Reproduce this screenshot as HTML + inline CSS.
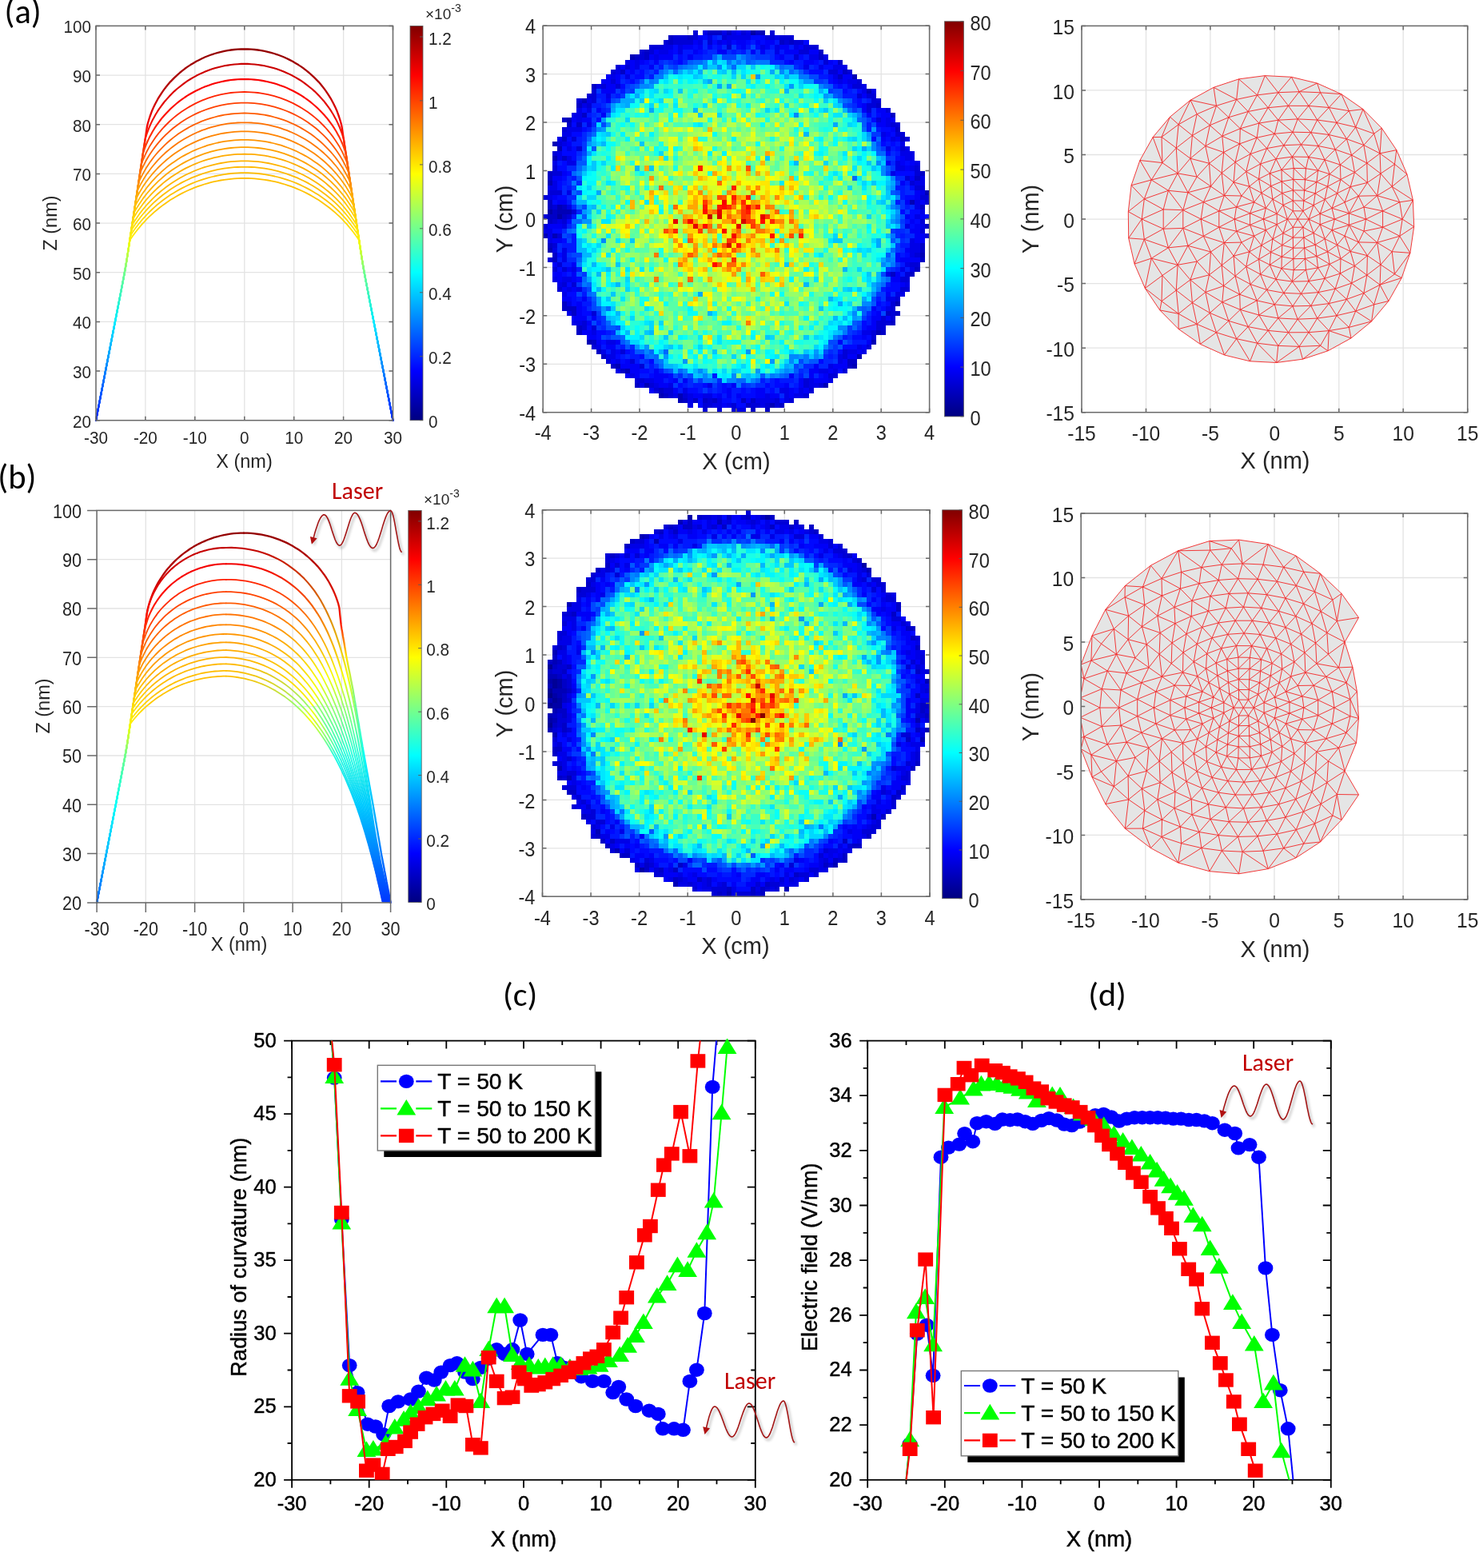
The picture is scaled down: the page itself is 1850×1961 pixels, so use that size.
<!DOCTYPE html>
<html><head><meta charset="utf-8"><title>Figure</title>
<style>html,body{margin:0;padding:0;background:#fff;}svg{display:block;}</style></head>
<body><svg width="1850" height="1961" viewBox="0 0 1850 1961">
<defs><linearGradient id="ga0L" gradientUnits="userSpaceOnUse" x1="0" y1="525.7" x2="0" y2="61.4"><stop offset="0.0000" stop-color="#0026ff"/><stop offset="0.1328" stop-color="#0081ff"/><stop offset="0.2656" stop-color="#00ecff"/><stop offset="0.3984" stop-color="#71ff8e"/><stop offset="0.4714" stop-color="#e5ff1a"/><stop offset="0.7928" stop-color="#f70000"/><stop offset="0.8964" stop-color="#b40000"/><stop offset="1.0000" stop-color="#930000"/></linearGradient><linearGradient id="ga1L" gradientUnits="userSpaceOnUse" x1="0" y1="525.7" x2="0" y2="79.9"><stop offset="0.0000" stop-color="#0026ff"/><stop offset="0.1383" stop-color="#0081ff"/><stop offset="0.2766" stop-color="#00ecff"/><stop offset="0.4149" stop-color="#71ff8e"/><stop offset="0.4910" stop-color="#e5ff1a"/><stop offset="0.7890" stop-color="#ff1e00"/><stop offset="0.8945" stop-color="#e20000"/><stop offset="1.0000" stop-color="#c80000"/></linearGradient><linearGradient id="ga2L" gradientUnits="userSpaceOnUse" x1="0" y1="525.7" x2="0" y2="99"><stop offset="0.0000" stop-color="#0026ff"/><stop offset="0.1445" stop-color="#0081ff"/><stop offset="0.2890" stop-color="#00ecff"/><stop offset="0.4335" stop-color="#71ff8e"/><stop offset="0.5130" stop-color="#e5ff1a"/><stop offset="0.7847" stop-color="#ff4400"/><stop offset="0.8923" stop-color="#ff0f00"/><stop offset="1.0000" stop-color="#fa0000"/></linearGradient><linearGradient id="ga3L" gradientUnits="userSpaceOnUse" x1="0" y1="525.7" x2="0" y2="115"><stop offset="0.0000" stop-color="#0026ff"/><stop offset="0.1502" stop-color="#0081ff"/><stop offset="0.3003" stop-color="#00ecff"/><stop offset="0.4505" stop-color="#71ff8e"/><stop offset="0.5330" stop-color="#e5ff1a"/><stop offset="0.7807" stop-color="#ff6300"/><stop offset="0.8904" stop-color="#ff3200"/><stop offset="1.0000" stop-color="#ff2200"/></linearGradient><linearGradient id="ga4L" gradientUnits="userSpaceOnUse" x1="0" y1="525.7" x2="0" y2="128.6"><stop offset="0.0000" stop-color="#0026ff"/><stop offset="0.1553" stop-color="#0081ff"/><stop offset="0.3106" stop-color="#00ecff"/><stop offset="0.4658" stop-color="#71ff8e"/><stop offset="0.5512" stop-color="#e5ff1a"/><stop offset="0.7771" stop-color="#ff7b00"/><stop offset="0.8886" stop-color="#ff4d00"/><stop offset="1.0000" stop-color="#ff4000"/></linearGradient><linearGradient id="ga5L" gradientUnits="userSpaceOnUse" x1="0" y1="525.7" x2="0" y2="141.5"><stop offset="0.0000" stop-color="#0026ff"/><stop offset="0.1605" stop-color="#0081ff"/><stop offset="0.3210" stop-color="#00ecff"/><stop offset="0.4815" stop-color="#71ff8e"/><stop offset="0.5698" stop-color="#e5ff1a"/><stop offset="0.7735" stop-color="#ff9100"/><stop offset="0.8867" stop-color="#ff6500"/><stop offset="1.0000" stop-color="#ff5b00"/></linearGradient><linearGradient id="ga6L" gradientUnits="userSpaceOnUse" x1="0" y1="525.7" x2="0" y2="153.3"><stop offset="0.0000" stop-color="#0026ff"/><stop offset="0.1656" stop-color="#0081ff"/><stop offset="0.3311" stop-color="#00ecff"/><stop offset="0.4967" stop-color="#71ff8e"/><stop offset="0.5877" stop-color="#e5ff1a"/><stop offset="0.7700" stop-color="#ffa300"/><stop offset="0.8850" stop-color="#ff7900"/><stop offset="1.0000" stop-color="#ff7000"/></linearGradient><linearGradient id="ga7L" gradientUnits="userSpaceOnUse" x1="0" y1="525.7" x2="0" y2="164.4"><stop offset="0.0000" stop-color="#0026ff"/><stop offset="0.1706" stop-color="#0081ff"/><stop offset="0.3413" stop-color="#00ecff"/><stop offset="0.5119" stop-color="#71ff8e"/><stop offset="0.6058" stop-color="#e5ff1a"/><stop offset="0.7664" stop-color="#ffb400"/><stop offset="0.8832" stop-color="#ff8b00"/><stop offset="1.0000" stop-color="#ff8300"/></linearGradient><linearGradient id="ga8L" gradientUnits="userSpaceOnUse" x1="0" y1="525.7" x2="0" y2="174.8"><stop offset="0.0000" stop-color="#0026ff"/><stop offset="0.1757" stop-color="#0081ff"/><stop offset="0.3515" stop-color="#00ecff"/><stop offset="0.5272" stop-color="#71ff8e"/><stop offset="0.6239" stop-color="#e5ff1a"/><stop offset="0.7629" stop-color="#ffc200"/><stop offset="0.8814" stop-color="#ff9a00"/><stop offset="1.0000" stop-color="#ff9300"/></linearGradient><linearGradient id="ga9L" gradientUnits="userSpaceOnUse" x1="0" y1="525.7" x2="0" y2="184.1"><stop offset="0.0000" stop-color="#0026ff"/><stop offset="0.1805" stop-color="#0081ff"/><stop offset="0.3610" stop-color="#00ecff"/><stop offset="0.5415" stop-color="#71ff8e"/><stop offset="0.6408" stop-color="#e5ff1a"/><stop offset="0.7595" stop-color="#ffce00"/><stop offset="0.8798" stop-color="#ffa600"/><stop offset="1.0000" stop-color="#ff9f00"/></linearGradient><linearGradient id="ga10L" gradientUnits="userSpaceOnUse" x1="0" y1="525.7" x2="0" y2="192.7"><stop offset="0.0000" stop-color="#0026ff"/><stop offset="0.1852" stop-color="#0081ff"/><stop offset="0.3704" stop-color="#00ecff"/><stop offset="0.5556" stop-color="#71ff8e"/><stop offset="0.6574" stop-color="#e5ff1a"/><stop offset="0.7563" stop-color="#ffd800"/><stop offset="0.8781" stop-color="#ffb000"/><stop offset="1.0000" stop-color="#ffaa00"/></linearGradient><linearGradient id="ga11L" gradientUnits="userSpaceOnUse" x1="0" y1="525.7" x2="0" y2="201.4"><stop offset="0.0000" stop-color="#0026ff"/><stop offset="0.1901" stop-color="#0081ff"/><stop offset="0.3802" stop-color="#00ecff"/><stop offset="0.5703" stop-color="#71ff8e"/><stop offset="0.6749" stop-color="#e5ff1a"/><stop offset="0.7528" stop-color="#ffe100"/><stop offset="0.8764" stop-color="#ffb900"/><stop offset="1.0000" stop-color="#ffb200"/></linearGradient><linearGradient id="ga12L" gradientUnits="userSpaceOnUse" x1="0" y1="525.7" x2="0" y2="208.8"><stop offset="0.0000" stop-color="#0026ff"/><stop offset="0.1946" stop-color="#0081ff"/><stop offset="0.3891" stop-color="#00ecff"/><stop offset="0.5837" stop-color="#71ff8e"/><stop offset="0.6907" stop-color="#e5ff1a"/><stop offset="0.7497" stop-color="#ffe700"/><stop offset="0.8749" stop-color="#ffbf00"/><stop offset="1.0000" stop-color="#ffb800"/></linearGradient><linearGradient id="ga13L" gradientUnits="userSpaceOnUse" x1="0" y1="525.7" x2="0" y2="216.2"><stop offset="0.0000" stop-color="#0026ff"/><stop offset="0.1992" stop-color="#0081ff"/><stop offset="0.3984" stop-color="#00ecff"/><stop offset="0.5976" stop-color="#71ff8e"/><stop offset="0.7072" stop-color="#e5ff1a"/><stop offset="0.7465" stop-color="#ffed00"/><stop offset="0.8732" stop-color="#ffc400"/><stop offset="1.0000" stop-color="#ffbc00"/></linearGradient><linearGradient id="ga14L" gradientUnits="userSpaceOnUse" x1="0" y1="525.7" x2="0" y2="222.9"><stop offset="0.0000" stop-color="#0026ff"/><stop offset="0.2037" stop-color="#0081ff"/><stop offset="0.4073" stop-color="#00ecff"/><stop offset="0.6110" stop-color="#71ff8e"/><stop offset="0.7230" stop-color="#e5ff1a"/><stop offset="0.7434" stop-color="#fff000"/><stop offset="0.8717" stop-color="#ffc600"/><stop offset="1.0000" stop-color="#ffbe00"/></linearGradient><linearGradient id="cbA" x1="0" y1="1" x2="0" y2="0"><stop offset="0%" stop-color="#000080"/><stop offset="12.5%" stop-color="#0000ff"/><stop offset="25%" stop-color="#0080ff"/><stop offset="37.5%" stop-color="#00ffff"/><stop offset="50%" stop-color="#80ff80"/><stop offset="62.5%" stop-color="#ffff00"/><stop offset="75%" stop-color="#ff8000"/><stop offset="87.5%" stop-color="#ff0000"/><stop offset="100%" stop-color="#800000"/></linearGradient><linearGradient id="gb0L" gradientUnits="userSpaceOnUse" x1="0" y1="1128.9" x2="0" y2="666.6"><stop offset="0.0000" stop-color="#0068ff"/><stop offset="0.1326" stop-color="#00bbff"/><stop offset="0.2653" stop-color="#06fff9"/><stop offset="0.3979" stop-color="#71ff8e"/><stop offset="0.4708" stop-color="#e5ff1a"/><stop offset="0.7918" stop-color="#f70000"/><stop offset="0.8959" stop-color="#b40000"/><stop offset="1.0000" stop-color="#930000"/></linearGradient><linearGradient id="gb0R" gradientUnits="userSpaceOnUse" x1="0" y1="1128.9" x2="0" y2="666.6"><stop offset="0.0000" stop-color="#0036ff"/><stop offset="0.1326" stop-color="#0078ff"/><stop offset="0.2653" stop-color="#00bbff"/><stop offset="0.3979" stop-color="#00fdff"/><stop offset="0.5305" stop-color="#61ff9e"/><stop offset="0.6631" stop-color="#ffe700"/><stop offset="0.7560" stop-color="#ff1900"/><stop offset="1.0000" stop-color="#930000"/></linearGradient><linearGradient id="gb1L" gradientUnits="userSpaceOnUse" x1="0" y1="1128.9" x2="0" y2="685"><stop offset="0.0000" stop-color="#0068ff"/><stop offset="0.1381" stop-color="#00bbff"/><stop offset="0.2762" stop-color="#06fff9"/><stop offset="0.4144" stop-color="#71ff8e"/><stop offset="0.4903" stop-color="#e5ff1a"/><stop offset="0.7917" stop-color="#ff1a00"/><stop offset="0.8958" stop-color="#de0000"/><stop offset="1.0000" stop-color="#c30000"/></linearGradient><linearGradient id="gb1R" gradientUnits="userSpaceOnUse" x1="0" y1="1128.9" x2="0" y2="685"><stop offset="0.0000" stop-color="#0036ff"/><stop offset="0.1381" stop-color="#0081ff"/><stop offset="0.2762" stop-color="#00cbff"/><stop offset="0.4144" stop-color="#1fffe0"/><stop offset="0.5525" stop-color="#93ff6c"/><stop offset="0.6354" stop-color="#f6ff09"/><stop offset="1.0000" stop-color="#c30000"/></linearGradient><linearGradient id="gb2L" gradientUnits="userSpaceOnUse" x1="0" y1="1128.9" x2="0" y2="705.2"><stop offset="0.0000" stop-color="#0068ff"/><stop offset="0.1447" stop-color="#00bbff"/><stop offset="0.2894" stop-color="#06fff9"/><stop offset="0.4342" stop-color="#71ff8e"/><stop offset="0.5137" stop-color="#e5ff1a"/><stop offset="0.7915" stop-color="#ff3f00"/><stop offset="0.8958" stop-color="#ff0900"/><stop offset="1.0000" stop-color="#f30000"/></linearGradient><linearGradient id="gb2R" gradientUnits="userSpaceOnUse" x1="0" y1="1128.9" x2="0" y2="705.2"><stop offset="0.0000" stop-color="#0036ff"/><stop offset="0.1447" stop-color="#0081ff"/><stop offset="0.2894" stop-color="#00cbff"/><stop offset="0.4342" stop-color="#1fffe0"/><stop offset="0.5789" stop-color="#93ff6c"/><stop offset="0.6657" stop-color="#f6ff09"/><stop offset="1.0000" stop-color="#f30000"/></linearGradient><linearGradient id="gb3L" gradientUnits="userSpaceOnUse" x1="0" y1="1128.9" x2="0" y2="724.9"><stop offset="0.0000" stop-color="#0068ff"/><stop offset="0.1517" stop-color="#00bbff"/><stop offset="0.3035" stop-color="#06fff9"/><stop offset="0.4552" stop-color="#71ff8e"/><stop offset="0.5387" stop-color="#e5ff1a"/><stop offset="0.7914" stop-color="#ff6100"/><stop offset="0.8957" stop-color="#ff2f00"/><stop offset="1.0000" stop-color="#ff1f00"/></linearGradient><linearGradient id="gb3R" gradientUnits="userSpaceOnUse" x1="0" y1="1128.9" x2="0" y2="724.9"><stop offset="0.0000" stop-color="#0036ff"/><stop offset="0.1517" stop-color="#0081ff"/><stop offset="0.3035" stop-color="#00cbff"/><stop offset="0.4552" stop-color="#1fffe0"/><stop offset="0.6070" stop-color="#93ff6c"/><stop offset="0.6980" stop-color="#f6ff09"/><stop offset="1.0000" stop-color="#ff1f00"/></linearGradient><linearGradient id="gb4L" gradientUnits="userSpaceOnUse" x1="0" y1="1128.9" x2="0" y2="740.2"><stop offset="0.0000" stop-color="#0068ff"/><stop offset="0.1577" stop-color="#00bbff"/><stop offset="0.3155" stop-color="#06fff9"/><stop offset="0.4732" stop-color="#71ff8e"/><stop offset="0.5599" stop-color="#e5ff1a"/><stop offset="0.7913" stop-color="#ff7900"/><stop offset="0.8956" stop-color="#ff4b00"/><stop offset="1.0000" stop-color="#ff3e00"/></linearGradient><linearGradient id="gb4R" gradientUnits="userSpaceOnUse" x1="0" y1="1128.9" x2="0" y2="740.2"><stop offset="0.0000" stop-color="#0036ff"/><stop offset="0.1577" stop-color="#0081ff"/><stop offset="0.3155" stop-color="#00cbff"/><stop offset="0.4732" stop-color="#1fffe0"/><stop offset="0.6309" stop-color="#93ff6c"/><stop offset="0.7256" stop-color="#f6ff09"/><stop offset="1.0000" stop-color="#ff3e00"/></linearGradient><linearGradient id="gb5L" gradientUnits="userSpaceOnUse" x1="0" y1="1128.9" x2="0" y2="754.3"><stop offset="0.0000" stop-color="#0068ff"/><stop offset="0.1637" stop-color="#00bbff"/><stop offset="0.3273" stop-color="#06fff9"/><stop offset="0.4910" stop-color="#71ff8e"/><stop offset="0.5810" stop-color="#e5ff1a"/><stop offset="0.7911" stop-color="#ff8f00"/><stop offset="0.8956" stop-color="#ff6300"/><stop offset="1.0000" stop-color="#ff5800"/></linearGradient><linearGradient id="gb5R" gradientUnits="userSpaceOnUse" x1="0" y1="1128.9" x2="0" y2="754.3"><stop offset="0.0000" stop-color="#0036ff"/><stop offset="0.1637" stop-color="#0081ff"/><stop offset="0.3273" stop-color="#00cbff"/><stop offset="0.4910" stop-color="#1fffe0"/><stop offset="0.6547" stop-color="#93ff6c"/><stop offset="0.7529" stop-color="#f6ff09"/><stop offset="1.0000" stop-color="#ff5800"/></linearGradient><linearGradient id="gb6L" gradientUnits="userSpaceOnUse" x1="0" y1="1128.9" x2="0" y2="768.4"><stop offset="0.0000" stop-color="#0068ff"/><stop offset="0.1701" stop-color="#00bbff"/><stop offset="0.3401" stop-color="#06fff9"/><stop offset="0.5102" stop-color="#71ff8e"/><stop offset="0.6037" stop-color="#e5ff1a"/><stop offset="0.7910" stop-color="#ffa300"/><stop offset="0.8955" stop-color="#ff7900"/><stop offset="1.0000" stop-color="#ff7000"/></linearGradient><linearGradient id="gb6R" gradientUnits="userSpaceOnUse" x1="0" y1="1128.9" x2="0" y2="768.4"><stop offset="0.0000" stop-color="#0036ff"/><stop offset="0.1701" stop-color="#0081ff"/><stop offset="0.3401" stop-color="#00cbff"/><stop offset="0.5102" stop-color="#1fffe0"/><stop offset="0.6803" stop-color="#93ff6c"/><stop offset="0.7823" stop-color="#f6ff09"/><stop offset="1.0000" stop-color="#ff7000"/></linearGradient><linearGradient id="gb7L" gradientUnits="userSpaceOnUse" x1="0" y1="1128.9" x2="0" y2="781.3"><stop offset="0.0000" stop-color="#0068ff"/><stop offset="0.1764" stop-color="#00bbff"/><stop offset="0.3527" stop-color="#06fff9"/><stop offset="0.5291" stop-color="#71ff8e"/><stop offset="0.6261" stop-color="#e5ff1a"/><stop offset="0.7909" stop-color="#ffb400"/><stop offset="0.8954" stop-color="#ff8c00"/><stop offset="1.0000" stop-color="#ff8400"/></linearGradient><linearGradient id="gb7R" gradientUnits="userSpaceOnUse" x1="0" y1="1128.9" x2="0" y2="781.3"><stop offset="0.0000" stop-color="#0036ff"/><stop offset="0.1764" stop-color="#0081ff"/><stop offset="0.3527" stop-color="#00cbff"/><stop offset="0.5291" stop-color="#1fffe0"/><stop offset="0.7055" stop-color="#93ff6c"/><stop offset="0.7956" stop-color="#f6ff09"/><stop offset="1.0000" stop-color="#ff8400"/></linearGradient><linearGradient id="gb8L" gradientUnits="userSpaceOnUse" x1="0" y1="1128.9" x2="0" y2="792.9"><stop offset="0.0000" stop-color="#0068ff"/><stop offset="0.1825" stop-color="#00bbff"/><stop offset="0.3650" stop-color="#06fff9"/><stop offset="0.5474" stop-color="#71ff8e"/><stop offset="0.6478" stop-color="#e5ff1a"/><stop offset="0.7907" stop-color="#ffc300"/><stop offset="0.8954" stop-color="#ff9b00"/><stop offset="1.0000" stop-color="#ff9400"/></linearGradient><linearGradient id="gb8R" gradientUnits="userSpaceOnUse" x1="0" y1="1128.9" x2="0" y2="792.9"><stop offset="0.0000" stop-color="#0036ff"/><stop offset="0.1825" stop-color="#0081ff"/><stop offset="0.3650" stop-color="#00cbff"/><stop offset="0.5474" stop-color="#1fffe0"/><stop offset="0.7299" stop-color="#93ff6c"/><stop offset="0.7974" stop-color="#f6ff09"/><stop offset="1.0000" stop-color="#ff9400"/></linearGradient><linearGradient id="gb9L" gradientUnits="userSpaceOnUse" x1="0" y1="1128.9" x2="0" y2="803.3"><stop offset="0.0000" stop-color="#0068ff"/><stop offset="0.1883" stop-color="#00bbff"/><stop offset="0.3766" stop-color="#06fff9"/><stop offset="0.5650" stop-color="#71ff8e"/><stop offset="0.6685" stop-color="#e5ff1a"/><stop offset="0.7906" stop-color="#ffcf00"/><stop offset="0.8953" stop-color="#ffa700"/><stop offset="1.0000" stop-color="#ffa000"/></linearGradient><linearGradient id="gb9R" gradientUnits="userSpaceOnUse" x1="0" y1="1128.9" x2="0" y2="803.3"><stop offset="0.0000" stop-color="#0036ff"/><stop offset="0.1883" stop-color="#0081ff"/><stop offset="0.3766" stop-color="#00cbff"/><stop offset="0.5650" stop-color="#1fffe0"/><stop offset="0.7533" stop-color="#93ff6c"/><stop offset="0.7992" stop-color="#f6ff09"/><stop offset="1.0000" stop-color="#ffa000"/></linearGradient><linearGradient id="gb10L" gradientUnits="userSpaceOnUse" x1="0" y1="1128.9" x2="0" y2="813.1"><stop offset="0.0000" stop-color="#0068ff"/><stop offset="0.1942" stop-color="#00bbff"/><stop offset="0.3883" stop-color="#06fff9"/><stop offset="0.5825" stop-color="#71ff8e"/><stop offset="0.6893" stop-color="#e5ff1a"/><stop offset="0.7905" stop-color="#ffd900"/><stop offset="0.8953" stop-color="#ffb100"/><stop offset="1.0000" stop-color="#ffab00"/></linearGradient><linearGradient id="gb10R" gradientUnits="userSpaceOnUse" x1="0" y1="1128.9" x2="0" y2="813.1"><stop offset="0.0000" stop-color="#0036ff"/><stop offset="0.1942" stop-color="#0081ff"/><stop offset="0.3883" stop-color="#00cbff"/><stop offset="0.5825" stop-color="#1fffe0"/><stop offset="0.7767" stop-color="#93ff6c"/><stop offset="0.8009" stop-color="#f6ff09"/><stop offset="1.0000" stop-color="#ffab00"/></linearGradient><linearGradient id="gb11L" gradientUnits="userSpaceOnUse" x1="0" y1="1128.9" x2="0" y2="822"><stop offset="0.0000" stop-color="#0068ff"/><stop offset="0.1998" stop-color="#00bbff"/><stop offset="0.3996" stop-color="#06fff9"/><stop offset="0.5994" stop-color="#71ff8e"/><stop offset="0.7093" stop-color="#e5ff1a"/><stop offset="0.7904" stop-color="#ffe100"/><stop offset="0.8952" stop-color="#ffb900"/><stop offset="1.0000" stop-color="#ffb200"/></linearGradient><linearGradient id="gb11R" gradientUnits="userSpaceOnUse" x1="0" y1="1128.9" x2="0" y2="822"><stop offset="0.0000" stop-color="#0036ff"/><stop offset="0.1998" stop-color="#0081ff"/><stop offset="0.3996" stop-color="#00cbff"/><stop offset="0.5994" stop-color="#1fffe0"/><stop offset="0.7992" stop-color="#93ff6c"/><stop offset="0.8026" stop-color="#f6ff09"/><stop offset="1.0000" stop-color="#ffb200"/></linearGradient><linearGradient id="gb12L" gradientUnits="userSpaceOnUse" x1="0" y1="1128.9" x2="0" y2="830.3"><stop offset="0.0000" stop-color="#0068ff"/><stop offset="0.2053" stop-color="#00bbff"/><stop offset="0.4107" stop-color="#06fff9"/><stop offset="0.6160" stop-color="#71ff8e"/><stop offset="0.7290" stop-color="#e5ff1a"/><stop offset="0.7903" stop-color="#ffe800"/><stop offset="0.8951" stop-color="#ffbf00"/><stop offset="1.0000" stop-color="#ffb800"/></linearGradient><linearGradient id="gb12R" gradientUnits="userSpaceOnUse" x1="0" y1="1128.9" x2="0" y2="830.3"><stop offset="0.0000" stop-color="#0036ff"/><stop offset="0.2053" stop-color="#0081ff"/><stop offset="0.4107" stop-color="#00cbff"/><stop offset="0.6160" stop-color="#1fffe0"/><stop offset="0.8043" stop-color="#f6ff09"/><stop offset="0.8214" stop-color="#93ff6c"/><stop offset="1.0000" stop-color="#ffb800"/></linearGradient><linearGradient id="gb13L" gradientUnits="userSpaceOnUse" x1="0" y1="1128.9" x2="0" y2="838.9"><stop offset="0.0000" stop-color="#0068ff"/><stop offset="0.2114" stop-color="#00bbff"/><stop offset="0.4228" stop-color="#06fff9"/><stop offset="0.6342" stop-color="#71ff8e"/><stop offset="0.7505" stop-color="#e5ff1a"/><stop offset="0.7901" stop-color="#ffed00"/><stop offset="0.8951" stop-color="#ffc400"/><stop offset="1.0000" stop-color="#ffbc00"/></linearGradient><linearGradient id="gb13R" gradientUnits="userSpaceOnUse" x1="0" y1="1128.9" x2="0" y2="838.9"><stop offset="0.0000" stop-color="#0036ff"/><stop offset="0.2114" stop-color="#0081ff"/><stop offset="0.4228" stop-color="#00cbff"/><stop offset="0.6342" stop-color="#1fffe0"/><stop offset="0.8061" stop-color="#f6ff09"/><stop offset="0.8457" stop-color="#93ff6c"/><stop offset="1.0000" stop-color="#ffbc00"/></linearGradient><linearGradient id="gb14L" gradientUnits="userSpaceOnUse" x1="0" y1="1128.9" x2="0" y2="845.6"><stop offset="0.0000" stop-color="#0068ff"/><stop offset="0.2165" stop-color="#00bbff"/><stop offset="0.4329" stop-color="#06fff9"/><stop offset="0.6494" stop-color="#71ff8e"/><stop offset="0.7684" stop-color="#e5ff1a"/><stop offset="0.7900" stop-color="#fff000"/><stop offset="0.8950" stop-color="#ffc600"/><stop offset="1.0000" stop-color="#ffbe00"/></linearGradient><linearGradient id="gb14R" gradientUnits="userSpaceOnUse" x1="0" y1="1128.9" x2="0" y2="845.6"><stop offset="0.0000" stop-color="#0036ff"/><stop offset="0.2165" stop-color="#0081ff"/><stop offset="0.4329" stop-color="#00cbff"/><stop offset="0.6494" stop-color="#1fffe0"/><stop offset="0.8077" stop-color="#f6ff09"/><stop offset="0.8658" stop-color="#93ff6c"/><stop offset="1.0000" stop-color="#ffbe00"/></linearGradient><linearGradient id="cbB" x1="0" y1="1" x2="0" y2="0"><stop offset="0%" stop-color="#000080"/><stop offset="12.5%" stop-color="#0000ff"/><stop offset="25%" stop-color="#0080ff"/><stop offset="37.5%" stop-color="#00ffff"/><stop offset="50%" stop-color="#80ff80"/><stop offset="62.5%" stop-color="#ffff00"/><stop offset="75%" stop-color="#ff8000"/><stop offset="87.5%" stop-color="#ff0000"/><stop offset="100%" stop-color="#800000"/></linearGradient><linearGradient id="cbHA" x1="0" y1="1" x2="0" y2="0"><stop offset="0%" stop-color="#000080"/><stop offset="12.5%" stop-color="#0000ff"/><stop offset="25%" stop-color="#0080ff"/><stop offset="37.5%" stop-color="#00ffff"/><stop offset="50%" stop-color="#80ff80"/><stop offset="62.5%" stop-color="#ffff00"/><stop offset="75%" stop-color="#ff8000"/><stop offset="87.5%" stop-color="#ff0000"/><stop offset="100%" stop-color="#800000"/></linearGradient><linearGradient id="cbHB" x1="0" y1="1" x2="0" y2="0"><stop offset="0%" stop-color="#000080"/><stop offset="12.5%" stop-color="#0000ff"/><stop offset="25%" stop-color="#0080ff"/><stop offset="37.5%" stop-color="#00ffff"/><stop offset="50%" stop-color="#80ff80"/><stop offset="62.5%" stop-color="#ffff00"/><stop offset="75%" stop-color="#ff8000"/><stop offset="87.5%" stop-color="#ff0000"/><stop offset="100%" stop-color="#800000"/></linearGradient><clipPath id="clipMA"><rect x="1353" y="32.4" width="482.7" height="483.3"/></clipPath><clipPath id="clipMB"><rect x="1352.2" y="642" width="483.5" height="482.9"/></clipPath><filter id="blur2" x="-10%" y="-10%" width="120%" height="120%"><feGaussianBlur stdDeviation="1.5"/></filter><clipPath id="clipC"><rect x="365.1" y="1301.6" width="579.7" height="549.2"/></clipPath><clipPath id="clipCm"><rect x="353.1" y="1289.6" width="603.7" height="561.2"/></clipPath><clipPath id="clipD"><rect x="1085.2" y="1301.6" width="579.6" height="549.2"/></clipPath><clipPath id="clipDm"><rect x="1085.2" y="1289.6" width="579.6" height="561.2"/></clipPath></defs>
<rect width="100%" height="100%" fill="#fff"/>
<text x="28.6" y="29" font-size="42.5" text-anchor="middle" fill="#000" font-family="Carlito, 'Liberation Sans', sans-serif">(a)</text>
<text x="21.4" y="611" font-size="42.5" text-anchor="middle" fill="#000" font-family="Carlito, 'Liberation Sans', sans-serif">(b)</text>
<path d="M120 32.4V525.7M181.9 32.4V525.7M243.8 32.4V525.7M305.8 32.4V525.7M367.7 32.4V525.7M429.6 32.4V525.7M491.5 32.4V525.7M120 525.7H491.5M120 464H491.5M120 402.4H491.5M120 340.7H491.5M120 279.1H491.5M120 217.4H491.5M120 155.7H491.5M120 94.1H491.5M120 32.4H491.5" stroke="#e3e3e3" stroke-width="1.3" fill="none"/>
<path d="M120,525.7 126.5,492.2 133,458.8 139.5,425.3 146,391.8 152.5,358.4 158.6,324.9 163.7,291.4 168.8,258 173.9,224.5 179,191 184.1,157.6 185.1,153.5 186.3,149.5 187.6,145.5 189,141.6 190.5,137.7 192.2,133.9 194,130.2 196,126.5 198,122.8 200.2,119.3 202.5,115.8 204.9,112.4 207.5,109 210.1,105.8 212.8,102.6 215.7,99.6 218.7,96.6 221.7,93.8 224.9,91 228.1,88.4 231.4,85.8 234.8,83.4 238.3,81.1 241.9,78.9 245.5,76.8 249.2,74.9 253,73 256.8,71.3 260.7,69.8 264.6,68.3 268.6,67 272.6,65.8 276.7,64.8 280.8,63.9 284.9,63.1 289,62.5 293.2,62 297.4,61.7 301.6,61.5 305.8,61.4 309.9,61.5 314.1,61.7 318.3,62 322.5,62.5 326.6,63.1 330.7,63.9 334.8,64.8 338.9,65.8 342.9,67 346.9,68.3 350.8,69.8 354.7,71.3 358.5,73 362.3,74.9 366,76.8 369.6,78.9 373.2,81.1 376.7,83.4 380.1,85.8 383.4,88.4 386.6,91 389.8,93.8 392.8,96.6 395.8,99.6 398.7,102.6 401.4,105.8 404,109 406.6,112.4 409,115.8 411.3,119.3 413.5,122.8 415.5,126.5 417.5,130.2 419.3,133.9 421,137.7 422.5,141.6 423.9,145.5 425.2,149.5 426.4,153.5 427.4,157.6 432.5,191 437.6,224.5 442.7,258 447.8,291.4 452.9,324.9 459,358.4 465.5,391.8 472,425.3 478.5,458.8 485,492.2 491.5,525.7" fill="none" stroke="url(#ga0L)" stroke-width="2.3" stroke-linejoin="round" stroke-linecap="round"/>
<path d="M120,525.7 126.2,493.7 132.4,461.7 138.6,429.8 144.9,397.8 151.1,365.8 157.3,333.8 162.1,301.9 167,269.9 171.9,237.9 176.7,205.9 181.6,174 182.8,170 184.1,166 185.6,162.1 187.1,158.2 188.8,154.4 190.6,150.6 192.6,146.9 194.6,143.3 196.8,139.7 199.1,136.2 201.5,132.8 204,129.5 206.6,126.2 209.4,123.1 212.2,120 215.1,117 218.1,114.1 221.3,111.3 224.5,108.7 227.8,106.1 231.1,103.6 234.6,101.2 238.1,99 241.7,96.9 245.4,94.8 249.1,92.9 252.9,91.2 256.7,89.5 260.6,88 264.6,86.6 268.6,85.3 272.6,84.2 276.7,83.2 280.8,82.3 284.9,81.6 289,81 293.2,80.5 297.4,80.2 301.6,79.9 305.8,79.9 309.9,79.9 314.1,80.2 318.3,80.5 322.5,81 326.6,81.6 330.7,82.3 334.8,83.2 338.9,84.2 342.9,85.3 346.9,86.6 350.9,88 354.8,89.5 358.6,91.2 362.4,92.9 366.1,94.8 369.8,96.9 373.4,99 376.9,101.2 380.4,103.6 383.7,106.1 387,108.7 390.2,111.3 393.4,114.1 396.4,117 399.3,120 402.1,123.1 404.9,126.2 407.5,129.5 410,132.8 412.4,136.2 414.7,139.7 416.9,143.3 418.9,146.9 420.9,150.6 422.7,154.4 424.4,158.2 425.9,162.1 427.4,166 428.7,170 429.9,174 434.8,205.9 439.6,237.9 444.5,269.9 449.4,301.9 454.2,333.8 460.4,365.8 466.6,397.8 472.9,429.8 479.1,461.7 485.3,493.7 491.5,525.7" fill="none" stroke="url(#ga1L)" stroke-width="2.1" stroke-linejoin="round" stroke-linecap="round"/>
<path d="M120,525.7 125.9,495.3 131.8,464.8 137.7,434.4 143.7,403.9 149.6,373.5 155.5,343.1 160.5,312.6 165.1,282.2 169.8,251.8 174.4,221.3 179,190.9 180.4,186.9 181.9,183 183.5,179.2 185.2,175.4 187,171.6 189,167.9 191,164.3 193.2,160.7 195.5,157.2 197.9,153.8 200.4,150.5 203,147.2 205.8,144 208.6,141 211.5,138 214.5,135 217.6,132.2 220.8,129.5 224,126.9 227.4,124.4 230.8,122 234.3,119.7 237.9,117.5 241.5,115.5 245.2,113.5 249,111.7 252.8,109.9 256.7,108.3 260.6,106.9 264.5,105.5 268.5,104.3 272.6,103.2 276.7,102.2 280.8,101.4 284.9,100.6 289,100 293.2,99.6 297.4,99.3 301.6,99.1 305.8,99 309.9,99.1 314.1,99.3 318.3,99.6 322.5,100 326.6,100.6 330.7,101.4 334.8,102.2 338.9,103.2 343,104.3 347,105.5 350.9,106.9 354.8,108.3 358.7,109.9 362.5,111.7 366.3,113.5 370,115.5 373.6,117.5 377.2,119.7 380.7,122 384.1,124.4 387.5,126.9 390.7,129.5 393.9,132.2 397,135 400,138 402.9,141 405.7,144 408.5,147.2 411.1,150.5 413.6,153.8 416,157.2 418.3,160.7 420.5,164.3 422.5,167.9 424.5,171.6 426.3,175.4 428,179.2 429.6,183 431.1,186.9 432.5,190.9 437.1,221.3 441.7,251.8 446.4,282.2 451,312.6 456,343.1 461.9,373.5 467.8,403.9 473.8,434.4 479.7,464.8 485.6,495.3 491.5,525.7" fill="none" stroke="url(#ga2L)" stroke-width="2.1" stroke-linejoin="round" stroke-linecap="round"/>
<path d="M120,525.7 125.7,496.6 131.3,467.4 137,438.3 142.7,409.1 148.3,380 154,350.8 159.1,321.7 163.6,292.5 168,263.4 172.4,234.2 176.9,205.1 178.4,201.2 180,197.3 181.7,193.5 183.5,189.8 185.5,186.1 187.5,182.4 189.7,178.9 192,175.4 194.4,171.9 196.9,168.6 199.5,165.3 202.2,162.1 205,159 207.9,156 210.9,153 213.9,150.2 217.1,147.4 220.3,144.8 223.6,142.2 227,139.8 230.5,137.4 234,135.2 237.6,133.1 241.3,131.1 245,129.1 248.8,127.4 252.7,125.7 256.6,124.1 260.5,122.7 264.5,121.4 268.5,120.2 272.5,119.1 276.6,118.1 280.7,117.3 284.9,116.6 289,116 293.2,115.6 297.4,115.3 301.6,115.1 305.8,115 309.9,115.1 314.1,115.3 318.3,115.6 322.5,116 326.6,116.6 330.8,117.3 334.9,118.1 339,119.1 343,120.2 347,121.4 351,122.7 354.9,124.1 358.8,125.7 362.7,127.4 366.5,129.1 370.2,131.1 373.9,133.1 377.5,135.2 381,137.4 384.5,139.8 387.9,142.2 391.2,144.8 394.4,147.4 397.6,150.2 400.6,153 403.6,156 406.5,159 409.3,162.1 412,165.3 414.6,168.6 417.1,171.9 419.5,175.4 421.8,178.9 424,182.4 426,186.1 428,189.8 429.8,193.5 431.5,197.3 433.1,201.2 434.6,205.1 439.1,234.2 443.5,263.4 447.9,292.5 452.4,321.7 457.5,350.8 463.2,380 468.8,409.1 474.5,438.3 480.2,467.4 485.8,496.6 491.5,525.7" fill="none" stroke="url(#ga3L)" stroke-width="1.8" stroke-linejoin="round" stroke-linecap="round"/>
<path d="M120,525.7 125.5,497.6 130.9,469.6 136.4,441.5 141.8,413.5 147.3,385.4 152.7,357.4 157.9,329.3 162.2,301.3 166.5,273.2 170.8,245.1 175,217.1 176.6,213.2 178.4,209.4 180.2,205.7 182.1,202 184.2,198.3 186.3,194.7 188.6,191.2 191,187.8 193.5,184.4 196,181.1 198.7,177.9 201.5,174.7 204.3,171.7 207.3,168.7 210.3,165.8 213.4,163 216.6,160.3 219.9,157.7 223.3,155.2 226.7,152.8 230.2,150.5 233.8,148.3 237.4,146.2 241.1,144.3 244.9,142.4 248.7,140.6 252.6,139 256.5,137.5 260.4,136.1 264.4,134.8 268.4,133.6 272.5,132.6 276.6,131.6 280.7,130.8 284.8,130.2 289,129.6 293.2,129.2 297.4,128.8 301.6,128.7 305.8,128.6 309.9,128.7 314.1,128.8 318.3,129.2 322.5,129.6 326.7,130.2 330.8,130.8 334.9,131.6 339,132.6 343.1,133.6 347.1,134.8 351.1,136.1 355,137.5 358.9,139 362.8,140.6 366.6,142.4 370.4,144.3 374.1,146.2 377.7,148.3 381.3,150.5 384.8,152.8 388.2,155.2 391.6,157.7 394.9,160.3 398.1,163 401.2,165.8 404.2,168.7 407.2,171.7 410,174.7 412.8,177.9 415.5,181.1 418,184.4 420.5,187.8 422.9,191.2 425.2,194.7 427.3,198.3 429.4,202 431.3,205.7 433.1,209.4 434.9,213.2 436.5,217.1 440.7,245.1 445,273.2 449.3,301.3 453.6,329.3 458.8,357.4 464.2,385.4 469.7,413.5 475.1,441.5 480.6,469.6 486,497.6 491.5,525.7" fill="none" stroke="url(#ga4L)" stroke-width="1.8" stroke-linejoin="round" stroke-linecap="round"/>
<path d="M120,525.7 125.2,498.7 130.5,471.7 135.7,444.7 141,417.6 146.2,390.6 151.5,363.6 156.7,336.6 161,309.6 165.1,282.6 169.2,255.6 173.3,228.6 175,224.7 176.8,221 178.8,217.2 180.8,213.6 182.9,210 185.2,206.5 187.5,203 190,199.6 192.5,196.3 195.2,193 197.9,189.9 200.8,186.8 203.7,183.8 206.7,180.8 209.8,178 213,175.3 216.2,172.6 219.5,170.1 222.9,167.6 226.4,165.3 230,163 233.6,160.9 237.2,158.8 240.9,156.9 244.7,155 248.6,153.3 252.4,151.7 256.4,150.2 260.3,148.9 264.3,147.6 268.4,146.5 272.4,145.4 276.5,144.5 280.7,143.7 284.8,143.1 289,142.5 293.2,142.1 297.4,141.8 301.5,141.6 305.8,141.5 310,141.6 314.1,141.8 318.3,142.1 322.5,142.5 326.7,143.1 330.8,143.7 335,144.5 339.1,145.4 343.1,146.5 347.2,147.6 351.2,148.9 355.1,150.2 359.1,151.7 362.9,153.3 366.8,155 370.6,156.9 374.3,158.8 377.9,160.9 381.5,163 385.1,165.3 388.6,167.6 392,170.1 395.3,172.6 398.5,175.3 401.7,178 404.8,180.8 407.8,183.8 410.7,186.8 413.6,189.9 416.3,193 419,196.3 421.5,199.6 424,203 426.3,206.5 428.6,210 430.7,213.6 432.7,217.2 434.7,221 436.5,224.7 438.2,228.6 442.3,255.6 446.4,282.6 450.5,309.6 454.8,336.6 460,363.6 465.3,390.6 470.5,417.6 475.8,444.7 481,471.7 486.3,498.7 491.5,525.7" fill="none" stroke="url(#ga5L)" stroke-width="1.8" stroke-linejoin="round" stroke-linecap="round"/>
<path d="M120,525.7 125.1,499.6 130.1,473.6 135.2,447.5 140.3,421.4 145.3,395.4 150.4,369.3 155.5,343.2 159.8,317.1 163.8,291.1 167.7,265 171.7,238.9 173.5,235.1 175.4,231.4 177.5,227.7 179.6,224.1 181.8,220.6 184.1,217.1 186.6,213.7 189.1,210.3 191.7,207 194.4,203.8 197.2,200.7 200.1,197.7 203.1,194.7 206.1,191.8 209.3,189 212.5,186.4 215.8,183.8 219.2,181.2 222.6,178.8 226.1,176.5 229.7,174.3 233.3,172.2 237,170.2 240.8,168.3 244.6,166.5 248.4,164.8 252.3,163.2 256.3,161.8 260.2,160.4 264.3,159.2 268.3,158.1 272.4,157.1 276.5,156.2 280.6,155.4 284.8,154.7 289,154.2 293.1,153.8 297.3,153.5 301.5,153.3 305.8,153.3 310,153.3 314.2,153.5 318.4,153.8 322.5,154.2 326.7,154.7 330.9,155.4 335,156.2 339.1,157.1 343.2,158.1 347.2,159.2 351.3,160.4 355.2,161.8 359.2,163.2 363.1,164.8 366.9,166.5 370.7,168.3 374.5,170.2 378.2,172.2 381.8,174.3 385.4,176.5 388.9,178.8 392.3,181.2 395.7,183.8 399,186.4 402.2,189 405.4,191.8 408.4,194.7 411.4,197.7 414.3,200.7 417.1,203.8 419.8,207 422.4,210.3 424.9,213.7 427.4,217.1 429.7,220.6 431.9,224.1 434,227.7 436.1,231.4 438,235.1 439.8,238.9 443.8,265 447.7,291.1 451.7,317.1 456,343.2 461.1,369.3 466.2,395.4 471.2,421.4 476.3,447.5 481.4,473.6 486.4,499.6 491.5,525.7" fill="none" stroke="url(#ga6L)" stroke-width="1.8" stroke-linejoin="round" stroke-linecap="round"/>
<path d="M120,525.7 124.9,500.5 129.8,475.3 134.7,450.2 139.6,425 144.5,399.8 149.4,374.6 154.3,349.5 158.7,324.3 162.5,299.1 166.4,273.9 170.2,248.8 172.1,245 174.1,241.3 176.2,237.7 178.4,234.1 180.7,230.6 183.1,227.2 185.6,223.8 188.2,220.5 190.9,217.2 193.7,214.1 196.5,211 199.5,208 202.5,205.1 205.6,202.3 208.8,199.5 212.1,196.9 215.4,194.3 218.8,191.8 222.3,189.5 225.8,187.2 229.4,185 233.1,182.9 236.8,181 240.6,179.1 244.4,177.4 248.3,175.7 252.2,174.2 256.1,172.7 260.1,171.4 264.2,170.2 268.2,169.1 272.3,168.1 276.5,167.2 280.6,166.5 284.8,165.8 288.9,165.3 293.1,164.9 297.3,164.6 301.5,164.4 305.8,164.4 310,164.4 314.2,164.6 318.4,164.9 322.6,165.3 326.7,165.8 330.9,166.5 335,167.2 339.2,168.1 343.3,169.1 347.3,170.2 351.4,171.4 355.4,172.7 359.3,174.2 363.2,175.7 367.1,177.4 370.9,179.1 374.7,181 378.4,182.9 382.1,185 385.7,187.2 389.2,189.5 392.7,191.8 396.1,194.3 399.4,196.9 402.7,199.5 405.9,202.3 409,205.1 412,208 415,211 417.8,214.1 420.6,217.2 423.3,220.5 425.9,223.8 428.4,227.2 430.8,230.6 433.1,234.1 435.3,237.7 437.4,241.3 439.4,245 441.3,248.8 445.1,273.9 449,299.1 452.8,324.3 457.2,349.5 462.1,374.6 467,399.8 471.9,425 476.8,450.2 481.7,475.3 486.6,500.5 491.5,525.7" fill="none" stroke="url(#ga7L)" stroke-width="1.8" stroke-linejoin="round" stroke-linecap="round"/>
<path d="M120,525.7 124.7,501.4 129.5,477 134.2,452.7 138.9,428.4 143.6,404 148.4,379.7 153.1,355.4 157.7,331 161.4,306.7 165.1,282.4 168.8,258 170.8,254.3 172.9,250.7 175.1,247.1 177.3,243.6 179.7,240.1 182.2,236.7 184.7,233.3 187.4,230.1 190.1,226.9 193,223.8 195.9,220.7 198.9,217.8 202,214.9 205.1,212.1 208.3,209.4 211.6,206.8 215,204.3 218.5,201.9 222,199.5 225.5,197.3 229.2,195.1 232.9,193.1 236.6,191.2 240.4,189.3 244.2,187.6 248.1,186 252.1,184.5 256,183.1 260,181.7 264.1,180.6 268.2,179.5 272.3,178.5 276.4,177.7 280.6,176.9 284.7,176.3 288.9,175.8 293.1,175.4 297.3,175.1 301.5,174.9 305.8,174.8 310,174.9 314.2,175.1 318.4,175.4 322.6,175.8 326.8,176.3 330.9,176.9 335.1,177.7 339.2,178.5 343.3,179.5 347.4,180.6 351.5,181.7 355.5,183.1 359.4,184.5 363.4,186 367.3,187.6 371.1,189.3 374.9,191.2 378.6,193.1 382.3,195.1 386,197.3 389.5,199.5 393,201.9 396.5,204.3 399.9,206.8 403.2,209.4 406.4,212.1 409.5,214.9 412.6,217.8 415.6,220.7 418.5,223.8 421.4,226.9 424.1,230.1 426.8,233.3 429.3,236.7 431.8,240.1 434.2,243.6 436.4,247.1 438.6,250.7 440.7,254.3 442.7,258 446.4,282.4 450.1,306.7 453.8,331 458.4,355.4 463.1,379.7 467.9,404 472.6,428.4 477.3,452.7 482,477 486.8,501.4 491.5,525.7" fill="none" stroke="url(#ga8L)" stroke-width="1.8" stroke-linejoin="round" stroke-linecap="round"/>
<path d="M120,525.7 124.6,502.1 129.2,478.5 133.8,454.9 138.3,431.3 142.9,407.8 147.5,384.2 152.1,360.6 156.7,337 160.4,313.4 164,289.8 167.6,266.2 169.6,262.6 171.8,258.9 174,255.4 176.4,251.9 178.8,248.4 181.3,245.1 184,241.8 186.7,238.6 189.5,235.4 192.3,232.3 195.3,229.3 198.3,226.4 201.5,223.6 204.7,220.8 207.9,218.1 211.3,215.6 214.7,213.1 218.1,210.7 221.7,208.4 225.3,206.2 228.9,204.1 232.6,202.1 236.4,200.2 240.2,198.4 244.1,196.7 248,195.1 251.9,193.6 255.9,192.2 260,190.9 264,189.7 268.1,188.7 272.2,187.7 276.4,186.9 280.5,186.1 284.7,185.5 288.9,185 293.1,184.6 297.3,184.3 301.5,184.1 305.8,184.1 310,184.1 314.2,184.3 318.4,184.6 322.6,185 326.8,185.5 331,186.1 335.1,186.9 339.3,187.7 343.4,188.7 347.5,189.7 351.5,190.9 355.6,192.2 359.6,193.6 363.5,195.1 367.4,196.7 371.3,198.4 375.1,200.2 378.9,202.1 382.6,204.1 386.2,206.2 389.8,208.4 393.4,210.7 396.8,213.1 400.2,215.6 403.6,218.1 406.8,220.8 410,223.6 413.2,226.4 416.2,229.3 419.2,232.3 422,235.4 424.8,238.6 427.5,241.8 430.2,245.1 432.7,248.4 435.1,251.9 437.5,255.4 439.7,258.9 441.9,262.6 443.9,266.2 447.5,289.8 451.1,313.4 454.8,337 459.4,360.6 464,384.2 468.6,407.8 473.2,431.3 477.7,454.9 482.3,478.5 486.9,502.1 491.5,525.7" fill="none" stroke="url(#ga9L)" stroke-width="1.8" stroke-linejoin="round" stroke-linecap="round"/>
<path d="M120,525.7 124.4,502.8 128.9,479.9 133.3,457 137.8,434.1 142.2,411.2 146.7,388.3 151.1,365.4 155.6,342.6 159.4,319.7 162.9,296.8 166.4,273.9 168.5,270.2 170.7,266.6 173,263.1 175.5,259.7 178,256.3 180.5,252.9 183.2,249.7 186,246.5 188.8,243.3 191.7,240.3 194.8,237.3 197.8,234.5 201,231.7 204.2,228.9 207.5,226.3 210.9,223.8 214.3,221.3 217.8,218.9 221.4,216.7 225,214.5 228.7,212.4 232.4,210.4 236.2,208.6 240.1,206.8 243.9,205.1 247.9,203.5 251.8,202 255.8,200.7 259.9,199.4 263.9,198.3 268,197.2 272.2,196.3 276.3,195.4 280.5,194.7 284.7,194.1 288.9,193.6 293.1,193.2 297.3,192.9 301.5,192.8 305.8,192.7 310,192.8 314.2,192.9 318.4,193.2 322.6,193.6 326.8,194.1 331,194.7 335.2,195.4 339.3,196.3 343.5,197.2 347.6,198.3 351.6,199.4 355.7,200.7 359.7,202 363.6,203.5 367.6,205.1 371.4,206.8 375.3,208.6 379.1,210.4 382.8,212.4 386.5,214.5 390.1,216.7 393.7,218.9 397.2,221.3 400.6,223.8 404,226.3 407.3,228.9 410.5,231.7 413.7,234.5 416.7,237.3 419.8,240.3 422.7,243.3 425.5,246.5 428.3,249.7 431,252.9 433.5,256.3 436,259.7 438.5,263.1 440.8,266.6 443,270.2 445.1,273.9 448.6,296.8 452.1,319.7 455.9,342.6 460.4,365.4 464.8,388.3 469.3,411.2 473.7,434.1 478.2,457 482.6,479.9 487.1,502.8 491.5,525.7" fill="none" stroke="url(#ga10L)" stroke-width="1.8" stroke-linejoin="round" stroke-linecap="round"/>
<path d="M120,525.7 124.3,503.5 128.6,481.3 132.9,459.1 137.3,436.9 141.6,414.7 145.9,392.5 150.2,370.3 154.5,348.1 158.5,325.9 161.8,303.7 165.2,281.5 167.4,277.9 169.7,274.4 172.1,270.9 174.5,267.4 177.1,264.1 179.7,260.8 182.5,257.5 185.3,254.4 188.2,251.3 191.1,248.3 194.2,245.4 197.3,242.5 200.5,239.7 203.8,237.1 207.1,234.5 210.5,232 214,229.5 217.5,227.2 221.1,225 224.8,222.8 228.5,220.8 232.2,218.8 236,217 239.9,215.2 243.8,213.5 247.7,212 251.7,210.5 255.7,209.2 259.8,208 263.9,206.8 268,205.8 272.1,204.9 276.3,204 280.4,203.3 284.6,202.7 288.8,202.2 293.1,201.8 297.3,201.6 301.5,201.4 305.8,201.4 310,201.4 314.2,201.6 318.4,201.8 322.7,202.2 326.9,202.7 331.1,203.3 335.2,204 339.4,204.9 343.5,205.8 347.6,206.8 351.7,208 355.8,209.2 359.8,210.5 363.8,212 367.7,213.5 371.6,215.2 375.5,217 379.3,218.8 383,220.8 386.7,222.8 390.4,225 394,227.2 397.5,229.5 401,232 404.4,234.5 407.7,237.1 411,239.7 414.2,242.5 417.3,245.4 420.4,248.3 423.3,251.3 426.2,254.4 429,257.5 431.8,260.8 434.4,264.1 437,267.4 439.4,270.9 441.8,274.4 444.1,277.9 446.3,281.5 449.7,303.7 453,325.9 457,348.1 461.3,370.3 465.6,392.5 469.9,414.7 474.2,436.9 478.6,459.1 482.9,481.3 487.2,503.5 491.5,525.7" fill="none" stroke="url(#ga11L)" stroke-width="1.8" stroke-linejoin="round" stroke-linecap="round"/>
<path d="M120,525.7 124.2,504.1 128.4,482.5 132.6,460.9 136.8,439.3 141,417.7 145.2,396.1 149.4,374.5 153.6,352.9 157.6,331.3 160.9,309.7 164.2,288.1 166.5,284.5 168.8,281 171.2,277.5 173.8,274.1 176.4,270.8 179.1,267.5 181.8,264.3 184.7,261.2 187.6,258.1 190.6,255.1 193.7,252.2 196.9,249.4 200.1,246.7 203.4,244 206.8,241.5 210.2,239 213.7,236.6 217.3,234.3 220.9,232.1 224.6,229.9 228.3,227.9 232.1,226 235.9,224.2 239.7,222.4 243.7,220.8 247.6,219.3 251.6,217.8 255.6,216.5 259.7,215.3 263.8,214.1 267.9,213.1 272,212.2 276.2,211.4 280.4,210.7 284.6,210.1 288.8,209.6 293,209.2 297.3,209 301.5,208.8 305.8,208.8 310,208.8 314.2,209 318.5,209.2 322.7,209.6 326.9,210.1 331.1,210.7 335.3,211.4 339.5,212.2 343.6,213.1 347.7,214.1 351.8,215.3 355.9,216.5 359.9,217.8 363.9,219.3 367.8,220.8 371.8,222.4 375.6,224.2 379.4,226 383.2,227.9 386.9,229.9 390.6,232.1 394.2,234.3 397.8,236.6 401.3,239 404.7,241.5 408.1,244 411.4,246.7 414.6,249.4 417.8,252.2 420.9,255.1 423.9,258.1 426.8,261.2 429.7,264.3 432.4,267.5 435.1,270.8 437.7,274.1 440.3,277.5 442.7,281 445,284.5 447.3,288.1 450.6,309.7 453.9,331.3 457.9,352.9 462.1,374.5 466.3,396.1 470.5,417.7 474.7,439.3 478.9,460.9 483.1,482.5 487.3,504.1 491.5,525.7" fill="none" stroke="url(#ga12L)" stroke-width="1.8" stroke-linejoin="round" stroke-linecap="round"/>
<path d="M120,525.7 124.1,504.7 128.2,483.7 132.2,462.7 136.3,441.7 140.4,420.7 144.5,399.7 148.6,378.7 152.7,357.6 156.7,336.6 160,315.6 163.2,294.6 165.5,291.1 167.9,287.6 170.4,284.1 173,280.8 175.6,277.5 178.4,274.2 181.2,271.1 184.1,268 187.1,264.9 190.1,262 193.2,259.1 196.4,256.3 199.7,253.6 203,251 206.4,248.5 209.9,246 213.4,243.6 217,241.4 220.6,239.2 224.3,237.1 228.1,235.1 231.9,233.2 235.7,231.4 239.6,229.6 243.5,228 247.5,226.5 251.5,225.1 255.5,223.8 259.6,222.6 263.7,221.5 267.8,220.5 272,219.6 276.2,218.8 280.3,218.1 284.6,217.5 288.8,217 293,216.6 297.3,216.4 301.5,216.2 305.8,216.2 310,216.2 314.2,216.4 318.5,216.6 322.7,217 326.9,217.5 331.2,218.1 335.3,218.8 339.5,219.6 343.7,220.5 347.8,221.5 351.9,222.6 356,223.8 360,225.1 364,226.5 368,228 371.9,229.6 375.8,231.4 379.6,233.2 383.4,235.1 387.2,237.1 390.9,239.2 394.5,241.4 398.1,243.6 401.6,246 405.1,248.5 408.5,251 411.8,253.6 415.1,256.3 418.3,259.1 421.4,262 424.4,264.9 427.4,268 430.3,271.1 433.1,274.2 435.9,277.5 438.5,280.8 441.1,284.1 443.6,287.6 446,291.1 448.3,294.6 451.5,315.6 454.8,336.6 458.8,357.6 462.9,378.7 467,399.7 471.1,420.7 475.2,441.7 479.3,462.7 483.3,483.7 487.4,504.7 491.5,525.7" fill="none" stroke="url(#ga13L)" stroke-width="1.8" stroke-linejoin="round" stroke-linecap="round"/>
<path d="M120,525.7 124,505.2 128,484.8 131.9,464.3 135.9,443.9 139.9,423.4 143.9,402.9 147.8,382.5 151.8,362 155.8,341.6 159.2,321.1 162.3,300.6 164.7,297.1 167.1,293.6 169.6,290.2 172.3,286.9 175,283.6 177.7,280.4 180.6,277.3 183.5,274.2 186.5,271.2 189.6,268.3 192.8,265.4 196,262.7 199.3,260 202.7,257.4 206.1,254.9 209.6,252.4 213.1,250.1 216.7,247.9 220.4,245.7 224.1,243.6 227.9,241.6 231.7,239.8 235.5,238 239.4,236.3 243.4,234.7 247.4,233.2 251.4,231.8 255.4,230.5 259.5,229.3 263.6,228.2 267.8,227.2 271.9,226.3 276.1,225.5 280.3,224.8 284.5,224.3 288.8,223.8 293,223.4 297.2,223.1 301.5,223 305.8,222.9 310,223 314.3,223.1 318.5,223.4 322.7,223.8 327,224.3 331.2,224.8 335.4,225.5 339.6,226.3 343.7,227.2 347.9,228.2 352,229.3 356.1,230.5 360.1,231.8 364.1,233.2 368.1,234.7 372.1,236.3 376,238 379.8,239.8 383.6,241.6 387.4,243.6 391.1,245.7 394.8,247.9 398.4,250.1 401.9,252.4 405.4,254.9 408.8,257.4 412.2,260 415.5,262.7 418.7,265.4 421.9,268.3 425,271.2 428,274.2 430.9,277.3 433.8,280.4 436.5,283.6 439.2,286.9 441.9,290.2 444.4,293.6 446.8,297.1 449.2,300.6 452.3,321.1 455.7,341.6 459.7,362 463.7,382.5 467.6,402.9 471.6,423.4 475.6,443.9 479.6,464.3 483.5,484.8 487.5,505.2 491.5,525.7" fill="none" stroke="url(#ga14L)" stroke-width="1.8" stroke-linejoin="round" stroke-linecap="round"/>
<rect x="120" y="32.4" width="371.5" height="493.3" fill="none" stroke="#6a6a6a" stroke-width="1.5"/>
<path d="M120 525.7v-5M120 32.4v5M181.9 525.7v-5M181.9 32.4v5M243.8 525.7v-5M243.8 32.4v5M305.8 525.7v-5M305.8 32.4v5M367.7 525.7v-5M367.7 32.4v5M429.6 525.7v-5M429.6 32.4v5M491.5 525.7v-5M491.5 32.4v5M120 525.7h5M491.5 525.7h-5M120 464h5M491.5 464h-5M120 402.4h5M491.5 402.4h-5M120 340.7h5M491.5 340.7h-5M120 279.1h5M491.5 279.1h-5M120 217.4h5M491.5 217.4h-5M120 155.7h5M491.5 155.7h-5M120 94.1h5M491.5 94.1h-5M120 32.4h5M491.5 32.4h-5" stroke="#6a6a6a" stroke-width="1.5" fill="none"/>
<text x="0" y="0" font-size="22.3" text-anchor="middle" fill="#262626" font-family="'Liberation Sans', Arial, sans-serif" transform="translate(120 554.7) scale(0.93 1)">-30</text>
<text x="0" y="0" font-size="22.3" text-anchor="middle" fill="#262626" font-family="'Liberation Sans', Arial, sans-serif" transform="translate(181.9 554.7) scale(0.93 1)">-20</text>
<text x="0" y="0" font-size="22.3" text-anchor="middle" fill="#262626" font-family="'Liberation Sans', Arial, sans-serif" transform="translate(243.8 554.7) scale(0.93 1)">-10</text>
<text x="0" y="0" font-size="22.3" text-anchor="middle" fill="#262626" font-family="'Liberation Sans', Arial, sans-serif" transform="translate(305.8 554.7) scale(0.93 1)">0</text>
<text x="0" y="0" font-size="22.3" text-anchor="middle" fill="#262626" font-family="'Liberation Sans', Arial, sans-serif" transform="translate(367.7 554.7) scale(0.93 1)">10</text>
<text x="0" y="0" font-size="22.3" text-anchor="middle" fill="#262626" font-family="'Liberation Sans', Arial, sans-serif" transform="translate(429.6 554.7) scale(0.93 1)">20</text>
<text x="0" y="0" font-size="22.3" text-anchor="middle" fill="#262626" font-family="'Liberation Sans', Arial, sans-serif" transform="translate(491.5 554.7) scale(0.93 1)">30</text>
<text x="0" y="0" font-size="22.3" text-anchor="end" fill="#262626" font-family="'Liberation Sans', Arial, sans-serif" transform="translate(114 534.6) scale(0.93 1)">20</text>
<text x="0" y="0" font-size="22.3" text-anchor="end" fill="#262626" font-family="'Liberation Sans', Arial, sans-serif" transform="translate(114 472.9) scale(0.93 1)">30</text>
<text x="0" y="0" font-size="22.3" text-anchor="end" fill="#262626" font-family="'Liberation Sans', Arial, sans-serif" transform="translate(114 411.3) scale(0.93 1)">40</text>
<text x="0" y="0" font-size="22.3" text-anchor="end" fill="#262626" font-family="'Liberation Sans', Arial, sans-serif" transform="translate(114 349.6) scale(0.93 1)">50</text>
<text x="0" y="0" font-size="22.3" text-anchor="end" fill="#262626" font-family="'Liberation Sans', Arial, sans-serif" transform="translate(114 288) scale(0.93 1)">60</text>
<text x="0" y="0" font-size="22.3" text-anchor="end" fill="#262626" font-family="'Liberation Sans', Arial, sans-serif" transform="translate(114 226.3) scale(0.93 1)">70</text>
<text x="0" y="0" font-size="22.3" text-anchor="end" fill="#262626" font-family="'Liberation Sans', Arial, sans-serif" transform="translate(114 164.6) scale(0.93 1)">80</text>
<text x="0" y="0" font-size="22.3" text-anchor="end" fill="#262626" font-family="'Liberation Sans', Arial, sans-serif" transform="translate(114 103) scale(0.93 1)">90</text>
<text x="0" y="0" font-size="22.3" text-anchor="end" fill="#262626" font-family="'Liberation Sans', Arial, sans-serif" transform="translate(114 41.3) scale(0.93 1)">100</text>
<text x="305.5" y="585" font-size="23.5" text-anchor="middle" fill="#262626" font-family="'Liberation Sans', Arial, sans-serif">X (nm)</text>
<text x="71" y="279" font-size="23.5" text-anchor="middle" fill="#262626" font-family="'Liberation Sans', Arial, sans-serif" transform="rotate(-90 71 279)">Z (nm)</text>
<rect x="513" y="32.4" width="16" height="493.3" fill="url(#cbA)" stroke="#5a5a5a" stroke-width="0.8"/>
<path d="M529 525.7h-4M529 445.7h-4M529 365.8h-4M529 285.8h-4M529 205.9h-4M529 125.9h-4M529 46h-4" stroke="#5a5a5a" stroke-width="1" fill="none"/>
<text x="0" y="0" font-size="22.3" text-anchor="start" fill="#262626" font-family="'Liberation Sans', Arial, sans-serif" transform="translate(536 535.3) scale(0.93 1)">0</text>
<text x="0" y="0" font-size="22.3" text-anchor="start" fill="#262626" font-family="'Liberation Sans', Arial, sans-serif" transform="translate(536 455.3) scale(0.93 1)">0.2</text>
<text x="0" y="0" font-size="22.3" text-anchor="start" fill="#262626" font-family="'Liberation Sans', Arial, sans-serif" transform="translate(536 375.4) scale(0.93 1)">0.4</text>
<text x="0" y="0" font-size="22.3" text-anchor="start" fill="#262626" font-family="'Liberation Sans', Arial, sans-serif" transform="translate(536 295.4) scale(0.93 1)">0.6</text>
<text x="0" y="0" font-size="22.3" text-anchor="start" fill="#262626" font-family="'Liberation Sans', Arial, sans-serif" transform="translate(536 215.5) scale(0.93 1)">0.8</text>
<text x="0" y="0" font-size="22.3" text-anchor="start" fill="#262626" font-family="'Liberation Sans', Arial, sans-serif" transform="translate(536 135.5) scale(0.93 1)">1</text>
<text x="0" y="0" font-size="22.3" text-anchor="start" fill="#262626" font-family="'Liberation Sans', Arial, sans-serif" transform="translate(536 55.6) scale(0.93 1)">1.2</text>
<text x="532" y="24" font-size="19" text-anchor="start" fill="#262626" font-family="'Liberation Sans', Arial, sans-serif">&#215;10<tspan font-size="14" dy="-9">-3</tspan></text>
<path d="M121.1 638.4V1128.9M182.3 638.4V1128.9M243.6 638.4V1128.9M304.9 638.4V1128.9M366.1 638.4V1128.9M427.4 638.4V1128.9M488.6 638.4V1128.9M121.1 1128.9H488.6M121.1 1067.6H488.6M121.1 1006.3H488.6M121.1 945H488.6M121.1 883.7H488.6M121.1 822.3H488.6M121.1 761H488.6M121.1 699.7H488.6M121.1 638.4H488.6" stroke="#e3e3e3" stroke-width="1.3" fill="none"/>
<path d="M121.1,1128.9 127.5,1095.6 134,1062.3 140.4,1029.1 146.8,995.8 153.3,962.5 159.3,929.2 164.3,896 169.4,862.7 174.4,829.4 179.5,796.1 184.5,762.9 185.5,758.8 186.6,754.8 187.9,750.8 189.3,746.9 190.8,743 192.4,739.2 194.2,735.5 196.1,731.8 198.1,728.1 200.3,724.6 202.6,721.1 204.9,717.7 207.4,714.3 210,711.1 212.8,707.9 215.6,704.9 218.5,701.9 221.5,699 224.6,696.3 227.8,693.6 231.1,691.1 234.5,688.7 238,686.3 241.5,684.1 245.1,682.1 248.8,680.1 252.5,678.3 256.3,676.6 260.1,675 264,673.6 268,672.2 272,671.1 276,670 280.1,669.1 284.2,668.4 288.3,667.7 292.4,667.2 296.5,666.9 300.7,666.7 304.9,666.6" fill="none" stroke="url(#gb0L)" stroke-width="2.3" stroke-linejoin="round" stroke-linecap="round"/>
<path d="M304.9,666.6 309.4,666.7 313.9,666.9 318.4,667.4 322.9,668 327.4,668.7 331.8,669.6 336.2,670.7 340.6,671.9 344.9,673.3 349.2,674.9 353.4,676.6 357.5,678.4 361.6,680.4 365.5,682.6 369.4,684.9 373.3,687.3 377,689.9 380.6,692.6 384.1,695.5 387.5,698.5 390.8,701.6 394,704.8 397.1,708.1 400,711.5 402.8,715.1 405.5,718.7 408.1,722.5 410.5,726.3 412.7,730.2 414.8,734.2 416.8,738.3 418.6,742.4 420.3,746.6 421.8,750.9 423.2,755.2 424.3,759.6 424.8,764 425.2,768.5 425.7,773 426.2,777.5 426.7,782 427.4,786.5 428.2,790.9 428.9,795.4 429.7,799.8 430.5,804.3 431.2,808.7 432,813.2 432.7,817.7 433.4,822.1 434.3,826.5 435.2,831 436.1,835.4 437,839.8 437.9,844.3 438.7,848.7 439.6,853.1 440.5,857.6 441.4,862 442.1,866.4 442.9,870.9 443.6,875.4 444.4,879.8 445.1,884.3 445.9,888.7 446.6,893.2 447.3,897.6 448.1,902.1 448.9,906.5 449.6,911 450.4,915.4 451.1,919.9 451.9,924.4 452.7,928.8 453.4,933.3 454.2,937.7 455,942.2 455.8,946.6 456.6,951.1 457.4,955.5 458.2,959.9 459,964.4 459.8,968.8 460.6,973.3 461.4,977.7 462.2,982.2 463,986.6 463.8,991.1 464.6,995.5 465.4,1000 466.2,1004.4 467,1008.9 467.7,1013.3 468.5,1017.8 469.3,1022.2 470,1026.7 470.8,1031.1 471.5,1035.6 472.3,1040 473,1044.5 473.8,1048.9 474.6,1053.4 475.3,1057.8 476.1,1062.3 476.8,1066.8 477.6,1071.2 478.5,1075.6 479.3,1080.1 480.2,1084.5 481,1089 481.9,1093.4 482.7,1097.8 483.5,1102.3 484.4,1106.7 485.2,1111.1 486.1,1115.6 486.9,1120 487.8,1124.5 488.6,1128.9" fill="none" stroke="url(#gb0R)" stroke-width="2.3" stroke-linejoin="round" stroke-linecap="round"/>
<path d="M121.1,1128.9 127.3,1097 133.5,1065 139.6,1033.1 145.8,1001.1 152,969.2 158.1,937.2 162.9,905.3 167.8,873.3 172.6,841.4 177.5,809.4 182.3,777.5 182.7,773.7 183.2,770 183.9,766.3 184.7,762.7 185.6,759 186.7,755.4 187.9,751.9 189.2,748.4 190.7,744.9 192.2,741.5 194,738.2 195.8,734.9 197.7,731.7 199.8,728.6 202,725.5 204.3,722.6 206.7,719.7 209.2,716.9 211.8,714.2 214.5,711.6 217.4,709.1 220.2,706.8 223.2,704.5 226.3,702.3 229.4,700.3 232.7,698.4 235.9,696.6 239.3,694.9 242.7,693.3 246.2,691.9 249.7,690.6 253.3,689.4 256.9,688.4 260.5,687.5 264.2,686.7 267.9,686.1 271.6,685.6 275.3,685.3 279.1,685.1 282.8,685" fill="none" stroke="url(#gb1L)" stroke-width="2.1" stroke-linejoin="round" stroke-linecap="round"/>
<path d="M282.8,685 289.5,684.9 296.3,685.2 303,685.8 309.7,686.7 316.3,688 322.9,689.6 329.4,691.5 335.7,693.8 342,696.5 348.1,699.4 354,702.7 359.7,706.3 365.2,710.3 370.6,714.5 375.6,718.9 380.5,723.6 385.1,728.6 389.4,733.8 393.5,739.2 397.3,744.8 400.9,750.5 404.2,756.4 407.3,762.4 410.2,768.5 413,774.6 415.6,780.8 418,787.1 420.3,793.5 422.4,799.8 424.5,806.3 426.4,812.7 428.3,819.2 430,825.6 431.8,832.1 433.4,838.7 435,845.2 436.5,851.7 438,858.3 439.5,864.8 440.9,871.4 442.2,878 443.5,884.6 444.8,891.2 446,897.8 447.2,904.4 448.4,911 449.5,917.6 450.6,924.2 451.7,930.9 452.8,937.5 453.8,944.1 454.9,950.8 455.9,957.4 457,964 458,970.7 459,977.3 460.1,983.9 461.1,990.5 462.2,997.2 463.2,1003.8 464.3,1010.4 465.3,1017 466.3,1023.7 467.3,1030.3 468.4,1036.9 469.5,1043.5 470.7,1050.1 471.9,1056.7 473.1,1063.3 474.4,1069.8 475.7,1076.4 477.1,1083 478.6,1089.5 480.1,1096 481.6,1102.5 483.2,1109 484.9,1115.5 486.7,1122 488.5,1128.4" fill="none" stroke="url(#gb1R)" stroke-width="2.1" stroke-linejoin="round" stroke-linecap="round"/>
<path d="M121.1,1128.9 127,1098.4 132.9,1067.9 138.8,1037.4 144.7,1007 150.6,976.5 156.5,946 161.4,915.5 166,885 170.6,854.5 175.2,824 179.9,793.6 180.5,789.9 181.3,786.3 182.1,782.7 183.2,779.2 184.3,775.6 185.5,772.2 186.9,768.7 188.4,765.4 190.1,762.1 191.8,758.8 193.6,755.6 195.6,752.5 197.7,749.4 199.9,746.4 202.1,743.5 204.5,740.7 207,738 209.6,735.3 212.3,732.8 215,730.3 217.9,728 220.8,725.7 223.8,723.6 226.9,721.5 230,719.6 233.2,717.8 236.5,716.1 239.8,714.5 243.2,713.1 246.7,711.7 250.1,710.5 253.7,709.4 257.2,708.4 260.8,707.6 264.4,706.9 268.1,706.3 271.7,705.8 275.4,705.5 279.1,705.3 282.8,705.2" fill="none" stroke="url(#gb2L)" stroke-width="2.1" stroke-linejoin="round" stroke-linecap="round"/>
<path d="M282.8,705.2 289.3,705.2 295.8,705.5 302.2,706.1 308.6,707 315,708.2 321.3,709.7 327.6,711.6 333.7,713.8 339.7,716.3 345.5,719.1 351.3,722.2 356.8,725.6 362.2,729.3 367.3,733.3 372.3,737.5 377,741.9 381.5,746.6 385.7,751.5 389.8,756.6 393.5,761.9 397.1,767.3 400.5,772.8 403.6,778.4 406.6,784.2 409.4,790 412,795.9 414.5,801.8 416.9,807.8 419.1,813.8 421.2,819.9 423.3,826 425.2,832.2 427.1,838.3 428.9,844.5 430.7,850.7 432.4,856.9 434,863.2 435.6,869.4 437.1,875.6 438.6,881.9 440.1,888.2 441.5,894.5 442.8,900.8 444.1,907.1 445.4,913.4 446.7,919.7 447.9,926 449.1,932.4 450.3,938.7 451.4,945 452.5,951.4 453.7,957.7 454.8,964.1 455.9,970.4 457,976.8 458.1,983.1 459.2,989.5 460.3,995.9 461.4,1002.2 462.4,1008.6 463.5,1014.9 464.5,1021.3 465.6,1027.6 466.6,1034 467.7,1040.3 468.9,1046.6 470,1053 471.2,1059.3 472.5,1065.6 473.7,1071.9 475,1078.3 476.4,1084.6 477.8,1090.8 479.2,1097.1 480.7,1103.4 482.2,1109.6 483.8,1115.9 485.5,1122.1 487.2,1128.3" fill="none" stroke="url(#gb2R)" stroke-width="2.1" stroke-linejoin="round" stroke-linecap="round"/>
<path d="M121.1,1128.9 126.7,1099.8 132.3,1070.8 138,1041.7 143.6,1012.6 149.2,983.6 154.8,954.5 159.9,925.4 164.3,896.3 168.7,867.3 173.1,838.2 177.5,809.1 178.4,805.6 179.3,802.1 180.4,798.6 181.7,795.2 183,791.8 184.4,788.4 186,785.1 187.6,781.9 189.4,778.7 191.3,775.6 193.3,772.5 195.4,769.6 197.5,766.6 199.8,763.8 202.2,761 204.7,758.4 207.2,755.8 209.9,753.3 212.6,750.8 215.4,748.5 218.3,746.3 221.2,744.2 224.2,742.1 227.3,740.2 230.5,738.4 233.7,736.7 237,735.1 240.3,733.6 243.7,732.2 247.1,730.9 250.5,729.8 254,728.8 257.6,727.8 261.1,727.1 264.7,726.4 268.3,725.8 271.9,725.4 275.5,725.1 279.2,724.9 282.8,724.9" fill="none" stroke="url(#gb3L)" stroke-width="1.8" stroke-linejoin="round" stroke-linecap="round"/>
<path d="M282.8,724.9 289,724.9 295.2,725.2 301.4,725.8 307.6,726.6 313.7,727.8 319.8,729.3 325.8,731.1 331.7,733.2 337.5,735.5 343.1,738.2 348.6,741.1 354,744.3 359.2,747.8 364.2,751.5 369,755.5 373.6,759.7 378,764.1 382.2,768.7 386.2,773.5 389.9,778.4 393.5,783.5 396.8,788.7 400,794 403,799.4 405.9,804.9 408.6,810.4 411.1,816.1 413.6,821.7 415.9,827.4 418.1,833.2 420.2,839 422.3,844.8 424.3,850.6 426.2,856.5 428,862.4 429.8,868.3 431.6,874.2 433.2,880.2 434.9,886.1 436.4,892.1 438,898.1 439.5,904.1 440.9,910.1 442.3,916.1 443.7,922.1 445,928.2 446.3,934.2 447.6,940.2 448.9,946.3 450.1,952.4 451.3,958.4 452.5,964.5 453.7,970.6 454.8,976.7 456,982.7 457.1,988.8 458.3,994.9 459.4,1001 460.6,1007.1 461.6,1013.2 462.7,1019.3 463.8,1025.4 464.9,1031.4 466,1037.5 467.1,1043.6 468.2,1049.7 469.4,1055.8 470.6,1061.9 471.8,1067.9 473,1074 474.3,1080.1 475.6,1086.1 477,1092.2 478.4,1098.2 479.8,1104.2 481.3,1110.2 482.8,1116.2 484.4,1122.2 486,1128.2" fill="none" stroke="url(#gb3R)" stroke-width="1.8" stroke-linejoin="round" stroke-linecap="round"/>
<path d="M121.1,1128.9 126.5,1100.9 131.9,1073 137.3,1045 142.7,1017.1 148.1,989.1 153.5,961.1 158.7,933.2 162.9,905.2 167.2,877.2 171.4,849.3 175.7,821.3 176.7,817.9 177.8,814.4 179.1,811.1 180.5,807.7 181.9,804.4 183.5,801.2 185.2,798 187,794.9 188.9,791.8 190.9,788.8 192.9,785.8 195.1,782.9 197.4,780.1 199.7,777.4 202.2,774.8 204.7,772.2 207.3,769.7 210,767.3 212.8,765 215.6,762.8 218.5,760.6 221.5,758.6 224.6,756.6 227.7,754.8 230.8,753.1 234,751.4 237.3,749.9 240.6,748.5 244,747.2 247.4,746 250.8,744.9 254.3,743.9 257.8,743 261.3,742.3 264.9,741.6 268.4,741.1 272,740.7 275.6,740.4 279.2,740.2 282.8,740.2" fill="none" stroke="url(#gb4L)" stroke-width="1.8" stroke-linejoin="round" stroke-linecap="round"/>
<path d="M282.8,740.2 288.8,740.2 294.8,740.6 300.8,741.1 306.8,742 312.8,743.2 318.6,744.6 324.4,746.3 330.1,748.3 335.7,750.6 341.2,753.1 346.6,755.9 351.8,759 356.8,762.3 361.7,765.8 366.4,769.6 371,773.5 375.3,777.7 379.4,782.1 383.4,786.6 387.1,791.3 390.6,796.2 394,801.1 397.2,806.2 400.2,811.3 403.1,816.5 405.9,821.8 408.5,827.2 411,832.6 413.4,838 415.7,843.5 417.9,849.1 420,854.7 422,860.3 424,865.9 426,871.5 427.8,877.2 429.6,882.9 431.4,888.6 433.1,894.3 434.7,900 436.3,905.8 437.9,911.6 439.4,917.3 440.9,923.1 442.3,928.9 443.7,934.7 445.1,940.6 446.4,946.4 447.8,952.2 449,958.1 450.3,963.9 451.6,969.8 452.8,975.7 454,981.5 455.2,987.4 456.4,993.3 457.6,999.1 458.8,1005 459.9,1010.9 461,1016.8 462.1,1022.7 463.2,1028.6 464.3,1034.4 465.4,1040.3 466.6,1046.2 467.7,1052.1 468.9,1058 470.1,1063.9 471.3,1069.7 472.5,1075.6 473.8,1081.5 475,1087.3 476.4,1093.2 477.7,1099 479.1,1104.9 480.5,1110.7 482,1116.5 483.5,1122.3 485,1128.1" fill="none" stroke="url(#gb4R)" stroke-width="1.8" stroke-linejoin="round" stroke-linecap="round"/>
<path d="M121.1,1128.9 126.3,1102 131.5,1075 136.7,1048.1 141.9,1021.1 147.1,994.2 152.4,967.2 157.6,940.3 161.7,913.4 165.8,886.4 169.9,859.5 174,832.5 175.2,829.2 176.5,825.8 177.9,822.5 179.4,819.3 181,816.1 182.7,812.9 184.5,809.8 186.4,806.8 188.4,803.8 190.4,800.9 192.6,798.1 194.9,795.3 197.2,792.6 199.6,790 202.1,787.4 204.7,784.9 207.4,782.5 210.1,780.2 212.9,778 215.8,775.9 218.7,773.8 221.7,771.9 224.8,770 227.9,768.3 231.1,766.6 234.3,765 237.6,763.6 240.9,762.2 244.2,761 247.6,759.8 251,758.8 254.5,757.8 258,757 261.5,756.3 265,755.7 268.5,755.2 272.1,754.8 275.7,754.5 279.2,754.3 282.8,754.3" fill="none" stroke="url(#gb5L)" stroke-width="1.8" stroke-linejoin="round" stroke-linecap="round"/>
<path d="M282.8,754.3 288.6,754.4 294.5,754.7 300.3,755.3 306.1,756.2 311.8,757.3 317.5,758.7 323.2,760.3 328.7,762.2 334.1,764.4 339.5,766.8 344.7,769.5 349.8,772.4 354.7,775.6 359.5,778.9 364.1,782.5 368.5,786.3 372.8,790.3 376.9,794.4 380.8,798.8 384.5,803.2 388,807.8 391.4,812.5 394.6,817.4 397.7,822.3 400.6,827.2 403.4,832.3 406,837.4 408.6,842.6 411.1,847.8 413.4,853.1 415.7,858.4 417.9,863.7 420,869.1 422.1,874.5 424,879.9 426,885.4 427.9,890.8 429.7,896.3 431.4,901.8 433.2,907.4 434.8,912.9 436.5,918.5 438,924 439.6,929.6 441.1,935.2 442.5,940.8 444,946.4 445.4,952.1 446.7,957.7 448.1,963.3 449.4,969 450.7,974.7 452,980.3 453.2,986 454.5,991.7 455.7,997.3 456.9,1003 458.1,1008.7 459.3,1014.4 460.4,1020.1 461.5,1025.8 462.7,1031.5 463.8,1037.2 464.9,1042.9 466.1,1048.6 467.2,1054.3 468.4,1060 469.6,1065.7 470.8,1071.4 472,1077.1 473.3,1082.8 474.5,1088.4 475.8,1094.1 477.1,1099.8 478.4,1105.5 479.8,1111.1 481.2,1116.8 482.7,1122.4 484.1,1128" fill="none" stroke="url(#gb5R)" stroke-width="1.8" stroke-linejoin="round" stroke-linecap="round"/>
<path d="M121.1,1128.9 126.1,1103 131.1,1077.1 136.1,1051.1 141.2,1025.2 146.2,999.3 151.2,973.4 156.2,947.4 160.5,921.5 164.4,895.6 168.3,869.7 172.3,843.7 173.6,840.4 175.1,837.2 176.6,834 178.2,830.8 180,827.7 181.8,824.7 183.7,821.7 185.7,818.8 187.8,815.9 190,813.1 192.2,810.3 194.6,807.7 197,805.1 199.5,802.5 202.1,800.1 204.7,797.7 207.4,795.4 210.2,793.2 213,791.1 215.9,789 218.9,787.1 221.9,785.2 225,783.4 228.1,781.7 231.3,780.1 234.5,778.6 237.8,777.2 241.1,776 244.4,774.8 247.8,773.7 251.2,772.7 254.7,771.8 258.1,771 261.6,770.3 265.1,769.7 268.6,769.2 272.2,768.9 275.7,768.6 279.2,768.4 282.8,768.4" fill="none" stroke="url(#gb6L)" stroke-width="1.8" stroke-linejoin="round" stroke-linecap="round"/>
<path d="M282.8,768.4 288.5,768.5 294.1,768.9 299.7,769.5 305.4,770.3 310.9,771.4 316.4,772.7 321.9,774.3 327.3,776.1 332.5,778.2 337.7,780.5 342.8,783.1 347.7,785.9 352.6,788.8 357.2,792.1 361.7,795.5 366.1,799.1 370.3,802.8 374.3,806.8 378.2,810.9 381.9,815.1 385.4,819.5 388.8,824 392,828.5 395.1,833.2 398,838 400.9,842.8 403.6,847.6 406.2,852.6 408.7,857.6 411.2,862.6 413.5,867.7 415.8,872.8 417.9,877.9 420.1,883.1 422.1,888.3 424.1,893.5 426.1,898.8 428,904.1 429.8,909.4 431.6,914.7 433.3,920 435,925.3 436.7,930.7 438.3,936.1 439.8,941.5 441.3,946.9 442.8,952.3 444.3,957.7 445.7,963.2 447.1,968.6 448.5,974.1 449.8,979.5 451.2,985 452.5,990.5 453.7,995.9 455,1001.4 456.3,1006.9 457.5,1012.4 458.6,1017.9 459.8,1023.4 461,1028.9 462.1,1034.4 463.3,1039.9 464.5,1045.5 465.6,1051 466.8,1056.5 468,1062 469.1,1067.5 470.3,1073 471.5,1078.5 472.7,1084 474,1089.6 475.2,1095.1 476.5,1100.6 477.8,1106 479.1,1111.5 480.5,1117 481.8,1122.5 483.2,1127.9" fill="none" stroke="url(#gb6R)" stroke-width="1.8" stroke-linejoin="round" stroke-linecap="round"/>
<path d="M121.1,1128.9 125.9,1103.9 130.8,1078.9 135.6,1053.9 140.4,1028.9 145.3,1003.9 150.1,978.9 154.9,953.9 159.3,928.9 163.1,903.9 166.9,879 170.7,854 172.2,850.8 173.8,847.6 175.5,844.5 177.2,841.4 179.1,838.4 181,835.4 183,832.5 185.1,829.7 187.3,826.9 189.5,824.2 191.9,821.6 194.3,819 196.8,816.5 199.3,814 201.9,811.7 204.6,809.4 207.4,807.2 210.2,805 213.1,803 216,801 219,799.1 222.1,797.4 225.1,795.6 228.3,794 231.5,792.5 234.7,791.1 238,789.7 241.3,788.5 244.6,787.4 248,786.3 251.4,785.3 254.8,784.5 258.3,783.7 261.7,783.1 265.2,782.5 268.7,782.1 272.2,781.7 275.7,781.5 279.3,781.3 282.8,781.3" fill="none" stroke="url(#gb7L)" stroke-width="1.8" stroke-linejoin="round" stroke-linecap="round"/>
<path d="M282.8,781.3 288.3,781.4 293.8,781.8 299.2,782.4 304.7,783.2 310.1,784.3 315.4,785.6 320.7,787.1 325.9,788.9 331.1,790.8 336.1,793.1 341.1,795.5 345.9,798.1 350.6,801 355.2,804 359.6,807.3 363.9,810.7 368,814.3 372,818 375.8,821.9 379.5,826 383,830.1 386.4,834.4 389.6,838.8 392.7,843.2 395.7,847.7 398.6,852.3 401.4,857 404,861.7 406.6,866.5 409.1,871.3 411.5,876.2 413.8,881.1 416.1,886 418.3,891 420.4,896 422.4,901 424.5,906 426.4,911.1 428.3,916.2 430.1,921.3 431.9,926.5 433.7,931.6 435.4,936.8 437,942 438.7,947.2 440.2,952.4 441.8,957.6 443.3,962.9 444.8,968.1 446.2,973.4 447.6,978.7 449,984 450.4,989.2 451.7,994.5 453.1,999.8 454.4,1005.1 455.6,1010.5 456.9,1015.8 458.1,1021.1 459.3,1026.4 460.5,1031.8 461.6,1037.1 462.8,1042.5 464,1047.8 465.2,1053.1 466.4,1058.5 467.5,1063.8 468.7,1069.2 469.9,1074.5 471.1,1079.9 472.3,1085.2 473.5,1090.6 474.7,1095.9 476,1101.2 477.2,1106.6 478.5,1111.9 479.8,1117.2 481.1,1122.6 482.4,1127.9" fill="none" stroke="url(#gb7R)" stroke-width="1.8" stroke-linejoin="round" stroke-linecap="round"/>
<path d="M121.1,1128.9 125.8,1104.7 130.4,1080.6 135.1,1056.4 139.8,1032.3 144.5,1008.1 149.1,984 153.8,959.8 158.3,935.7 162,911.5 165.7,887.4 169.3,863.2 170.9,860.1 172.6,857 174.4,854 176.3,851 178.2,848.1 180.2,845.2 182.3,842.4 184.5,839.6 186.8,836.9 189.1,834.3 191.5,831.7 194,829.2 196.5,826.8 199.1,824.4 201.8,822.2 204.6,820 207.3,817.8 210.2,815.8 213.1,813.8 216.1,811.9 219.1,810.1 222.1,808.4 225.3,806.7 228.4,805.2 231.6,803.7 234.8,802.3 238.1,801.1 241.4,799.9 244.7,798.8 248.1,797.7 251.5,796.8 254.9,796 258.4,795.3 261.8,794.7 265.3,794.1 268.8,793.7 272.3,793.3 275.8,793.1 279.3,793 282.8,792.9" fill="none" stroke="url(#gb8L)" stroke-width="1.8" stroke-linejoin="round" stroke-linecap="round"/>
<path d="M282.8,792.9 288.1,793.1 293.5,793.5 298.8,794.1 304.1,794.9 309.3,795.9 314.5,797.2 319.7,798.7 324.8,800.4 329.8,802.3 334.7,804.4 339.5,806.7 344.2,809.2 348.8,812 353.3,814.9 357.6,818 361.9,821.2 365.9,824.7 369.9,828.2 373.7,831.9 377.3,835.8 380.8,839.8 384.2,843.8 387.5,848 390.6,852.2 393.6,856.6 396.6,861 399.4,865.4 402.1,870 404.7,874.5 407.2,879.2 409.7,883.8 412.1,888.6 414.4,893.3 416.6,898.1 418.8,902.9 420.9,907.7 423,912.6 425,917.5 426.9,922.4 428.8,927.4 430.7,932.3 432.5,937.3 434.2,942.3 435.9,947.3 437.6,952.4 439.2,957.4 440.8,962.5 442.4,967.6 443.9,972.6 445.4,977.7 446.9,982.8 448.3,988 449.7,993.1 451.1,998.2 452.4,1003.4 453.8,1008.5 455,1013.7 456.3,1018.8 457.6,1024 458.8,1029.2 460,1034.4 461.2,1039.5 462.4,1044.7 463.6,1049.9 464.8,1055.1 466,1060.3 467.1,1065.5 468.3,1070.7 469.5,1075.9 470.7,1081.1 471.9,1086.3 473.1,1091.5 474.2,1096.7 475.5,1101.9 476.7,1107.1 477.9,1112.3 479.1,1117.4 480.4,1122.6 481.7,1127.8" fill="none" stroke="url(#gb8R)" stroke-width="1.8" stroke-linejoin="round" stroke-linecap="round"/>
<path d="M121.1,1128.9 125.6,1105.5 130.1,1082.1 134.7,1058.7 139.2,1035.3 143.7,1011.9 148.2,988.5 152.8,965.1 157.3,941.7 161,918.3 164.5,894.9 168.1,871.5 169.8,868.4 171.6,865.4 173.5,862.5 175.4,859.6 177.4,856.7 179.6,853.9 181.7,851.2 184,848.5 186.3,845.9 188.7,843.3 191.2,840.8 193.7,838.4 196.3,836.1 199,833.8 201.7,831.6 204.4,829.4 207.3,827.4 210.2,825.4 213.1,823.5 216.1,821.7 219.1,819.9 222.2,818.2 225.3,816.7 228.5,815.2 231.7,813.7 234.9,812.4 238.2,811.2 241.5,810 244.8,809 248.2,808 251.6,807.1 255,806.3 258.4,805.6 261.9,805 265.3,804.5 268.8,804.1 272.3,803.8 275.8,803.5 279.3,803.4 282.8,803.3" fill="none" stroke="url(#gb9L)" stroke-width="1.8" stroke-linejoin="round" stroke-linecap="round"/>
<path d="M282.8,803.3 288,803.5 293.2,803.9 298.4,804.5 303.5,805.3 308.7,806.4 313.7,807.6 318.7,809 323.7,810.6 328.6,812.5 333.4,814.5 338.1,816.8 342.7,819.2 347.2,821.8 351.6,824.6 355.9,827.5 360.1,830.7 364.1,833.9 368,837.3 371.8,840.9 375.4,844.6 378.9,848.4 382.3,852.3 385.6,856.3 388.7,860.3 391.8,864.5 394.7,868.7 397.6,873 400.3,877.4 403,881.8 405.6,886.2 408.1,890.7 410.5,895.3 412.8,899.8 415.1,904.5 417.4,909.1 419.5,913.8 421.7,918.5 423.7,923.2 425.7,928 427.7,932.8 429.6,937.6 431.4,942.4 433.2,947.3 435,952.1 436.7,957 438.4,961.9 440,966.8 441.6,971.7 443.1,976.7 444.7,981.6 446.2,986.6 447.6,991.6 449.1,996.5 450.5,1001.5 451.9,1006.5 453.2,1011.5 454.5,1016.5 455.8,1021.6 457.1,1026.6 458.4,1031.6 459.6,1036.7 460.8,1041.7 462,1046.8 463.2,1051.8 464.4,1056.9 465.6,1061.9 466.8,1067 468,1072 469.1,1077.1 470.3,1082.2 471.5,1087.2 472.7,1092.3 473.8,1097.4 475,1102.4 476.2,1107.5 477.4,1112.6 478.6,1117.6 479.8,1122.7 481,1127.7" fill="none" stroke="url(#gb9R)" stroke-width="1.8" stroke-linejoin="round" stroke-linecap="round"/>
<path d="M121.1,1128.9 125.5,1106.2 129.9,1083.5 134.3,1060.8 138.6,1038.1 143,1015.4 147.4,992.7 151.8,970.1 156.2,947.4 160,924.7 163.4,902 166.9,879.3 168.7,876.3 170.6,873.4 172.6,870.5 174.6,867.7 176.7,864.9 178.9,862.2 181.2,859.5 183.5,856.9 185.9,854.3 188.3,851.9 190.8,849.4 193.4,847.1 196.1,844.8 198.8,842.6 201.5,840.4 204.3,838.4 207.2,836.4 210.1,834.5 213.1,832.6 216.1,830.8 219.1,829.1 222.2,827.5 225.4,826 228.5,824.6 231.8,823.2 235,821.9 238.3,820.7 241.6,819.6 244.9,818.6 248.3,817.6 251.7,816.8 255.1,816 258.5,815.4 261.9,814.8 265.4,814.3 268.9,813.9 272.3,813.5 275.8,813.3 279.3,813.2 282.8,813.1" fill="none" stroke="url(#gb10L)" stroke-width="1.8" stroke-linejoin="round" stroke-linecap="round"/>
<path d="M282.8,813.1 287.9,813.4 292.9,813.8 298,814.4 303,815.2 308,816.2 313,817.4 317.9,818.7 322.7,820.3 327.5,822.1 332.2,824.1 336.8,826.2 341.3,828.5 345.7,831 350.1,833.7 354.3,836.5 358.4,839.5 362.3,842.7 366.2,845.9 370,849.3 373.6,852.9 377.1,856.5 380.5,860.2 383.8,864 386.9,867.9 390,871.9 393,876 395.9,880.1 398.7,884.3 401.4,888.5 404,892.8 406.5,897.2 409,901.6 411.4,906 413.8,910.4 416,914.9 418.2,919.5 420.4,924 422.5,928.6 424.6,933.2 426.5,937.9 428.5,942.5 430.4,947.2 432.2,951.9 434,956.6 435.8,961.4 437.5,966.1 439.2,970.9 440.8,975.7 442.4,980.5 444,985.3 445.5,990.1 447,994.9 448.5,999.8 449.9,1004.6 451.3,1009.5 452.7,1014.4 454,1019.2 455.4,1024.1 456.7,1029 457.9,1033.9 459.2,1038.8 460.5,1043.8 461.7,1048.7 462.9,1053.6 464.1,1058.5 465.3,1063.5 466.5,1068.4 467.6,1073.3 468.8,1078.3 470,1083.2 471.1,1088.1 472.3,1093.1 473.4,1098 474.6,1103 475.7,1107.9 476.9,1112.9 478.1,1117.8 479.2,1122.7 480.4,1127.7" fill="none" stroke="url(#gb10R)" stroke-width="1.8" stroke-linejoin="round" stroke-linecap="round"/>
<path d="M121.1,1128.9 125.4,1106.9 129.6,1084.8 133.9,1062.8 138.2,1040.7 142.4,1018.7 146.7,996.6 150.9,974.6 155.2,952.5 159.1,930.5 162.5,908.4 165.8,886.4 167.7,883.4 169.7,880.6 171.7,877.8 173.9,875 176,872.3 178.3,869.6 180.6,867 183,864.5 185.4,862 188,859.6 190.5,857.2 193.2,854.9 195.8,852.7 198.6,850.6 201.4,848.5 204.2,846.5 207.1,844.5 210,842.7 213,840.9 216.1,839.2 219.1,837.5 222.2,836 225.4,834.5 228.6,833.1 231.8,831.8 235.1,830.5 238.3,829.4 241.7,828.3 245,827.3 248.3,826.4 251.7,825.6 255.1,824.8 258.6,824.2 262,823.6 265.4,823.1 268.9,822.7 272.4,822.4 275.8,822.2 279.3,822.1 282.8,822" fill="none" stroke="url(#gb11L)" stroke-width="1.8" stroke-linejoin="round" stroke-linecap="round"/>
<path d="M282.8,822 287.8,822.3 292.7,822.7 297.6,823.3 302.6,824.1 307.4,825.1 312.3,826.2 317.1,827.6 321.8,829.1 326.5,830.8 331.1,832.7 335.6,834.8 340,837 344.4,839.4 348.6,842 352.8,844.7 356.8,847.6 360.8,850.6 364.6,853.7 368.3,857 371.9,860.3 375.4,863.8 378.8,867.4 382.1,871.1 385.3,874.9 388.4,878.7 391.4,882.6 394.3,886.6 397.1,890.6 399.9,894.7 402.6,898.8 405.1,903 407.7,907.3 410.1,911.6 412.5,915.9 414.8,920.2 417.1,924.6 419.3,929 421.4,933.5 423.5,938 425.5,942.5 427.5,947 429.5,951.5 431.3,956.1 433.2,960.7 435,965.3 436.7,969.9 438.4,974.6 440.1,979.2 441.7,983.9 443.3,988.6 444.9,993.3 446.4,998 447.9,1002.7 449.4,1007.4 450.8,1012.2 452.2,1016.9 453.6,1021.7 455,1026.5 456.3,1031.2 457.6,1036 458.9,1040.8 460.1,1045.6 461.4,1050.4 462.6,1055.2 463.8,1060 465,1064.8 466.2,1069.7 467.4,1074.5 468.5,1079.3 469.7,1084.1 470.8,1089 472,1093.8 473.1,1098.6 474.2,1103.5 475.3,1108.3 476.5,1113.1 477.6,1118 478.7,1122.8 479.9,1127.6" fill="none" stroke="url(#gb11R)" stroke-width="1.8" stroke-linejoin="round" stroke-linecap="round"/>
<path d="M121.1,1128.9 125.2,1107.4 129.4,1086 133.5,1064.5 137.7,1043.1 141.8,1021.6 146,1000.2 150.1,978.7 154.3,957.3 158.3,935.8 161.6,914.4 164.8,892.9 166.8,890.1 168.8,887.3 171,884.5 173.2,881.8 175.4,879.2 177.7,876.6 180.1,874 182.5,871.6 185,869.1 187.6,866.8 190.2,864.5 192.9,862.3 195.6,860.1 198.4,858 201.2,856 204.1,854 207,852.2 210,850.3 213,848.6 216,846.9 219.1,845.3 222.2,843.8 225.4,842.4 228.6,841 231.8,839.7 235.1,838.5 238.4,837.4 241.7,836.4 245,835.4 248.4,834.5 251.8,833.7 255.2,833 258.6,832.4 262,831.8 265.5,831.4 268.9,831 272.4,830.7 275.9,830.5 279.3,830.4 282.8,830.3" fill="none" stroke="url(#gb12L)" stroke-width="1.8" stroke-linejoin="round" stroke-linecap="round"/>
<path d="M282.8,830.3 287.7,830.6 292.5,831 297.3,831.6 302.1,832.4 306.9,833.4 311.6,834.5 316.3,835.8 321,837.3 325.5,838.9 330,840.8 334.5,842.7 338.8,844.9 343.1,847.2 347.3,849.7 351.4,852.3 355.4,855 359.3,857.9 363.1,860.9 366.8,864.1 370.4,867.3 373.9,870.7 377.3,874.1 380.6,877.7 383.8,881.3 386.9,885 389.9,888.7 392.9,892.6 395.7,896.5 398.5,900.4 401.2,904.4 403.8,908.5 406.4,912.6 408.9,916.7 411.3,920.9 413.7,925.2 416,929.4 418.2,933.7 420.4,938 422.5,942.4 424.6,946.8 426.6,951.2 428.6,955.6 430.5,960 432.4,964.5 434.2,969 436,973.5 437.7,978 439.4,982.5 441.1,987.1 442.7,991.7 444.3,996.3 445.9,1000.8 447.4,1005.5 448.9,1010.1 450.4,1014.7 451.8,1019.3 453.2,1024 454.6,1028.6 455.9,1033.3 457.2,1038 458.5,1042.6 459.8,1047.3 461.1,1052 462.3,1056.7 463.5,1061.4 464.7,1066.1 465.9,1070.8 467.1,1075.5 468.2,1080.3 469.4,1085 470.5,1089.7 471.6,1094.4 472.8,1099.2 473.9,1103.9 475,1108.6 476.1,1113.4 477.1,1118.1 478.2,1122.8 479.3,1127.6" fill="none" stroke="url(#gb12R)" stroke-width="1.8" stroke-linejoin="round" stroke-linecap="round"/>
<path d="M121.1,1128.9 125.1,1108.1 129.2,1087.2 133.2,1066.4 137.2,1045.6 141.2,1024.7 145.3,1003.9 149.3,983.1 153.3,962.2 157.4,941.4 160.6,920.6 163.8,899.8 165.8,897 168,894.2 170.2,891.5 172.4,888.9 174.7,886.3 177.1,883.8 179.6,881.3 182.1,878.9 184.6,876.6 187.2,874.3 189.9,872 192.6,869.9 195.4,867.8 198.2,865.7 201,863.8 203.9,861.9 206.9,860.1 209.9,858.3 212.9,856.6 216,855 219.1,853.4 222.2,852 225.4,850.6 228.6,849.3 231.8,848 235.1,846.9 238.4,845.8 241.7,844.8 245.1,843.8 248.4,843 251.8,842.2 255.2,841.5 258.6,840.9 262.1,840.4 265.5,839.9 268.9,839.5 272.4,839.3 275.9,839.1 279.3,838.9 282.8,838.9" fill="none" stroke="url(#gb13L)" stroke-width="1.8" stroke-linejoin="round" stroke-linecap="round"/>
<path d="M282.8,838.9 287.5,839.2 292.3,839.6 297,840.2 301.7,841 306.3,841.9 311,843.1 315.5,844.3 320.1,845.7 324.6,847.3 329,849.1 333.3,851 337.6,853.1 341.8,855.3 345.9,857.7 350,860.2 353.9,862.8 357.8,865.6 361.5,868.5 365.2,871.5 368.8,874.6 372.3,877.8 375.7,881.1 379,884.5 382.2,887.9 385.4,891.5 388.4,895.1 391.4,898.8 394.3,902.6 397.1,906.4 399.8,910.2 402.5,914.1 405.1,918.1 407.6,922.1 410.1,926.2 412.5,930.3 414.8,934.4 417.1,938.5 419.3,942.7 421.5,947 423.6,951.2 425.7,955.5 427.7,959.8 429.6,964.1 431.5,968.4 433.4,972.8 435.2,977.2 437,981.6 438.8,986 440.5,990.4 442.1,994.9 443.7,999.3 445.3,1003.8 446.9,1008.3 448.4,1012.8 449.9,1017.3 451.3,1021.8 452.8,1026.3 454.2,1030.9 455.5,1035.4 456.9,1040 458.2,1044.5 459.5,1049.1 460.8,1053.7 462,1058.3 463.2,1062.9 464.4,1067.5 465.6,1072.1 466.8,1076.7 467.9,1081.3 469.1,1085.9 470.2,1090.5 471.3,1095.1 472.4,1099.7 473.5,1104.4 474.6,1109 475.6,1113.6 476.7,1118.3 477.7,1122.9 478.8,1127.5" fill="none" stroke="url(#gb13R)" stroke-width="1.8" stroke-linejoin="round" stroke-linecap="round"/>
<path d="M121.1,1128.9 125,1108.6 129,1088.2 132.9,1067.9 136.8,1047.5 140.8,1027.2 144.7,1006.8 148.6,986.5 152.6,966.1 156.5,945.8 159.9,925.5 163,905.1 165.1,902.4 167.3,899.7 169.5,897.1 171.8,894.5 174.2,891.9 176.6,889.5 179.1,887 181.7,884.7 184.3,882.4 186.9,880.2 189.6,878 192.4,875.9 195.1,873.8 198,871.8 200.9,869.9 203.8,868 206.8,866.3 209.8,864.5 212.8,862.9 215.9,861.3 219,859.8 222.2,858.4 225.4,857 228.6,855.7 231.9,854.5 235.1,853.4 238.4,852.3 241.7,851.3 245.1,850.4 248.5,849.6 251.8,848.9 255.2,848.2 258.6,847.6 262.1,847.1 265.5,846.6 269,846.3 272.4,846 275.9,845.8 279.3,845.7 282.8,845.6" fill="none" stroke="url(#gb14L)" stroke-width="1.8" stroke-linejoin="round" stroke-linecap="round"/>
<path d="M282.8,845.6 287.5,845.9 292.1,846.4 296.7,847 301.3,847.8 305.9,848.7 310.4,849.8 314.9,851 319.4,852.4 323.8,854 328.1,855.7 332.4,857.5 336.6,859.5 340.8,861.7 344.8,863.9 348.8,866.4 352.7,868.9 356.6,871.6 360.3,874.4 364,877.2 367.5,880.2 371,883.3 374.4,886.5 377.8,889.8 381,893.2 384.1,896.6 387.2,900.1 390.2,903.7 393.1,907.3 396,911 398.7,914.8 401.4,918.6 404.1,922.4 406.6,926.3 409.1,930.3 411.6,934.3 413.9,938.3 416.2,942.3 418.5,946.4 420.7,950.5 422.8,954.7 424.9,958.9 427,963.1 428.9,967.3 430.9,971.5 432.8,975.8 434.6,980.1 436.4,984.4 438.2,988.7 439.9,993 441.6,997.4 443.3,1001.7 444.9,1006.1 446.5,1010.5 448,1014.9 449.5,1019.3 451,1023.8 452.4,1028.2 453.8,1032.6 455.2,1037.1 456.6,1041.6 457.9,1046 459.2,1050.5 460.5,1055 461.8,1059.5 463,1064 464.2,1068.5 465.4,1073 466.6,1077.5 467.7,1082.1 468.9,1086.6 470,1091.1 471.1,1095.6 472.1,1100.2 473.2,1104.7 474.3,1109.3 475.3,1113.8 476.3,1118.4 477.3,1122.9 478.4,1127.5" fill="none" stroke="url(#gb14R)" stroke-width="1.8" stroke-linejoin="round" stroke-linecap="round"/>
<rect x="121.1" y="638.4" width="367.5" height="490.5" fill="none" stroke="#6a6a6a" stroke-width="1.5"/>
<path d="M121.1 1128.9v12M182.3 1128.9v12M243.6 1128.9v12M304.9 1128.9v12M366.1 1128.9v12M427.4 1128.9v12M488.6 1128.9v12M121.1 1128.9h-12M121.1 1067.6h-12M121.1 1006.3h-12M121.1 945h-12M121.1 883.7h-12M121.1 822.3h-12M121.1 761h-12M121.1 699.7h-12M121.1 638.4h-12" stroke="#6a6a6a" stroke-width="1.5" fill="none"/>
<text x="0" y="0" font-size="23.3" text-anchor="middle" fill="#262626" font-family="'Liberation Sans', Arial, sans-serif" transform="translate(121.1 1169.9) scale(0.93 1)">-30</text>
<text x="0" y="0" font-size="23.3" text-anchor="middle" fill="#262626" font-family="'Liberation Sans', Arial, sans-serif" transform="translate(182.3 1169.9) scale(0.93 1)">-20</text>
<text x="0" y="0" font-size="23.3" text-anchor="middle" fill="#262626" font-family="'Liberation Sans', Arial, sans-serif" transform="translate(243.6 1169.9) scale(0.93 1)">-10</text>
<text x="0" y="0" font-size="23.3" text-anchor="middle" fill="#262626" font-family="'Liberation Sans', Arial, sans-serif" transform="translate(304.9 1169.9) scale(0.93 1)">0</text>
<text x="0" y="0" font-size="23.3" text-anchor="middle" fill="#262626" font-family="'Liberation Sans', Arial, sans-serif" transform="translate(366.1 1169.9) scale(0.93 1)">10</text>
<text x="0" y="0" font-size="23.3" text-anchor="middle" fill="#262626" font-family="'Liberation Sans', Arial, sans-serif" transform="translate(427.4 1169.9) scale(0.93 1)">20</text>
<text x="0" y="0" font-size="23.3" text-anchor="middle" fill="#262626" font-family="'Liberation Sans', Arial, sans-serif" transform="translate(488.6 1169.9) scale(0.93 1)">30</text>
<text x="0" y="0" font-size="23.3" text-anchor="end" fill="#262626" font-family="'Liberation Sans', Arial, sans-serif" transform="translate(102.1 1138.2) scale(0.93 1)">20</text>
<text x="0" y="0" font-size="23.3" text-anchor="end" fill="#262626" font-family="'Liberation Sans', Arial, sans-serif" transform="translate(102.1 1076.9) scale(0.93 1)">30</text>
<text x="0" y="0" font-size="23.3" text-anchor="end" fill="#262626" font-family="'Liberation Sans', Arial, sans-serif" transform="translate(102.1 1015.6) scale(0.93 1)">40</text>
<text x="0" y="0" font-size="23.3" text-anchor="end" fill="#262626" font-family="'Liberation Sans', Arial, sans-serif" transform="translate(102.1 954.3) scale(0.93 1)">50</text>
<text x="0" y="0" font-size="23.3" text-anchor="end" fill="#262626" font-family="'Liberation Sans', Arial, sans-serif" transform="translate(102.1 893) scale(0.93 1)">60</text>
<text x="0" y="0" font-size="23.3" text-anchor="end" fill="#262626" font-family="'Liberation Sans', Arial, sans-serif" transform="translate(102.1 831.7) scale(0.93 1)">70</text>
<text x="0" y="0" font-size="23.3" text-anchor="end" fill="#262626" font-family="'Liberation Sans', Arial, sans-serif" transform="translate(102.1 770.4) scale(0.93 1)">80</text>
<text x="0" y="0" font-size="23.3" text-anchor="end" fill="#262626" font-family="'Liberation Sans', Arial, sans-serif" transform="translate(102.1 709) scale(0.93 1)">90</text>
<text x="0" y="0" font-size="23.3" text-anchor="end" fill="#262626" font-family="'Liberation Sans', Arial, sans-serif" transform="translate(102.1 647.7) scale(0.93 1)">100</text>
<text x="299" y="1189" font-size="23.5" text-anchor="middle" fill="#262626" font-family="'Liberation Sans', Arial, sans-serif">X (nm)</text>
<text x="62" y="883" font-size="23.5" text-anchor="middle" fill="#262626" font-family="'Liberation Sans', Arial, sans-serif" transform="rotate(-90 62 883)">Z (nm)</text>
<rect x="510.8" y="638.4" width="16.4" height="490" fill="url(#cbB)" stroke="#5a5a5a" stroke-width="0.8"/>
<path d="M527.2 1128.4h-4M527.2 1049h-4M527.2 969.6h-4M527.2 890.2h-4M527.2 810.7h-4M527.2 731.3h-4M527.2 651.9h-4" stroke="#5a5a5a" stroke-width="1" fill="none"/>
<text x="0" y="0" font-size="22.3" text-anchor="start" fill="#262626" font-family="'Liberation Sans', Arial, sans-serif" transform="translate(533.2 1138) scale(0.93 1)">0</text>
<text x="0" y="0" font-size="22.3" text-anchor="start" fill="#262626" font-family="'Liberation Sans', Arial, sans-serif" transform="translate(533.2 1058.6) scale(0.93 1)">0.2</text>
<text x="0" y="0" font-size="22.3" text-anchor="start" fill="#262626" font-family="'Liberation Sans', Arial, sans-serif" transform="translate(533.2 979.1) scale(0.93 1)">0.4</text>
<text x="0" y="0" font-size="22.3" text-anchor="start" fill="#262626" font-family="'Liberation Sans', Arial, sans-serif" transform="translate(533.2 899.7) scale(0.93 1)">0.6</text>
<text x="0" y="0" font-size="22.3" text-anchor="start" fill="#262626" font-family="'Liberation Sans', Arial, sans-serif" transform="translate(533.2 820.3) scale(0.93 1)">0.8</text>
<text x="0" y="0" font-size="22.3" text-anchor="start" fill="#262626" font-family="'Liberation Sans', Arial, sans-serif" transform="translate(533.2 740.9) scale(0.93 1)">1</text>
<text x="0" y="0" font-size="22.3" text-anchor="start" fill="#262626" font-family="'Liberation Sans', Arial, sans-serif" transform="translate(533.2 661.5) scale(0.93 1)">1.2</text>
<text x="530" y="631" font-size="19" text-anchor="start" fill="#262626" font-family="'Liberation Sans', Arial, sans-serif">&#215;10<tspan font-size="14" dy="-9">-3</tspan></text>
<path d="M679.2 32.2V515.7M739.6 32.2V515.7M800 32.2V515.7M860.5 32.2V515.7M920.9 32.2V515.7M981.3 32.2V515.7M1041.8 32.2V515.7M1102.2 32.2V515.7M1162.6 32.2V515.7M679.2 515.7H1162.6M679.2 455.3H1162.6M679.2 394.8H1162.6M679.2 334.4H1162.6M679.2 274H1162.6M679.2 213.5H1162.6M679.2 153.1H1162.6M679.2 92.6H1162.6M679.2 32.2H1162.6" stroke="#e3e3e3" stroke-width="1.3" fill="none"/>
<g transform="translate(679.2 32.2) scale(6.0425 6.0438)" fill="none" stroke-width="1" shape-rendering="crispEdges"><g transform="translate(0 0.5)"><path stroke="#0000a7" d="M43 1h1M1 38h1M3 39h1"/><path stroke="#0000b7" d="M45 1h1M18 6h1M64 10h1M67 13h1M8 15h1M5 19h1M2 24h1M3 25h1M2 27h1M1 32h1M79 34h1M76 36h1M3 37h1M3 38h3M0 43h1M2 43h1M1 46h1M78 47h1M73 57h1M69 63h1M9 65h1M68 65h1M65 68h1M15 70h1M64 70h1M17 71h1M21 74h1M58 74h1M24 76h1M28 76h1M28 77h1M47 78h1"/><path stroke="#0000c7" d="M34 1h3M38 1h1M44 1h1M26 2h1M30 2h1M26 3h1M49 3h1M51 3h1M21 5h1M57 5h1M19 6h1M21 6h1M57 6h1M61 7h1M16 9h1M62 9h1M61 10h1M10 12h1M7 16h1M69 16h1M8 18h1M72 18h1M4 19h1M5 20h1M7 20h1M73 21h1M4 23h1M74 23h1M4 27h1M1 30h1M78 30h1M1 31h1M77 31h1M1 36h1M1 37h1M4 37h1M78 37h1M2 38h1M1 39h2M4 39h1M1 40h1M79 41h1M1 45h1M78 45h1M78 46h1M2 47h1M2 48h1M78 48h1M77 50h1M72 51h1M76 51h1M4 57h1M4 58h3M6 59h1M71 59h1M73 59h1M72 61h1M7 62h1M7 63h1M70 63h1M10 65h1M11 67h1M12 68h1M63 69h2M14 70h1M63 70h1M16 71h1M19 74h1M24 75h1M25 76h1M29 77h1M31 77h1M33 77h1M35 77h1M41 77h1M43 77h1M42 78h1M49 78h1M43 79h1M46 79h1"/><path stroke="#0000d7" d="M31 1h1M41 1h1M47 1h1M27 2h3M31 2h1M37 2h1M46 2h2M49 2h3M25 3h1M27 3h4M34 3h1M50 3h1M52 3h2M22 4h3M38 4h1M54 4h3M20 5h1M22 5h1M53 5h2M20 6h1M52 6h1M58 7h1M15 8h1M17 8h1M14 9h1M59 9h2M63 9h1M14 11h1M65 11h1M12 12h1M15 12h1M64 12h2M10 13h1M9 14h2M65 14h1M67 14h2M7 15h1M10 15h1M68 15h2M9 16h1M67 16h2M67 17h1M71 17h1M69 19h1M72 20h2M4 21h1M73 22h2M6 23h1M75 23h1M3 24h1M7 25h1M74 25h1M2 26h1M2 29h1M77 29h1M2 30h2M77 30h1M75 31h1M76 32h1M77 33h2M1 34h3M0 35h1M78 35h2M79 36h1M2 37h1M6 38h1M0 39h1M5 39h1M2 40h1M4 40h1M78 40h1M0 41h1M78 42h1M3 43h1M79 43h1M2 45h1M77 47h1M1 48h1M3 49h1M76 49h2M2 50h1M4 50h1M75 51h1M74 52h2M4 53h1M6 53h1M3 54h1M74 54h2M73 56h1M72 57h1M72 58h1M10 59h1M72 59h1M70 60h1M72 60h1M8 61h1M69 61h3M8 62h1M10 62h1M69 62h2M68 63h1M68 64h1M10 66h1M67 66h1M16 67h1M62 67h1M62 68h1M13 69h1M18 69h1M20 70h1M62 71h1M59 72h2M19 73h2M54 73h1M22 74h1M54 74h1M57 74h1M23 75h1M25 75h2M55 75h1M26 76h1M29 76h1M54 76h1M34 77h1M48 77h1M51 77h1M33 78h2M39 78h1M43 78h2M46 78h1M48 78h1M33 79h1M36 79h1M39 79h1"/><path stroke="#0000e7" d="M33 1h1M37 1h1M39 1h1M42 1h1M34 2h1M38 2h5M48 2h1M32 3h1M36 3h1M38 3h1M25 4h2M28 4h1M45 4h1M48 4h1M52 4h1M24 5h2M28 5h1M48 5h1M23 6h1M55 6h2M58 6h1M17 7h1M19 7h1M19 8h1M54 8h1M57 8h1M60 8h3M15 9h1M14 10h1M17 10h1M60 10h1M61 11h1M63 11h2M11 12h1M66 12h1M66 13h1M68 13h1M13 14h1M9 15h1M8 16h1M7 17h1M9 17h1M6 18h2M7 19h1M71 19h1M9 20h1M71 20h1M5 21h3M4 22h2M70 22h1M3 23h1M72 23h1M4 24h1M74 24h1M5 25h1M71 25h1M75 25h1M3 26h1M74 26h3M3 27h1M5 27h1M75 27h2M2 28h1M5 28h2M73 28h1M77 28h1M73 29h2M76 29h1M72 30h1M78 31h1M2 32h1M77 32h2M1 33h2M5 34h1M78 34h1M1 35h1M77 36h1M5 37h1M77 37h1M78 38h1M77 39h1M3 40h1M4 41h1M75 41h1M78 41h1M0 42h2M1 43h1M1 44h1M76 44h1M76 45h2M2 46h1M4 46h1M76 46h2M4 47h1M76 47h1M4 48h1M75 49h1M6 50h1M74 50h1M76 50h1M71 51h1M2 52h1M4 52h2M3 53h1M75 53h1M5 54h1M7 54h1M4 55h1M73 55h2M71 56h2M5 57h1M71 58h1M5 59h1M6 61h2M10 63h1M66 63h2M13 65h2M11 66h1M65 66h1M12 67h1M14 67h1M63 67h2M66 67h1M13 68h2M61 68h1M15 69h1M61 69h1M59 70h1M15 71h1M57 71h2M60 71h1M18 72h1M21 73h2M55 73h1M59 73h1M20 74h1M23 74h1M26 74h1M34 74h1M55 74h2M29 75h1M49 75h2M53 75h1M27 76h1M30 76h1M33 76h2M46 76h1M50 76h1M52 76h2M30 77h1M36 77h1M44 77h4M50 77h1M30 78h1M35 78h2M38 78h1M45 78h1M40 79h2"/><path stroke="#0000f7" d="M40 1h1M32 2h1M45 2h1M31 3h1M37 3h1M40 3h2M44 3h1M46 3h2M29 4h2M32 4h1M34 4h1M41 4h1M46 4h1M49 4h2M53 4h1M23 5h1M26 5h1M31 5h1M36 5h2M43 5h1M45 5h1M50 5h3M55 5h2M22 6h1M24 6h3M30 6h1M49 6h1M18 7h1M20 7h1M23 7h1M51 7h1M54 7h2M59 7h1M16 8h1M18 8h1M22 8h1M18 9h1M61 9h1M13 10h1M15 10h1M62 10h2M12 11h2M15 11h1M60 11h1M62 11h1M13 12h2M63 12h1M12 13h3M66 14h1M13 15h1M66 16h1M11 17h1M66 17h1M69 17h2M12 18h1M67 18h1M70 18h2M6 19h1M8 19h2M70 19h1M72 19h1M69 20h2M72 21h1M71 22h1M70 23h1M73 23h1M5 24h1M74 27h1M71 28h1M74 28h1M76 28h1M75 29h1M4 30h1M2 31h2M76 31h1M74 32h1M77 34h1M2 35h1M77 35h1M3 36h2M75 36h1M78 36h1M75 39h1M78 39h1M76 40h1M1 41h3M77 41h1M76 42h2M77 43h2M2 44h2M77 44h2M75 46h1M74 48h4M2 49h1M6 49h1M5 50h1M2 51h2M6 51h1M73 51h1M3 52h1M6 52h1M72 52h2M74 53h1M4 54h1M6 54h1M71 55h1M4 56h2M8 56h1M7 57h1M7 58h1M68 58h1M7 59h1M69 59h1M6 60h3M10 60h1M68 60h2M71 60h1M9 61h1M68 61h1M67 62h2M8 63h2M9 64h2M66 64h1M11 65h1M15 65h1M61 65h1M67 65h1M13 66h2M66 66h1M15 67h1M65 67h1M63 68h2M14 69h1M17 69h1M62 69h1M16 70h4M56 70h1M60 70h3M18 71h2M23 71h1M55 71h2M59 71h1M17 72h1M19 72h1M23 72h3M51 72h1M55 72h1M58 72h1M23 73h2M27 73h1M29 73h1M53 73h1M56 73h3M24 74h2M39 74h1M50 74h1M53 74h1M22 75h1M27 75h1M38 75h1M44 75h2M51 75h1M54 75h1M31 76h2M36 76h1M38 76h1M40 76h1M44 76h2M47 76h2M51 76h1M42 77h1M37 78h1"/><path stroke="#0008ff" d="M33 2h1M43 2h2M35 3h1M39 3h1M42 3h1M45 3h1M54 3h1M27 4h1M31 4h1M36 4h1M40 4h1M44 4h1M27 5h1M32 5h1M28 6h1M48 6h1M53 6h1M21 7h1M28 7h1M50 7h1M56 7h1M60 7h1M58 8h2M17 9h1M20 9h1M55 9h3M19 10h2M59 10h1M18 11h1M59 11h1M16 12h1M61 12h1M62 13h1M65 13h1M65 15h1M65 16h1M8 17h1M69 18h1M11 19h1M68 19h1M6 20h1M8 21h1M70 21h2M6 22h2M72 22h1M5 23h1M68 23h1M71 23h1M70 24h1M72 24h1M4 25h1M6 25h1M73 25h1M4 26h3M71 26h1M6 27h1M73 27h1M4 28h1M75 28h1M3 29h2M5 30h1M73 30h4M4 31h1M3 32h1M3 33h1M76 33h1M3 35h2M75 35h2M2 36h1M74 38h1M76 38h2M76 39h1M79 39h1M5 40h1M77 40h1M76 41h1M2 42h2M4 44h1M3 47h1M73 47h1M75 47h1M73 48h1M3 50h1M4 51h1M7 52h1M5 53h1M72 53h2M71 54h3M5 55h2M6 56h1M6 57h1M69 57h1M71 57h1M8 58h1M70 58h1M8 59h2M68 59h1M66 61h1M9 62h1M66 62h1M11 63h2M11 64h1M64 64h2M67 64h1M12 65h1M62 66h3M17 67h1M61 67h1M15 68h1M20 68h1M16 69h1M22 69h1M57 69h1M20 71h2M61 71h1M22 72h1M26 72h1M57 72h1M26 73h1M48 73h1M28 74h1M33 74h1M37 74h1M46 74h1M48 74h2M30 75h2M37 75h1M41 75h1M43 75h1M47 75h1M52 75h1M35 76h1M41 76h3M32 77h1M37 77h2M40 77h1M49 77h1M32 78h1M40 78h2"/><path stroke="#0018ff" d="M35 2h1M43 3h1M48 3h1M35 4h1M42 4h1M47 4h1M51 4h1M29 5h2M33 5h1M39 5h1M41 5h1M49 5h1M29 6h1M31 6h2M50 6h2M54 6h1M22 7h1M27 7h1M52 7h2M57 7h1M20 8h2M24 8h1M53 8h1M56 8h1M19 9h1M23 9h1M16 10h1M18 10h1M22 10h1M57 10h2M17 11h1M60 12h1M62 12h1M16 13h1M63 13h1M11 14h2M15 14h1M62 14h3M12 15h1M64 15h1M67 15h1M10 16h2M12 17h1M9 18h1M67 20h1M9 21h1M67 21h1M69 21h1M7 23h1M6 24h2M71 24h1M73 24h1M72 25h1M73 26h1M3 28h1M6 31h1M4 32h1M75 32h1M5 33h1M73 33h2M74 34h1M74 35h1M5 36h1M73 36h1M75 37h1M6 39h1M75 40h1M6 43h1M74 43h1M6 44h1M4 45h3M74 45h2M5 46h2M74 47h1M3 48h1M4 49h2M74 49h1M7 50h1M73 50h1M75 50h1M5 51h1M74 51h1M71 53h1M70 54h1M8 55h1M7 56h1M69 56h1M8 57h2M70 57h1M69 58h1M67 60h1M11 61h1M67 61h1M13 63h1M65 63h1M62 64h1M64 65h3M12 66h1M16 66h1M13 67h1M18 67h1M16 68h1M18 68h2M59 68h1M19 69h1M22 70h1M22 71h1M24 71h1M20 72h2M35 72h1M53 72h1M25 73h1M45 73h1M47 73h1M49 73h3M29 74h1M31 74h2M36 74h1M38 74h1M47 74h1M52 74h1M28 75h1M32 75h1M34 75h1M36 75h1M39 75h2M42 75h1M46 75h1M37 76h1M39 76h1M39 77h1"/><path stroke="#0028ff" d="M36 2h1M33 3h1M33 4h1M37 4h1M34 5h2M38 5h1M40 5h1M46 5h2M27 6h1M33 6h2M47 6h1M24 7h1M26 7h1M29 7h1M47 7h3M52 8h1M55 8h1M21 9h1M54 9h1M58 9h1M16 11h1M19 11h1M64 13h1M14 14h1M11 15h1M66 15h1M12 16h1M64 16h1M13 17h1M68 17h1M10 18h1M68 18h1M8 20h1M10 20h1M8 22h1M8 23h1M7 26h1M72 26h1M72 28h1M5 29h2M5 31h1M73 31h2M5 32h1M7 32h1M4 33h1M75 33h1M4 34h1M75 34h2M5 35h2M6 37h1M76 37h1M7 38h1M5 41h1M4 42h1M73 42h2M73 43h1M75 43h2M74 44h1M3 45h1M3 46h1M74 46h1M5 48h2M72 50h1M8 54h1M72 55h1M9 56h1M9 58h1M67 59h1M9 60h1M11 60h1M12 62h1M14 63h1M64 63h1M63 64h1M15 66h1M18 66h1M59 67h1M17 68h1M58 68h1M60 68h1M21 69h1M58 69h2M54 70h2M57 70h2M53 71h1M28 72h1M56 72h1M30 73h1M36 73h1M52 73h1M30 74h1M41 74h1M44 74h2M51 74h1M35 75h1M48 75h1M49 76h1"/><path stroke="#0038ff" d="M39 4h1M44 5h1M44 6h3M25 7h1M23 8h1M27 8h1M22 9h1M21 10h1M56 11h2M17 12h1M11 13h1M15 13h1M18 13h1M59 13h1M16 14h1M63 16h1M10 17h1M64 17h1M11 18h1M66 18h1M10 19h1M67 19h1M68 22h2M8 24h1M8 25h1M70 25h1M7 27h1M71 27h2M72 29h1M6 33h1M74 36h1M74 37h1M75 38h1M74 40h1M72 42h1M75 42h1M5 43h1M75 44h1M73 45h1M73 46h1M5 47h1M73 49h1M71 50h1M8 51h1M7 53h1M69 55h2M70 56h1M11 59h1M12 60h1M66 60h1M12 61h1M11 62h1M63 62h1M65 62h1M63 63h1M13 64h1M63 65h1M60 66h1M60 67h1M20 69h1M60 69h1M21 70h1M23 70h1M54 71h1M52 72h1M32 73h1M46 73h1M27 74h1M35 74h1M42 74h1M33 75h1"/><path stroke="#0048ff" d="M43 4h1M42 5h1M37 6h3M43 6h1M26 8h1M55 10h2M58 11h1M18 12h1M17 13h1M60 13h2M61 14h1M14 15h1M13 16h1M62 16h1M12 20h1M68 20h1M10 21h1M9 22h1M69 24h1M8 26h1M71 30h1M73 32h1M7 34h1M73 34h1M8 37h1M6 41h1M74 41h1M4 43h1M5 44h1M6 47h2M70 51h1M9 54h1M7 55h1M68 56h1M10 57h1M10 58h1M70 59h1M10 61h1M65 61h1M15 62h1M12 64h1M59 65h2M58 67h1M53 69h1M52 70h1M25 71h1M27 72h1M30 72h1M54 72h1M28 73h1M43 74h1"/><path stroke="#0058ff" d="M42 6h1M30 7h1M42 7h1M53 9h1M20 11h1M19 12h1M59 12h1M60 14h1M15 15h1M63 15h1M65 17h1M66 19h1M66 20h1M10 25h1M69 25h1M7 28h2M71 29h1M7 31h1M72 34h1M8 39h1M74 39h1M72 44h1M71 47h1M7 51h1M10 56h1M68 57h1M11 58h1M66 58h1M66 59h1M64 61h1M13 62h2M14 64h2M61 64h1M16 65h1M62 65h1M17 66h1M59 66h1M61 66h1M19 67h2M55 69h2M26 71h1M52 71h1M45 72h1M50 72h1"/><path stroke="#0068ff" d="M35 6h1M31 7h2M43 7h1M25 8h1M28 8h1M39 8h1M49 8h1M24 9h1M27 9h1M51 9h1M58 12h1M62 15h1M63 17h1M13 18h1M65 19h1M66 21h1M10 22h1M9 23h1M69 23h1M69 26h2M8 27h1M7 29h1M6 30h1M64 31h1M6 34h1M6 36h1M73 37h1M6 40h2M5 42h1M72 46h1M7 48h1M8 52h1M71 52h1M9 53h1M70 53h1M9 55h1M13 58h1M65 58h1M67 58h1M13 61h1M64 62h1M16 64h1M22 67h1M25 67h1M21 68h1M23 68h1M23 69h1M24 70h1M53 70h1M28 71h1M29 72h1M49 72h1M31 73h1M35 73h1M40 73h2M44 73h1"/><path stroke="#0078ff" d="M41 6h1M38 7h1M40 7h1M44 7h3M29 8h1M50 8h2M23 10h2M53 10h2M22 11h1M6 32h1M7 37h1M73 40h1M6 42h1M72 43h1M71 48h1M72 49h1M8 53h1M69 54h1M10 55h1M62 63h1M60 64h1M17 65h1M22 68h1M54 68h1M24 69h1M54 69h1M47 72h1M33 73h2M40 74h1"/><path stroke="#0087ff" d="M33 7h1M30 8h1M33 8h1M36 8h1M25 9h1M49 9h1M52 9h1M23 11h1M20 12h2M57 12h1M61 15h1M52 18h1M65 18h1M11 21h1M68 24h1M68 25h1M69 28h1M70 29h1M7 30h1M70 30h1M72 31h1M73 35h1M72 37h1M73 39h1M12 44h1M73 44h1M72 48h1M7 49h1M70 49h1M70 52h1M69 53h1M68 55h1M66 57h2M64 59h1M61 62h2M21 67h1M51 68h2M56 68h1M51 69h1M29 71h1M32 71h1M50 71h1M33 72h1M39 72h1M48 72h1M38 73h2M43 73h1"/><path stroke="#0097ff" d="M40 6h1M35 7h1M41 7h1M31 8h1M44 10h1M54 11h2M22 12h1M51 12h1M58 14h1M14 16h1M12 19h1M13 20h1M12 21h1M68 21h1M67 22h1M9 24h1M8 29h1M72 33h1M8 38h1M73 38h1M8 40h2M72 40h1M72 47h1M12 58h1M64 60h1M19 66h1M21 66h1M58 66h1M42 67h1M56 67h1M25 68h1M53 68h1M29 69h1M47 69h1M44 71h1M51 71h1"/><path stroke="#00a7ff" d="M36 6h1M39 7h1M38 8h1M48 8h1M28 9h1M32 9h1M47 9h1M50 10h1M34 11h1M36 12h1M38 12h1M19 14h1M59 14h1M16 15h3M17 16h1M14 17h1M22 17h1M60 20h1M67 23h1M66 25h1M9 26h1M70 27h1M72 32h1M11 34h1M72 36h1M69 44h1M69 45h1M70 48h1M71 49h1M9 52h1M68 53h1M32 55h1M11 56h1M66 56h1M11 57h1M61 57h1M12 59h1M65 60h1M57 68h1M50 70h1M49 71h1M46 72h1"/><path stroke="#00b7ff" d="M26 9h1M30 9h1M39 9h1M21 11h1M50 13h1M57 13h1M17 14h1M16 16h1M31 17h1M62 17h1M64 18h1M54 22h1M10 24h1M12 24h1M52 28h1M19 29h1M71 33h1M7 36h2M10 37h1M9 38h1M7 39h1M72 39h1M73 41h1M71 43h1M7 44h1M7 45h1M7 46h2M8 47h2M10 49h1M62 50h1M11 51h1M69 51h1M69 52h1M15 53h1M54 53h1M11 54h1M68 54h1M59 56h1M64 58h1M15 59h1M34 59h1M13 60h1M60 60h1M62 60h1M14 61h1M15 63h1M17 63h1M22 63h1M61 63h1M24 67h1M25 70h2M51 70h1M27 71h1M31 71h1M33 71h1M32 72h1M34 72h1M42 72h1M44 72h1M42 73h1"/><path stroke="#00c7ff" d="M34 8h2M43 8h1M37 9h1M50 9h1M25 10h1M31 10h1M33 11h1M53 11h1M19 13h2M28 13h1M20 15h1M58 15h1M15 16h1M61 16h1M58 17h1M32 18h1M13 22h1M10 23h1M20 24h1M46 27h1M69 27h1M10 28h1M67 28h1M70 28h1M10 29h1M22 29h1M68 29h1M8 30h1M68 32h1M71 32h1M71 34h1M71 35h1M70 36h1M9 37h1M71 37h1M9 41h1M71 41h1M18 44h1M60 44h2M72 45h1M71 46h1M8 48h1M15 49h1M50 49h1M13 50h1M67 51h1M63 54h1M65 54h1M14 55h1M67 55h1M13 56h1M14 58h1M57 58h1M63 59h1M14 60h1M21 63h1M60 63h1M25 64h1M46 64h1M54 64h1M26 66h1M35 67h1M54 67h1M55 68h1M25 69h1M52 69h1M27 70h1M39 71h1M48 71h1M31 72h1M41 72h1"/><path stroke="#00d7ff" d="M37 7h1M40 8h2M29 9h1M36 9h1M32 10h1M39 10h1M41 10h1M48 10h1M51 10h2M53 12h1M23 13h1M25 13h1M24 15h1M22 16h1M60 16h1M46 17h1M36 18h1M63 18h1M17 19h1M64 19h1M11 20h1M63 20h1M12 22h1M66 22h1M64 23h1M66 23h1M11 24h1M64 25h1M67 25h1M24 26h1M65 27h1M12 28h1M58 28h1M9 29h1M71 31h1M66 32h1M9 33h1M63 33h1M7 35h1M9 35h2M69 36h1M11 38h1M72 38h1M9 39h1M67 39h1M71 40h1M60 43h1M8 44h1M68 44h1M11 45h1M10 46h1M65 46h1M67 46h1M65 50h1M9 51h1M17 52h1M67 52h1M17 54h1M62 54h1M63 57h1M15 60h1M18 60h1M22 61h1M24 61h1M59 61h1M61 61h1M63 61h1M16 62h1M22 62h1M26 63h1M20 64h1M47 64h1M56 64h1M59 64h1M18 65h2M20 66h1M25 66h1M28 66h1M32 66h1M56 66h1M51 67h1M57 67h1M39 68h1M50 69h1M41 70h1M37 71h1M40 71h1M43 72h1M37 73h1"/><path stroke="#00e7ff" d="M34 7h1M36 7h1M32 8h1M31 9h1M41 9h1M28 10h1M49 10h1M25 11h1M42 11h1M50 12h1M22 13h1M58 13h1M18 14h1M20 14h1M22 14h1M41 14h1M53 14h1M35 15h1M60 15h1M27 16h1M33 16h1M50 16h1M15 17h2M48 17h1M55 17h1M57 17h1M14 18h1M60 18h2M32 20h1M64 20h1M11 22h1M12 23h1M63 23h1M9 25h1M10 26h1M62 26h1M25 27h1M64 29h1M69 29h1M60 30h1M65 31h1M13 32h1M49 32h1M7 33h1M66 33h1M70 35h1M72 35h1M21 36h1M12 40h2M72 41h1M13 43h1M15 44h1M59 44h1M9 45h1M66 46h1M13 47h1M57 47h1M66 47h1M69 48h1M8 49h1M9 50h1M12 50h1M17 50h1M20 50h1M70 50h1M56 52h1M10 53h1M14 53h1M17 53h1M67 53h1M16 56h1M60 56h1M67 56h1M14 57h1M50 57h1M21 58h1M13 59h1M35 59h1M21 61h1M60 61h1M58 62h1M59 63h1M32 64h1M36 64h1M57 64h1M36 65h1M58 65h1M55 67h1M48 68h1M28 70h1M31 70h1M46 70h1M49 70h1M30 71h1M35 71h1M37 72h1"/><path stroke="#00f7ff" d="M37 8h1M47 8h1M29 10h2M28 11h1M30 11h1M44 11h1M49 11h1M43 12h1M26 13h1M56 14h1M23 15h1M27 15h1M42 16h1M15 18h1M51 18h1M31 20h1M16 22h1M22 22h1M11 23h1M17 23h1M39 23h1M57 23h1M65 25h1M34 26h1M37 26h1M57 26h1M66 26h1M68 26h1M9 27h1M13 27h1M9 28h1M51 28h1M65 28h1M14 29h1M9 30h1M20 30h1M66 30h1M8 31h1M61 31h1M9 32h2M14 32h1M69 32h2M8 34h1M67 35h1M67 36h1M24 38h1M71 38h1M13 39h1M7 41h1M67 41h1M8 42h1M68 45h1M9 46h1M14 46h1M64 46h1M10 50h2M54 50h1M13 51h1M51 52h1M66 52h1M10 54h1M64 54h1M66 55h1M61 56h1M12 57h2M62 57h1M30 58h1M60 58h1M14 59h1M54 60h1M63 60h1M15 61h2M37 61h2M56 61h1M55 62h1M59 62h2M16 63h1M19 63h1M17 64h3M28 64h1M43 64h1M24 65h1M49 65h1M50 66h1M57 66h1M23 67h1M30 67h1M32 67h1M46 67h1M26 68h1M31 68h1M33 68h1M35 68h1M47 68h1M40 70h1M47 70h1M36 72h1M38 72h1"/><path stroke="#08fff7" d="M45 8h1M42 9h1M27 10h1M24 11h1M31 11h1M51 11h2M46 12h1M54 12h2M31 13h1M40 13h1M56 13h1M26 14h1M57 14h1M56 15h1M18 16h2M24 16h1M54 16h1M24 17h1M27 17h2M21 18h1M44 18h1M56 18h1M16 20h1M18 20h1M45 20h1M53 20h1M35 22h1M60 23h1M13 24h2M44 24h1M60 24h1M13 25h1M23 25h1M27 25h1M57 25h1M56 26h1M62 27h1M64 27h1M66 27h1M11 28h1M66 28h1M10 30h1M9 31h2M59 31h1M67 32h1M8 33h1M17 33h1M69 33h1M9 34h2M59 35h1M9 36h1M11 36h1M17 36h1M62 36h1M12 37h1M71 39h1M67 42h1M69 42h1M7 43h1M70 43h1M8 45h1M10 45h1M65 45h1M62 46h1M56 47h1M69 47h2M18 48h1M25 48h1M11 49h1M22 50h1M66 51h1M10 52h1M63 52h1M13 53h1M12 54h1M60 54h1M49 55h1M12 56h1M20 57h1M25 57h1M53 57h1M60 57h1M59 58h1M61 58h2M18 59h1M30 59h2M61 60h1M62 61h1M17 62h1M19 62h1M24 62h1M53 62h1M43 63h1M58 63h1M29 64h1M58 64h1M20 65h1M39 65h2M57 65h1M23 66h2M27 66h1M34 66h1M44 66h1M47 67h1M50 67h1M28 68h1M46 68h1M33 69h1M42 69h1M42 70h1M45 70h1M42 71h1M45 71h1M47 71h1"/><path stroke="#18ffe7" d="M46 8h1M43 9h2M26 10h1M33 10h1M35 10h2M26 11h1M33 12h1M42 12h1M52 12h1M56 12h1M21 13h1M39 13h1M25 14h1M30 14h1M35 14h1M38 14h1M55 14h1M19 15h1M38 15h1M49 15h1M52 15h1M59 15h1M21 16h1M25 16h1M31 16h1M40 16h1M17 18h1M19 18h1M28 18h1M26 19h1M34 19h1M39 19h1M46 19h1M59 19h1M62 19h2M52 21h1M54 21h1M58 21h1M62 21h1M14 22h1M65 22h1M47 23h1M56 23h1M62 23h1M65 23h1M24 24h1M25 25h1M35 25h1M49 25h1M58 25h1M12 26h1M23 26h1M27 27h1M11 29h1M27 29h1M66 29h2M55 30h1M59 30h1M63 30h1M69 30h1M52 31h1M70 31h1M57 32h1M65 32h1M21 33h1M58 33h1M14 34h1M61 34h1M66 34h1M54 35h1M57 35h1M68 35h1M10 36h1M14 37h1M67 37h1M13 38h1M68 38h1M70 38h1M14 39h1M10 41h1M7 42h1M10 43h1M62 43h1M68 43h1M71 44h1M11 46h1M17 46h1M24 46h1M35 46h1M58 46h1M68 46h1M10 47h1M68 47h1M9 48h2M68 48h1M9 49h1M12 49h1M55 49h1M56 50h1M13 52h1M68 52h1M19 54h1M47 55h1M55 55h1M61 55h1M20 56h2M44 56h1M64 56h1M59 57h1M22 58h1M38 58h1M63 58h1M16 59h1M62 59h1M65 59h1M21 60h1M20 61h1M49 61h1M40 62h1M31 63h1M33 63h1M48 63h1M51 63h1M57 63h1M22 65h1M25 65h1M32 65h1M35 65h1M38 65h1M52 65h2M31 66h1M41 67h1M49 67h1M52 67h1M36 68h1M42 68h1M31 69h1M34 69h1M40 69h1M29 70h2M39 70h1M36 71h1M41 71h1"/><path stroke="#28ffd7" d="M42 8h1M44 8h1M34 9h1M38 9h1M40 9h1M46 9h1M38 10h1M45 10h3M29 11h1M32 11h1M36 11h1M47 11h1M23 12h1M25 12h1M28 12h1M35 12h1M30 13h1M34 13h1M41 13h1M47 13h2M53 13h1M21 14h1M23 14h2M37 14h1M43 14h1M54 14h1M22 15h1M40 15h1M45 15h1M37 16h1M48 16h1M53 16h1M23 17h1M36 17h1M47 17h1M51 17h1M59 17h1M20 18h1M26 18h1M45 18h1M59 18h1M13 19h2M37 19h1M15 20h1M59 20h1M62 20h1M65 20h1M15 21h1M57 21h1M59 21h1M61 21h1M64 21h2M32 23h2M57 24h1M65 24h1M19 25h1M21 25h1M11 26h1M13 26h1M58 26h1M65 26h1M67 26h1M44 27h1M13 28h2M18 28h1M61 28h1M12 29h1M12 30h1M19 30h1M34 30h1M54 30h1M61 30h1M68 30h1M11 31h1M13 31h1M58 31h1M68 31h2M8 32h1M10 33h1M16 33h1M29 33h1M70 33h1M19 34h1M70 34h1M15 35h1M23 36h1M16 37h1M24 37h1M68 37h1M70 37h1M15 38h1M49 38h1M64 38h1M69 39h1M69 40h1M60 42h1M58 43h1M65 43h1M69 43h1M11 44h1M29 44h1M48 44h1M47 45h1M59 45h1M66 45h1M71 45h1M50 46h1M63 46h1M69 46h2M24 47h1M64 47h1M15 48h1M61 48h1M68 49h1M63 50h1M10 51h1M15 51h1M17 51h1M11 52h1M62 52h1M11 53h1M21 53h1M26 53h1M67 54h1M16 55h1M19 55h1M24 55h1M26 55h1M59 55h1M62 55h2M65 55h1M24 56h1M63 56h1M29 57h1M35 57h1M42 57h1M54 57h1M57 57h1M20 59h1M23 59h1M39 59h1M49 59h1M35 60h1M57 60h1M59 60h1M18 61h2M18 62h1M20 62h1M27 62h1M46 63h1M22 64h1M24 64h1M41 64h1M55 64h1M37 65h1M47 65h1M54 65h2M33 66h1M37 66h1M41 66h1M44 67h1M24 68h1M27 68h1M30 68h1M26 69h3M35 69h1M44 69h1M49 69h1M32 70h2M35 70h1M37 70h1M38 71h1"/><path stroke="#38ffc7" d="M48 9h1M34 10h1M37 10h1M38 11h2M45 11h1M50 11h1M26 12h2M29 12h2M44 12h2M47 12h1M24 13h1M35 13h1M46 13h1M52 13h1M50 14h2M44 15h1M32 16h1M36 16h1M57 16h2M18 17h1M42 17h1M52 17h1M56 17h1M16 18h1M18 18h1M23 18h1M53 18h1M55 18h1M23 19h1M17 20h1M21 20h1M57 20h2M13 21h1M18 21h1M20 22h1M52 22h1M13 23h1M15 23h1M19 23h2M22 23h1M61 23h1M15 24h1M12 25h1M24 25h1M28 25h1M17 26h1M53 26h1M61 26h1M14 27h1M49 27h1M57 27h1M42 28h1M64 28h1M68 28h1M11 30h1M51 30h1M57 30h1M26 31h1M12 32h1M67 33h1M17 34h1M67 34h1M8 35h1M20 35h1M23 35h1M28 36h1M65 36h1M71 36h1M26 37h1M69 37h1M50 38h1M63 38h1M10 39h1M61 39h1M61 40h1M53 41h1M58 41h1M69 41h1M14 42h1M48 42h1M58 42h1M62 42h1M65 42h1M36 43h1M49 43h1M59 43h1M67 43h1M66 44h2M67 45h1M15 47h1M54 47h1M67 47h1M59 48h1M64 48h1M66 48h2M22 49h1M27 49h1M48 49h1M56 49h1M64 49h1M8 50h1M15 50h1M64 50h1M67 50h3M28 51h1M41 51h1M63 51h1M19 52h1M54 52h1M64 52h1M16 53h1M58 53h1M62 53h1M14 54h1M18 54h1M35 54h1M66 54h1M11 55h1M13 55h1M29 55h1M31 55h1M58 55h1M57 56h1M15 57h1M29 58h1M45 58h1M54 58h1M58 58h1M27 59h1M17 60h1M22 60h1M29 60h1M38 60h1M32 61h1M55 61h1M58 61h1M46 62h1M20 63h1M36 63h1M50 63h1M56 63h1M30 64h1M35 64h1M50 64h1M21 65h1M23 65h1M27 65h1M45 65h1M48 65h1M56 65h1M43 66h1M49 66h1M53 66h1M55 66h1M27 67h2M38 67h1M40 67h1M53 67h1M43 68h1M34 70h1M34 71h1"/><path stroke="#48ffb7" d="M42 10h1M24 12h1M31 12h2M37 12h1M49 12h1M38 13h1M51 13h1M55 13h1M36 14h1M46 14h1M49 14h1M30 15h1M32 15h1M39 15h1M51 15h1M54 15h2M30 16h1M41 16h1M47 16h1M17 17h1M21 17h1M29 17h1M45 17h1M61 17h1M37 18h1M41 18h1M46 18h1M16 19h1M25 20h1M27 20h2M30 20h1M33 20h1M56 20h1M61 20h1M14 21h1M23 21h1M63 21h1M23 22h1M58 22h1M60 22h1M64 22h1M16 23h1M21 23h1M28 23h1M55 24h1M59 24h1M63 24h1M67 24h1M14 25h1M18 25h1M39 25h1M63 25h1M14 26h1M22 26h1M27 26h1M10 27h2M36 27h1M56 27h1M61 27h1M68 27h1M35 28h1M62 28h1M24 29h1M43 29h1M51 29h2M56 29h2M13 30h1M21 30h1M64 30h1M58 32h2M62 32h1M12 33h1M14 33h1M19 33h1M13 34h1M60 34h1M64 34h1M11 35h2M43 35h1M12 36h1M15 36h1M59 36h1M68 36h1M11 37h1M63 37h1M10 38h1M18 38h1M26 38h1M65 38h2M70 40h1M56 41h1M64 41h1M70 41h1M9 42h1M63 42h1M8 43h1M22 44h1M36 44h1M50 44h1M12 45h1M17 45h1M62 45h1M70 45h1M19 46h1M11 47h1M26 47h1M50 48h1M20 49h1M65 49h2M14 50h1M66 50h1M56 51h1M62 51h1M64 51h2M16 52h1M41 52h1M48 52h1M20 53h1M27 53h1M38 53h1M44 53h1M64 53h1M49 54h1M53 54h1M12 55h1M25 55h1M26 56h1M50 56h1M55 56h1M58 56h1M65 56h1M65 57h1M28 58h1M49 58h1M51 58h1M47 59h1M50 59h3M58 59h1M24 60h1M27 60h1M30 60h1M58 60h1M27 61h1M36 61h1M39 61h1M47 61h1M50 61h2M21 62h1M30 62h1M45 62h1M51 62h1M34 63h1M38 63h1M44 63h1M47 63h1M31 64h1M31 65h1M47 66h1M54 66h1M34 67h1M37 68h1M50 68h1M41 69h1M46 71h1"/><path stroke="#58ffa7" d="M33 9h1M40 10h1M48 12h1M27 13h1M32 13h1M44 13h1M27 14h1M29 14h1M32 14h1M45 14h1M47 14h1M52 14h1M29 15h1M31 15h1M47 15h1M57 15h1M46 16h1M52 16h1M25 17h2M30 17h1M41 17h1M22 18h1M39 18h1M49 18h1M57 18h1M15 19h1M22 19h1M42 19h1M57 19h1M60 19h1M14 20h1M19 20h1M29 20h1M36 20h1M49 20h1M55 20h1M17 21h1M19 21h1M33 21h1M40 21h1M45 21h1M48 21h1M56 21h1M15 22h1M28 22h1M51 22h1M63 22h1M23 23h1M36 23h1M50 24h1M52 24h1M11 25h1M19 26h1M52 26h1M12 27h1M20 27h1M34 27h1M38 27h1M59 27h1M27 28h1M48 28h1M55 28h1M59 28h1M16 29h1M48 29h1M55 29h1M21 31h1M36 31h1M66 31h1M15 32h1M19 32h1M47 32h1M11 33h1M15 33h1M23 33h1M25 33h1M61 33h1M65 33h1M15 34h1M52 34h1M57 34h1M65 34h1M60 35h1M69 35h1M13 36h2M52 36h1M66 36h1M13 37h1M20 37h1M61 37h1M65 37h1M52 38h1M54 38h1M67 38h1M69 38h1M11 39h1M64 39h1M68 39h1M19 41h1M60 41h1M66 41h1M19 42h1M21 42h1M56 42h1M70 42h1M18 43h1M66 43h1M9 44h1M16 44h1M63 44h2M18 45h1M21 45h1M61 45h1M16 46h1M20 46h2M56 46h1M40 47h2M50 47h1M59 47h1M62 47h1M31 48h1M63 48h1M16 49h2M23 49h1M47 49h1M63 49h1M69 49h1M47 50h1M52 51h1M20 52h1M24 52h1M32 52h1M58 52h2M61 52h1M18 53h1M30 53h1M39 53h1M46 53h1M55 53h1M61 53h1M63 53h1M13 54h1M61 54h1M15 55h1M23 55h1M17 56h1M30 56h1M38 56h1M56 56h1M62 56h1M16 57h1M26 57h2M40 57h1M18 58h1M26 58h2M36 58h1M53 58h1M21 59h1M29 59h1M42 59h1M56 59h1M60 59h2M23 60h1M53 60h1M28 61h1M33 61h1M57 61h1M28 62h1M35 62h2M54 62h1M57 62h1M29 63h1M32 63h1M37 63h1M21 64h1M49 64h1M53 64h1M26 65h1M28 65h1M22 66h1M35 66h2M38 66h1M48 66h1M52 66h1M26 67h1M45 67h1M38 68h1M40 68h1M32 69h1M38 69h1M45 69h1M38 70h1M44 70h1M48 70h1"/><path stroke="#68ff97" d="M40 11h2M34 12h1M40 12h2M29 13h1M33 13h1M43 13h1M48 14h1M34 15h1M41 15h1M43 15h1M20 16h1M35 16h1M33 17h2M37 17h1M50 17h1M38 18h1M54 18h1M62 18h1M50 19h1M55 19h1M58 19h1M61 19h1M22 20h1M43 20h2M47 20h1M38 21h1M42 21h1M46 21h1M55 21h1M29 22h1M36 22h1M38 22h1M57 22h1M38 23h1M46 23h1M48 23h1M53 23h1M58 23h1M17 24h1M22 24h2M40 24h1M16 25h1M36 25h1M40 25h2M47 25h1M20 26h2M31 26h1M64 26h1M22 27h1M28 27h1M53 27h1M60 27h1M43 28h1M20 29h1M47 29h1M60 29h1M25 30h1M12 31h1M19 31h1M29 31h2M56 31h1M60 31h1M18 32h1M21 32h1M64 32h1M26 33h1M60 33h1M64 33h1M26 34h1M37 34h1M58 34h1M18 35h1M65 35h1M55 36h1M60 36h1M64 36h1M49 37h1M66 37h1M17 38h1M16 39h1M60 39h1M66 39h1M10 40h1M25 40h1M56 40h1M58 40h2M68 40h1M57 41h1M65 41h1M12 42h1M18 42h1M61 42h1M66 42h1M9 43h1M15 43h1M19 43h1M29 43h1M62 44h1M65 44h1M70 44h1M57 46h1M27 47h1M58 47h1M12 48h1M17 48h1M20 48h1M22 48h1M53 48h1M58 48h1M13 49h1M19 49h1M58 49h2M34 50h1M59 50h1M51 51h1M53 51h1M58 51h1M15 52h1M53 52h1M55 52h1M23 53h1M33 53h1M15 54h1M21 54h1M24 54h1M44 54h1M50 54h1M17 55h1M39 55h1M45 55h1M56 55h1M14 56h1M27 56h1M49 56h1M46 57h1M56 57h1M64 57h1M15 58h1M32 58h1M44 58h1M56 58h1M17 59h1M19 59h1M36 59h1M41 59h1M48 59h1M16 60h1M19 60h1M25 60h1M34 60h1M29 61h2M34 61h2M40 61h1M46 61h1M25 62h1M49 62h1M56 62h1M18 63h1M27 63h1M54 63h1M23 64h1M26 64h1M42 64h1M29 66h1M46 66h1M44 68h1M49 68h1M36 70h1M43 71h1"/><path stroke="#78ff87" d="M35 9h1M45 9h1M37 11h1M43 11h1M36 13h2M28 14h1M31 14h1M33 14h1M42 14h1M42 15h1M50 15h1M26 16h1M44 16h1M59 16h1M19 17h1M35 17h1M47 18h1M20 19h1M28 19h1M48 19h1M52 19h1M37 20h1M40 20h1M16 21h1M44 21h1M47 21h1M51 21h1M17 22h2M24 22h1M26 22h2M44 22h2M61 22h1M14 23h1M35 23h1M52 23h1M16 24h1M18 24h1M39 24h1M42 24h1M56 24h1M62 24h1M64 24h1M17 25h1M56 25h1M18 26h1M29 26h1M48 26h2M59 26h2M23 27h1M32 27h1M51 27h1M63 27h1M15 28h1M17 28h1M28 28h1M46 28h1M13 29h1M25 29h1M29 29h2M16 30h1M18 30h1M39 30h1M43 30h1M47 30h1M67 30h1M15 31h1M23 31h1M27 31h1M57 31h1M48 32h1M63 32h1M62 33h1M68 34h1M13 35h1M19 35h1M50 35h1M56 35h1M58 35h1M24 36h1M14 40h1M20 40h1M23 40h1M63 40h1M67 40h1M63 41h1M10 42h1M41 42h1M11 43h2M52 43h1M56 43h1M64 43h1M17 44h1M23 44h1M26 44h1M34 44h1M52 45h1M54 45h1M12 46h2M18 46h1M23 46h1M16 47h1M20 47h1M11 48h1M13 48h1M57 48h1M65 48h1M21 49h1M25 49h1M31 49h1M44 49h1M52 49h1M60 49h1M27 50h1M55 50h1M24 51h1M68 51h1M44 52h1M65 53h2M27 54h1M57 54h1M20 55h1M22 55h1M36 55h1M42 55h1M57 55h1M15 56h1M19 56h1M25 56h1M51 56h1M54 56h1M19 57h1M33 57h1M44 57h1M17 58h1M19 58h2M25 58h1M33 58h1M41 58h1M47 58h1M25 59h1M28 59h1M33 59h1M37 59h1M43 59h1M54 59h1M20 60h1M33 60h1M45 60h1M50 60h1M56 60h1M23 61h1M32 62h2M41 62h1M28 63h1M30 63h1M41 63h1M52 63h1M55 63h1M37 64h1M48 64h1M51 64h1M29 65h2M51 65h1M30 66h1M42 66h1M45 68h1M40 72h1"/><path stroke="#87ff78" d="M27 11h1M35 11h1M48 11h1M46 15h1M38 16h1M43 16h1M51 16h1M55 16h1M40 17h1M44 17h1M25 18h1M29 18h1M19 19h1M21 19h1M30 19h1M36 19h1M53 19h1M26 20h1M34 20h1M41 20h1M39 21h1M41 21h1M53 21h1M21 22h1M37 22h1M41 22h1M55 22h1M45 23h1M59 23h1M21 24h1M28 24h1M37 24h1M47 24h1M15 25h1M44 25h1M48 25h1M59 25h1M61 25h2M44 26h2M30 27h1M48 27h1M67 27h1M20 28h1M38 28h1M49 28h1M54 28h1M63 28h1M59 29h1M65 29h1M15 30h1M22 30h1M52 30h1M14 31h1M20 31h1M28 32h1M55 32h2M32 33h1M53 33h2M59 33h1M68 33h1M18 34h1M33 34h1M54 34h1M14 35h1M16 35h1M28 35h1M64 35h1M19 36h1M63 36h1M17 37h1M48 37h1M59 37h1M19 38h1M59 38h1M12 39h1M27 39h2M52 39h1M54 39h1M57 40h1M22 41h1M35 41h1M68 41h1M28 42h1M64 42h1M71 42h1M14 43h1M22 43h1M57 43h1M63 43h1M13 44h2M24 44h1M52 44h1M58 44h1M13 45h1M15 45h1M58 45h1M22 46h1M21 47h1M25 47h1M28 47h1M65 47h1M43 48h1M51 48h1M55 48h1M60 48h1M67 49h1M18 50h1M43 50h1M49 50h1M51 50h1M60 50h2M21 52h2M31 52h1M65 52h1M19 53h1M50 53h1M56 53h1M16 54h1M25 54h1M48 54h1M58 54h1M35 55h1M40 55h1M50 55h1M53 55h1M29 56h1M32 56h2M36 56h1M42 56h1M45 56h1M52 56h1M17 57h1M37 57h1M39 57h1M51 57h1M31 58h1M50 58h1M22 59h1M26 59h1M32 59h1M55 59h1M59 59h1M37 60h1M44 61h1M53 61h2M38 62h1M44 62h1M47 62h1M35 63h1M53 63h1M45 64h1M41 65h1M44 65h1M31 67h1M36 67h1M39 67h1M48 67h1M34 68h1M37 69h1"/><path stroke="#97ff68" d="M45 13h1M54 13h1M34 14h1M40 14h1M44 14h1M26 15h1M37 15h1M53 15h1M23 16h1M28 16h2M49 16h1M54 17h1M60 17h1M24 18h1M43 18h1M18 19h1M44 19h1M47 19h1M56 19h1M46 20h1M21 21h1M24 21h1M26 21h1M31 21h1M36 21h1M25 22h1M30 22h1M42 22h1M49 22h1M59 22h1M18 23h1M40 23h1M43 24h1M46 24h1M49 24h1M37 25h1M45 25h1M52 25h1M54 25h1M60 25h1M25 26h1M32 26h1M42 26h1M17 27h2M29 27h1M35 27h1M44 28h1M47 28h1M36 29h1M49 29h1M14 30h1M29 30h1M56 30h1M28 31h1M39 31h1M45 31h1M50 31h1M55 31h1M62 31h1M11 32h1M25 32h1M27 32h1M30 32h1M13 33h1M20 33h1M22 33h1M38 33h1M12 34h1M56 34h1M62 34h1M26 35h1M51 35h1M63 35h1M60 37h1M12 38h1M14 38h1M15 39h1M18 39h1M21 39h1M23 39h1M63 39h1M70 39h1M11 40h1M64 40h2M8 41h1M45 41h1M54 41h1M59 41h1M33 42h1M57 42h1M68 42h1M10 44h1M46 44h1M51 44h1M14 45h1M26 45h1M32 45h1M64 45h1M26 46h1M53 46h1M18 47h2M22 47h1M32 47h1M55 47h1M60 47h1M19 48h1M23 48h1M54 48h1M24 49h1M25 50h1M41 50h1M14 51h1M23 51h1M27 51h1M29 51h1M34 51h1M40 51h1M60 51h1M14 52h1M25 52h1M29 52h1M50 52h1M12 53h1M24 53h1M29 53h1M32 53h1M52 53h1M57 53h1M59 53h1M22 54h1M32 54h3M39 54h1M54 54h2M59 54h1M18 55h1M28 55h1M30 55h1M38 55h1M41 55h1M44 55h1M46 55h1M51 55h2M28 56h1M35 56h1M43 56h1M48 56h1M52 57h1M55 57h1M16 58h1M52 58h1M53 59h1M57 59h1M26 60h1M39 60h1M44 60h1M46 60h1M51 60h1M17 61h1M26 61h1M26 62h1M39 62h1M25 63h1M45 63h1M27 64h1M39 64h1M33 65h1M42 65h1M46 65h1M50 65h1M39 66h1M30 69h1M36 69h1M48 69h1"/><path stroke="#a7ff58" d="M25 15h1M32 17h1M50 18h1M24 19h1M27 19h1M29 19h1M38 19h1M45 19h1M49 19h1M23 20h1M50 20h2M22 21h1M29 21h1M32 21h1M35 21h1M50 21h1M31 22h1M47 22h1M56 22h1M29 23h1M41 23h1M44 23h1M54 23h1M19 24h1M25 24h1M33 24h3M58 24h1M61 24h1M20 25h1M30 25h1M38 25h1M53 25h1M15 26h2M36 26h1M50 26h1M19 27h1M26 27h1M40 27h2M50 27h1M21 28h2M29 28h1M34 28h1M26 29h1M61 29h1M63 29h1M23 30h1M26 30h1M58 30h1M18 31h1M31 31h1M44 31h1M63 31h1M67 31h1M16 32h1M23 32h1M56 33h1M16 34h1M20 34h1M28 34h2M41 34h1M63 34h1M29 35h1M44 35h1M16 36h1M26 36h1M53 36h2M19 37h1M35 37h1M55 37h2M62 37h1M16 38h1M29 38h1M46 38h1M57 38h1M60 38h1M19 39h1M28 40h1M60 40h1M62 40h1M66 40h1M11 41h1M20 41h1M15 42h1M23 42h1M20 43h1M23 43h1M28 43h1M34 43h1M54 43h1M21 44h1M20 45h1M55 45h1M59 46h2M14 47h1M17 47h1M34 47h1M24 48h1M46 48h1M56 48h1M14 49h1M21 50h1M48 50h1M53 50h1M12 51h1M26 51h1M31 51h1M35 51h1M61 51h1M12 52h1M18 52h1M26 52h2M31 53h1M34 53h1M41 53h1M60 53h1M26 54h1M31 54h1M47 54h1M21 55h1M60 55h1M22 56h1M46 56h1M18 57h1M23 57h1M41 57h1M48 57h1M40 58h1M45 59h1M41 60h1M48 60h1M34 62h1M43 62h1M52 62h1M24 63h1M40 63h1M45 66h1M51 66h1M29 67h1M32 68h1M39 69h1"/><path stroke="#b7ff48" d="M39 12h1M49 13h1M28 15h1M33 15h1M34 16h1M38 17h2M49 17h1M30 18h1M33 18h1M48 18h1M58 18h1M25 19h1M32 19h2M35 19h1M40 19h1M43 19h1M51 19h1M54 19h1M20 20h1M38 20h2M43 21h1M49 21h1M32 22h1M50 22h1M25 23h1M34 23h1M37 23h1M50 23h1M55 23h1M29 24h1M36 24h1M48 24h1M53 24h1M66 24h1M22 25h1M46 25h1M50 25h1M28 26h1M30 26h1M39 26h1M51 26h1M31 27h1M33 27h1M16 28h1M30 28h2M50 28h1M53 28h1M57 28h1M60 28h1M17 29h2M28 29h1M50 29h1M53 29h1M38 30h1M50 30h1M65 30h1M49 31h1M54 31h1M24 32h1M53 32h1M60 32h1M53 34h1M69 34h1M27 35h1M35 35h1M47 35h1M55 35h1M57 36h1M61 36h1M50 37h1M53 37h2M58 37h1M30 38h1M58 39h1M62 39h1M22 40h1M24 40h1M24 41h2M28 41h1M41 41h1M61 41h2M42 42h1M19 44h2M57 44h1M30 45h1M56 45h1M33 46h1M49 46h1M49 47h1M53 47h1M16 48h1M27 48h1M36 48h1M47 48h1M18 49h1M26 49h1M32 49h2M43 49h1M61 49h2M23 50h1M26 50h1M46 50h1M19 51h1M21 51h2M43 51h1M49 51h1M59 51h1M35 52h2M47 53h1M51 54h1M56 54h1M43 55h1M18 56h1M22 57h1M32 57h1M36 57h1M38 57h1M43 57h1M23 58h2M35 58h1M37 58h1M42 58h1M38 59h1M40 59h1M46 59h1M49 60h1M52 60h1M25 61h1M31 61h1M41 61h1M52 61h1M31 62h1M37 62h1M50 62h1M49 63h1M40 64h1M43 65h1M40 66h1M33 67h1M29 68h1"/><path stroke="#c7ff38" d="M46 11h1M39 16h1M43 17h1M31 18h1M34 18h1M42 18h1M31 19h1M54 20h1M27 21h1M60 21h1M40 22h1M46 22h1M62 22h1M24 23h1M42 23h1M49 23h1M27 24h1M41 24h1M29 25h1M43 25h1M51 25h1M35 26h1M40 26h1M55 26h1M63 26h1M47 27h1M58 27h1M25 28h1M33 28h1M56 28h1M23 29h1M41 29h1M17 30h1M53 30h1M62 30h1M16 31h2M24 31h1M42 31h1M29 32h1M38 32h1M18 33h1M41 33h1M50 33h1M55 33h1M57 33h1M21 34h1M24 34h1M40 34h1M42 34h1M59 34h1M17 35h1M27 36h1M47 36h1M58 36h1M32 37h1M57 37h1M64 37h1M20 38h2M25 38h1M58 38h1M62 38h1M20 39h1M22 39h1M25 39h1M35 39h1M65 39h1M15 40h2M18 40h1M53 40h1M55 40h1M13 41h1M23 41h1M50 41h2M50 42h1M59 42h1M61 43h1M55 44h2M22 45h1M25 45h1M48 45h1M57 45h1M60 45h1M15 46h1M44 46h2M45 47h1M52 47h1M14 48h1M38 48h1M41 48h1M44 48h1M45 49h1M53 49h1M16 50h1M28 50h1M31 50h1M42 50h1M57 50h1M25 51h1M36 51h1M44 51h1M57 51h1M52 52h1M60 52h1M51 53h1M53 53h1M20 54h1M38 54h1M40 54h2M45 54h1M37 55h1M64 55h1M47 56h1M53 56h1M24 57h1M47 57h1M58 57h1M55 58h1M44 59h1M36 60h1M43 60h1M47 60h1M55 60h1M23 62h1M42 62h1M48 62h1M23 63h1M39 63h1M52 64h1M37 67h1M43 70h1"/><path stroke="#d7ff28" d="M39 14h1M35 18h1M40 18h1M35 20h1M52 20h1M28 21h1M33 22h1M39 22h1M43 23h1M26 24h1M30 24h1M45 24h1M33 25h2M41 26h1M24 28h1M26 28h1M32 28h1M41 28h1M35 29h1M46 29h1M54 29h1M30 30h1M33 30h1M41 30h1M45 30h1M43 31h1M17 32h1M33 32h1M61 32h1M34 33h2M21 35h1M29 36h1M49 36h1M51 36h1M21 37h1M27 38h1M24 39h1M53 39h1M32 40h1M50 40h1M54 40h1M14 41h1M21 41h1M29 41h1M38 41h1M55 41h1M24 42h1M38 42h1M16 43h1M21 43h1M37 44h1M41 44h1M19 45h1M44 45h1M25 46h1M61 47h1M63 47h1M26 48h1M30 48h1M40 48h1M45 48h1M62 48h1M19 50h1M36 50h1M44 50h2M50 50h1M58 50h1M28 52h1M33 52h1M37 52h1M39 52h1M57 52h1M22 53h1M25 53h1M35 53h1M43 53h1M45 53h1M29 54h1M42 54h1M46 54h1M27 55h1M54 55h1M41 56h1M28 57h1M45 57h1M49 57h1M39 58h1M29 62h1M33 64h1M41 68h1"/><path stroke="#e7ff18" d="M42 13h1M36 15h1M48 15h1M20 17h1M27 18h1M24 20h1M19 22h1M34 22h1M43 22h1M48 22h1M53 22h1M26 23h2M38 24h1M26 25h1M26 26h1M33 26h1M38 26h1M16 27h1M43 27h1M45 27h1M55 27h1M33 29h1M39 29h1M24 30h1M27 30h1M32 30h1M40 30h1M48 30h1M34 31h1M41 31h1M48 31h1M32 32h1M34 32h2M39 32h1M43 32h1M36 33h2M40 33h1M45 33h1M35 34h1M45 34h1M61 35h1M15 37h1M25 37h1M29 37h1M45 37h1M51 37h1M53 38h1M56 38h1M31 39h1M57 39h1M17 40h1M35 40h2M40 40h1M15 41h1M27 41h1M43 42h1M38 43h1M44 43h1M25 44h1M32 44h1M54 44h1M23 45h2M51 45h1M32 46h1M42 46h1M12 47h1M46 47h2M49 48h1M52 48h1M49 49h1M33 51h1M37 51h2M47 51h1M36 54h1M37 56h1M39 56h1M21 57h1M48 58h1M40 60h1M43 61h1M38 64h1M44 64h1"/><path stroke="#f7ff08" d="M21 15h1M45 16h1M56 16h1M53 17h1M41 19h1M30 21h1M37 21h1M30 23h1M32 24h1M54 24h1M42 25h1M37 27h1M39 27h1M19 28h1M23 28h1M39 28h2M31 29h1M37 29h1M45 29h1M62 29h1M37 30h1M35 31h1M47 31h1M53 31h1M20 32h1M22 32h1M31 32h1M41 32h2M54 32h1M30 33h1M47 33h2M47 34h1M50 34h1M55 34h1M24 35h1M38 35h1M66 35h1M35 36h2M38 36h1M48 36h1M22 37h1M40 37h1M52 37h1M39 38h1M45 38h1M55 38h1M44 39h1M48 39h1M59 39h1M26 40h1M16 41h1M18 41h1M39 41h1M47 41h1M11 42h1M17 42h1M22 42h1M54 42h2M24 43h2M46 43h1M55 43h1M53 44h1M27 45h1M29 45h1M46 45h1M49 45h1M63 45h1M30 46h1M51 46h1M42 48h1M34 49h1M37 49h1M52 50h1M20 51h1M30 51h1M32 51h1M48 51h1M50 51h1M55 51h1M43 52h1M23 54h1M28 54h1M30 54h1M52 54h1M48 55h1M23 56h1M34 56h1M40 56h1M31 57h1M43 58h1M28 60h1M45 61h1M42 63h1M34 65h1"/><path stroke="#fff700" d="M42 20h1M48 20h1M20 21h1M25 21h1M51 23h1M55 25h1M54 26h1M21 27h1M37 28h1M34 29h1M44 29h1M25 31h1M40 31h1M46 31h1M37 32h1M44 32h1M50 32h1M43 33h1M52 33h1M23 34h1M31 34h1M36 34h1M44 34h1M48 34h1M25 35h1M30 35h1M52 35h1M20 36h1M25 36h1M32 36h1M42 36h1M56 36h1M23 37h1M28 37h1M23 38h1M44 38h1M61 38h1M17 39h1M33 39h1M50 39h1M19 40h1M33 40h1M44 40h1M12 41h1M37 41h1M48 41h1M13 42h1M16 42h1M20 42h1M36 42h1M27 43h1M31 43h2M45 43h1M48 43h1M28 44h1M16 45h1M34 45h1M28 46h1M36 46h1M38 46h1M42 47h1M51 47h1M21 48h1M32 48h1M35 48h1M24 50h1M54 51h1M38 52h1M40 52h1M37 53h1M48 53h1M37 54h1M33 55h2M34 58h1M31 60h1M48 61h1M43 67h1M43 69h1M46 69h1"/><path stroke="#ffe700" d="M31 24h1M51 24h1M15 27h1M54 27h1M36 28h1M28 30h1M36 30h1M49 30h1M38 31h1M26 32h1M45 32h2M51 32h2M27 33h1M46 33h1M51 34h1M32 35h1M49 35h1M62 35h1M45 36h1M26 39h1M37 39h1M55 39h1M46 40h1M42 41h1M49 42h1M17 43h1M33 43h1M35 43h1M40 44h1M39 45h1M42 45h1M53 45h1M29 46h1M47 46h1M52 46h1M54 46h2M61 46h1M33 47h1M39 47h1M33 48h1M37 48h1M30 49h1M40 49h1M42 49h1M54 49h1M29 50h1M32 50h1M35 50h1M16 51h1M18 51h1M40 53h1M30 57h1M34 57h1M46 58h1M42 60h1"/><path stroke="#ffd700" d="M32 25h1M43 26h1M47 26h1M24 27h1M42 27h1M52 27h1M15 29h1M40 29h1M58 29h1M33 31h1M28 33h1M25 34h1M27 34h1M34 34h1M46 34h1M49 34h1M46 35h1M22 36h1M30 36h1M50 36h1M32 38h1M49 39h1M46 41h1M30 42h2M47 42h1M37 43h1M41 43h1M50 43h1M31 44h1M43 44h1M43 45h1M41 46h1M48 47h1M48 48h1M46 49h1M57 49h1M39 50h1M42 51h1M46 52h2M49 52h1M42 53h1M24 59h1M32 60h1M34 64h1"/><path stroke="#ffc700" d="M43 10h1M31 23h1M31 30h1M46 30h1M37 31h1M31 33h1M33 33h1M39 34h1M22 35h1M34 35h1M46 36h1M34 37h1M22 38h1M37 38h1M47 38h1M32 39h1M43 39h1M47 39h1M56 39h1M52 40h1M26 41h1M30 41h1M29 42h1M33 44h1M44 44h1M33 45h1M36 45h1M45 45h1M50 45h1M27 46h1M46 46h1M29 47h1M43 47h1M28 48h1M29 49h1M51 49h1M30 50h1M46 51h1M45 52h1M36 53h1M31 56h1"/><path stroke="#ffb700" d="M34 21h1M31 25h1M45 28h1M42 30h1M32 31h1M40 32h1M51 33h1M30 34h1M31 35h1M41 35h1M53 35h1M18 36h1M40 36h1M18 37h1M28 38h1M31 38h1M43 38h1M30 39h1M40 39h1M21 40h1M34 40h1M17 41h1M49 41h1M51 42h2M26 43h1M42 43h1M35 44h1M45 44h1M47 44h1M34 46h1M37 46h1M33 50h1M37 50h1M49 53h1M43 54h1"/><path stroke="#ffa700" d="M46 26h1M21 29h1M35 30h1M44 30h1M51 31h1M42 33h1M49 33h1M22 34h1M45 35h1M31 36h1M44 36h1M30 37h2M29 39h1M39 39h1M51 39h1M37 40h2M52 41h1M39 42h1M46 42h1M41 45h1M35 47h1M34 48h1M34 52h1M42 52h1"/><path stroke="#ff9700" d="M38 29h1M22 31h1M33 35h1M40 35h1M34 36h1M43 36h1M38 38h1M51 38h1M31 40h1M32 41h1M35 42h1M30 43h1M27 44h1M49 44h1M31 45h1M40 46h1M31 47h1M37 47h1M44 47h1M29 48h1M39 51h1M28 53h1"/><path stroke="#ff8700" d="M44 33h1M32 34h1M38 34h1M48 35h1M47 37h1M34 38h1M40 38h1M48 40h2M26 42h1M34 42h1M40 43h1M43 43h1M28 45h1M31 46h1M43 46h1M41 49h1M38 50h1M40 50h1"/><path stroke="#ff7800" d="M39 37h1M46 37h1M36 41h1M44 41h1M44 42h2M53 42h1M42 44h1M35 45h1M48 46h1M23 47h1M38 47h1M28 49h1M23 52h1M42 61h1"/><path stroke="#ff6800" d="M36 32h1M24 33h1M43 34h1M27 37h1M43 37h1M35 38h1M48 38h1M38 39h1M29 40h1M51 40h1M34 41h1M40 42h1M38 49h2M30 52h1"/><path stroke="#ff5800" d="M37 35h1M30 44h1M37 45h1M39 46h1M30 47h1M36 47h1M36 49h1M45 51h1"/><path stroke="#ff4800" d="M42 29h1M36 35h1M41 37h1M42 39h1M39 40h1M43 40h1M25 42h1M51 43h1M39 44h1"/><path stroke="#ff3800" d="M33 36h1M39 36h1M41 38h1M41 39h1M46 39h1M42 40h1M43 41h1M32 42h1M38 44h1"/><path stroke="#ff2800" d="M41 36h1M38 37h1M47 40h1M27 42h1M39 48h1"/><path stroke="#ff1800" d="M32 29h1M39 33h1M39 35h1M42 35h1M33 37h1M36 37h1M44 37h1M42 38h1M53 43h1M40 45h1"/><path stroke="#ff0800" d="M37 37h1M33 38h1M45 40h1M33 41h1M47 43h1M35 49h1"/><path stroke="#f70000" d="M37 36h1M42 37h1M30 40h1M37 42h1M39 43h1"/><path stroke="#e70000" d="M36 38h1M45 39h1M27 40h1M31 41h1M40 41h1"/><path stroke="#d70000" d="M36 39h1M41 40h1M38 45h1"/><path stroke="#c70000" d="M34 39h1"/></g></g>
<rect x="679.2" y="32.2" width="483.4" height="483.5" fill="none" stroke="#6a6a6a" stroke-width="1.5"/>
<path d="M679.2 515.7v-5M679.2 32.2v5M739.6 515.7v-5M739.6 32.2v5M800 515.7v-5M800 32.2v5M860.5 515.7v-5M860.5 32.2v5M920.9 515.7v-5M920.9 32.2v5M981.3 515.7v-5M981.3 32.2v5M1041.8 515.7v-5M1041.8 32.2v5M1102.2 515.7v-5M1102.2 32.2v5M1162.6 515.7v-5M1162.6 32.2v5M679.2 515.7h5M1162.6 515.7h-5M679.2 455.3h5M1162.6 455.3h-5M679.2 394.8h5M1162.6 394.8h-5M679.2 334.4h5M1162.6 334.4h-5M679.2 274h5M1162.6 274h-5M679.2 213.5h5M1162.6 213.5h-5M679.2 153.1h5M1162.6 153.1h-5M679.2 92.6h5M1162.6 92.6h-5M679.2 32.2h5M1162.6 32.2h-5" stroke="#6a6a6a" stroke-width="1.5" fill="none"/>
<text x="0" y="0" font-size="25.4" text-anchor="middle" fill="#262626" font-family="'Liberation Sans', Arial, sans-serif" transform="translate(679.2 549.7) scale(0.93 1)">-4</text>
<text x="0" y="0" font-size="25.4" text-anchor="middle" fill="#262626" font-family="'Liberation Sans', Arial, sans-serif" transform="translate(739.6 549.7) scale(0.93 1)">-3</text>
<text x="0" y="0" font-size="25.4" text-anchor="middle" fill="#262626" font-family="'Liberation Sans', Arial, sans-serif" transform="translate(800 549.7) scale(0.93 1)">-2</text>
<text x="0" y="0" font-size="25.4" text-anchor="middle" fill="#262626" font-family="'Liberation Sans', Arial, sans-serif" transform="translate(860.5 549.7) scale(0.93 1)">-1</text>
<text x="0" y="0" font-size="25.4" text-anchor="middle" fill="#262626" font-family="'Liberation Sans', Arial, sans-serif" transform="translate(920.9 549.7) scale(0.93 1)">0</text>
<text x="0" y="0" font-size="25.4" text-anchor="middle" fill="#262626" font-family="'Liberation Sans', Arial, sans-serif" transform="translate(981.3 549.7) scale(0.93 1)">1</text>
<text x="0" y="0" font-size="25.4" text-anchor="middle" fill="#262626" font-family="'Liberation Sans', Arial, sans-serif" transform="translate(1041.8 549.7) scale(0.93 1)">2</text>
<text x="0" y="0" font-size="25.4" text-anchor="middle" fill="#262626" font-family="'Liberation Sans', Arial, sans-serif" transform="translate(1102.2 549.7) scale(0.93 1)">3</text>
<text x="0" y="0" font-size="25.4" text-anchor="middle" fill="#262626" font-family="'Liberation Sans', Arial, sans-serif" transform="translate(1162.6 549.7) scale(0.93 1)">4</text>
<text x="0" y="0" font-size="25.4" text-anchor="end" fill="#262626" font-family="'Liberation Sans', Arial, sans-serif" transform="translate(670.2 525.9) scale(0.93 1)">-4</text>
<text x="0" y="0" font-size="25.4" text-anchor="end" fill="#262626" font-family="'Liberation Sans', Arial, sans-serif" transform="translate(670.2 465.4) scale(0.93 1)">-3</text>
<text x="0" y="0" font-size="25.4" text-anchor="end" fill="#262626" font-family="'Liberation Sans', Arial, sans-serif" transform="translate(670.2 405) scale(0.93 1)">-2</text>
<text x="0" y="0" font-size="25.4" text-anchor="end" fill="#262626" font-family="'Liberation Sans', Arial, sans-serif" transform="translate(670.2 344.6) scale(0.93 1)">-1</text>
<text x="0" y="0" font-size="25.4" text-anchor="end" fill="#262626" font-family="'Liberation Sans', Arial, sans-serif" transform="translate(670.2 284.1) scale(0.93 1)">0</text>
<text x="0" y="0" font-size="25.4" text-anchor="end" fill="#262626" font-family="'Liberation Sans', Arial, sans-serif" transform="translate(670.2 223.7) scale(0.93 1)">1</text>
<text x="0" y="0" font-size="25.4" text-anchor="end" fill="#262626" font-family="'Liberation Sans', Arial, sans-serif" transform="translate(670.2 163.3) scale(0.93 1)">2</text>
<text x="0" y="0" font-size="25.4" text-anchor="end" fill="#262626" font-family="'Liberation Sans', Arial, sans-serif" transform="translate(670.2 102.8) scale(0.93 1)">3</text>
<text x="0" y="0" font-size="25.4" text-anchor="end" fill="#262626" font-family="'Liberation Sans', Arial, sans-serif" transform="translate(670.2 42.4) scale(0.93 1)">4</text>
<text x="921" y="587" font-size="29" text-anchor="middle" fill="#262626" font-family="'Liberation Sans', Arial, sans-serif">X (cm)</text>
<text x="641" y="274" font-size="29" text-anchor="middle" fill="#262626" font-family="'Liberation Sans', Arial, sans-serif" transform="rotate(-90 641 274)">Y (cm)</text>
<rect x="1181.5" y="26.8" width="23.9" height="494.1" fill="url(#cbHA)" stroke="#5a5a5a" stroke-width="0.8"/>
<path d="M1205.4 520.9h-4M1205.4 459.1h-4M1205.4 397.4h-4M1205.4 335.6h-4M1205.4 273.9h-4M1205.4 212.1h-4M1205.4 150.3h-4M1205.4 88.6h-4M1205.4 26.8h-4" stroke="#5a5a5a" stroke-width="1" fill="none"/>
<text x="0" y="0" font-size="25.4" text-anchor="start" fill="#262626" font-family="'Liberation Sans', Arial, sans-serif" transform="translate(1213.4 531.8) scale(0.93 1)">0</text>
<text x="0" y="0" font-size="25.4" text-anchor="start" fill="#262626" font-family="'Liberation Sans', Arial, sans-serif" transform="translate(1213.4 470.1) scale(0.93 1)">10</text>
<text x="0" y="0" font-size="25.4" text-anchor="start" fill="#262626" font-family="'Liberation Sans', Arial, sans-serif" transform="translate(1213.4 408.3) scale(0.93 1)">20</text>
<text x="0" y="0" font-size="25.4" text-anchor="start" fill="#262626" font-family="'Liberation Sans', Arial, sans-serif" transform="translate(1213.4 346.6) scale(0.93 1)">30</text>
<text x="0" y="0" font-size="25.4" text-anchor="start" fill="#262626" font-family="'Liberation Sans', Arial, sans-serif" transform="translate(1213.4 284.8) scale(0.93 1)">40</text>
<text x="0" y="0" font-size="25.4" text-anchor="start" fill="#262626" font-family="'Liberation Sans', Arial, sans-serif" transform="translate(1213.4 223) scale(0.93 1)">50</text>
<text x="0" y="0" font-size="25.4" text-anchor="start" fill="#262626" font-family="'Liberation Sans', Arial, sans-serif" transform="translate(1213.4 161.3) scale(0.93 1)">60</text>
<text x="0" y="0" font-size="25.4" text-anchor="start" fill="#262626" font-family="'Liberation Sans', Arial, sans-serif" transform="translate(1213.4 99.5) scale(0.93 1)">70</text>
<text x="0" y="0" font-size="25.4" text-anchor="start" fill="#262626" font-family="'Liberation Sans', Arial, sans-serif" transform="translate(1213.4 37.7) scale(0.93 1)">80</text>
<path d="M678.5 637.8V1121.2M739.1 637.8V1121.2M799.6 637.8V1121.2M860.2 637.8V1121.2M920.8 637.8V1121.2M981.3 637.8V1121.2M1041.9 637.8V1121.2M1102.4 637.8V1121.2M1163 637.8V1121.2M678.5 1121.2H1163M678.5 1060.8H1163M678.5 1000.4H1163M678.5 939.9H1163M678.5 879.5H1163M678.5 819.1H1163M678.5 758.6H1163M678.5 698.2H1163M678.5 637.8H1163" stroke="#e3e3e3" stroke-width="1.3" fill="none"/>
<g transform="translate(678.5 637.8) scale(6.0563 6.0425)" fill="none" stroke-width="1" shape-rendering="crispEdges"><g transform="translate(0 0.5)"><path stroke="#000087" d="M1 38h1"/><path stroke="#000097" d="M1 32h1M2 35h1M2 36h1M1 37h1M2 39h1M1 40h1M1 44h1"/><path stroke="#0000a7" d="M30 1h1M46 1h1M66 11h1M1 35h1M3 35h1M3 36h1M2 38h1M3 39h1M2 40h2M1 43h1M20 74h1"/><path stroke="#0000b7" d="M28 2h1M36 2h1M20 5h1M23 6h1M67 12h1M5 19h1M2 29h1M2 31h1M1 34h2M79 35h1M1 36h1M2 37h3M3 38h1M1 39h1M2 41h1M1 42h1M2 43h1M77 43h1M1 45h1M79 45h1M2 46h1M78 47h1M3 53h1M5 55h1M68 63h1M11 66h1M15 70h1M60 73h1M27 77h1M50 78h1M38 79h1"/><path stroke="#0000c7" d="M32 1h1M38 1h1M42 1h1M45 1h1M47 1h1M30 2h1M52 2h1M26 3h1M29 3h2M37 3h1M47 3h1M51 3h1M55 3h1M24 4h1M27 4h1M56 4h1M21 5h1M18 6h1M17 7h1M14 9h1M63 9h1M65 10h1M13 11h1M11 12h1M9 15h1M7 16h1M73 19h1M73 20h1M6 21h1M72 21h1M75 24h2M76 26h1M3 28h1M77 28h1M2 30h1M1 31h1M3 31h1M2 32h1M5 32h1M1 33h1M4 33h1M77 33h1M3 34h1M4 35h1M4 36h1M5 37h1M4 38h1M77 38h1M4 39h1M78 40h2M3 41h2M78 41h1M2 42h1M4 42h1M79 42h1M2 44h1M4 44h1M4 45h1M77 45h1M75 47h1M2 49h2M2 50h1M77 52h1M76 53h1M3 55h1M74 57h1M5 58h2M73 58h1M72 59h1M8 63h1M70 63h1M11 67h1M67 67h1M12 68h1M14 68h1M62 68h1M13 69h1M64 69h2M16 71h2M62 71h1M60 72h1M62 72h1M19 73h1M21 73h1M28 73h1M58 73h1M21 74h1M24 74h1M27 74h1M52 75h1M27 76h1M32 76h1M46 77h1M38 78h1M43 78h1M45 78h1M36 79h1M43 79h1M45 79h1"/><path stroke="#0000d7" d="M42 0h1M33 1h2M36 1h1M41 1h1M38 2h1M43 2h1M48 2h3M25 3h1M27 3h1M32 3h1M35 3h1M53 3h1M23 4h1M55 4h1M52 5h2M57 5h1M19 6h2M59 6h1M59 7h1M61 7h1M60 8h3M13 9h1M15 9h1M17 9h1M19 9h1M62 9h1M13 10h1M64 10h1M15 11h1M13 12h1M66 12h1M10 13h1M15 13h1M67 13h1M9 14h2M66 14h1M68 14h2M69 15h2M8 16h3M68 16h1M70 16h1M7 17h2M71 17h1M71 18h2M4 21h2M72 22h2M4 23h1M74 23h1M3 25h2M3 26h1M77 26h1M2 28h1M4 28h1M78 30h1M76 31h1M78 31h1M3 32h2M75 32h1M77 32h1M2 33h2M79 33h1M5 34h1M5 35h1M5 36h1M79 37h1M5 39h1M79 41h1M3 42h1M77 42h2M3 43h2M79 43h1M3 44h1M2 45h1M5 45h1M74 46h2M78 46h1M2 47h1M3 48h1M77 50h1M5 51h1M77 51h1M2 52h2M75 52h1M72 53h1M5 54h2M75 54h1M4 55h1M74 55h2M4 57h3M70 58h1M7 59h1M73 59h1M8 60h1M72 60h1M6 61h1M9 61h1M72 61h1M10 62h1M71 62h1M9 63h2M11 64h2M69 64h1M10 65h1M68 65h2M66 66h3M10 67h1M63 69h1M14 70h1M17 70h1M58 70h1M57 71h1M21 72h1M58 72h1M61 72h1M22 73h1M51 73h1M59 73h1M23 74h1M55 74h2M23 75h2M53 75h2M56 75h1M28 76h1M34 76h1M49 76h1M51 76h1M54 76h1M30 77h1M34 77h1M37 77h1M44 77h1M47 77h2M31 78h1M35 78h3M46 78h1M48 78h1M35 79h1M37 79h1M40 79h3M44 79h1"/><path stroke="#0000e7" d="M35 1h1M44 1h1M29 2h1M34 2h1M37 2h1M42 2h1M44 2h1M46 2h1M31 3h1M34 3h1M43 3h1M46 3h1M49 3h2M52 3h1M26 4h1M30 4h1M33 4h1M48 4h2M51 4h1M54 4h1M24 5h1M27 5h1M35 5h1M43 5h2M47 5h1M28 6h1M57 6h2M18 7h3M31 7h1M58 8h1M57 9h1M61 9h1M14 10h1M17 11h1M65 11h1M12 12h1M14 12h1M63 12h1M65 12h1M11 13h2M65 13h1M65 14h1M10 15h1M67 15h1M9 17h1M12 17h1M72 17h1M7 18h1M70 18h1M6 19h2M5 20h3M70 20h1M4 22h3M6 23h1M75 23h1M6 24h1M72 24h1M4 26h2M3 27h3M77 27h1M3 29h2M7 29h1M75 29h1M77 29h2M4 30h1M77 30h1M4 31h1M78 32h1M78 33h1M4 34h1M77 35h1M78 36h2M6 37h1M78 37h1M5 38h1M78 39h2M4 40h1M77 40h1M77 41h1M5 42h1M5 43h1M77 44h1M3 45h1M78 45h1M4 46h1M5 47h1M2 48h1M73 48h1M76 48h3M77 49h1M3 50h2M76 50h1M4 51h1M76 51h1M4 52h1M76 52h1M4 53h1M73 53h2M3 54h2M74 54h1M6 55h1M6 56h1M75 56h1M70 57h1M71 58h1M74 58h1M6 59h1M7 60h1M69 60h1M7 61h1M68 61h1M8 62h2M68 62h2M67 63h1M9 64h1M68 64h1M11 65h1M14 65h1M67 65h1M10 66h1M16 66h1M63 66h1M12 67h2M66 67h1M15 68h3M65 68h1M14 69h1M61 69h1M59 70h2M62 70h2M59 71h1M61 71h1M18 72h1M22 72h1M52 72h1M57 72h1M20 73h1M29 73h1M57 73h1M19 74h1M26 74h1M57 74h2M28 75h1M31 75h1M50 75h1M26 76h1M29 76h1M33 76h1M47 76h1M52 76h1M28 77h2M31 77h1M33 77h1M36 77h1M49 77h1M51 77h2M33 78h2M39 78h1M44 78h1M47 78h1M39 79h1"/><path stroke="#0000f7" d="M39 1h2M43 1h1M31 2h2M35 2h1M40 2h2M28 3h1M36 3h1M39 3h1M45 3h1M28 4h2M31 4h1M38 4h1M40 4h1M44 4h1M46 4h1M50 4h1M53 4h1M22 5h1M26 5h1M30 5h2M39 5h1M55 5h2M21 6h1M49 6h1M51 6h1M21 7h1M24 7h2M27 7h1M53 7h1M56 7h3M60 7h1M17 8h3M21 8h2M16 9h1M21 9h1M60 9h1M64 9h1M15 10h1M62 10h1M14 11h1M62 11h3M17 12h1M64 12h1M12 14h1M11 15h1M13 15h1M64 15h2M68 15h1M11 16h1M11 17h1M66 17h1M70 17h1M9 18h1M11 18h1M68 18h1M9 19h1M70 19h1M72 19h1M68 20h2M71 20h2M7 21h3M69 21h1M71 21h1M9 22h1M74 22h1M5 23h1M72 23h2M4 24h2M8 24h1M74 24h1M5 25h1M74 25h2M75 26h1M75 27h2M7 28h1M76 28h1M74 29h1M76 29h1M5 30h1M75 30h2M5 31h1M74 31h1M77 31h1M77 34h2M78 35h1M6 36h1M78 38h2M75 39h1M5 40h1M75 40h1M5 41h1M75 41h2M75 42h1M76 43h1M78 43h1M77 46h1M76 47h1M75 48h1M4 49h2M3 51h1M6 51h1M6 53h1M75 53h1M7 54h1M73 55h1M5 56h1M7 56h1M72 56h3M8 57h1M72 57h2M69 58h1M68 59h2M9 60h1M71 60h1M8 61h1M66 61h1M69 61h3M12 62h1M70 62h1M69 63h1M15 64h1M62 65h1M64 65h1M66 65h1M13 66h1M64 66h2M20 67h1M64 67h2M13 68h1M59 68h1M64 68h1M15 69h1M17 69h1M19 69h1M16 70h1M61 70h1M19 71h2M22 71h1M58 71h1M60 71h1M19 72h1M30 72h1M53 72h1M59 72h1M23 73h1M26 73h1M49 73h1M55 73h2M22 74h1M25 74h1M48 74h1M50 74h2M54 74h1M25 75h3M30 75h1M40 75h1M44 75h2M55 75h1M25 76h1M30 76h2M35 76h1M43 76h2M46 76h1M48 76h1M50 76h1M53 76h1M32 77h1M39 77h1M42 77h2M45 77h1M50 77h1M32 78h1"/><path stroke="#0008ff" d="M37 1h1M33 2h1M39 2h1M45 2h1M47 2h1M33 3h1M41 3h2M44 3h1M48 3h1M25 4h1M32 4h1M34 4h1M36 4h1M52 4h1M23 5h1M25 5h1M32 5h2M37 5h1M51 5h1M24 6h4M53 6h1M55 6h2M22 7h1M54 7h2M25 8h1M52 8h1M55 8h1M57 8h1M59 8h1M18 9h1M20 9h1M56 9h1M16 10h3M59 10h3M63 10h1M16 11h1M16 12h1M61 12h1M62 13h1M66 13h1M64 14h1M12 15h1M14 15h1M66 15h1M12 16h1M66 16h1M69 16h1M10 17h1M69 17h1M8 19h1M67 19h1M71 19h1M9 20h1M10 21h1M70 21h1M8 22h1M71 22h1M71 23h1M70 24h1M73 24h1M6 25h1M72 25h1M76 25h1M74 26h1M7 27h1M74 28h2M3 30h1M6 32h1M76 32h1M5 33h1M75 33h1M74 34h1M76 34h1M6 35h1M75 36h1M77 36h1M76 37h2M6 38h1M76 38h1M76 39h2M6 42h1M75 43h1M76 44h1M6 45h1M3 46h1M5 46h2M76 46h1M3 47h2M6 47h1M4 48h1M6 48h1M74 48h1M7 49h1M74 49h3M75 50h1M72 51h1M75 51h1M6 52h1M72 52h1M5 53h1M7 53h1M8 54h1M73 54h1M8 56h1M7 57h1M9 57h1M71 57h1M7 58h3M68 58h1M72 58h1M10 59h1M71 59h1M11 60h1M70 60h1M12 61h1M67 61h1M13 62h1M66 62h1M13 63h1M65 63h2M10 64h1M13 64h1M65 64h1M67 64h1M12 65h1M63 65h1M65 65h1M14 66h1M62 66h1M62 67h2M19 68h1M60 68h1M18 69h1M58 69h2M62 69h1M18 70h1M20 70h2M57 70h1M21 71h1M56 71h1M23 72h3M27 72h1M54 72h1M56 72h1M48 73h1M54 73h1M29 74h4M34 74h2M39 74h1M52 74h2M29 75h1M32 75h2M36 75h1M39 75h1M46 75h1M48 75h1M51 75h1M36 76h5M35 77h1M40 78h3"/><path stroke="#0018ff" d="M40 3h1M35 4h1M37 4h1M39 4h1M45 4h1M47 4h1M28 5h2M41 5h1M48 5h2M22 6h1M29 6h3M46 6h3M52 6h1M23 7h1M29 7h2M32 7h1M54 8h1M22 9h1M54 9h1M58 9h2M19 10h2M22 10h1M57 10h1M19 11h1M61 11h1M20 12h1M59 12h1M13 13h1M16 13h1M63 13h2M13 14h1M14 16h1M67 16h1M68 17h1M8 18h1M10 18h1M69 18h1M69 19h1M8 20h1M73 21h1M70 22h1M7 24h1M73 25h1M6 26h1M73 26h1M6 27h1M74 27h1M6 28h1M72 28h1M5 29h2M73 29h1M6 30h2M6 31h1M75 31h1M6 33h1M74 33h1M6 34h1M75 34h1M76 35h1M6 40h1M6 43h1M74 43h1M5 44h2M78 44h1M75 45h2M7 47h1M73 47h1M77 47h1M5 50h1M72 50h2M7 51h1M73 51h1M5 52h1M8 52h1M74 52h1M71 53h1M72 54h1M8 55h1M72 55h1M9 56h2M10 58h1M8 59h2M11 59h1M67 60h2M10 61h2M11 62h1M67 62h1M14 63h1M14 64h1M16 65h1M61 65h1M12 66h1M15 66h1M14 67h2M18 67h1M61 67h1M18 68h1M61 68h1M16 69h1M20 69h1M19 70h1M22 70h3M18 71h1M24 71h2M52 71h1M20 72h1M26 72h1M55 72h1M24 73h2M34 73h2M53 73h1M47 74h1M49 74h1M34 75h2M37 75h2M47 75h1M49 75h1M42 76h1M45 76h1M38 77h1M40 77h2"/><path stroke="#0028ff" d="M38 3h1M41 4h1M34 5h1M38 5h1M40 5h1M45 5h2M50 5h1M54 5h1M32 6h2M35 6h2M26 7h1M28 7h1M51 7h1M20 8h1M23 8h1M27 8h1M53 8h1M56 8h1M23 9h1M56 10h1M58 10h1M59 11h2M18 12h1M14 13h1M11 14h1M15 14h1M67 14h1M65 16h1M65 17h1M67 17h1M67 18h1M68 19h1M7 23h2M70 23h1M72 26h1M73 27h1M5 28h1M8 28h1M73 28h1M74 30h1M7 31h2M73 31h1M7 33h1M75 35h1M76 36h1M7 37h1M75 38h1M76 40h1M6 41h1M76 42h1M73 46h1M74 47h1M5 48h1M6 49h1M74 50h1M8 51h1M74 51h1M7 52h1M73 52h1M8 53h1M9 54h1M71 54h1M70 55h1M69 56h1M70 59h1M10 60h1M65 62h1M11 63h2M64 63h1M66 64h1M13 65h1M15 65h1M60 66h2M60 67h1M63 68h1M21 69h1M57 69h1M60 69h1M54 70h2M23 71h1M26 71h1M54 71h2M45 72h1M33 73h1M28 74h1M36 74h1M42 74h1M44 74h1M41 75h3M41 76h1"/><path stroke="#0038ff" d="M42 4h2M36 5h1M38 6h1M40 6h1M42 6h1M44 6h2M50 6h1M54 6h1M49 7h1M52 7h1M28 8h2M49 8h1M51 8h1M24 9h1M55 9h1M20 11h2M56 11h1M58 11h1M15 12h1M62 12h1M61 13h1M14 14h1M17 14h1M62 14h2M13 16h1M11 20h1M68 21h1M7 22h1M10 22h1M71 24h1M71 25h1M7 26h1M72 27h1M73 30h1M74 32h1M73 33h1M76 33h1M74 36h1M74 37h2M6 39h1M7 41h1M74 42h1M75 44h1M73 49h1M6 50h2M7 55h1M71 55h1M70 56h1M10 57h1M69 57h1M67 59h1M14 62h1M62 64h1M64 64h1M18 66h1M16 67h1M59 67h1M58 68h1M56 70h1M31 72h1M33 72h1M47 72h1M51 72h1M27 73h1M30 73h1M46 73h1M50 73h1M52 73h1M37 74h2M40 74h1M43 74h1M45 74h1"/><path stroke="#0048ff" d="M37 6h1M41 6h1M50 7h1M24 8h1M23 10h1M19 12h1M60 13h1M13 17h1M10 19h1M12 19h1M65 19h2M10 20h1M11 21h1M9 23h1M9 24h1M7 25h1M71 28h1M73 37h1M74 38h1M74 39h1M74 40h1M7 44h1M7 48h1M72 48h1M71 50h1M10 54h1M70 54h1M71 56h1M12 59h1M65 60h1M13 61h1M65 61h1M64 62h1M16 64h1M63 64h1M17 65h1M17 66h1M19 67h1M21 68h1M57 68h1M54 69h1M56 69h1M53 71h1M28 72h2M32 72h1M46 72h1M50 72h1M36 73h1M39 73h1M33 74h1M46 74h1"/><path stroke="#0058ff" d="M25 9h1M54 10h2M18 11h1M60 12h1M17 13h1M16 14h1M62 15h1M64 16h1M14 17h1M68 22h1M69 23h1M8 25h1M8 26h1M8 27h1M8 30h1M7 32h2M73 35h2M74 41h1M73 42h1M74 44h1M7 45h1M71 52h1M70 53h1M11 57h1M68 57h1M12 60h1M15 63h1M22 66h1M17 67h1M20 68h1M23 69h1M28 71h1M43 71h1M36 72h1M48 72h1M37 73h1M47 73h1M41 74h1"/><path stroke="#0068ff" d="M42 5h1M47 7h1M26 8h1M27 9h1M53 9h1M16 15h1M15 16h1M12 18h2M11 19h1M67 20h1M10 23h1M9 25h1M9 26h1M71 27h1M73 32h1M7 36h1M7 46h1M72 49h1M10 55h1M68 56h1M11 58h1M67 58h1M63 63h1M22 68h1M22 69h1M25 70h1M27 70h1M51 70h1M53 70h1M31 73h2M42 73h1M44 73h1"/><path stroke="#0078ff" d="M34 6h1M43 6h1M26 9h1M28 9h1M21 10h1M24 10h1M56 12h1M19 13h1M15 15h1M63 15h1M19 16h1M64 17h1M70 25h1M71 26h1M71 29h1M7 34h1M73 34h1M73 36h1M73 39h1M7 40h1M8 42h1M7 43h1M73 45h1M71 46h1M72 47h1M8 50h1M10 50h1M71 51h1M70 52h1M67 54h1M9 55h1M69 55h1M13 60h1M66 60h1M16 62h1M63 62h1M57 65h1M21 67h1M23 68h1M55 68h1M55 69h1M27 71h1M51 71h1M35 72h1M41 73h1"/><path stroke="#0087ff" d="M39 6h1M33 7h1M41 7h1M30 8h1M45 8h1M50 8h1M22 12h1M18 13h1M18 14h1M63 16h1M65 18h1M69 22h1M67 23h1M69 26h2M10 29h1M70 29h1M7 35h1M73 41h1M74 45h1M10 46h1M8 48h1M61 48h1M9 49h1M69 52h1M68 53h1M69 54h1M11 55h1M68 55h1M12 58h1M65 58h1M66 59h1M62 63h1M19 66h1M58 67h1M29 71h1M31 71h1M49 72h1M38 73h1M40 73h1"/><path stroke="#0097ff" d="M42 7h1M46 7h1M30 9h1M35 9h1M51 9h1M22 11h1M35 13h1M61 14h1M21 15h1M61 15h1M43 17h1M62 17h1M66 18h1M66 20h1M67 21h1M53 22h1M69 24h1M20 25h1M68 27h1M69 30h1M69 31h1M72 31h1M10 34h1M72 35h1M7 38h1M72 40h1M7 42h1M8 44h1M73 44h1M8 46h1M8 47h1M66 49h1M68 52h1M68 54h1M66 56h1M12 57h1M13 58h1M65 59h1M25 67h1M56 68h1M50 70h1M43 73h1M45 73h1"/><path stroke="#00a7ff" d="M39 7h1M43 7h1M45 7h1M33 8h1M48 8h1M41 9h1M47 9h1M27 10h1M25 11h1M57 11h1M21 12h1M19 14h1M57 14h1M40 15h1M16 16h1M63 17h1M14 18h1M57 19h1M63 19h1M12 20h1M13 21h1M11 23h1M68 23h1M10 25h1M68 25h1M66 30h1M8 38h1M62 38h1M73 40h1M73 43h1M10 52h1M9 53h1M67 56h1M61 59h1M14 60h1M14 61h1M64 61h1M16 63h1M17 64h1M61 64h1M54 65h1M60 65h1M24 69h2M45 69h1M26 70h1M52 70h1M32 71h1M37 72h1"/><path stroke="#00b7ff" d="M36 7h2M44 7h1M48 7h1M32 8h1M37 8h1M39 8h1M38 9h1M52 9h1M30 10h1M38 11h1M45 11h1M58 12h1M59 13h1M27 14h1M59 14h1M54 15h1M17 16h1M22 18h1M13 19h1M47 19h1M13 20h1M11 22h1M67 22h1M54 23h1M62 23h1M14 24h1M67 25h1M69 25h1M9 28h2M12 28h1M8 29h1M17 30h1M67 31h1M72 34h1M11 40h1M8 41h1M70 41h1M70 42h1M10 43h1M71 44h1M72 45h1M72 46h1M10 51h1M9 52h1M10 53h1M58 54h1M67 57h1M66 58h1M14 59h1M15 61h1M18 65h2M23 65h1M55 65h1M53 66h1M58 66h1M25 68h1M32 69h1M49 69h1M42 70h1M33 71h1M37 71h1M47 71h1M50 71h1"/><path stroke="#00c7ff" d="M34 7h2M38 7h1M34 9h1M40 10h1M51 10h1M26 11h1M50 11h2M28 12h1M55 12h1M21 13h1M60 14h1M18 15h1M60 15h1M33 16h1M61 16h1M15 17h1M14 21h1M47 22h1M10 24h1M13 24h1M60 25h1M24 26h1M67 27h1M20 28h1M72 29h1M9 30h1M11 30h1M55 33h1M8 34h1M9 35h1M10 38h1M64 38h1M7 39h3M72 41h1M8 45h2M69 48h1M8 49h1M9 51h1M12 51h1M69 51h1M12 52h1M65 52h1M69 53h1M11 54h1M64 54h1M67 55h1M12 56h1M63 57h1M15 59h1M15 60h1M59 60h1M63 60h1M62 62h1M38 63h1M53 64h1M59 64h1M20 65h1M22 67h1M53 67h1"/><path stroke="#00d7ff" d="M34 8h1M36 8h1M46 9h1M48 9h2M31 10h1M48 10h1M53 10h1M24 11h1M20 13h1M23 13h1M58 13h1M54 14h1M23 16h1M51 16h1M18 17h1M15 18h1M64 18h1M14 19h1M18 19h1M20 20h1M65 21h1M10 26h1M15 26h1M31 26h1M68 26h1M9 27h2M56 27h1M70 28h1M11 29h1M69 29h1M71 30h2M71 31h1M9 32h1M53 32h1M68 32h1M72 32h1M10 35h1M9 36h1M72 36h1M8 37h1M70 38h3M8 40h1M14 40h1M19 40h1M22 40h1M69 43h1M69 44h1M64 46h1M14 47h1M9 48h1M11 48h1M11 49h1M14 49h1M70 49h1M67 50h1M70 50h1M11 51h1M70 51h1M52 56h1M60 57h1M30 58h1M64 58h1M13 59h1M16 61h1M22 61h1M63 61h1M15 62h1M22 62h1M60 64h1M33 65h1M56 65h1M58 65h1M23 66h1M55 66h1M28 67h1M47 67h1M50 67h1M55 67h3M24 68h1M43 68h1M46 68h1M41 69h1M53 69h1M28 70h1M31 70h1M48 70h1M30 71h1M35 71h1M40 71h1M48 71h2M34 72h1M39 72h1"/><path stroke="#00e7ff" d="M31 8h1M42 8h2M29 9h1M31 9h1M37 9h1M39 9h1M25 10h1M29 10h1M52 10h1M35 11h1M48 11h1M24 12h2M27 12h1M30 12h1M33 12h1M36 12h1M45 12h1M53 12h1M44 13h1M57 13h1M22 14h1M24 14h1M30 14h1M20 15h1M29 16h1M34 16h1M57 16h1M62 16h1M17 17h1M33 17h1M47 17h1M60 17h1M21 18h1M61 18h1M17 19h1M25 19h1M35 19h1M64 19h1M47 20h1M12 21h1M19 21h1M65 22h1M60 23h1M11 24h1M68 24h1M28 27h1M69 27h1M23 28h1M28 30h1M68 30h1M66 31h1M69 32h2M8 33h1M13 35h1M8 36h1M9 37h1M69 37h1M72 37h1M73 38h1M63 39h1M72 39h1M69 40h1M10 42h1M21 42h1M71 42h1M71 43h1M62 44h1M10 45h1M70 45h1M69 46h1M70 48h1M12 49h1M9 50h1M12 50h1M12 53h1M61 53h1M12 54h1M16 54h1M66 54h1M12 55h1M11 56h1M15 57h2M64 57h2M21 58h1M34 59h1M35 60h1M64 60h1M34 61h1M47 61h1M62 61h1M17 62h1M60 62h1M21 63h1M58 63h2M45 64h1M25 66h1M23 67h1M38 68h1M27 69h2M31 69h1M32 70h1M36 70h1M34 71h1M36 71h1M44 71h1M41 72h1M43 72h2"/><path stroke="#00f7ff" d="M33 9h1M45 9h1M28 10h1M34 10h1M39 10h1M44 10h2M23 11h1M34 11h1M53 11h1M55 11h1M39 12h2M46 12h1M49 12h1M51 12h1M34 13h1M46 13h2M51 13h1M36 14h1M17 15h1M19 15h1M22 15h1M28 15h1M52 15h1M21 16h1M28 16h1M38 16h1M19 17h1M26 18h1M51 18h1M62 18h1M23 19h1M60 19h1M51 20h1M66 21h1M13 22h1M15 22h1M40 22h1M12 23h1M18 23h1M34 23h1M50 24h1M66 24h2M11 25h1M27 25h1M12 26h1M54 26h1M57 27h1M15 28h1M68 28h1M17 29h1M29 29h1M61 30h1M9 31h1M68 31h1M11 32h1M22 33h1M72 33h1M12 35h1M24 35h1M71 37h1M10 39h1M68 39h1M9 40h1M17 40h1M70 40h1M71 41h1M9 42h1M11 45h2M18 45h1M9 46h1M63 46h1M13 47h1M22 47h1M68 47h2M19 48h1M71 48h1M18 49h1M71 49h1M13 50h1M16 52h1M61 52h2M20 53h1M28 53h1M63 53h3M13 54h1M13 55h2M24 55h1M16 56h1M25 56h1M26 57h1M48 57h1M66 57h1M17 58h1M22 58h1M27 58h1M62 58h1M20 59h1M23 59h1M47 59h1M20 60h1M56 60h2M30 61h1M21 62h1M24 62h1M38 62h1M59 62h1M22 63h1M27 63h1M53 63h1M21 64h1M57 64h1M21 65h1M59 65h1M30 66h1M54 66h1M56 66h1M51 67h1M27 68h1M39 68h1M54 68h1M50 69h1M52 69h1M33 70h1M41 70h1"/><path stroke="#08fff7" d="M35 8h1M38 8h1M44 8h1M32 9h1M50 9h1M26 10h1M43 10h1M27 11h1M54 11h1M23 12h1M29 12h1M54 12h1M57 12h1M43 13h1M52 13h1M38 14h1M49 14h1M58 14h1M25 16h1M40 16h1M60 16h1M48 17h1M55 17h1M20 18h1M58 18h1M63 18h1M38 19h1M59 19h1M17 20h1M53 20h1M62 20h1M64 21h1M12 22h1M14 23h1M66 23h1M23 24h1M29 24h1M13 25h1M53 25h1M57 25h1M65 25h1M45 26h1M16 27h1M14 28h1M17 28h1M10 30h1M62 30h1M12 31h1M70 31h1M71 32h1M11 33h1M9 34h1M8 35h1M20 35h1M59 35h1M17 36h1M68 36h1M71 36h1M69 38h1M13 39h1M22 39h1M24 39h1M10 40h1M9 41h1M69 41h1M59 42h1M66 43h1M68 44h1M15 45h2M15 46h1M68 46h1M12 47h1M26 47h1M53 49h1M62 49h1M15 50h1M13 52h1M58 52h1M11 53h1M58 53h1M67 53h1M59 54h1M20 55h1M55 55h1M64 55h1M66 55h1M13 56h1M18 56h1M39 56h1M39 57h1M46 57h1M20 58h1M53 58h2M60 58h1M22 59h1M35 59h1M54 59h1M28 60h1M62 60h1M18 61h1M60 61h1M34 62h1M48 62h1M54 62h1M32 63h1M48 63h1M18 64h1M22 64h1M42 64h1M36 65h1M53 65h1M20 66h2M24 66h1M41 66h1M43 66h1M59 66h1M24 67h1M27 67h1M29 67h1M35 67h2M26 68h1M32 68h1M45 68h1M51 68h1M47 70h1M49 70h1M45 71h2"/><path stroke="#18ffe7" d="M46 8h1M40 9h1M42 9h2M42 10h1M29 11h1M39 11h2M47 11h1M42 12h1M22 13h1M48 13h1M56 14h1M26 15h1M32 15h1M39 15h1M43 15h1M45 16h1M55 16h1M37 17h1M58 17h1M38 18h1M60 18h1M15 19h1M18 20h1M65 20h1M57 21h1M60 21h1M63 21h1M14 22h1M55 22h1M64 22h1M12 24h1M19 24h1M25 24h1M53 24h1M64 24h1M15 25h1M40 25h1M42 25h1M14 26h1M16 26h1M52 26h1M64 26h1M11 27h1M59 27h1M70 27h1M21 28h1M24 28h1M56 28h1M58 28h1M65 28h1M69 28h1M9 29h1M13 29h1M55 29h1M60 30h1M11 31h1M10 32h1M25 32h1M55 32h1M60 32h1M9 33h1M31 34h1M70 34h1M22 35h1M11 38h1M59 38h1M70 39h1M10 41h1M13 41h1M63 42h1M8 43h1M17 43h1M72 43h1M72 44h1M60 45h1M62 45h1M9 47h1M70 47h2M64 48h1M10 49h1M69 49h1M68 50h1M19 51h1M68 51h1M57 52h1M14 53h1M66 53h1M19 54h1M30 54h1M17 55h1M29 55h1M65 55h1M15 56h1M50 57h1M55 57h1M58 57h1M24 58h1M57 58h2M62 59h1M26 60h1M50 60h1M55 60h1M20 62h1M58 62h1M17 63h2M23 63h1M29 63h1M34 63h1M54 63h2M61 63h1M19 64h1M26 64h1M41 64h1M47 64h1M50 64h1M58 64h1M37 65h1M51 65h1M34 66h1M44 66h1M49 66h1M57 66h1M54 67h1M33 68h1M35 68h1M50 68h1M53 68h1M26 69h1M30 69h1M37 69h1M40 69h1M42 69h1M48 69h1M51 69h1"/><path stroke="#28ffd7" d="M40 7h1M40 8h2M44 9h1M32 10h1M35 10h1M41 10h1M46 10h1M41 11h1M47 12h1M41 13h1M49 13h1M54 13h1M56 13h1M20 14h1M29 14h1M35 14h1M47 14h2M51 14h1M27 15h1M38 15h1M55 15h1M16 17h1M23 17h1M25 17h2M45 17h2M54 17h1M23 18h1M46 18h1M50 18h1M22 19h1M15 20h1M22 20h1M49 21h1M58 21h1M62 21h1M16 22h1M18 22h1M45 22h1M32 23h1M57 23h1M15 24h1M18 24h1M20 24h1M49 24h1M16 25h1M61 25h1M66 25h1M21 26h2M61 26h1M66 26h1M12 27h1M21 27h1M64 27h1M66 27h1M60 28h1M67 28h1M12 29h1M18 29h1M41 29h2M57 29h1M65 30h1M67 30h1M19 31h1M64 31h1M17 32h1M24 32h1M10 33h1M65 33h1M67 33h1M69 33h1M19 34h1M71 34h1M14 35h1M53 35h1M11 36h1M13 37h1M12 38h1M20 38h1M63 38h1M11 39h2M69 39h1M15 40h1M52 40h1M71 40h1M61 41h1M68 41h1M15 42h1M18 42h1M67 42h1M72 42h1M22 43h1M61 43h1M9 44h1M12 44h1M14 44h1M70 44h1M14 45h1M17 45h1M21 45h1M71 45h1M13 46h1M16 46h1M23 47h1M64 47h1M67 47h1M15 48h1M45 48h1M54 48h1M63 48h1M14 50h1M25 50h1M31 50h1M69 50h1M66 52h1M13 53h1M22 53h1M23 54h1M65 54h1M43 55h1M52 55h1M57 55h1M17 56h1M20 56h1M24 56h1M51 56h1M54 56h1M65 56h1M13 57h1M28 57h1M37 57h1M42 57h1M44 57h1M16 58h1M35 58h1M38 58h1M52 58h1M60 59h1M22 60h1M45 61h2M54 61h1M27 62h1M41 63h1M47 63h1M60 63h1M29 64h1M35 64h1M56 64h1M25 65h1M48 65h1M50 65h1M52 65h1M26 66h1M29 66h1M43 67h1M48 67h1M52 67h1M49 68h1M29 70h2M37 70h1M39 70h2M39 71h1M41 71h1M42 72h1"/><path stroke="#38ffc7" d="M47 8h1M38 10h1M30 11h1M46 11h1M35 12h1M41 12h1M52 12h1M31 13h2M45 13h1M55 13h1M25 14h1M34 14h1M39 14h1M50 14h1M53 15h1M59 15h1M20 16h1M22 16h1M41 16h3M50 16h1M32 17h1M28 18h1M32 18h2M37 18h1M56 18h1M21 19h1M28 19h1M53 19h1M24 20h1M28 20h1M32 20h1M38 20h1M41 20h1M43 20h1M45 20h1M64 20h1M18 21h1M22 21h1M35 21h1M61 21h1M25 22h1M29 22h1M31 22h1M61 22h1M21 23h1M61 23h1M65 23h1M21 24h1M56 24h1M12 25h1M26 25h1M28 25h1M55 25h1M19 26h2M51 26h1M63 26h1M13 27h1M18 27h1M18 28h1M45 28h1M19 30h1M70 30h1M16 31h1M14 32h1M67 32h1M13 33h1M64 33h1M70 33h1M11 34h1M13 34h1M21 35h1M25 35h1M62 35h1M69 35h1M10 37h2M68 37h1M65 38h1M71 39h1M13 40h1M68 40h1M11 42h1M29 42h1M65 42h1M68 42h1M65 43h1M61 44h1M61 45h1M65 45h2M14 46h1M66 46h1M11 47h1M17 47h1M37 47h1M66 47h1M29 48h1M58 48h1M65 49h1M17 50h1M23 50h1M64 50h2M57 51h1M60 51h1M18 52h1M24 52h1M63 52h1M20 54h1M28 54h1M28 55h1M31 55h1M56 55h1M14 56h1M47 56h1M62 56h1M52 57h1M56 57h1M23 58h1M33 58h1M50 58h1M61 58h1M17 59h1M50 59h1M53 59h1M54 60h1M20 61h1M33 61h1M38 61h1M43 61h1M57 61h1M19 62h1M42 62h1M46 62h2M61 62h1M25 63h1M30 63h1M43 63h2M51 63h1M57 63h1M43 64h2M52 64h1M24 65h1M26 65h1M31 65h1M35 65h1M38 65h1M49 65h1M33 66h1M39 66h1M45 66h1M45 67h1M34 68h1M37 68h1M33 69h1M35 69h1M43 69h1M38 72h1"/><path stroke="#48ffb7" d="M36 9h1M33 10h1M47 10h1M50 10h1M37 11h1M27 13h2M50 13h1M21 14h1M37 14h1M44 14h1M36 15h1M57 15h1M24 16h1M58 16h1M21 17h1M28 17h2M49 17h1M59 17h1M16 18h1M18 18h1M57 18h1M16 19h1M24 19h1M32 19h2M44 19h1M56 19h1M34 20h1M50 20h1M61 20h1M16 21h1M31 21h1M39 21h1M56 21h1M59 21h1M20 22h1M30 22h1M49 22h1M54 22h1M63 22h1M20 23h1M59 23h1M41 24h1M61 24h1M65 24h1M17 25h1M25 25h1M31 25h1M33 25h1M43 25h1M18 26h1M23 26h1M60 26h1M20 27h1M62 27h1M19 28h1M25 28h1M32 28h1M37 28h1M66 28h1M67 29h1M13 30h1M15 30h1M32 31h1M15 32h1M17 33h1M20 33h1M25 33h1M68 33h1M16 34h1M25 34h1M67 34h1M34 35h1M68 35h1M13 36h1M22 36h2M30 37h1M55 37h1M16 38h2M62 39h1M18 40h1M69 42h1M9 43h1M24 43h1M11 44h1M18 44h1M29 46h1M70 46h1M16 47h1M19 47h1M46 47h1M62 47h1M30 48h1M59 48h1M67 48h1M34 49h1M57 49h1M16 50h1M21 50h1M61 50h1M63 50h1M13 51h1M17 51h1M21 51h1M23 51h1M27 51h1M38 51h1M63 51h1M67 51h1M17 52h1M16 53h1M18 54h1M60 54h1M63 54h1M26 55h1M33 55h1M35 55h1M54 55h1M59 55h1M61 55h1M22 56h1M33 57h1M25 58h2M48 58h1M16 59h1M21 59h1M25 59h1M27 59h1M51 59h1M64 59h1M17 60h1M19 60h1M30 60h1M32 60h1M38 60h1M48 60h2M53 60h1M61 60h1M19 61h1M31 61h2M51 61h2M55 61h1M58 61h1M28 62h1M20 63h1M35 63h1M24 64h1M30 64h3M46 64h1M27 65h1M29 65h1M43 65h2M46 66h1M31 67h1M34 67h1M38 67h1M28 68h1M30 68h1M42 68h1M44 68h1M52 68h1M29 69h1M47 69h1M35 70h1M44 70h2M40 72h1"/><path stroke="#58ffa7" d="M36 10h1M33 11h1M49 11h1M32 12h1M44 12h1M50 12h1M24 13h1M23 14h1M55 14h1M29 15h1M31 15h1M34 15h1M56 15h1M32 16h1M37 16h1M52 16h3M56 16h1M20 17h1M27 17h1M30 17h1M57 17h1M19 18h1M24 18h1M30 18h1M41 18h3M52 18h1M46 19h1M50 19h1M58 19h1M56 20h1M59 20h1M63 20h1M15 21h1M29 21h1M43 21h1M50 21h1M43 22h1M58 22h3M66 22h1M22 23h1M53 23h1M16 24h1M58 24h1M60 24h1M14 25h1M30 25h1M51 25h1M37 26h1M49 26h1M65 26h1M23 27h1M49 27h1M16 28h1M29 28h1M59 28h1M34 29h1M45 29h1M14 30h1M16 30h1M32 30h1M47 30h1M64 30h1M13 31h2M60 31h2M12 32h1M35 33h1M17 34h2M29 34h1M56 34h1M66 34h1M35 35h1M52 35h1M60 35h1M66 35h1M70 35h2M21 36h1M27 36h1M12 37h1M18 37h1M31 37h1M61 37h1M70 37h1M19 38h1M25 38h1M68 38h1M19 39h1M66 39h1M20 40h1M23 40h1M11 41h1M29 41h1M64 41h1M13 42h2M20 42h1M13 43h1M16 43h1M18 43h1M20 43h2M59 43h1M17 44h1M19 44h1M23 44h1M57 44h1M66 44h1M22 45h1M27 45h1M51 45h1M67 45h1M31 46h1M65 46h1M13 48h1M17 48h2M21 48h1M65 48h1M29 49h2M40 49h1M18 50h1M51 50h1M54 50h1M14 51h2M22 51h1M23 52h1M21 53h1M31 53h1M22 54h1M24 54h1M29 54h1M38 54h1M46 55h1M62 55h2M19 56h1M26 56h1M37 56h1M45 56h1M55 56h2M64 56h1M14 57h1M23 57h1M49 57h1M14 58h1M32 58h1M43 58h1M24 59h1M29 59h1M33 59h1M41 59h1M59 59h1M16 60h1M58 60h1M21 61h1M25 61h1M29 61h1M56 61h1M59 61h1M25 62h1M37 62h1M31 63h1M23 64h1M28 64h1M38 64h1M40 65h1M42 65h1M46 65h1M50 66h2M33 67h1M39 67h2M44 67h1M40 68h1M38 69h1M44 69h1M43 70h1"/><path stroke="#68ff97" d="M31 11h1M42 11h2M52 11h1M43 12h1M25 13h1M26 14h1M28 14h1M32 14h2M40 14h1M43 14h1M23 15h1M33 15h1M37 15h1M41 15h2M49 15h1M26 16h1M46 16h1M61 17h1M25 18h1M31 18h1M20 19h1M40 19h1M54 19h2M14 20h1M25 20h2M35 20h1M42 20h1M55 20h1M60 20h1M17 21h1M28 21h1M37 21h1M21 22h1M62 22h1M37 23h1M50 23h2M55 23h1M33 24h1M48 24h1M51 24h2M34 25h2M50 25h1M17 26h1M29 26h1M44 26h1M55 26h1M67 26h1M15 27h1M17 27h1M24 27h1M41 27h1M55 27h1M65 27h1M11 28h1M36 28h1M61 28h1M36 29h1M47 29h1M21 30h1M26 30h1M29 30h2M50 30h1M58 30h1M27 31h1M13 32h1M26 32h1M34 32h1M12 33h1M21 33h1M50 33h1M61 33h1M46 34h1M64 34h2M11 35h1M17 35h1M26 35h1M33 35h1M61 35h1M65 35h1M16 36h1M29 36h1M65 36h2M70 36h1M14 37h1M26 37h1M59 37h1M67 37h1M14 38h1M22 38h1M55 38h1M61 38h1M20 39h1M61 39h1M29 40h1M57 40h1M59 40h1M64 40h2M12 41h1M15 41h1M18 41h1M24 41h1M27 41h1M59 41h1M65 41h1M60 43h1M70 43h1M59 44h1M64 44h1M13 45h1M25 45h1M28 45h1M11 46h2M26 46h1M34 46h1M44 46h1M31 47h1M10 48h1M14 48h1M25 48h3M13 49h1M20 49h1M67 49h2M22 50h1M26 50h1M40 50h1M52 50h1M57 50h1M59 50h1M32 51h1M34 51h1M55 51h2M61 51h1M11 52h1M67 52h1M19 53h1M32 53h1M40 53h1M51 53h1M55 53h1M27 54h1M47 54h1M23 55h1M38 55h1M60 55h1M30 56h2M61 56h1M22 57h1M25 57h1M34 57h1M53 57h1M57 57h1M59 57h1M31 58h1M37 58h1M40 59h1M18 60h1M34 60h1M36 60h1M39 60h1M45 60h1M27 61h1M35 61h1M40 61h1M42 61h1M50 61h1M30 62h1M39 62h1M43 62h2M55 62h1M42 63h1M52 63h1M27 64h1M40 64h1M22 65h1M28 65h1M39 65h1M40 66h1M30 67h1M46 67h1M29 68h1M31 68h1M36 68h1M39 69h1M34 70h1M46 70h1"/><path stroke="#78ff87" d="M28 11h1M31 12h1M38 12h1M31 14h1M42 14h1M25 15h1M35 15h1M18 16h1M59 16h1M22 17h1M24 17h1M52 17h1M34 18h1M27 19h1M34 19h1M36 19h1M49 19h1M61 19h1M16 20h1M19 20h1M33 20h1M39 20h2M52 20h1M58 20h1M23 21h1M30 21h1M34 21h1M17 22h1M24 22h1M36 22h1M42 22h1M46 22h1M48 22h1M38 23h1M22 24h1M27 24h1M40 24h1M44 24h1M63 24h1M22 25h2M37 25h1M59 25h1M62 25h1M11 26h1M13 26h1M42 26h1M25 27h1M27 27h1M34 27h1M43 27h1M60 27h1M50 28h1M52 28h1M15 29h1M30 29h1M66 29h1M22 30h1M48 30h2M21 31h1M26 31h1M39 31h1M63 31h1M20 32h1M27 32h1M54 32h1M63 32h1M66 32h1M15 33h1M27 33h1M31 33h1M54 33h1M62 33h1M14 34h1M22 34h1M54 34h1M60 34h1M68 34h1M15 35h1M19 35h1M63 35h1M10 36h1M15 36h1M19 36h1M28 36h1M61 36h1M63 36h1M15 37h1M19 37h1M21 37h1M27 37h1M15 38h1M56 38h1M21 40h1M56 40h1M62 40h1M17 41h1M26 41h1M16 42h2M22 42h1M66 42h1M11 43h1M14 43h1M26 43h1M63 43h1M68 43h1M20 44h1M23 45h1M34 45h1M17 46h1M27 46h1M10 47h1M20 47h1M27 47h1M59 47h1M65 47h1M20 48h1M68 48h1M21 49h2M27 49h1M39 49h1M50 49h1M11 50h1M28 50h1M36 50h1M49 50h1M56 50h1M62 50h1M16 51h1M49 51h1M14 52h1M26 52h1M40 52h1M44 52h1M55 52h2M64 52h1M18 53h1M26 53h1M30 53h1M36 53h2M45 53h2M54 53h1M57 53h1M15 54h1M26 54h1M46 54h1M53 54h1M61 54h2M36 55h1M40 55h1M58 55h1M33 56h1M41 56h1M17 57h1M19 57h1M31 57h1M54 57h1M62 57h1M34 58h1M18 59h2M26 59h1M30 59h1M46 59h1M55 59h1M58 59h1M63 59h1M23 60h1M25 60h1M37 60h1M47 60h1M51 60h1M17 61h1M44 61h1M48 61h1M35 62h2M51 62h2M57 62h1M28 63h1M20 64h1M33 64h1M37 64h1M49 64h1M45 65h1M31 66h2M48 66h1M41 67h2M34 69h1M36 69h1M38 70h1M42 71h1"/><path stroke="#87ff78" d="M37 10h1M49 10h1M44 11h1M37 12h1M48 12h1M29 13h1M41 14h1M53 14h1M24 15h1M30 15h1M50 15h1M44 16h1M34 17h1M38 17h1M27 18h1M44 18h1M47 18h1M54 18h1M19 19h1M31 19h1M41 19h1M52 19h1M33 21h1M36 21h1M41 21h1M46 21h1M54 21h1M19 22h1M26 22h1M38 22h1M41 22h1M51 22h1M13 23h1M33 23h1M40 23h1M48 23h1M58 23h1M63 23h1M28 24h1M59 24h1M62 24h1M38 25h1M44 25h1M46 25h1M58 25h1M63 25h1M33 26h1M59 26h1M44 27h1M54 27h1M61 27h1M13 28h1M35 28h1M48 28h2M62 28h1M19 29h1M21 29h1M25 29h1M35 29h1M38 29h1M50 29h1M65 29h1M12 30h1M25 30h1M54 30h1M10 31h1M48 31h1M54 31h1M22 32h1M38 32h1M59 32h1M64 32h1M16 33h1M26 33h1M29 33h1M59 33h1M71 33h1M15 34h1M37 34h1M69 34h1M23 35h1M64 35h1M60 36h1M17 37h1M60 37h1M62 37h1M66 37h1M27 39h1M59 39h1M12 40h1M16 40h1M25 40h1M30 40h1M61 40h1M67 41h1M12 42h1M12 43h1M33 43h1M50 43h1M10 44h1M22 44h1M55 44h1M19 45h1M26 45h1M29 45h1M69 45h1M18 46h1M24 46h1M59 46h1M62 46h1M35 47h1M12 48h1M24 48h1M15 49h1M17 49h1M61 49h1M63 49h1M20 50h1M60 50h1M29 51h1M52 51h1M62 51h1M66 51h1M28 52h1M36 52h1M45 52h1M49 52h1M52 52h1M15 53h1M41 53h1M17 54h1M31 54h1M39 54h2M49 54h1M54 54h1M15 55h1M22 55h1M23 56h1M40 56h1M43 56h1M48 56h1M58 56h1M63 56h1M32 57h1M38 57h1M40 57h1M51 57h1M18 58h1M28 58h1M40 58h1M42 58h1M45 58h1M49 59h1M56 59h2M24 60h1M27 60h1M29 60h1M40 60h1M46 60h1M60 60h1M37 61h1M41 61h1M49 61h1M53 61h1M61 61h1M18 62h1M53 62h1M26 63h1M39 63h1M49 63h1M56 63h1M34 64h1M51 64h1M55 64h1M28 66h1M38 66h1M49 67h1"/><path stroke="#97ff68" d="M26 13h1M36 13h1M39 13h2M42 13h1M53 13h1M45 14h2M44 17h1M35 18h1M39 18h1M49 18h1M39 19h1M62 19h1M23 20h1M29 20h1M48 20h2M27 21h1M33 22h1M44 22h1M52 22h1M57 22h1M15 23h1M24 23h2M35 23h1M57 24h1M18 25h2M39 25h1M41 25h1M56 25h1M26 26h2M30 26h1M41 26h1M50 26h1M58 26h1M29 27h1M63 27h1M22 28h1M53 28h2M64 28h1M20 29h1M32 29h1M56 29h1M62 29h1M64 29h1M68 29h1M24 31h1M28 31h1M49 31h2M56 31h1M59 31h1M16 32h1M18 32h1M21 32h1M51 32h1M61 32h1M23 33h1M60 33h1M12 34h1M30 34h1M34 34h2M41 34h1M36 35h1M18 36h1M20 36h1M24 36h1M26 36h1M40 36h1M62 36h1M22 37h1M57 37h2M13 38h1M21 38h1M23 38h1M36 38h1M58 38h1M14 39h2M18 39h1M21 39h1M64 39h1M58 40h1M67 40h1M20 41h1M66 41h1M30 42h1M61 42h2M25 43h1M30 43h2M67 43h1M16 44h1M60 44h1M63 44h1M20 45h1M55 45h2M64 45h1M68 45h1M32 46h1M38 46h1M21 47h1M36 47h1M16 48h1M23 48h1M19 49h1M31 49h1M59 49h1M50 50h1M55 50h1M20 51h1M25 51h1M43 51h1M46 51h1M64 51h1M35 52h1M17 53h1M24 53h2M59 53h1M14 54h1M34 54h1M43 54h2M56 54h2M16 55h1M19 55h1M25 55h1M53 55h1M32 56h1M42 56h1M18 57h1M20 57h2M29 57h2M41 57h1M39 58h1M46 58h1M56 58h1M28 59h1M28 61h1M36 61h1M23 62h1M26 62h1M49 62h1M56 62h1M25 64h1M27 66h1M52 66h1M32 67h1M37 67h1M38 71h1"/><path stroke="#a7ff58" d="M36 11h1M38 13h1M45 15h1M48 15h1M51 15h1M58 15h1M27 16h1M30 16h1M35 16h1M47 16h2M31 17h1M40 17h1M42 17h1M50 17h2M53 17h1M36 18h1M30 19h1M45 19h1M21 20h1M27 20h1M31 20h1M44 20h1M54 20h1M57 20h1M20 21h2M24 21h1M32 21h1M38 21h1M53 21h1M39 22h1M17 23h1M30 23h1M36 23h1M41 23h1M52 23h1M17 24h1M24 24h1M30 24h2M34 24h1M45 25h1M48 25h1M64 25h1M25 26h1M36 26h1M43 26h1M53 26h1M22 27h1M38 27h1M52 27h1M58 27h1M42 28h1M27 29h1M31 29h1M52 29h1M23 30h1M31 30h1M18 31h1M23 31h1M29 31h1M57 31h1M65 31h1M45 32h1M49 32h1M58 32h1M65 32h1M18 33h1M28 33h1M30 33h1M52 33h1M57 34h1M29 35h1M54 35h1M14 36h1M32 36h1M41 36h1M46 36h1M49 36h1M58 36h1M65 37h1M9 38h1M26 38h1M30 38h1M52 38h1M54 38h1M16 39h2M23 39h1M29 39h1M53 39h1M60 39h1M67 39h1M53 40h1M55 40h1M66 40h1M14 41h1M16 41h1M25 41h1M50 41h1M52 41h1M54 41h2M60 41h1M62 41h2M19 42h1M25 42h2M60 42h1M15 43h1M48 43h1M53 43h1M62 43h1M64 43h1M31 44h1M58 44h1M35 45h1M19 46h1M22 46h2M30 46h1M37 46h1M57 46h1M61 46h1M28 47h1M44 47h1M57 48h1M25 49h1M51 49h1M54 49h1M56 49h1M29 50h1M41 50h1M43 50h1M58 50h1M66 50h1M18 51h1M24 51h1M28 51h1M65 51h1M30 52h1M39 52h1M41 52h1M59 52h1M33 53h1M43 53h1M56 53h1M25 54h1M42 54h1M48 54h1M52 54h1M21 55h1M30 55h1M37 55h1M48 55h1M21 56h1M49 56h1M59 56h2M19 58h1M63 58h1M44 59h2M52 59h1M21 60h1M42 60h1M52 60h1M26 61h1M29 62h1M41 62h1M45 62h1M19 63h1M37 63h1M46 63h1M48 64h1M30 65h1M37 66h1"/><path stroke="#b7ff48" d="M34 12h1M37 13h1M47 15h1M39 16h1M49 16h1M36 17h1M39 17h1M56 17h1M17 18h1M29 18h1M45 18h1M53 18h1M55 18h1M29 19h1M37 19h1M42 19h1M40 21h1M22 22h2M31 23h1M43 23h1M45 23h1M43 24h1M32 25h1M49 25h1M32 26h1M32 27h1M34 28h1M41 28h1M14 29h1M49 29h1M54 29h1M63 29h1M20 30h1M34 30h1M38 30h1M57 30h1M63 30h1M22 31h1M25 31h1M52 31h1M62 31h1M32 32h2M39 32h1M62 32h1M58 33h1M63 34h1M16 35h1M18 35h1M50 35h1M57 35h1M12 36h1M31 36h1M55 36h1M59 36h1M34 37h1M52 37h1M63 37h1M18 38h1M24 38h1M28 38h2M39 38h2M38 39h1M56 39h1M24 40h1M54 40h1M63 40h1M22 41h1M23 42h2M53 42h1M57 42h1M23 43h1M56 43h1M15 44h1M26 44h1M37 44h1M65 44h1M52 45h3M63 45h1M43 46h1M51 46h1M25 47h1M30 47h1M34 47h1M53 47h2M63 47h1M56 48h1M45 49h1M52 49h1M55 49h1M58 49h1M60 49h1M64 49h1M19 50h1M38 50h1M41 51h1M45 51h1M25 52h1M31 52h1M23 53h1M34 53h1M50 53h1M32 54h2M47 55h1M34 56h1M47 57h1M15 58h1M36 58h1M31 59h1M38 59h1M43 59h1M24 61h1M31 62h2M24 63h1M40 63h1M41 65h1M47 65h1M35 66h1M42 66h1M47 66h1M48 68h1"/><path stroke="#c7ff38" d="M32 11h1M26 12h1M33 13h1M52 14h1M46 15h1M43 19h1M51 19h1M30 20h1M36 20h1M26 21h1M51 21h1M55 21h1M35 22h1M56 22h1M19 23h1M26 23h1M46 23h1M49 23h1M56 23h1M35 24h1M54 24h1M29 25h1M36 25h1M54 25h1M46 26h2M57 26h1M14 27h1M39 27h1M31 28h1M46 28h1M16 29h1M60 29h1M18 30h1M27 30h1M37 30h1M45 30h1M53 30h1M20 31h1M47 31h1M53 31h1M23 32h1M39 33h1M53 33h1M63 33h1M28 34h1M61 34h1M31 35h1M69 36h1M24 37h1M64 37h1M49 38h1M60 38h1M28 39h1M39 39h1M54 39h1M65 39h1M35 40h1M53 41h1M51 42h1M55 42h1M64 42h1M58 43h1M13 44h1M30 44h1M32 44h1M67 44h1M20 46h2M55 46h1M67 46h1M15 47h1M58 47h1M60 47h1M22 48h1M34 48h1M37 48h1M50 48h1M52 48h1M62 48h1M66 48h1M23 49h1M24 50h1M30 50h1M32 50h1M34 50h1M30 51h1M44 51h1M59 51h1M22 52h1M33 52h1M43 52h1M29 53h1M62 53h1M36 54h1M50 55h1M27 56h2M46 56h1M50 56h1M57 56h1M35 57h2M61 57h1M48 59h1M33 60h1M43 60h2M40 62h1M50 63h1M34 65h1M36 66h1"/><path stroke="#d7ff28" d="M31 16h1M36 16h1M40 18h1M48 18h1M37 20h1M48 21h1M27 22h1M34 22h1M16 23h1M23 23h1M27 23h3M32 24h1M39 24h1M42 24h1M47 24h1M28 26h1M34 26h1M38 26h1M48 26h1M62 26h1M30 27h1M37 27h1M45 27h1M51 27h1M26 28h2M51 28h1M26 29h1M37 29h1M46 29h1M51 29h1M51 30h1M56 30h1M31 31h1M34 31h1M43 31h1M19 32h1M44 32h1M52 32h1M43 33h1M48 33h1M57 33h1M66 33h1M24 34h1M33 34h1M47 34h1M58 34h2M55 35h2M58 35h1M67 35h1M33 36h1M54 36h1M67 36h1M20 37h1M25 37h1M28 37h1M67 38h1M33 39h1M57 39h1M33 40h1M19 41h1M28 41h1M30 41h1M33 41h1M49 43h1M55 43h1M28 44h1M24 45h1M58 45h1M28 46h1M36 46h1M56 46h1M32 47h1M52 47h1M31 48h1M38 49h1M49 49h1M37 50h1M39 50h1M47 50h1M26 51h1M36 51h1M40 51h1M53 51h1M19 52h1M27 52h1M42 52h1M50 52h2M53 52h2M42 53h1M37 54h1M18 55h1M34 55h1M39 55h1M49 55h1M29 56h1M35 56h2M29 58h1M49 58h1M55 58h1M59 58h1M36 59h1M42 59h1M31 60h1M41 60h1M23 61h1M33 62h1M50 62h1M36 63h1M45 63h1M26 67h1M41 68h1M47 68h1"/><path stroke="#e7ff18" d="M35 17h1M41 17h1M59 18h1M46 20h1M32 22h1M37 22h1M44 23h1M47 23h1M64 23h1M36 24h1M46 24h1M24 25h1M47 25h1M26 27h1M53 27h1M30 28h1M33 28h1M44 28h1M47 28h1M58 29h2M35 30h2M42 30h1M46 30h1M55 30h1M59 30h1M17 31h1M30 31h1M45 31h1M40 33h1M27 34h1M62 34h1M28 35h1M30 35h1M43 35h1M25 36h1M30 36h1M39 36h1M50 36h1M23 37h1M42 37h1M47 37h1M56 37h1M26 39h1M41 39h1M58 41h1M27 42h2M31 42h2M38 42h1M56 42h1M58 42h1M34 43h1M57 43h1M21 44h1M35 44h1M41 44h1M52 44h1M56 44h1M58 46h1M18 47h1M29 47h1M50 47h1M28 48h1M40 48h1M16 49h1M35 49h1M41 49h1M27 53h1M52 53h1M51 54h1M55 54h1M42 55h1M44 56h1M24 57h1M27 57h1M45 57h1M41 58h1M47 58h1M39 59h1M39 61h1M39 64h1M54 64h1M32 65h1"/><path stroke="#f7ff08" d="M28 22h1M50 22h1M39 23h1M38 24h1M55 24h1M52 25h1M35 26h1M39 26h1M33 27h1M46 27h1M38 28h2M55 28h1M63 28h1M22 29h1M53 29h1M58 31h1M30 32h1M37 32h1M14 33h1M19 33h1M32 33h1M46 33h1M51 33h1M20 34h1M26 34h1M55 34h1M52 36h1M50 37h1M57 38h1M27 40h1M34 40h1M36 40h1M49 40h1M60 40h1M21 41h1M34 41h1M51 41h1M38 43h1M25 44h1M36 44h1M45 44h1M47 44h1M47 45h1M57 45h1M25 46h1M52 46h1M54 46h1M47 47h1M33 48h1M42 48h1M49 48h1M60 48h1M44 49h1M46 49h2M35 50h1M46 50h1M37 51h1M15 52h1M20 52h2M38 52h1M46 52h1M60 52h1M44 53h1M48 53h1M53 53h1M60 53h1M50 54h1M53 56h1M51 58h1M32 59h1M37 59h1"/><path stroke="#fff700" d="M48 19h1M37 24h1M40 26h1M47 27h1M50 27h1M23 29h1M44 29h1M48 29h1M61 29h1M24 30h1M43 30h1M37 31h1M51 31h1M55 31h1M28 32h1M46 32h1M50 32h1M56 32h1M21 34h1M23 34h1M45 34h1M50 34h1M27 35h1M37 35h1M53 36h1M37 37h1M31 38h1M53 38h1M32 39h1M37 39h1M42 39h1M55 39h1M31 40h1M50 40h1M56 41h1M36 42h1M32 43h1M24 44h1M33 44h1M38 44h1M43 44h1M32 45h2M45 45h1M59 45h1M40 46h1M60 46h1M43 47h1M36 48h1M53 48h1M24 49h1M26 49h1M32 49h1M36 49h1M33 50h1M42 50h1M48 50h1M33 51h1M51 51h1M29 52h1M32 52h1M35 53h1M38 53h1M35 54h1M41 54h1M27 55h1M38 56h1M43 57h1M44 58h1M33 63h1M36 64h1"/><path stroke="#ffe700" d="M25 21h1M42 21h1M44 21h1M47 21h1M52 21h1M56 26h1M19 27h1M28 28h1M43 28h1M24 29h1M28 29h1M33 30h1M44 30h1M41 32h1M24 33h1M56 33h1M53 34h1M39 35h1M51 35h1M47 36h1M56 36h1M64 36h1M16 37h1M33 37h1M39 37h1M41 37h1M43 37h1M46 37h1M54 37h1M66 38h1M40 39h1M44 40h1M37 41h1M47 41h1M57 41h1M28 43h1M39 43h1M45 43h1M52 43h1M27 44h1M34 44h1M42 44h1M48 44h1M50 44h1M50 45h1M40 47h1M43 48h1M33 49h1M43 49h1M27 50h1M44 50h1M31 51h1M58 51h1M37 52h1M39 53h1M49 53h1M21 54h1M41 55h1M46 69h1"/><path stroke="#ffd700" d="M30 13h1M26 19h1M26 24h1M48 27h1M57 28h1M43 29h1M15 31h1M33 31h1M36 31h1M38 31h1M29 32h1M36 32h1M43 32h1M44 34h1M40 35h1M37 36h1M42 36h1M51 36h1M57 36h1M32 37h1M27 38h1M32 38h1M34 38h1M41 38h1M43 38h1M36 39h1M46 39h1M26 40h1M28 40h1M32 40h1M51 40h1M32 41h1M48 41h1M35 42h1M52 42h1M19 43h1M27 43h1M36 43h1M37 45h1M46 45h1M48 45h1M50 46h1M55 47h1M57 47h1M44 48h1M48 48h1M42 49h1M53 50h1M42 51h1M47 51h1M34 52h1M47 52h1M45 54h1"/><path stroke="#ffc700" d="M44 15h1M42 23h1M45 24h1M21 25h1M31 27h1M35 27h1M42 27h1M39 29h2M40 30h1M35 31h1M31 32h1M57 32h1M34 33h1M47 33h1M39 34h1M51 34h2M41 35h1M45 35h1M36 37h1M38 37h1M35 39h1M23 41h1M44 41h1M49 41h1M39 42h1M47 42h1M54 42h1M46 43h1M51 43h1M54 43h1M40 44h1M53 44h1M31 45h1M39 45h1M41 46h1M45 46h1M47 46h1M39 47h1M41 47h1M47 48h1M35 51h1M50 51h1M54 51h1M48 52h1M45 55h1"/><path stroke="#ffb700" d="M40 27h1M40 28h1M33 29h1M42 31h1M44 31h1M40 32h1M33 33h1M44 33h2M42 34h1M46 35h1M38 36h1M45 36h1M50 38h1M31 39h1M34 39h1M51 39h1M40 41h1M33 42h1M50 42h1M40 43h1M44 44h1M41 45h1M49 45h1M53 46h1M33 47h1M32 48h1M51 48h1M55 48h1M44 55h1"/><path stroke="#ffa700" d="M45 21h1M35 32h1M37 33h1M32 34h1M42 35h1M48 35h2M48 36h1M48 37h1M46 38h1M51 38h1M48 39h1M58 39h1M37 40h1M31 41h1M38 41h1M35 43h1M47 43h1M36 45h1M35 46h1M56 47h1M38 48h1M41 48h1M39 51h1M48 51h1"/><path stroke="#ff9700" d="M39 30h1M41 33h1M49 33h1M38 34h1M47 35h1M35 36h1M35 37h1M40 37h1M53 37h1M44 38h1M48 38h1M30 39h1M41 40h1M35 41h1M34 42h1M43 42h1M29 44h1M43 45h1M39 46h1M51 47h1M39 48h1M28 49h1M45 50h1M51 55h1"/><path stroke="#ff8700" d="M36 27h1M41 30h1M52 30h1M48 34h1M43 36h1M29 37h1M45 38h1M44 39h1M48 40h1M45 41h1M46 42h1M44 43h1M40 45h1M42 45h1M49 46h1M48 47h1M46 48h1"/><path stroke="#ff7800" d="M46 31h1M42 32h1M36 33h1M38 33h1M36 34h1M38 35h1M44 35h1M44 37h1M33 38h1M25 39h1M49 39h1M39 40h1M39 41h1M41 41h2M46 41h1M29 43h1M37 43h1M51 44h1M24 47h1M38 47h1M45 47h1M49 47h1"/><path stroke="#ff6800" d="M40 31h1M47 32h1M49 34h1M49 37h1M51 37h1M37 38h2M50 39h1M41 42h2M54 44h1M38 45h1M48 46h1M42 47h1M61 47h1M47 53h1"/><path stroke="#ff5800" d="M48 32h1M40 34h1M34 36h1M36 36h1M42 40h1M46 40h1M41 43h1M35 48h1"/><path stroke="#ff4800" d="M41 31h1M43 34h1M35 38h1M45 39h1M52 39h1M40 40h1M36 41h1M48 42h1M46 44h1M44 45h1M46 46h1"/><path stroke="#ff3800" d="M47 40h1M42 43h1M49 44h1M37 49h1M48 49h1"/><path stroke="#ff2800" d="M42 33h1M32 35h1M45 37h1M38 40h1M43 40h1M45 40h1M37 42h1M39 44h1M42 46h1M32 55h1"/><path stroke="#ff1800" d="M47 39h1M44 42h1M30 45h1"/><path stroke="#ff0800" d="M42 38h1M43 41h1M49 42h1"/><path stroke="#e70000" d="M47 38h1M40 42h1M33 46h1"/><path stroke="#d70000" d="M43 39h1"/><path stroke="#c70000" d="M44 36h1"/><path stroke="#870000" d="M45 42h1M43 43h1"/></g></g>
<rect x="678.5" y="637.8" width="484.5" height="483.4" fill="none" stroke="#6a6a6a" stroke-width="1.5"/>
<path d="M678.5 1121.2v-5M678.5 637.8v5M739.1 1121.2v-5M739.1 637.8v5M799.6 1121.2v-5M799.6 637.8v5M860.2 1121.2v-5M860.2 637.8v5M920.8 1121.2v-5M920.8 637.8v5M981.3 1121.2v-5M981.3 637.8v5M1041.9 1121.2v-5M1041.9 637.8v5M1102.4 1121.2v-5M1102.4 637.8v5M1163 1121.2v-5M1163 637.8v5M678.5 1121.2h5M1163 1121.2h-5M678.5 1060.8h5M1163 1060.8h-5M678.5 1000.4h5M1163 1000.4h-5M678.5 939.9h5M1163 939.9h-5M678.5 879.5h5M1163 879.5h-5M678.5 819.1h5M1163 819.1h-5M678.5 758.6h5M1163 758.6h-5M678.5 698.2h5M1163 698.2h-5M678.5 637.8h5M1163 637.8h-5" stroke="#6a6a6a" stroke-width="1.5" fill="none"/>
<text x="0" y="0" font-size="25.4" text-anchor="middle" fill="#262626" font-family="'Liberation Sans', Arial, sans-serif" transform="translate(678.5 1156.7) scale(0.93 1)">-4</text>
<text x="0" y="0" font-size="25.4" text-anchor="middle" fill="#262626" font-family="'Liberation Sans', Arial, sans-serif" transform="translate(739.1 1156.7) scale(0.93 1)">-3</text>
<text x="0" y="0" font-size="25.4" text-anchor="middle" fill="#262626" font-family="'Liberation Sans', Arial, sans-serif" transform="translate(799.6 1156.7) scale(0.93 1)">-2</text>
<text x="0" y="0" font-size="25.4" text-anchor="middle" fill="#262626" font-family="'Liberation Sans', Arial, sans-serif" transform="translate(860.2 1156.7) scale(0.93 1)">-1</text>
<text x="0" y="0" font-size="25.4" text-anchor="middle" fill="#262626" font-family="'Liberation Sans', Arial, sans-serif" transform="translate(920.8 1156.7) scale(0.93 1)">0</text>
<text x="0" y="0" font-size="25.4" text-anchor="middle" fill="#262626" font-family="'Liberation Sans', Arial, sans-serif" transform="translate(981.3 1156.7) scale(0.93 1)">1</text>
<text x="0" y="0" font-size="25.4" text-anchor="middle" fill="#262626" font-family="'Liberation Sans', Arial, sans-serif" transform="translate(1041.9 1156.7) scale(0.93 1)">2</text>
<text x="0" y="0" font-size="25.4" text-anchor="middle" fill="#262626" font-family="'Liberation Sans', Arial, sans-serif" transform="translate(1102.4 1156.7) scale(0.93 1)">3</text>
<text x="0" y="0" font-size="25.4" text-anchor="middle" fill="#262626" font-family="'Liberation Sans', Arial, sans-serif" transform="translate(1163 1156.7) scale(0.93 1)">4</text>
<text x="0" y="0" font-size="25.4" text-anchor="end" fill="#262626" font-family="'Liberation Sans', Arial, sans-serif" transform="translate(669.5 1131.4) scale(0.93 1)">-4</text>
<text x="0" y="0" font-size="25.4" text-anchor="end" fill="#262626" font-family="'Liberation Sans', Arial, sans-serif" transform="translate(669.5 1071) scale(0.93 1)">-3</text>
<text x="0" y="0" font-size="25.4" text-anchor="end" fill="#262626" font-family="'Liberation Sans', Arial, sans-serif" transform="translate(669.5 1010.5) scale(0.93 1)">-2</text>
<text x="0" y="0" font-size="25.4" text-anchor="end" fill="#262626" font-family="'Liberation Sans', Arial, sans-serif" transform="translate(669.5 950.1) scale(0.93 1)">-1</text>
<text x="0" y="0" font-size="25.4" text-anchor="end" fill="#262626" font-family="'Liberation Sans', Arial, sans-serif" transform="translate(669.5 889.7) scale(0.93 1)">0</text>
<text x="0" y="0" font-size="25.4" text-anchor="end" fill="#262626" font-family="'Liberation Sans', Arial, sans-serif" transform="translate(669.5 829.3) scale(0.93 1)">1</text>
<text x="0" y="0" font-size="25.4" text-anchor="end" fill="#262626" font-family="'Liberation Sans', Arial, sans-serif" transform="translate(669.5 768.8) scale(0.93 1)">2</text>
<text x="0" y="0" font-size="25.4" text-anchor="end" fill="#262626" font-family="'Liberation Sans', Arial, sans-serif" transform="translate(669.5 708.4) scale(0.93 1)">3</text>
<text x="0" y="0" font-size="25.4" text-anchor="end" fill="#262626" font-family="'Liberation Sans', Arial, sans-serif" transform="translate(669.5 648) scale(0.93 1)">4</text>
<text x="920" y="1193" font-size="29" text-anchor="middle" fill="#262626" font-family="'Liberation Sans', Arial, sans-serif">X (cm)</text>
<text x="641" y="880" font-size="29" text-anchor="middle" fill="#262626" font-family="'Liberation Sans', Arial, sans-serif" transform="rotate(-90 641 880)">Y (cm)</text>
<rect x="1178.7" y="637.8" width="24.9" height="485.9" fill="url(#cbHB)" stroke="#5a5a5a" stroke-width="0.8"/>
<path d="M1203.6 1123.7h-4M1203.6 1063h-4M1203.6 1002.2h-4M1203.6 941.5h-4M1203.6 880.8h-4M1203.6 820h-4M1203.6 759.3h-4M1203.6 698.5h-4M1203.6 637.8h-4" stroke="#5a5a5a" stroke-width="1" fill="none"/>
<text x="0" y="0" font-size="25.4" text-anchor="start" fill="#262626" font-family="'Liberation Sans', Arial, sans-serif" transform="translate(1211.6 1134.6) scale(0.93 1)">0</text>
<text x="0" y="0" font-size="25.4" text-anchor="start" fill="#262626" font-family="'Liberation Sans', Arial, sans-serif" transform="translate(1211.6 1073.9) scale(0.93 1)">10</text>
<text x="0" y="0" font-size="25.4" text-anchor="start" fill="#262626" font-family="'Liberation Sans', Arial, sans-serif" transform="translate(1211.6 1013.2) scale(0.93 1)">20</text>
<text x="0" y="0" font-size="25.4" text-anchor="start" fill="#262626" font-family="'Liberation Sans', Arial, sans-serif" transform="translate(1211.6 952.4) scale(0.93 1)">30</text>
<text x="0" y="0" font-size="25.4" text-anchor="start" fill="#262626" font-family="'Liberation Sans', Arial, sans-serif" transform="translate(1211.6 891.7) scale(0.93 1)">40</text>
<text x="0" y="0" font-size="25.4" text-anchor="start" fill="#262626" font-family="'Liberation Sans', Arial, sans-serif" transform="translate(1211.6 831) scale(0.93 1)">50</text>
<text x="0" y="0" font-size="25.4" text-anchor="start" fill="#262626" font-family="'Liberation Sans', Arial, sans-serif" transform="translate(1211.6 770.2) scale(0.93 1)">60</text>
<text x="0" y="0" font-size="25.4" text-anchor="start" fill="#262626" font-family="'Liberation Sans', Arial, sans-serif" transform="translate(1211.6 709.5) scale(0.93 1)">70</text>
<text x="0" y="0" font-size="25.4" text-anchor="start" fill="#262626" font-family="'Liberation Sans', Arial, sans-serif" transform="translate(1211.6 648.7) scale(0.93 1)">80</text>
<path d="M1353 32.4V515.7M1433.5 32.4V515.7M1513.9 32.4V515.7M1594.3 32.4V515.7M1674.8 32.4V515.7M1755.2 32.4V515.7M1835.7 32.4V515.7M1353 515.7H1835.7M1353 435.2H1835.7M1353 354.6H1835.7M1353 274.1H1835.7M1353 193.5H1835.7M1353 112.9H1835.7M1353 32.4H1835.7" stroke="#e3e3e3" stroke-width="1.3" fill="none"/>
<g clip-path="url(#clipMA)"><path d="M1582.3 94.6L1549.5 98.9L1518.1 109.3L1489.1 125.2L1463.5 146.2L1442.1 171.6L1425.9 200.5L1415.1 231.8L1411.3 264.6L1411.7 297.8L1419.1 330.1L1432.3 360.5L1450.8 387.9L1474.1 411.5L1501.3 430.4L1531.5 444L1563.6 451.8L1596.7 453.5L1629.5 449.2L1661 438.8L1690 422.9L1715.6 401.9L1736.9 376.5L1753.2 347.6L1763.9 316.3L1768.7 283.5L1767.4 250.3L1760 218L1746.8 187.6L1728.3 160.2L1705 136.6L1677.8 117.7L1647.6 104.1L1615.4 96.3Z" fill="#e5e5e5" stroke="none"/><path d="M1623.3 274.1L1637 274.1M1623.3 274.1L1629.9 263.9M1623.3 274.1L1617.3 263.8M1623.3 274.1L1610.4 274.1M1623.3 274.1L1617.3 284.3M1623.3 274.1L1629.9 284.2M1637 274.1L1629.9 263.9M1637 274.1L1629.9 284.2M1637 274.1L1651.2 267.4M1637 274.1L1643.1 256.6M1637 274.1L1643.1 291.5M1637 274.1L1651.2 280.7M1629.9 263.9L1617.3 263.8M1629.9 263.9L1643.1 256.6M1629.9 263.9L1630.8 251.1M1629.9 263.9L1617.3 250.9M1617.3 263.8L1610.4 274.1M1617.3 263.8L1617.3 250.9M1617.3 263.8L1605 256.4M1610.4 274.1L1617.3 284.3M1610.4 274.1L1605 256.4M1610.4 274.1L1597.2 267.4M1610.4 274.1L1597.2 280.7M1610.4 274.1L1605 291.7M1617.3 284.3L1629.9 284.2M1617.3 284.3L1605 291.7M1617.3 284.3L1617.3 297.2M1629.9 284.2L1617.3 297.2M1629.9 284.2L1630.8 297M1629.9 284.2L1643.1 291.5M1651.2 267.4L1643.1 256.6M1651.2 267.4L1651.2 280.7M1651.2 267.4L1669.4 274.1M1651.2 267.4L1666 260.4M1651.2 267.4L1657.2 249.4M1643.1 256.6L1630.8 251.1M1643.1 256.6L1657.2 249.4M1643.1 256.6L1645.2 241.9M1630.8 251.1L1617.3 250.9M1630.8 251.1L1645.2 241.9M1630.8 251.1L1631.6 238.1M1630.8 251.1L1617.5 237.9M1617.3 250.9L1605 256.4M1617.3 250.9L1617.5 237.9M1617.3 250.9L1603.8 241.5M1605 256.4L1597.2 267.4M1605 256.4L1603.8 241.5M1605 256.4L1591.9 249.1M1597.2 267.4L1597.2 280.7M1597.2 267.4L1591.9 249.1M1597.2 267.4L1583.4 260.3M1597.2 267.4L1580.3 274M1597.2 280.7L1605 291.7M1597.2 280.7L1580.3 274M1597.2 280.7L1583.4 287.8M1597.2 280.7L1591.9 299M1605 291.7L1617.3 297.2M1605 291.7L1591.9 299M1605 291.7L1603.8 306.6M1617.3 297.2L1630.8 297M1617.3 297.2L1603.8 306.6M1617.3 297.2L1617.5 310.2M1630.8 297L1643.1 291.5M1630.8 297L1617.5 310.2M1630.8 297L1631.6 310M1630.8 297L1645.2 306.2M1643.1 291.5L1651.2 280.7M1643.1 291.5L1645.2 306.2M1643.1 291.5L1657.2 298.7M1651.2 280.7L1669.4 274.1M1651.2 280.7L1657.2 298.7M1651.2 280.7L1666 287.7M1669.4 274.1L1666 260.4M1669.4 274.1L1666 287.7M1669.4 274.1L1687.4 266.7M1669.4 274.1L1687.4 281.4M1666 260.4L1657.2 249.4M1666 260.4L1687.4 266.7M1666 260.4L1682 253M1666 260.4L1672.6 241.7M1657.2 249.4L1645.2 241.9M1657.2 249.4L1672.6 241.7M1657.2 249.4L1660.6 233.3M1645.2 241.9L1631.6 238.1M1645.2 241.9L1660.6 233.3M1645.2 241.9L1646.9 227.6M1631.6 238.1L1617.5 237.9M1631.6 238.1L1646.9 227.6M1631.6 238.1L1632.5 224.7M1631.6 238.1L1617.8 224.4M1617.5 237.9L1603.8 241.5M1617.5 237.9L1617.8 224.4M1617.5 237.9L1603.3 227M1603.8 241.5L1591.9 249.1M1603.8 241.5L1603.3 227M1603.8 241.5L1589.7 232.7M1591.9 249.1L1583.4 260.3M1591.9 249.1L1589.7 232.7M1591.9 249.1L1577.8 241.3M1583.4 260.3L1580.3 274M1583.4 260.3L1577.8 241.3M1583.4 260.3L1568.7 252.9M1583.4 260.3L1563.6 266.7M1580.3 274L1583.4 287.8M1580.3 274L1563.6 266.7M1580.3 274L1563.6 281.4M1583.4 287.8L1591.9 299M1583.4 287.8L1563.6 281.4M1583.4 287.8L1568.7 295.2M1583.4 287.8L1577.8 306.8M1591.9 299L1603.8 306.6M1591.9 299L1577.8 306.8M1591.9 299L1589.7 315.4M1603.8 306.6L1617.5 310.2M1603.8 306.6L1589.7 315.4M1603.8 306.6L1603.3 321.1M1617.5 310.2L1631.6 310M1617.5 310.2L1603.3 321.1M1617.5 310.2L1617.8 323.7M1631.6 310L1645.2 306.2M1631.6 310L1617.8 323.7M1631.6 310L1632.5 323.4M1631.6 310L1646.9 320.5M1645.2 306.2L1657.2 298.7M1645.2 306.2L1646.9 320.5M1645.2 306.2L1660.6 314.8M1657.2 298.7L1666 287.7M1657.2 298.7L1660.6 314.8M1657.2 298.7L1672.6 306.4M1666 287.7L1672.6 306.4M1666 287.7L1682 295.1M1666 287.7L1687.4 281.4M1687.4 266.7L1682 253M1687.4 266.7L1687.4 281.4M1687.4 266.7L1708.5 274.1M1687.4 266.7L1706 259M1687.4 266.7L1699.3 245.2M1682 253L1672.6 241.7M1682 253L1699.3 245.2M1682 253L1689.2 233.7M1672.6 241.7L1660.6 233.3M1672.6 241.7L1689.2 233.7M1672.6 241.7L1677 224.5M1660.6 233.3L1646.9 227.6M1660.6 233.3L1677 224.5M1660.6 233.3L1663.2 217.7M1646.9 227.6L1632.5 224.7M1646.9 227.6L1663.2 217.7M1646.9 227.6L1648.6 213.2M1632.5 224.7L1617.8 224.4M1632.5 224.7L1648.6 213.2M1632.5 224.7L1633.5 210.7M1632.5 224.7L1618.2 210.4M1617.8 224.4L1603.3 227M1617.8 224.4L1618.2 210.4M1617.8 224.4L1603 212.4M1603.3 227L1589.7 232.7M1603.3 227L1603 212.4M1603.3 227L1588.3 216.9M1589.7 232.7L1577.8 241.3M1589.7 232.7L1588.3 216.9M1589.7 232.7L1574.6 223.8M1577.8 241.3L1568.7 252.9M1577.8 241.3L1574.6 223.8M1577.8 241.3L1562.6 233.2M1568.7 252.9L1563.6 266.7M1568.7 252.9L1562.6 233.2M1568.7 252.9L1552.9 245M1568.7 252.9L1546.5 258.9M1563.6 266.7L1563.6 281.4M1563.6 266.7L1546.5 258.9M1563.6 266.7L1544.2 274.1M1563.6 281.4L1568.7 295.2M1563.6 281.4L1544.2 274.1M1563.6 281.4L1546.5 289.2M1568.7 295.2L1577.8 306.8M1568.7 295.2L1546.5 289.2M1568.7 295.2L1552.9 303.1M1568.7 295.2L1562.6 314.9M1577.8 306.8L1589.7 315.4M1577.8 306.8L1562.6 314.9M1577.8 306.8L1574.6 324.3M1589.7 315.4L1603.3 321.1M1589.7 315.4L1574.6 324.3M1589.7 315.4L1588.3 331.2M1603.3 321.1L1617.8 323.7M1603.3 321.1L1588.3 331.2M1603.3 321.1L1603 335.7M1617.8 323.7L1632.5 323.4M1617.8 323.7L1603 335.7M1617.8 323.7L1618.2 337.7M1632.5 323.4L1646.9 320.5M1632.5 323.4L1618.2 337.7M1632.5 323.4L1633.5 337.4M1632.5 323.4L1648.6 334.9M1646.9 320.5L1660.6 314.8M1646.9 320.5L1648.6 334.9M1646.9 320.5L1663.2 330.4M1660.6 314.8L1672.6 306.4M1660.6 314.8L1663.2 330.4M1660.6 314.8L1677 323.6M1672.6 306.4L1682 295.1M1672.6 306.4L1677 323.6M1672.6 306.4L1689.2 314.4M1682 295.1L1687.4 281.4M1682 295.1L1689.2 314.4M1682 295.1L1699.3 302.9M1687.4 281.4L1708.5 274.1M1687.4 281.4L1699.3 302.9M1687.4 281.4L1706 289.1M1708.5 274.1L1706 259M1708.5 274.1L1706 289.1M1708.5 274.1L1729.6 263.9M1708.5 274.1L1729.6 284.2M1706 259L1699.3 245.2M1706 259L1729.6 263.9M1706 259L1722.7 244.7M1699.3 245.2L1689.2 233.7M1699.3 245.2L1722.7 244.7M1699.3 245.2L1710.4 228.4M1689.2 233.7L1677 224.5M1689.2 233.7L1710.4 228.4M1689.2 233.7L1694.5 215.5M1677 224.5L1663.2 217.7M1677 224.5L1694.5 215.5M1677 224.5L1676.4 206.1M1663.2 217.7L1648.6 213.2M1663.2 217.7L1676.4 206.1M1663.2 217.7L1657 199.8M1648.6 213.2L1633.5 210.7M1648.6 213.2L1657 199.8M1648.6 213.2L1636.8 196.4M1633.5 210.7L1618.2 210.4M1633.5 210.7L1636.8 196.4M1633.5 210.7L1616.4 196M1618.2 210.4L1603 212.4M1618.2 210.4L1616.4 196M1603 212.4L1588.3 216.9M1603 212.4L1616.4 196M1603 212.4L1596.1 198.8M1588.3 216.9L1574.6 223.8M1588.3 216.9L1596.1 198.8M1588.3 216.9L1576.6 205M1574.6 223.8L1562.6 233.2M1574.6 223.8L1576.6 205M1574.6 223.8L1558.7 214.6M1562.6 233.2L1552.9 245M1562.6 233.2L1558.7 214.6M1562.6 233.2L1543.1 227.9M1552.9 245L1546.5 258.9M1552.9 245L1543.1 227.9M1552.9 245L1531.3 244.5M1546.5 258.9L1544.2 274.1M1546.5 258.9L1531.3 244.5M1546.5 258.9L1524.8 263.9M1544.2 274.1L1546.5 289.2M1544.2 274.1L1524.8 263.9M1544.2 274.1L1524.8 284.2M1546.5 289.2L1552.9 303.1M1546.5 289.2L1524.8 284.2M1546.5 289.2L1531.3 303.6M1552.9 303.1L1562.6 314.9M1552.9 303.1L1531.3 303.6M1552.9 303.1L1543.1 320.2M1562.6 314.9L1574.6 324.3M1562.6 314.9L1543.1 320.2M1562.6 314.9L1558.7 333.5M1574.6 324.3L1588.3 331.2M1574.6 324.3L1558.7 333.5M1574.6 324.3L1576.6 343.1M1588.3 331.2L1603 335.7M1588.3 331.2L1576.6 343.1M1588.3 331.2L1596.1 349.3M1603 335.7L1618.2 337.7M1603 335.7L1596.1 349.3M1603 335.7L1616.4 352.1M1618.2 337.7L1633.5 337.4M1618.2 337.7L1616.4 352.1M1633.5 337.4L1648.6 334.9M1633.5 337.4L1616.4 352.1M1633.5 337.4L1636.8 351.7M1648.6 334.9L1663.2 330.4M1648.6 334.9L1636.8 351.7M1648.6 334.9L1657 348.3M1663.2 330.4L1677 323.6M1663.2 330.4L1657 348.3M1663.2 330.4L1676.4 342M1677 323.6L1689.2 314.4M1677 323.6L1676.4 342M1677 323.6L1694.5 332.6M1689.2 314.4L1699.3 302.9M1689.2 314.4L1694.5 332.6M1689.2 314.4L1710.4 319.7M1699.3 302.9L1706 289.1M1699.3 302.9L1710.4 319.7M1699.3 302.9L1722.7 303.4M1706 289.1L1722.7 303.4M1706 289.1L1729.6 284.2M1729.6 263.9L1722.7 244.7M1729.6 263.9L1729.6 284.2M1729.6 263.9L1754.2 274.1M1729.6 263.9L1750.8 252.8M1722.7 244.7L1710.4 228.4M1722.7 244.7L1750.8 252.8M1722.7 244.7L1741.2 233.4M1722.7 244.7L1727 217.1M1710.4 228.4L1694.5 215.5M1710.4 228.4L1727 217.1M1710.4 228.4L1709.8 204M1694.5 215.5L1676.4 206.1M1694.5 215.5L1709.8 204M1694.5 215.5L1690.6 194M1676.4 206.1L1657 199.8M1676.4 206.1L1690.6 194M1676.4 206.1L1670.2 186.9M1657 199.8L1636.8 196.4M1657 199.8L1670.2 186.9M1657 199.8L1649 182.5M1636.8 196.4L1616.4 196M1636.8 196.4L1649 182.5M1636.8 196.4L1627.5 180.8M1616.4 196L1596.1 198.8M1616.4 196L1627.5 180.8M1616.4 196L1605.8 181.7M1596.1 198.8L1576.6 205M1596.1 198.8L1605.8 181.7M1596.1 198.8L1584.6 185.6M1576.6 205L1558.7 214.6M1576.6 205L1584.6 185.6M1576.6 205L1564.1 192.6M1558.7 214.6L1543.1 227.9M1558.7 214.6L1564.1 192.6M1558.7 214.6L1545.1 202.8M1543.1 227.9L1531.3 244.5M1543.1 227.9L1545.1 202.8M1543.1 227.9L1528.2 216.3M1531.3 244.5L1524.8 263.9M1531.3 244.5L1528.2 216.3M1531.3 244.5L1514.5 233.1M1531.3 244.5L1505.4 252.7M1524.8 263.9L1524.8 284.2M1524.8 263.9L1505.4 252.7M1524.8 263.9L1502.2 274M1524.8 284.2L1531.3 303.6M1524.8 284.2L1502.2 274M1524.8 284.2L1505.4 295.4M1531.3 303.6L1543.1 320.2M1531.3 303.6L1505.4 295.4M1531.3 303.6L1514.5 315M1531.3 303.6L1528.2 331.8M1543.1 320.2L1558.7 333.5M1543.1 320.2L1528.2 331.8M1543.1 320.2L1545.1 345.3M1558.7 333.5L1576.6 343.1M1558.7 333.5L1545.1 345.3M1558.7 333.5L1564.1 355.5M1576.6 343.1L1596.1 349.3M1576.6 343.1L1564.1 355.5M1576.6 343.1L1584.6 362.5M1596.1 349.3L1616.4 352.1M1596.1 349.3L1584.6 362.5M1596.1 349.3L1605.8 366.4M1616.4 352.1L1636.8 351.7M1616.4 352.1L1605.8 366.4M1616.4 352.1L1627.5 367.3M1636.8 351.7L1657 348.3M1636.8 351.7L1627.5 367.3M1636.8 351.7L1649 365.6M1657 348.3L1676.4 342M1657 348.3L1649 365.6M1657 348.3L1670.2 361.2M1676.4 342L1694.5 332.6M1676.4 342L1670.2 361.2M1676.4 342L1690.6 354.1M1694.5 332.6L1710.4 319.7M1694.5 332.6L1690.6 354.1M1694.5 332.6L1709.8 344.1M1710.4 319.7L1722.7 303.4M1710.4 319.7L1709.8 344.1M1710.4 319.7L1727 331M1722.7 303.4L1729.6 284.2M1722.7 303.4L1727 331M1722.7 303.4L1741.2 314.7M1722.7 303.4L1750.8 295.3M1729.6 284.2L1754.2 274.1M1729.6 284.2L1750.8 295.3M1754.2 274.1L1750.8 252.8M1754.2 274.1L1750.8 295.3M1754.2 274.1L1768.7 283.5M1754.2 274.1L1767.4 250.3M1750.8 252.8L1741.2 233.4M1750.8 252.8L1767.4 250.3M1741.2 233.4L1727 217.1M1741.2 233.4L1744.5 205.3M1741.2 233.4L1767.4 250.3M1741.2 233.4L1760 218M1727 217.1L1709.8 204M1727 217.1L1744.5 205.3M1727 217.1L1726.1 191.9M1709.8 204L1690.6 194M1709.8 204L1726.1 191.9M1709.8 204L1705.9 181.5M1690.6 194L1670.2 186.9M1690.6 194L1705.9 181.5M1690.6 194L1684.5 173.8M1670.2 186.9L1649 182.5M1670.2 186.9L1684.5 173.8M1670.2 186.9L1662.3 168.5M1649 182.5L1627.5 180.8M1649 182.5L1662.3 168.5M1649 182.5L1639.8 165.7M1627.5 180.8L1605.8 181.7M1627.5 180.8L1639.8 165.7M1627.5 180.8L1617 165.2M1605.8 181.7L1584.6 185.6M1605.8 181.7L1617 165.2M1605.8 181.7L1594.4 167.3M1584.6 185.6L1564.1 192.6M1584.6 185.6L1594.4 167.3M1584.6 185.6L1572.2 172.2M1564.1 192.6L1545.1 202.8M1564.1 192.6L1572.2 172.2M1564.1 192.6L1550.7 179.9M1545.1 202.8L1528.2 216.3M1545.1 202.8L1550.7 179.9M1545.1 202.8L1530.7 190.5M1528.2 216.3L1514.5 233.1M1528.2 216.3L1530.7 190.5M1528.2 216.3L1512.5 204.3M1514.5 233.1L1505.4 252.7M1514.5 233.1L1512.5 204.3M1514.5 233.1L1497.2 221.1M1514.5 233.1L1485.9 240.8M1505.4 252.7L1502.2 274M1505.4 252.7L1485.9 240.8M1505.4 252.7L1479.8 262.7M1502.2 274L1505.4 295.4M1502.2 274L1479.8 262.7M1502.2 274L1479.8 285.4M1505.4 295.4L1514.5 315M1505.4 295.4L1479.8 285.4M1505.4 295.4L1485.9 307.3M1514.5 315L1528.2 331.8M1514.5 315L1485.9 307.3M1514.5 315L1497.2 327M1514.5 315L1512.5 343.8M1528.2 331.8L1545.1 345.3M1528.2 331.8L1512.5 343.8M1528.2 331.8L1530.7 357.6M1545.1 345.3L1564.1 355.5M1545.1 345.3L1530.7 357.6M1545.1 345.3L1550.7 368.2M1564.1 355.5L1584.6 362.5M1564.1 355.5L1550.7 368.2M1564.1 355.5L1572.2 375.9M1584.6 362.5L1605.8 366.4M1584.6 362.5L1572.2 375.9M1584.6 362.5L1594.4 380.8M1605.8 366.4L1627.5 367.3M1605.8 366.4L1594.4 380.8M1605.8 366.4L1617 382.9M1627.5 367.3L1649 365.6M1627.5 367.3L1617 382.9M1627.5 367.3L1639.8 382.4M1649 365.6L1670.2 361.2M1649 365.6L1639.8 382.4M1649 365.6L1662.3 379.6M1670.2 361.2L1690.6 354.1M1670.2 361.2L1662.3 379.6M1670.2 361.2L1684.5 374.3M1690.6 354.1L1709.8 344.1M1690.6 354.1L1684.5 374.3M1690.6 354.1L1705.9 366.6M1709.8 344.1L1727 331M1709.8 344.1L1705.9 366.6M1709.8 344.1L1726.1 356.2M1727 331L1741.2 314.7M1727 331L1726.1 356.2M1727 331L1744.5 342.8M1741.2 314.7L1750.8 295.3M1741.2 314.7L1744.5 342.8M1741.2 314.7L1763.9 316.3M1750.8 295.3L1763.9 316.3M1750.8 295.3L1768.7 283.5M1744.5 205.3L1726.1 191.9M1744.5 205.3L1760 218M1744.5 205.3L1746.8 187.6M1726.1 191.9L1705.9 181.5M1726.1 191.9L1718.7 167.2M1726.1 191.9L1746.8 187.6M1726.1 191.9L1728.3 160.2M1705.9 181.5L1684.5 173.8M1705.9 181.5L1718.7 167.2M1705.9 181.5L1695.7 159M1684.5 173.8L1662.3 168.5M1684.5 173.8L1695.7 159M1684.5 173.8L1671.9 153.4M1662.3 168.5L1639.8 165.7M1662.3 168.5L1671.9 153.4M1662.3 168.5L1647.7 150M1639.8 165.7L1617 165.2M1639.8 165.7L1647.7 150M1639.8 165.7L1623.2 148.9M1617 165.2L1594.4 167.3M1617 165.2L1623.2 148.9M1617 165.2L1598.9 150.2M1594.4 167.3L1572.2 172.2M1594.4 167.3L1598.9 150.2M1594.4 167.3L1574.8 154.1M1572.2 172.2L1550.7 179.9M1572.2 172.2L1574.8 154.1M1572.2 172.2L1551.3 160.8M1550.7 179.9L1530.7 190.5M1550.7 179.9L1551.3 160.8M1550.7 179.9L1528.8 170.3M1530.7 190.5L1512.5 204.3M1530.7 190.5L1528.8 170.3M1530.7 190.5L1507.8 182.7M1512.5 204.3L1497.2 221.1M1512.5 204.3L1507.8 182.7M1512.5 204.3L1488.9 198.2M1497.2 221.1L1485.9 240.8M1497.2 221.1L1488.9 198.2M1497.2 221.1L1473.1 216.8M1485.9 240.8L1479.8 262.7M1485.9 240.8L1473.1 216.8M1485.9 240.8L1461.4 238.3M1479.8 262.7L1479.8 285.4M1479.8 262.7L1461.4 238.3M1479.8 262.7L1455.2 261.9M1479.8 262.7L1455.2 286.2M1479.8 285.4L1485.9 307.3M1479.8 285.4L1455.2 286.2M1479.8 285.4L1461.4 309.8M1485.9 307.3L1497.2 327M1485.9 307.3L1461.4 309.8M1485.9 307.3L1473.1 331.3M1497.2 327L1512.5 343.8M1497.2 327L1473.1 331.3M1497.2 327L1488.9 349.9M1512.5 343.8L1530.7 357.6M1512.5 343.8L1488.9 349.9M1512.5 343.8L1507.8 365.4M1530.7 357.6L1550.7 368.2M1530.7 357.6L1507.8 365.4M1530.7 357.6L1528.8 377.8M1550.7 368.2L1572.2 375.9M1550.7 368.2L1528.8 377.8M1550.7 368.2L1551.3 387.3M1572.2 375.9L1594.4 380.8M1572.2 375.9L1551.3 387.3M1572.2 375.9L1574.8 394M1594.4 380.8L1617 382.9M1594.4 380.8L1574.8 394M1594.4 380.8L1598.9 397.9M1617 382.9L1639.8 382.4M1617 382.9L1598.9 397.9M1617 382.9L1623.2 399.2M1639.8 382.4L1662.3 379.6M1639.8 382.4L1623.2 399.2M1639.8 382.4L1647.7 398.1M1662.3 379.6L1684.5 374.3M1662.3 379.6L1647.7 398.1M1662.3 379.6L1671.9 394.7M1684.5 374.3L1705.9 366.6M1684.5 374.3L1671.9 394.7M1684.5 374.3L1695.7 389.1M1705.9 366.6L1726.1 356.2M1705.9 366.6L1695.7 389.1M1705.9 366.6L1718.7 380.9M1726.1 356.2L1744.5 342.8M1726.1 356.2L1718.7 380.9M1726.1 356.2L1736.9 376.5M1726.1 356.2L1753.2 347.6M1744.5 342.8L1753.2 347.6M1744.5 342.8L1763.9 316.3M1718.7 167.2L1695.7 159M1718.7 167.2L1728.3 160.2M1718.7 167.2L1705 136.6M1695.7 159L1671.9 153.4M1695.7 159L1687.4 138.7M1695.7 159L1705 136.6M1671.9 153.4L1647.7 150M1671.9 153.4L1687.4 138.7M1671.9 153.4L1662.3 134.5M1647.7 150L1623.2 148.9M1647.7 150L1662.3 134.5M1647.7 150L1636.9 132.4M1623.2 148.9L1598.9 150.2M1623.2 148.9L1636.9 132.4M1623.2 148.9L1611.5 132.3M1598.9 150.2L1574.8 154.1M1598.9 150.2L1611.5 132.3M1598.9 150.2L1586.2 134.7M1574.8 154.1L1551.3 160.8M1574.8 154.1L1586.2 134.7M1574.8 154.1L1561.2 139.5M1551.3 160.8L1528.8 170.3M1551.3 160.8L1561.2 139.5M1551.3 160.8L1536.8 146.8M1528.8 170.3L1507.8 182.7M1528.8 170.3L1536.8 146.8M1528.8 170.3L1513.4 156.7M1507.8 182.7L1488.9 198.2M1507.8 182.7L1513.4 156.7M1507.8 182.7L1491.4 169.5M1488.9 198.2L1473.1 216.8M1488.9 198.2L1491.4 169.5M1488.9 198.2L1471.3 185.1M1473.1 216.8L1461.4 238.3M1473.1 216.8L1471.3 185.1M1473.1 216.8L1453.9 203.6M1473.1 216.8L1440.2 225M1461.4 238.3L1455.2 261.9M1461.4 238.3L1440.2 225M1461.4 238.3L1431.3 248.8M1455.2 261.9L1455.2 286.2M1455.2 261.9L1431.3 248.8M1455.2 261.9L1428.2 274M1455.2 286.2L1461.4 309.8M1455.2 286.2L1428.2 274M1455.2 286.2L1431.3 299.3M1461.4 309.8L1473.1 331.3M1461.4 309.8L1431.3 299.3M1461.4 309.8L1440.2 323.1M1473.1 331.3L1488.9 349.9M1473.1 331.3L1440.2 323.1M1473.1 331.3L1453.9 344.5M1473.1 331.3L1471.3 363M1488.9 349.9L1507.8 365.4M1488.9 349.9L1471.3 363M1488.9 349.9L1491.4 378.6M1507.8 365.4L1528.8 377.8M1507.8 365.4L1491.4 378.6M1507.8 365.4L1513.4 391.4M1528.8 377.8L1551.3 387.3M1528.8 377.8L1513.4 391.4M1528.8 377.8L1536.8 401.3M1551.3 387.3L1574.8 394M1551.3 387.3L1536.8 401.3M1551.3 387.3L1561.2 408.6M1574.8 394L1598.9 397.9M1574.8 394L1561.2 408.6M1574.8 394L1586.2 413.4M1598.9 397.9L1623.2 399.2M1598.9 397.9L1586.2 413.4M1598.9 397.9L1611.5 415.8M1623.2 399.2L1647.7 398.1M1623.2 399.2L1611.5 415.8M1623.2 399.2L1636.9 415.7M1647.7 398.1L1671.9 394.7M1647.7 398.1L1636.9 415.7M1647.7 398.1L1662.3 413.6M1671.9 394.7L1695.7 389.1M1671.9 394.7L1662.3 413.6M1671.9 394.7L1687.4 409.4M1695.7 389.1L1718.7 380.9M1695.7 389.1L1687.4 409.4M1695.7 389.1L1715.6 401.9M1718.7 380.9L1715.6 401.9M1718.7 380.9L1736.9 376.5M1687.4 138.7L1662.3 134.5M1687.4 138.7L1705 136.6M1687.4 138.7L1677.8 117.7M1662.3 134.5L1636.9 132.4M1662.3 134.5L1651.6 115.8M1662.3 134.5L1677.8 117.7M1636.9 132.4L1611.5 132.3M1636.9 132.4L1651.6 115.8M1636.9 132.4L1625.1 114.7M1611.5 132.3L1586.2 134.7M1611.5 132.3L1625.1 114.7M1611.5 132.3L1598.8 115.7M1586.2 134.7L1561.2 139.5M1586.2 134.7L1598.8 115.7M1586.2 134.7L1572.6 118.9M1561.2 139.5L1536.8 146.8M1561.2 139.5L1572.6 118.9M1561.2 139.5L1546.7 124.4M1536.8 146.8L1513.4 156.7M1536.8 146.8L1546.7 124.4M1536.8 146.8L1521.5 132.3M1513.4 156.7L1491.4 169.5M1513.4 156.7L1521.5 132.3M1513.4 156.7L1497.2 142.7M1491.4 169.5L1471.3 185.1M1491.4 169.5L1497.2 142.7M1491.4 169.5L1474.2 155.7M1471.3 185.1L1453.9 203.6M1471.3 185.1L1474.2 155.7M1471.3 185.1L1453 171.4M1453.9 203.6L1440.2 225M1453.9 203.6L1453 171.4M1453.9 203.6L1442.1 171.6M1453.9 203.6L1425.9 200.5M1440.2 225L1431.3 248.8M1440.2 225L1425.9 200.5M1440.2 225L1415.1 231.8M1431.3 248.8L1428.2 274M1431.3 248.8L1415.1 231.8M1431.3 248.8L1411.3 264.6M1428.2 274L1431.3 299.3M1428.2 274L1411.3 264.6M1428.2 274L1411.7 297.8M1431.3 299.3L1440.2 323.1M1431.3 299.3L1411.7 297.8M1431.3 299.3L1419.1 330.1M1440.2 323.1L1453.9 344.5M1440.2 323.1L1419.1 330.1M1440.2 323.1L1432.3 360.5M1453.9 344.5L1471.3 363M1453.9 344.5L1453 376.7M1453.9 344.5L1432.3 360.5M1471.3 363L1491.4 378.6M1471.3 363L1453 376.7M1471.3 363L1474.2 392.4M1491.4 378.6L1513.4 391.4M1491.4 378.6L1474.2 392.4M1491.4 378.6L1497.2 405.4M1513.4 391.4L1536.8 401.3M1513.4 391.4L1497.2 405.4M1513.4 391.4L1521.5 415.8M1536.8 401.3L1561.2 408.6M1536.8 401.3L1521.5 415.8M1536.8 401.3L1546.7 423.7M1561.2 408.6L1586.2 413.4M1561.2 408.6L1546.7 423.7M1561.2 408.6L1572.6 429.2M1586.2 413.4L1611.5 415.8M1586.2 413.4L1572.6 429.2M1586.2 413.4L1598.8 432.4M1611.5 415.8L1636.9 415.7M1611.5 415.8L1598.8 432.4M1611.5 415.8L1625.1 433.4M1636.9 415.7L1662.3 413.6M1636.9 415.7L1625.1 433.4M1636.9 415.7L1651.6 432.3M1662.3 413.6L1687.4 409.4M1662.3 413.6L1651.6 432.3M1662.3 413.6L1661 438.8M1662.3 413.6L1690 422.9M1687.4 409.4L1690 422.9M1687.4 409.4L1715.6 401.9M1651.6 115.8L1625.1 114.7M1651.6 115.8L1677.8 117.7M1651.6 115.8L1647.6 104.1M1625.1 114.7L1598.8 115.7M1625.1 114.7L1647.6 104.1M1625.1 114.7L1615.4 96.3M1598.8 115.7L1572.6 118.9M1598.8 115.7L1582.3 94.6M1598.8 115.7L1615.4 96.3M1572.6 118.9L1546.7 124.4M1572.6 118.9L1582.3 94.6M1572.6 118.9L1549.5 98.9M1546.7 124.4L1521.5 132.3M1546.7 124.4L1549.5 98.9M1546.7 124.4L1518.1 109.3M1521.5 132.3L1497.2 142.7M1521.5 132.3L1518.1 109.3M1521.5 132.3L1489.1 125.2M1497.2 142.7L1474.2 155.7M1497.2 142.7L1489.1 125.2M1474.2 155.7L1453 171.4M1474.2 155.7L1489.1 125.2M1474.2 155.7L1463.5 146.2M1453 171.4L1463.5 146.2M1453 171.4L1442.1 171.6M1453 376.7L1474.2 392.4M1453 376.7L1432.3 360.5M1453 376.7L1450.8 387.9M1474.2 392.4L1497.2 405.4M1474.2 392.4L1450.8 387.9M1474.2 392.4L1474.1 411.5M1497.2 405.4L1521.5 415.8M1497.2 405.4L1474.1 411.5M1497.2 405.4L1501.3 430.4M1521.5 415.8L1546.7 423.7M1521.5 415.8L1501.3 430.4M1521.5 415.8L1531.5 444M1546.7 423.7L1572.6 429.2M1546.7 423.7L1531.5 444M1546.7 423.7L1563.6 451.8M1572.6 429.2L1598.8 432.4M1572.6 429.2L1563.6 451.8M1572.6 429.2L1596.7 453.5M1598.8 432.4L1625.1 433.4M1598.8 432.4L1596.7 453.5M1625.1 433.4L1651.6 432.3M1625.1 433.4L1596.7 453.5M1625.1 433.4L1629.5 449.2M1651.6 432.3L1629.5 449.2M1651.6 432.3L1661 438.8M1582.3 94.6L1549.5 98.9M1582.3 94.6L1615.4 96.3M1549.5 98.9L1518.1 109.3M1518.1 109.3L1489.1 125.2M1489.1 125.2L1463.5 146.2M1463.5 146.2L1442.1 171.6M1442.1 171.6L1425.9 200.5M1425.9 200.5L1415.1 231.8M1415.1 231.8L1411.3 264.6M1411.3 264.6L1411.7 297.8M1411.7 297.8L1419.1 330.1M1419.1 330.1L1432.3 360.5M1432.3 360.5L1450.8 387.9M1450.8 387.9L1474.1 411.5M1474.1 411.5L1501.3 430.4M1501.3 430.4L1531.5 444M1531.5 444L1563.6 451.8M1563.6 451.8L1596.7 453.5M1596.7 453.5L1629.5 449.2M1629.5 449.2L1661 438.8M1661 438.8L1690 422.9M1690 422.9L1715.6 401.9M1715.6 401.9L1736.9 376.5M1736.9 376.5L1753.2 347.6M1753.2 347.6L1763.9 316.3M1763.9 316.3L1768.7 283.5M1768.7 283.5L1767.4 250.3M1767.4 250.3L1760 218M1760 218L1746.8 187.6M1746.8 187.6L1728.3 160.2M1728.3 160.2L1705 136.6M1705 136.6L1677.8 117.7M1677.8 117.7L1647.6 104.1M1647.6 104.1L1615.4 96.3" fill="none" stroke="#f22e2e" stroke-width="0.95" stroke-linejoin="round"/></g>
<rect x="1353" y="32.4" width="482.7" height="483.3" fill="none" stroke="#6a6a6a" stroke-width="1.5"/>
<path d="M1353 515.7v-5M1353 32.4v5M1433.5 515.7v-5M1433.5 32.4v5M1513.9 515.7v-5M1513.9 32.4v5M1594.3 515.7v-5M1594.3 32.4v5M1674.8 515.7v-5M1674.8 32.4v5M1755.2 515.7v-5M1755.2 32.4v5M1835.7 515.7v-5M1835.7 32.4v5M1353 515.7h5M1835.7 515.7h-5M1353 435.2h5M1835.7 435.2h-5M1353 354.6h5M1835.7 354.6h-5M1353 274.1h5M1835.7 274.1h-5M1353 193.5h5M1835.7 193.5h-5M1353 112.9h5M1835.7 112.9h-5M1353 32.4h5M1835.7 32.4h-5" stroke="#6a6a6a" stroke-width="1.5" fill="none"/>
<text x="0" y="0" font-size="26.5" text-anchor="middle" fill="#262626" font-family="'Liberation Sans', Arial, sans-serif" transform="translate(1353 550.7) scale(0.93 1)">-15</text>
<text x="0" y="0" font-size="26.5" text-anchor="middle" fill="#262626" font-family="'Liberation Sans', Arial, sans-serif" transform="translate(1433.5 550.7) scale(0.93 1)">-10</text>
<text x="0" y="0" font-size="26.5" text-anchor="middle" fill="#262626" font-family="'Liberation Sans', Arial, sans-serif" transform="translate(1513.9 550.7) scale(0.93 1)">-5</text>
<text x="0" y="0" font-size="26.5" text-anchor="middle" fill="#262626" font-family="'Liberation Sans', Arial, sans-serif" transform="translate(1594.3 550.7) scale(0.93 1)">0</text>
<text x="0" y="0" font-size="26.5" text-anchor="middle" fill="#262626" font-family="'Liberation Sans', Arial, sans-serif" transform="translate(1674.8 550.7) scale(0.93 1)">5</text>
<text x="0" y="0" font-size="26.5" text-anchor="middle" fill="#262626" font-family="'Liberation Sans', Arial, sans-serif" transform="translate(1755.2 550.7) scale(0.93 1)">10</text>
<text x="0" y="0" font-size="26.5" text-anchor="middle" fill="#262626" font-family="'Liberation Sans', Arial, sans-serif" transform="translate(1835.7 550.7) scale(0.93 1)">15</text>
<text x="0" y="0" font-size="26.5" text-anchor="end" fill="#262626" font-family="'Liberation Sans', Arial, sans-serif" transform="translate(1344 526.3) scale(0.93 1)">-15</text>
<text x="0" y="0" font-size="26.5" text-anchor="end" fill="#262626" font-family="'Liberation Sans', Arial, sans-serif" transform="translate(1344 445.8) scale(0.93 1)">-10</text>
<text x="0" y="0" font-size="26.5" text-anchor="end" fill="#262626" font-family="'Liberation Sans', Arial, sans-serif" transform="translate(1344 365.2) scale(0.93 1)">-5</text>
<text x="0" y="0" font-size="26.5" text-anchor="end" fill="#262626" font-family="'Liberation Sans', Arial, sans-serif" transform="translate(1344 284.7) scale(0.93 1)">0</text>
<text x="0" y="0" font-size="26.5" text-anchor="end" fill="#262626" font-family="'Liberation Sans', Arial, sans-serif" transform="translate(1344 204.1) scale(0.93 1)">5</text>
<text x="0" y="0" font-size="26.5" text-anchor="end" fill="#262626" font-family="'Liberation Sans', Arial, sans-serif" transform="translate(1344 123.5) scale(0.93 1)">10</text>
<text x="0" y="0" font-size="26.5" text-anchor="end" fill="#262626" font-family="'Liberation Sans', Arial, sans-serif" transform="translate(1344 43) scale(0.93 1)">15</text>
<text x="1595" y="586" font-size="29" text-anchor="middle" fill="#262626" font-family="'Liberation Sans', Arial, sans-serif">X (nm)</text>
<text x="1299" y="274" font-size="29" text-anchor="middle" fill="#262626" font-family="'Liberation Sans', Arial, sans-serif" transform="rotate(-90 1299 274)">Y (nm)</text>
<path d="M1352.2 642V1124.9M1432.8 642V1124.9M1513.4 642V1124.9M1594 642V1124.9M1674.5 642V1124.9M1755.1 642V1124.9M1835.7 642V1124.9M1352.2 1124.9H1835.7M1352.2 1044.4H1835.7M1352.2 963.9H1835.7M1352.2 883.5H1835.7M1352.2 803H1835.7M1352.2 722.5H1835.7M1352.2 642H1835.7" stroke="#e3e3e3" stroke-width="1.3" fill="none"/>
<g clip-path="url(#clipMB)"><path d="M1549.6 675.1L1586.3 680.6L1620.9 695L1651.5 717.3L1678.1 742.4L1699.5 772.4L1682.1 803L1691.9 834.2L1697.4 864.8L1699.5 898.5L1696.5 929.1L1682.1 964.2L1699.5 993.9L1678.1 1025.4L1651.5 1053L1620.9 1072.9L1586.3 1086.6L1549.6 1092.8L1512.9 1089.7L1473.7 1079L1439.4 1060.6L1407.3 1036.2L1382.8 1005.6L1366 971.9L1352.2 936.7L1343.1 926L1343.1 840.3L1352.2 831.1L1366 795L1382.8 762.3L1407.3 732.6L1439.4 707.2L1473.7 688.8L1512.9 676.6Z" fill="#e5e5e5" stroke="none"/><path d="M1555.3 885.1L1568.2 885.1M1555.3 885.1L1561.6 875.2M1555.3 885.1L1549.6 875.1M1555.3 885.1L1543.2 885.1M1555.3 885.1L1549.6 895M1555.3 885.1L1561.6 894.9M1568.2 885.1L1561.6 875.2M1568.2 885.1L1561.6 894.9M1568.2 885.1L1581.1 878.7M1568.2 885.1L1573.8 868.2M1568.2 885.1L1573.8 901.9M1568.2 885.1L1581.1 891.4M1561.6 875.2L1549.6 875.1M1561.6 875.2L1573.8 868.2M1561.6 875.2L1562.3 862.6M1561.6 875.2L1549.4 862.5M1549.6 875.1L1543.2 885.1M1549.6 875.1L1549.4 862.5M1549.6 875.1L1537.9 868.1M1543.2 885.1L1549.6 895M1543.2 885.1L1537.9 868.1M1543.2 885.1L1530.8 878.7M1543.2 885.1L1530.8 891.4M1543.2 885.1L1537.9 902M1549.6 895L1561.6 894.9M1549.6 895L1537.9 902M1549.6 895L1549.4 907.7M1561.6 894.9L1549.4 907.7M1561.6 894.9L1562.3 907.5M1561.6 894.9L1573.8 901.9M1581.1 878.7L1573.8 868.2M1581.1 878.7L1581.1 891.4M1581.1 878.7L1597.3 885.1M1581.1 878.7L1594.4 872M1581.1 878.7L1586.6 861.2M1573.8 868.2L1562.3 862.6M1573.8 868.2L1586.6 861.2M1573.8 868.2L1575.6 853.7M1562.3 862.6L1549.4 862.5M1562.3 862.6L1575.6 853.7M1562.3 862.6L1562.7 849.8M1562.3 862.6L1549.3 849.6M1549.4 862.5L1537.9 868.1M1549.4 862.5L1549.3 849.6M1549.4 862.5L1536.5 853.4M1537.9 868.1L1530.8 878.7M1537.9 868.1L1536.5 853.4M1537.9 868.1L1525.5 861M1530.8 878.7L1530.8 891.4M1530.8 878.7L1525.5 861M1530.8 878.7L1517.9 872M1530.8 878.7L1515.1 885.1M1530.8 891.4L1537.9 902M1530.8 891.4L1515.1 885.1M1530.8 891.4L1517.9 898.1M1530.8 891.4L1525.5 909.1M1537.9 902L1549.4 907.7M1537.9 902L1525.5 909.1M1537.9 902L1536.5 916.7M1549.4 907.7L1562.3 907.5M1549.4 907.7L1536.5 916.7M1549.4 907.7L1549.3 920.5M1562.3 907.5L1573.8 901.9M1562.3 907.5L1549.3 920.5M1562.3 907.5L1562.7 920.3M1562.3 907.5L1575.6 916.5M1573.8 901.9L1581.1 891.4M1573.8 901.9L1575.6 916.5M1573.8 901.9L1586.6 908.9M1581.1 891.4L1597.3 885.1M1581.1 891.4L1586.6 908.9M1581.1 891.4L1594.4 898.1M1597.3 885.1L1594.4 872M1597.3 885.1L1594.4 898.1M1597.3 885.1L1613 878.1M1597.3 885.1L1613 892M1594.4 872L1586.6 861.2M1594.4 872L1613 878.1M1594.4 872L1608.5 865M1594.4 872L1600.2 853.8M1586.6 861.2L1575.6 853.7M1586.6 861.2L1600.2 853.8M1586.6 861.2L1589.3 845.2M1575.6 853.7L1562.7 849.8M1575.6 853.7L1589.3 845.2M1575.6 853.7L1576.7 839.3M1562.7 849.8L1549.3 849.6M1562.7 849.8L1576.7 839.3M1562.7 849.8L1563.1 836.3M1549.3 849.6L1536.5 853.4M1549.3 849.6L1563.1 836.3M1549.3 849.6L1549.2 836.2M1549.3 849.6L1535.5 839M1536.5 853.4L1525.5 861M1536.5 853.4L1535.5 839M1536.5 853.4L1522.9 844.9M1525.5 861L1517.9 872M1525.5 861L1522.9 844.9M1525.5 861L1512.1 853.6M1517.9 872L1515.1 885.1M1517.9 872L1512.1 853.6M1517.9 872L1504 864.9M1517.9 872L1499.7 878.1M1515.1 885.1L1517.9 898.1M1515.1 885.1L1499.7 878.1M1515.1 885.1L1499.7 892M1517.9 898.1L1525.5 909.1M1517.9 898.1L1499.7 892M1517.9 898.1L1504 905.2M1517.9 898.1L1512.1 916.5M1525.5 909.1L1536.5 916.7M1525.5 909.1L1512.1 916.5M1525.5 909.1L1522.9 925.2M1536.5 916.7L1549.3 920.5M1536.5 916.7L1522.9 925.2M1536.5 916.7L1535.5 931.1M1549.3 920.5L1562.7 920.3M1549.3 920.5L1535.5 931.1M1549.3 920.5L1549.2 933.9M1549.3 920.5L1563.1 933.8M1562.7 920.3L1575.6 916.5M1562.7 920.3L1563.1 933.8M1562.7 920.3L1576.7 930.8M1575.6 916.5L1586.6 908.9M1575.6 916.5L1576.7 930.8M1575.6 916.5L1589.3 924.9M1586.6 908.9L1594.4 898.1M1586.6 908.9L1589.3 924.9M1586.6 908.9L1600.2 916.3M1594.4 898.1L1600.2 916.3M1594.4 898.1L1608.5 905.1M1594.4 898.1L1613 892M1613 878.1L1608.5 865M1613 878.1L1613 892M1613 878.1L1630.9 885.1M1613 878.1L1628.9 870.8M1608.5 865L1600.2 853.8M1608.5 865L1628.9 870.8M1608.5 865L1623.3 857.5M1608.5 865L1614.7 846M1600.2 853.8L1589.3 845.2M1600.2 853.8L1614.7 846M1600.2 853.8L1603.8 836.6M1589.3 845.2L1576.7 839.3M1589.3 845.2L1603.8 836.6M1589.3 845.2L1591.2 829.5M1576.7 839.3L1563.1 836.3M1576.7 839.3L1591.2 829.5M1576.7 839.3L1577.6 824.7M1563.1 836.3L1549.2 836.2M1563.1 836.3L1577.6 824.7M1563.1 836.3L1563.4 822.3M1549.2 836.2L1535.5 839M1549.2 836.2L1563.4 822.3M1549.2 836.2L1548.9 822.1M1549.2 836.2L1534.7 824.4M1535.5 839L1522.9 844.9M1535.5 839L1534.7 824.4M1535.5 839L1521.1 829.2M1522.9 844.9L1512.1 853.6M1522.9 844.9L1521.1 829.2M1522.9 844.9L1508.5 836.3M1512.1 853.6L1504 864.9M1512.1 853.6L1508.5 836.3M1512.1 853.6L1497.7 845.8M1504 864.9L1499.7 878.1M1504 864.9L1497.7 845.8M1504 864.9L1489.2 857.5M1504 864.9L1483.7 870.8M1499.7 878.1L1499.7 892M1499.7 878.1L1483.7 870.8M1499.7 878.1L1481.8 885.1M1499.7 892L1504 905.2M1499.7 892L1481.8 885.1M1499.7 892L1483.7 899.3M1504 905.2L1512.1 916.5M1504 905.2L1483.7 899.3M1504 905.2L1489.2 912.6M1504 905.2L1497.7 924.3M1512.1 916.5L1522.9 925.2M1512.1 916.5L1497.7 924.3M1512.1 916.5L1508.5 933.8M1522.9 925.2L1535.5 931.1M1522.9 925.2L1508.5 933.8M1522.9 925.2L1521.1 940.9M1535.5 931.1L1549.2 933.9M1535.5 931.1L1521.1 940.9M1535.5 931.1L1534.7 945.7M1549.2 933.9L1563.1 933.8M1549.2 933.9L1534.7 945.7M1549.2 933.9L1548.9 948M1549.2 933.9L1563.4 947.8M1563.1 933.8L1576.7 930.8M1563.1 933.8L1563.4 947.8M1563.1 933.8L1577.6 945.4M1576.7 930.8L1589.3 924.9M1576.7 930.8L1577.6 945.4M1576.7 930.8L1591.2 940.6M1589.3 924.9L1600.2 916.3M1589.3 924.9L1591.2 940.6M1589.3 924.9L1603.8 933.5M1600.2 916.3L1608.5 905.1M1600.2 916.3L1603.8 933.5M1600.2 916.3L1614.7 924.1M1608.5 905.1L1613 892M1608.5 905.1L1614.7 924.1M1608.5 905.1L1623.3 912.6M1608.5 905.1L1628.9 899.3M1613 892L1630.9 885.1M1613 892L1628.9 899.3M1630.9 885.1L1628.9 870.8M1630.9 885.1L1628.9 899.3M1630.9 885.1L1648.7 875.5M1630.9 885.1L1648.7 894.6M1628.9 870.8L1623.3 857.5M1628.9 870.8L1648.7 875.5M1628.9 870.8L1643.1 857.2M1623.3 857.5L1614.7 846M1623.3 857.5L1643.1 857.2M1623.3 857.5L1632.8 841M1614.7 846L1603.8 836.6M1614.7 846L1632.8 841M1614.7 846L1619 827.8M1603.8 836.6L1591.2 829.5M1603.8 836.6L1619 827.8M1603.8 836.6L1602.6 817.8M1591.2 829.5L1577.6 824.7M1591.2 829.5L1602.6 817.8M1591.2 829.5L1584.6 811.1M1577.6 824.7L1563.4 822.3M1577.6 824.7L1584.6 811.1M1577.6 824.7L1565.7 807.7M1563.4 822.3L1548.9 822.1M1563.4 822.3L1565.7 807.7M1548.9 822.1L1534.7 824.4M1548.9 822.1L1565.7 807.7M1548.9 822.1L1546.5 807.6M1534.7 824.4L1521.1 829.2M1534.7 824.4L1546.5 807.6M1534.7 824.4L1527.6 810.8M1521.1 829.2L1508.5 836.3M1521.1 829.2L1527.6 810.8M1521.1 829.2L1509.6 817.5M1508.5 836.3L1497.7 845.8M1508.5 836.3L1509.6 817.5M1508.5 836.3L1493.2 827.6M1497.7 845.8L1489.2 857.5M1497.7 845.8L1493.2 827.6M1497.7 845.8L1479.5 840.9M1489.2 857.5L1483.7 870.8M1489.2 857.5L1479.5 840.9M1489.2 857.5L1469.3 857.1M1483.7 870.8L1481.8 885.1M1483.7 870.8L1469.3 857.1M1483.7 870.8L1463.9 875.5M1481.8 885.1L1483.7 899.3M1481.8 885.1L1463.9 875.5M1481.8 885.1L1463.9 894.6M1483.7 899.3L1489.2 912.6M1483.7 899.3L1463.9 894.6M1483.7 899.3L1469.3 913M1489.2 912.6L1497.7 924.3M1489.2 912.6L1469.3 913M1489.2 912.6L1479.5 929.2M1497.7 924.3L1508.5 933.8M1497.7 924.3L1479.5 929.2M1497.7 924.3L1493.2 942.6M1508.5 933.8L1521.1 940.9M1508.5 933.8L1493.2 942.6M1508.5 933.8L1509.6 952.6M1521.1 940.9L1534.7 945.7M1521.1 940.9L1509.6 952.6M1521.1 940.9L1527.6 959.3M1534.7 945.7L1548.9 948M1534.7 945.7L1527.6 959.3M1534.7 945.7L1546.5 962.5M1548.9 948L1563.4 947.8M1548.9 948L1546.5 962.5M1548.9 948L1565.7 962.4M1563.4 947.8L1577.6 945.4M1563.4 947.8L1565.7 962.4M1577.6 945.4L1591.2 940.6M1577.6 945.4L1565.7 962.4M1577.6 945.4L1584.6 959M1591.2 940.6L1603.8 933.5M1591.2 940.6L1584.6 959M1591.2 940.6L1602.6 952.3M1603.8 933.5L1614.7 924.1M1603.8 933.5L1602.6 952.3M1603.8 933.5L1619 942.3M1614.7 924.1L1623.3 912.6M1614.7 924.1L1619 942.3M1614.7 924.1L1632.8 929.1M1623.3 912.6L1628.9 899.3M1623.3 912.6L1632.8 929.1M1623.3 912.6L1643.1 912.9M1628.9 899.3L1643.1 912.9M1628.9 899.3L1648.7 894.6M1648.7 875.5L1643.1 857.2M1648.7 875.5L1648.7 894.6M1648.7 875.5L1669 885.1M1648.7 875.5L1666.3 865M1643.1 857.2L1632.8 841M1643.1 857.2L1666.3 865M1643.1 857.2L1658.7 846.3M1632.8 841L1619 827.8M1632.8 841L1658.7 846.3M1632.8 841L1646.9 829.9M1632.8 841L1631.9 816.3M1619 827.8L1602.6 817.8M1619 827.8L1631.9 816.3M1619 827.8L1614.7 805.6M1602.6 817.8L1584.6 811.1M1602.6 817.8L1614.7 805.6M1602.6 817.8L1595.9 798M1584.6 811.1L1565.7 807.7M1584.6 811.1L1595.9 798M1584.6 811.1L1576.2 793.5M1565.7 807.7L1546.5 807.6M1565.7 807.7L1576.2 793.5M1565.7 807.7L1556 791.9M1546.5 807.6L1527.6 810.8M1546.5 807.6L1556 791.9M1546.5 807.6L1535.8 793.3M1527.6 810.8L1509.6 817.5M1527.6 810.8L1535.8 793.3M1527.6 810.8L1516 797.8M1509.6 817.5L1493.2 827.6M1509.6 817.5L1516 797.8M1509.6 817.5L1497.2 805.4M1493.2 827.6L1479.5 840.9M1493.2 827.6L1497.2 805.4M1493.2 827.6L1480 816.1M1479.5 840.9L1469.3 857.1M1479.5 840.9L1480 816.1M1479.5 840.9L1465.2 829.8M1479.5 840.9L1453.5 846.3M1469.3 857.1L1463.9 875.5M1469.3 857.1L1453.5 846.3M1469.3 857.1L1445.9 865M1463.9 875.5L1463.9 894.6M1463.9 875.5L1445.9 865M1463.9 875.5L1443.3 885.1M1463.9 894.6L1469.3 913M1463.9 894.6L1443.3 885.1M1463.9 894.6L1445.9 905.1M1469.3 913L1479.5 929.2M1469.3 913L1445.9 905.1M1469.3 913L1453.5 923.8M1479.5 929.2L1493.2 942.6M1479.5 929.2L1453.5 923.8M1479.5 929.2L1465.2 940.3M1479.5 929.2L1480 954.1M1493.2 942.6L1509.6 952.6M1493.2 942.6L1480 954.1M1493.2 942.6L1497.2 964.7M1509.6 952.6L1527.6 959.3M1509.6 952.6L1497.2 964.7M1509.6 952.6L1516 972.3M1527.6 959.3L1546.5 962.5M1527.6 959.3L1516 972.3M1527.6 959.3L1535.8 976.8M1546.5 962.5L1565.7 962.4M1546.5 962.5L1535.8 976.8M1546.5 962.5L1556 978.2M1565.7 962.4L1584.6 959M1565.7 962.4L1556 978.2M1565.7 962.4L1576.2 976.6M1584.6 959L1602.6 952.3M1584.6 959L1576.2 976.6M1584.6 959L1595.9 972.1M1602.6 952.3L1619 942.3M1602.6 952.3L1595.9 972.1M1602.6 952.3L1614.7 964.5M1619 942.3L1632.8 929.1M1619 942.3L1614.7 964.5M1619 942.3L1631.9 953.9M1632.8 929.1L1643.1 912.9M1632.8 929.1L1631.9 953.9M1632.8 929.1L1646.9 940.2M1632.8 929.1L1658.7 923.8M1643.1 912.9L1648.7 894.6M1643.1 912.9L1658.7 923.8M1643.1 912.9L1666.3 905.1M1648.7 894.6L1669 885.1M1648.7 894.6L1666.3 905.1M1669 885.1L1666.3 865M1669 885.1L1666.3 905.1M1669 885.1L1689 874.5M1669 885.1L1689 895.7M1666.3 865L1658.7 846.3M1666.3 865L1689 874.5M1666.3 865L1684.1 853.9M1658.7 846.3L1646.9 829.9M1658.7 846.3L1684.1 853.9M1658.7 846.3L1674.6 834.9M1646.9 829.9L1631.9 816.3M1646.9 829.9L1674.6 834.9M1646.9 829.9L1661.5 818.2M1646.9 829.9L1645.6 804.2M1631.9 816.3L1614.7 805.6M1631.9 816.3L1645.6 804.2M1631.9 816.3L1627.5 793M1614.7 805.6L1595.9 798M1614.7 805.6L1627.5 793M1614.7 805.6L1608 784.6M1595.9 798L1576.2 793.5M1595.9 798L1608 784.6M1595.9 798L1587.5 779M1576.2 793.5L1556 791.9M1576.2 793.5L1587.5 779M1576.2 793.5L1566.4 776.2M1556 791.9L1535.8 793.3M1556 791.9L1566.4 776.2M1556 791.9L1545.2 776.2M1535.8 793.3L1516 797.8M1535.8 793.3L1545.2 776.2M1535.8 793.3L1524.1 778.9M1516 797.8L1497.2 805.4M1516 797.8L1524.1 778.9M1516 797.8L1503.6 784.4M1497.2 805.4L1480 816.1M1497.2 805.4L1503.6 784.4M1497.2 805.4L1484 792.8M1480 816.1L1465.2 829.8M1480 816.1L1484 792.8M1480 816.1L1466 804M1465.2 829.8L1453.5 846.3M1465.2 829.8L1466 804M1465.2 829.8L1450.1 818.1M1453.5 846.3L1445.9 865M1453.5 846.3L1450.1 818.1M1453.5 846.3L1437 834.8M1453.5 846.3L1427.7 853.8M1445.9 865L1443.3 885.1M1445.9 865L1427.7 853.8M1445.9 865L1422.7 874.5M1443.3 885.1L1445.9 905.1M1443.3 885.1L1422.7 874.5M1443.3 885.1L1422.7 895.7M1445.9 905.1L1453.5 923.8M1445.9 905.1L1422.7 895.7M1445.9 905.1L1427.7 916.3M1453.5 923.8L1465.2 940.3M1453.5 923.8L1427.7 916.3M1453.5 923.8L1437 935.3M1453.5 923.8L1450.1 952M1465.2 940.3L1480 954.1M1465.2 940.3L1450.1 952M1465.2 940.3L1466 966.1M1480 954.1L1497.2 964.7M1480 954.1L1466 966.1M1480 954.1L1484 977.3M1497.2 964.7L1516 972.3M1497.2 964.7L1484 977.3M1497.2 964.7L1503.6 985.7M1516 972.3L1535.8 976.8M1516 972.3L1503.6 985.7M1516 972.3L1524.1 991.2M1535.8 976.8L1556 978.2M1535.8 976.8L1524.1 991.2M1535.8 976.8L1545.2 994M1556 978.2L1576.2 976.6M1556 978.2L1545.2 994M1556 978.2L1566.4 993.9M1576.2 976.6L1595.9 972.1M1576.2 976.6L1566.4 993.9M1576.2 976.6L1587.5 991.1M1595.9 972.1L1614.7 964.5M1595.9 972.1L1587.5 991.1M1595.9 972.1L1608 985.5M1614.7 964.5L1631.9 953.9M1614.7 964.5L1608 985.5M1614.7 964.5L1627.5 977.1M1631.9 953.9L1646.9 940.2M1631.9 953.9L1627.5 977.1M1631.9 953.9L1645.6 965.9M1646.9 940.2L1658.7 923.8M1646.9 940.2L1645.6 965.9M1646.9 940.2L1661.5 951.9M1646.9 940.2L1674.6 935.3M1658.7 923.8L1666.3 905.1M1658.7 923.8L1674.6 935.3M1658.7 923.8L1684.1 916.3M1666.3 905.1L1684.1 916.3M1666.3 905.1L1689 895.7M1689 874.5L1684.1 853.9M1689 874.5L1689 895.7M1689 874.5L1697.4 864.8M1689 874.5L1699.5 898.5M1684.1 853.9L1674.6 834.9M1684.1 853.9L1691.9 834.2M1684.1 853.9L1697.4 864.8M1674.6 834.9L1661.5 818.2M1674.6 834.9L1682.1 803M1674.6 834.9L1691.9 834.2M1661.5 818.2L1645.6 804.2M1661.5 818.2L1659.9 791.5M1661.5 818.2L1682.1 803M1645.6 804.2L1627.5 793M1645.6 804.2L1659.9 791.5M1645.6 804.2L1641 779.8M1627.5 793L1608 784.6M1627.5 793L1641 779.8M1627.5 793L1620.8 770.7M1608 784.6L1587.5 779M1608 784.6L1620.8 770.7M1608 784.6L1599.5 764.3M1587.5 779L1566.4 776.2M1587.5 779L1599.5 764.3M1587.5 779L1577.7 760.4M1566.4 776.2L1545.2 776.2M1566.4 776.2L1577.7 760.4M1566.4 776.2L1555.5 759.1M1545.2 776.2L1524.1 778.9M1545.2 776.2L1555.5 759.1M1545.2 776.2L1533.3 760.4M1524.1 778.9L1503.6 784.4M1524.1 778.9L1533.3 760.4M1524.1 778.9L1511.5 764.2M1503.6 784.4L1484 792.8M1503.6 784.4L1511.5 764.2M1503.6 784.4L1490.2 770.7M1484 792.8L1466 804M1484 792.8L1490.2 770.7M1484 792.8L1470 779.7M1466 804L1450.1 818.1M1466 804L1470 779.7M1466 804L1451.2 791.5M1450.1 818.1L1437 834.8M1450.1 818.1L1451.2 791.5M1450.1 818.1L1434.3 805.8M1437 834.8L1427.7 853.8M1437 834.8L1434.3 805.8M1437 834.8L1420 822.8M1437 834.8L1409 842M1427.7 853.8L1422.7 874.5M1427.7 853.8L1409 842M1427.7 853.8L1402 863M1422.7 874.5L1422.7 895.7M1422.7 874.5L1402 863M1422.7 874.5L1399.6 885.1M1422.7 895.7L1427.7 916.3M1422.7 895.7L1399.6 885.1M1422.7 895.7L1402 907.1M1427.7 916.3L1437 935.3M1427.7 916.3L1402 907.1M1427.7 916.3L1409 928.1M1437 935.3L1450.1 952M1437 935.3L1409 928.1M1437 935.3L1420 947.3M1437 935.3L1434.3 964.3M1450.1 952L1466 966.1M1450.1 952L1434.3 964.3M1450.1 952L1451.2 978.7M1466 966.1L1484 977.3M1466 966.1L1451.2 978.7M1466 966.1L1470 990.4M1484 977.3L1503.6 985.7M1484 977.3L1470 990.4M1484 977.3L1490.2 999.5M1503.6 985.7L1524.1 991.2M1503.6 985.7L1490.2 999.5M1503.6 985.7L1511.5 1005.9M1524.1 991.2L1545.2 994M1524.1 991.2L1511.5 1005.9M1524.1 991.2L1533.3 1009.7M1545.2 994L1566.4 993.9M1545.2 994L1533.3 1009.7M1545.2 994L1555.5 1011M1566.4 993.9L1587.5 991.1M1566.4 993.9L1555.5 1011M1566.4 993.9L1577.7 1009.7M1587.5 991.1L1608 985.5M1587.5 991.1L1577.7 1009.7M1587.5 991.1L1599.5 1005.8M1608 985.5L1627.5 977.1M1608 985.5L1599.5 1005.8M1608 985.5L1620.8 999.4M1627.5 977.1L1645.6 965.9M1627.5 977.1L1620.8 999.4M1627.5 977.1L1641 990.3M1645.6 965.9L1661.5 951.9M1645.6 965.9L1641 990.3M1645.6 965.9L1659.9 978.6M1661.5 951.9L1674.6 935.3M1661.5 951.9L1659.9 978.6M1661.5 951.9L1682.1 964.2M1674.6 935.3L1684.1 916.3M1674.6 935.3L1696.5 929.1M1674.6 935.3L1682.1 964.2M1684.1 916.3L1689 895.7M1684.1 916.3L1699.5 898.5M1684.1 916.3L1696.5 929.1M1689 895.7L1699.5 898.5M1659.9 791.5L1641 779.8M1659.9 791.5L1672.4 776.6M1659.9 791.5L1652.1 764.5M1659.9 791.5L1682.1 803M1641 779.8L1620.8 770.7M1641 779.8L1652.1 764.5M1641 779.8L1630.5 755M1620.8 770.7L1599.5 764.3M1620.8 770.7L1630.5 755M1620.8 770.7L1607.9 748.1M1599.5 764.3L1577.7 760.4M1599.5 764.3L1607.9 748.1M1599.5 764.3L1584.6 743.7M1577.7 760.4L1555.5 759.1M1577.7 760.4L1584.6 743.7M1577.7 760.4L1561.1 741.8M1555.5 759.1L1533.3 760.4M1555.5 759.1L1561.1 741.8M1555.5 759.1L1537.4 742.4M1533.3 760.4L1511.5 764.2M1533.3 760.4L1537.4 742.4M1533.3 760.4L1514 745.6M1511.5 764.2L1490.2 770.7M1511.5 764.2L1514 745.6M1511.5 764.2L1491 751.2M1490.2 770.7L1470 779.7M1490.2 770.7L1491 751.2M1490.2 770.7L1468.9 759.4M1470 779.7L1451.2 791.5M1470 779.7L1468.9 759.4M1470 779.7L1447.8 770.3M1451.2 791.5L1434.3 805.8M1451.2 791.5L1447.8 770.3M1451.2 791.5L1428.4 783.7M1434.3 805.8L1420 822.8M1434.3 805.8L1428.4 783.7M1434.3 805.8L1411.1 799.7M1420 822.8L1409 842M1420 822.8L1411.1 799.7M1420 822.8L1396.5 818.3M1409 842L1402 863M1409 842L1396.5 818.3M1409 842L1385.3 839.1M1402 863L1399.6 885.1M1402 863L1385.3 839.1M1402 863L1378.2 861.6M1399.6 885.1L1402 907.1M1399.6 885.1L1378.2 861.6M1399.6 885.1L1375.8 885.1M1399.6 885.1L1378.2 908.5M1402 907.1L1409 928.1M1402 907.1L1378.2 908.5M1402 907.1L1385.3 931M1409 928.1L1420 947.3M1409 928.1L1385.3 931M1409 928.1L1396.5 951.8M1420 947.3L1434.3 964.3M1420 947.3L1396.5 951.8M1420 947.3L1411.1 970.4M1434.3 964.3L1451.2 978.7M1434.3 964.3L1411.1 970.4M1434.3 964.3L1428.4 986.4M1451.2 978.7L1470 990.4M1451.2 978.7L1428.4 986.4M1451.2 978.7L1447.8 999.9M1470 990.4L1490.2 999.5M1470 990.4L1447.8 999.9M1470 990.4L1468.9 1010.7M1490.2 999.5L1511.5 1005.9M1490.2 999.5L1468.9 1010.7M1490.2 999.5L1491 1018.9M1511.5 1005.9L1533.3 1009.7M1511.5 1005.9L1491 1018.9M1511.5 1005.9L1514 1024.5M1533.3 1009.7L1555.5 1011M1533.3 1009.7L1514 1024.5M1533.3 1009.7L1537.4 1027.7M1555.5 1011L1577.7 1009.7M1555.5 1011L1537.4 1027.7M1555.5 1011L1561.1 1028.3M1577.7 1009.7L1599.5 1005.8M1577.7 1009.7L1561.1 1028.3M1577.7 1009.7L1584.6 1026.4M1599.5 1005.8L1620.8 999.4M1599.5 1005.8L1584.6 1026.4M1599.5 1005.8L1607.9 1022.1M1620.8 999.4L1641 990.3M1620.8 999.4L1607.9 1022.1M1620.8 999.4L1630.5 1015.1M1641 990.3L1659.9 978.6M1641 990.3L1630.5 1015.1M1641 990.3L1652.1 1005.6M1659.9 978.6L1652.1 1005.6M1659.9 978.6L1672.4 993.5M1659.9 978.6L1682.1 964.2M1672.4 776.6L1652.1 764.5M1672.4 776.6L1666.9 750.2M1672.4 776.6L1678.1 742.4M1672.4 776.6L1699.5 772.4M1672.4 776.6L1682.1 803M1652.1 764.5L1630.5 755M1652.1 764.5L1666.9 750.2M1652.1 764.5L1644.6 740.1M1630.5 755L1607.9 748.1M1630.5 755L1644.6 740.1M1630.5 755L1621.3 732.4M1607.9 748.1L1584.6 743.7M1607.9 748.1L1621.3 732.4M1607.9 748.1L1597.4 727.2M1584.6 743.7L1561.1 741.8M1584.6 743.7L1597.4 727.2M1584.6 743.7L1573.1 724.3M1561.1 741.8L1537.4 742.4M1561.1 741.8L1573.1 724.3M1561.1 741.8L1548.6 723.7M1537.4 742.4L1514 745.6M1537.4 742.4L1548.6 723.7M1537.4 742.4L1524.1 725.5M1514 745.6L1491 751.2M1514 745.6L1524.1 725.5M1514 745.6L1500 729.7M1491 751.2L1468.9 759.4M1491 751.2L1500 729.7M1491 751.2L1476.4 736.2M1468.9 759.4L1447.8 770.3M1468.9 759.4L1476.4 736.2M1468.9 759.4L1453.5 745M1447.8 770.3L1428.4 783.7M1447.8 770.3L1453.5 745M1447.8 770.3L1431.8 756.4M1428.4 783.7L1411.1 799.7M1428.4 783.7L1431.8 756.4M1428.4 783.7L1411.6 770.2M1411.1 799.7L1396.5 818.3M1411.1 799.7L1411.6 770.2M1411.1 799.7L1393.3 786.5M1396.5 818.3L1385.3 839.1M1396.5 818.3L1393.3 786.5M1396.5 818.3L1377.5 805.2M1396.5 818.3L1364.9 826.1M1385.3 839.1L1378.2 861.6M1385.3 839.1L1364.9 826.1M1385.3 839.1L1355.9 848.8M1378.2 861.6L1375.8 885.1M1378.2 861.6L1355.9 848.8M1378.2 861.6L1351.3 872.8M1375.8 885.1L1378.2 908.5M1375.8 885.1L1351.3 872.8M1375.8 885.1L1351.3 897.3M1378.2 908.5L1385.3 931M1378.2 908.5L1351.3 897.3M1378.2 908.5L1355.9 921.3M1385.3 931L1396.5 951.8M1385.3 931L1355.9 921.3M1385.3 931L1364.9 944M1396.5 951.8L1411.1 970.4M1396.5 951.8L1364.9 944M1396.5 951.8L1377.5 965M1396.5 951.8L1393.3 983.7M1411.1 970.4L1428.4 986.4M1411.1 970.4L1393.3 983.7M1411.1 970.4L1411.6 999.9M1428.4 986.4L1447.8 999.9M1428.4 986.4L1411.6 999.9M1428.4 986.4L1431.8 1013.8M1447.8 999.9L1468.9 1010.7M1447.8 999.9L1431.8 1013.8M1447.8 999.9L1453.5 1025.1M1468.9 1010.7L1491 1018.9M1468.9 1010.7L1453.5 1025.1M1468.9 1010.7L1476.4 1034M1491 1018.9L1514 1024.5M1491 1018.9L1476.4 1034M1491 1018.9L1500 1040.5M1514 1024.5L1537.4 1027.7M1514 1024.5L1500 1040.5M1514 1024.5L1524.1 1044.6M1537.4 1027.7L1561.1 1028.3M1537.4 1027.7L1524.1 1044.6M1537.4 1027.7L1548.6 1046.4M1561.1 1028.3L1584.6 1026.4M1561.1 1028.3L1548.6 1046.4M1561.1 1028.3L1573.1 1045.8M1584.6 1026.4L1607.9 1022.1M1584.6 1026.4L1573.1 1045.8M1584.6 1026.4L1597.4 1043M1607.9 1022.1L1630.5 1015.1M1607.9 1022.1L1597.4 1043M1607.9 1022.1L1621.3 1037.7M1630.5 1015.1L1652.1 1005.6M1630.5 1015.1L1621.3 1037.7M1630.5 1015.1L1644.6 1030M1652.1 1005.6L1672.4 993.5M1652.1 1005.6L1644.6 1030M1652.1 1005.6L1666.9 1019.9M1672.4 993.5L1666.9 1019.9M1672.4 993.5L1682.1 964.2M1672.4 993.5L1699.5 993.9M1672.4 993.5L1678.1 1025.4M1666.9 750.2L1644.6 740.1M1666.9 750.2L1651.5 717.3M1666.9 750.2L1678.1 742.4M1644.6 740.1L1621.3 732.4M1644.6 740.1L1630.8 715.1M1644.6 740.1L1651.5 717.3M1621.3 732.4L1597.4 727.2M1621.3 732.4L1630.8 715.1M1621.3 732.4L1605.6 709.3M1597.4 727.2L1573.1 724.3M1597.4 727.2L1605.6 709.3M1597.4 727.2L1580 706M1573.1 724.3L1548.6 723.7M1573.1 724.3L1580 706M1573.1 724.3L1554.2 704.9M1548.6 723.7L1524.1 725.5M1548.6 723.7L1554.2 704.9M1548.6 723.7L1528.4 706.1M1524.1 725.5L1500 729.7M1524.1 725.5L1528.4 706.1M1524.1 725.5L1502.8 709.6M1500 729.7L1476.4 736.2M1500 729.7L1502.8 709.6M1500 729.7L1477.6 715.4M1476.4 736.2L1453.5 745M1476.4 736.2L1477.6 715.4M1476.4 736.2L1453 723.5M1453.5 745L1431.8 756.4M1453.5 745L1453 723.5M1453.5 745L1429.4 734M1431.8 756.4L1411.6 770.2M1431.8 756.4L1429.4 734M1431.8 756.4L1407 746.9M1411.6 770.2L1393.3 786.5M1411.6 770.2L1407 746.9M1411.6 770.2L1382.8 762.3M1393.3 786.5L1377.5 805.2M1393.3 786.5L1366 795M1393.3 786.5L1382.8 762.3M1377.5 805.2L1364.9 826.1M1377.5 805.2L1366 795M1364.9 826.1L1355.9 848.8M1364.9 826.1L1352.2 831.1M1364.9 826.1L1366 795M1355.9 848.8L1351.3 872.8M1355.9 848.8L1343.1 840.3M1355.9 848.8L1352.2 831.1M1351.3 872.8L1351.3 897.3M1351.3 872.8L1343.1 926M1351.3 872.8L1343.1 840.3M1351.3 897.3L1355.9 921.3M1351.3 897.3L1343.1 926M1355.9 921.3L1364.9 944M1355.9 921.3L1352.2 936.7M1355.9 921.3L1343.1 926M1364.9 944L1377.5 965M1364.9 944L1366 971.9M1364.9 944L1352.2 936.7M1377.5 965L1393.3 983.7M1377.5 965L1366 971.9M1393.3 983.7L1411.6 999.9M1393.3 983.7L1382.8 1005.6M1393.3 983.7L1366 971.9M1411.6 999.9L1431.8 1013.8M1411.6 999.9L1407.3 1036.2M1411.6 999.9L1382.8 1005.6M1431.8 1013.8L1453.5 1025.1M1431.8 1013.8L1429.4 1036.1M1431.8 1013.8L1407.3 1036.2M1453.5 1025.1L1476.4 1034M1453.5 1025.1L1429.4 1036.1M1453.5 1025.1L1453 1046.6M1476.4 1034L1500 1040.5M1476.4 1034L1453 1046.6M1476.4 1034L1477.6 1054.7M1500 1040.5L1524.1 1044.6M1500 1040.5L1477.6 1054.7M1500 1040.5L1502.8 1060.5M1524.1 1044.6L1548.6 1046.4M1524.1 1044.6L1502.8 1060.5M1524.1 1044.6L1528.4 1064M1548.6 1046.4L1573.1 1045.8M1548.6 1046.4L1528.4 1064M1548.6 1046.4L1554.2 1065.2M1573.1 1045.8L1597.4 1043M1573.1 1045.8L1554.2 1065.2M1573.1 1045.8L1580 1064.2M1597.4 1043L1621.3 1037.7M1597.4 1043L1580 1064.2M1597.4 1043L1605.6 1060.8M1621.3 1037.7L1644.6 1030M1621.3 1037.7L1605.6 1060.8M1621.3 1037.7L1630.8 1055.1M1644.6 1030L1666.9 1019.9M1644.6 1030L1630.8 1055.1M1644.6 1030L1651.5 1053M1666.9 1019.9L1678.1 1025.4M1666.9 1019.9L1651.5 1053M1630.8 715.1L1605.6 709.3M1630.8 715.1L1620.9 695M1630.8 715.1L1651.5 717.3M1605.6 709.3L1580 706M1605.6 709.3L1586.3 680.6M1605.6 709.3L1620.9 695M1580 706L1554.2 704.9M1580 706L1586.3 680.6M1554.2 704.9L1528.4 706.1M1554.2 704.9L1540.3 685.8M1554.2 704.9L1549.6 675.1M1554.2 704.9L1586.3 680.6M1528.4 706.1L1502.8 709.6M1528.4 706.1L1540.3 685.8M1528.4 706.1L1513.7 688.1M1502.8 709.6L1477.6 715.4M1502.8 709.6L1513.7 688.1M1502.8 709.6L1473.7 688.8M1477.6 715.4L1453 723.5M1477.6 715.4L1473.7 688.8M1453 723.5L1429.4 734M1453 723.5L1439.4 707.2M1453 723.5L1473.7 688.8M1429.4 734L1407 746.9M1429.4 734L1407.3 732.6M1429.4 734L1439.4 707.2M1407 746.9L1382.8 762.3M1407 746.9L1407.3 732.6M1429.4 1036.1L1453 1046.6M1429.4 1036.1L1439.4 1060.6M1429.4 1036.1L1407.3 1036.2M1453 1046.6L1477.6 1054.7M1453 1046.6L1473.7 1079M1453 1046.6L1439.4 1060.6M1477.6 1054.7L1502.8 1060.5M1477.6 1054.7L1473.7 1079M1502.8 1060.5L1528.4 1064M1502.8 1060.5L1512.9 1089.7M1502.8 1060.5L1473.7 1079M1528.4 1064L1554.2 1065.2M1528.4 1064L1549.6 1092.8M1528.4 1064L1512.9 1089.7M1554.2 1065.2L1580 1064.2M1554.2 1065.2L1586.3 1086.6M1554.2 1065.2L1549.6 1092.8M1580 1064.2L1605.6 1060.8M1580 1064.2L1586.3 1086.6M1605.6 1060.8L1630.8 1055.1M1605.6 1060.8L1620.9 1072.9M1605.6 1060.8L1586.3 1086.6M1630.8 1055.1L1651.5 1053M1630.8 1055.1L1620.9 1072.9M1540.3 685.8L1513.7 688.1M1540.3 685.8L1549.6 675.1M1540.3 685.8L1512.9 676.6M1513.7 688.1L1473.7 688.8M1513.7 688.1L1512.9 676.6M1549.6 675.1L1586.3 680.6M1549.6 675.1L1512.9 676.6M1586.3 680.6L1620.9 695M1620.9 695L1651.5 717.3M1651.5 717.3L1678.1 742.4M1678.1 742.4L1699.5 772.4M1699.5 772.4L1682.1 803M1682.1 803L1691.9 834.2M1691.9 834.2L1697.4 864.8M1697.4 864.8L1699.5 898.5M1699.5 898.5L1696.5 929.1M1696.5 929.1L1682.1 964.2M1682.1 964.2L1699.5 993.9M1699.5 993.9L1678.1 1025.4M1678.1 1025.4L1651.5 1053M1651.5 1053L1620.9 1072.9M1620.9 1072.9L1586.3 1086.6M1586.3 1086.6L1549.6 1092.8M1549.6 1092.8L1512.9 1089.7M1512.9 1089.7L1473.7 1079M1473.7 1079L1439.4 1060.6M1439.4 1060.6L1407.3 1036.2M1407.3 1036.2L1382.8 1005.6M1382.8 1005.6L1366 971.9M1366 971.9L1352.2 936.7M1352.2 936.7L1343.1 926M1343.1 926L1343.1 840.3M1343.1 840.3L1352.2 831.1M1352.2 831.1L1366 795M1366 795L1382.8 762.3M1382.8 762.3L1407.3 732.6M1407.3 732.6L1439.4 707.2M1439.4 707.2L1473.7 688.8M1473.7 688.8L1512.9 676.6" fill="none" stroke="#f22e2e" stroke-width="0.95" stroke-linejoin="round"/></g>
<rect x="1352.2" y="642" width="483.5" height="482.9" fill="none" stroke="#6a6a6a" stroke-width="1.5"/>
<path d="M1352.2 1124.9v-5M1352.2 642v5M1432.8 1124.9v-5M1432.8 642v5M1513.4 1124.9v-5M1513.4 642v5M1594 1124.9v-5M1594 642v5M1674.5 1124.9v-5M1674.5 642v5M1755.1 1124.9v-5M1755.1 642v5M1835.7 1124.9v-5M1835.7 642v5M1352.2 1124.9h5M1835.7 1124.9h-5M1352.2 1044.4h5M1835.7 1044.4h-5M1352.2 963.9h5M1835.7 963.9h-5M1352.2 883.5h5M1835.7 883.5h-5M1352.2 803h5M1835.7 803h-5M1352.2 722.5h5M1835.7 722.5h-5M1352.2 642h5M1835.7 642h-5" stroke="#6a6a6a" stroke-width="1.5" fill="none"/>
<text x="0" y="0" font-size="26.5" text-anchor="middle" fill="#262626" font-family="'Liberation Sans', Arial, sans-serif" transform="translate(1352.2 1159.9) scale(0.93 1)">-15</text>
<text x="0" y="0" font-size="26.5" text-anchor="middle" fill="#262626" font-family="'Liberation Sans', Arial, sans-serif" transform="translate(1432.8 1159.9) scale(0.93 1)">-10</text>
<text x="0" y="0" font-size="26.5" text-anchor="middle" fill="#262626" font-family="'Liberation Sans', Arial, sans-serif" transform="translate(1513.4 1159.9) scale(0.93 1)">-5</text>
<text x="0" y="0" font-size="26.5" text-anchor="middle" fill="#262626" font-family="'Liberation Sans', Arial, sans-serif" transform="translate(1594 1159.9) scale(0.93 1)">0</text>
<text x="0" y="0" font-size="26.5" text-anchor="middle" fill="#262626" font-family="'Liberation Sans', Arial, sans-serif" transform="translate(1674.5 1159.9) scale(0.93 1)">5</text>
<text x="0" y="0" font-size="26.5" text-anchor="middle" fill="#262626" font-family="'Liberation Sans', Arial, sans-serif" transform="translate(1755.1 1159.9) scale(0.93 1)">10</text>
<text x="0" y="0" font-size="26.5" text-anchor="middle" fill="#262626" font-family="'Liberation Sans', Arial, sans-serif" transform="translate(1835.7 1159.9) scale(0.93 1)">15</text>
<text x="0" y="0" font-size="26.5" text-anchor="end" fill="#262626" font-family="'Liberation Sans', Arial, sans-serif" transform="translate(1343.2 1135.5) scale(0.93 1)">-15</text>
<text x="0" y="0" font-size="26.5" text-anchor="end" fill="#262626" font-family="'Liberation Sans', Arial, sans-serif" transform="translate(1343.2 1055) scale(0.93 1)">-10</text>
<text x="0" y="0" font-size="26.5" text-anchor="end" fill="#262626" font-family="'Liberation Sans', Arial, sans-serif" transform="translate(1343.2 974.5) scale(0.93 1)">-5</text>
<text x="0" y="0" font-size="26.5" text-anchor="end" fill="#262626" font-family="'Liberation Sans', Arial, sans-serif" transform="translate(1343.2 894.1) scale(0.93 1)">0</text>
<text x="0" y="0" font-size="26.5" text-anchor="end" fill="#262626" font-family="'Liberation Sans', Arial, sans-serif" transform="translate(1343.2 813.6) scale(0.93 1)">5</text>
<text x="0" y="0" font-size="26.5" text-anchor="end" fill="#262626" font-family="'Liberation Sans', Arial, sans-serif" transform="translate(1343.2 733.1) scale(0.93 1)">10</text>
<text x="0" y="0" font-size="26.5" text-anchor="end" fill="#262626" font-family="'Liberation Sans', Arial, sans-serif" transform="translate(1343.2 652.6) scale(0.93 1)">15</text>
<text x="1595" y="1197" font-size="29" text-anchor="middle" fill="#262626" font-family="'Liberation Sans', Arial, sans-serif">X (nm)</text>
<text x="1299" y="884" font-size="29" text-anchor="middle" fill="#262626" font-family="'Liberation Sans', Arial, sans-serif" transform="rotate(-90 1299 884)">Y (nm)</text>
<text x="650.6" y="1258" font-size="42" text-anchor="middle" fill="#000" font-family="Carlito, 'Liberation Sans', sans-serif">(c)</text>
<text x="1385" y="1257.5" font-size="42" text-anchor="middle" fill="#000" font-family="Carlito, 'Liberation Sans', sans-serif">(d)</text>
<rect x="365.1" y="1301.6" width="579.7" height="549.2" fill="none" stroke="#000" stroke-width="1.8"/>
<path d="M365.1 1850.8v10M365.1 1301.6v10M461.7 1850.8v10M461.7 1301.6v10M558.3 1850.8v10M558.3 1301.6v10M655 1850.8v10M655 1301.6v10M751.6 1850.8v10M751.6 1301.6v10M848.2 1850.8v10M848.2 1301.6v10M944.8 1850.8v10M944.8 1301.6v10M413.4 1850.8v5.5M413.4 1301.6v5.5M510 1850.8v5.5M510 1301.6v5.5M606.6 1850.8v5.5M606.6 1301.6v5.5M703.3 1850.8v5.5M703.3 1301.6v5.5M799.9 1850.8v5.5M799.9 1301.6v5.5M896.5 1850.8v5.5M896.5 1301.6v5.5M365.1 1850.8h-10M944.8 1850.8h-10M365.1 1759.3h-10M944.8 1759.3h-10M365.1 1667.7h-10M944.8 1667.7h-10M365.1 1576.2h-10M944.8 1576.2h-10M365.1 1484.7h-10M944.8 1484.7h-10M365.1 1393.1h-10M944.8 1393.1h-10M365.1 1301.6h-10M944.8 1301.6h-10M365.1 1805h-5.5M944.8 1805h-5.5M365.1 1713.5h-5.5M944.8 1713.5h-5.5M365.1 1622h-5.5M944.8 1622h-5.5M365.1 1530.4h-5.5M944.8 1530.4h-5.5M365.1 1438.9h-5.5M944.8 1438.9h-5.5M365.1 1347.4h-5.5M944.8 1347.4h-5.5" stroke="#000" stroke-width="1.8" fill="none"/>
<text x="0" y="0" font-size="25.5" text-anchor="middle" fill="#000" stroke="#000" stroke-width="0.45" font-family="'Liberation Sans', Arial, sans-serif" transform="translate(365.1 1888.8) scale(1.0 1)">-30</text>
<text x="0" y="0" font-size="25.5" text-anchor="middle" fill="#000" stroke="#000" stroke-width="0.45" font-family="'Liberation Sans', Arial, sans-serif" transform="translate(461.7 1888.8) scale(1.0 1)">-20</text>
<text x="0" y="0" font-size="25.5" text-anchor="middle" fill="#000" stroke="#000" stroke-width="0.45" font-family="'Liberation Sans', Arial, sans-serif" transform="translate(558.3 1888.8) scale(1.0 1)">-10</text>
<text x="0" y="0" font-size="25.5" text-anchor="middle" fill="#000" stroke="#000" stroke-width="0.45" font-family="'Liberation Sans', Arial, sans-serif" transform="translate(655 1888.8) scale(1.0 1)">0</text>
<text x="0" y="0" font-size="25.5" text-anchor="middle" fill="#000" stroke="#000" stroke-width="0.45" font-family="'Liberation Sans', Arial, sans-serif" transform="translate(751.6 1888.8) scale(1.0 1)">10</text>
<text x="0" y="0" font-size="25.5" text-anchor="middle" fill="#000" stroke="#000" stroke-width="0.45" font-family="'Liberation Sans', Arial, sans-serif" transform="translate(848.2 1888.8) scale(1.0 1)">20</text>
<text x="0" y="0" font-size="25.5" text-anchor="middle" fill="#000" stroke="#000" stroke-width="0.45" font-family="'Liberation Sans', Arial, sans-serif" transform="translate(944.8 1888.8) scale(1.0 1)">30</text>
<text x="0" y="0" font-size="25.5" text-anchor="end" fill="#000" stroke="#000" stroke-width="0.45" font-family="'Liberation Sans', Arial, sans-serif" transform="translate(345.6 1858.7) scale(1.0 1)">20</text>
<text x="0" y="0" font-size="25.5" text-anchor="end" fill="#000" stroke="#000" stroke-width="0.45" font-family="'Liberation Sans', Arial, sans-serif" transform="translate(345.6 1767.2) scale(1.0 1)">25</text>
<text x="0" y="0" font-size="25.5" text-anchor="end" fill="#000" stroke="#000" stroke-width="0.45" font-family="'Liberation Sans', Arial, sans-serif" transform="translate(345.6 1675.6) scale(1.0 1)">30</text>
<text x="0" y="0" font-size="25.5" text-anchor="end" fill="#000" stroke="#000" stroke-width="0.45" font-family="'Liberation Sans', Arial, sans-serif" transform="translate(345.6 1584.1) scale(1.0 1)">35</text>
<text x="0" y="0" font-size="25.5" text-anchor="end" fill="#000" stroke="#000" stroke-width="0.45" font-family="'Liberation Sans', Arial, sans-serif" transform="translate(345.6 1492.6) scale(1.0 1)">40</text>
<text x="0" y="0" font-size="25.5" text-anchor="end" fill="#000" stroke="#000" stroke-width="0.45" font-family="'Liberation Sans', Arial, sans-serif" transform="translate(345.6 1401) scale(1.0 1)">45</text>
<text x="0" y="0" font-size="25.5" text-anchor="end" fill="#000" stroke="#000" stroke-width="0.45" font-family="'Liberation Sans', Arial, sans-serif" transform="translate(345.6 1309.5) scale(1.0 1)">50</text>
<text x="0" y="0" font-size="27.5" text-anchor="middle" fill="#000" stroke="#000" stroke-width="0.45" font-family="'Liberation Sans', Arial, sans-serif" transform="translate(655 1934) scale(1.0 1)">X (nm)</text>
<text x="0" y="0" font-size="27.2" text-anchor="middle" fill="#000" stroke="#000" stroke-width="0.45" font-family="'Liberation Sans', Arial, sans-serif" transform="translate(307.7 1572.2) scale(1.0 1) rotate(-90)">Radius of curvature (nm)</text>
<path d="M414,1290 418.2,1348.1 427.3,1525 437.2,1707.6 447.1,1741.6 459.8,1781.2 469.7,1784 479.6,1793.9 486.7,1758.5 498,1752.9 513.6,1750 523.5,1740.1 533.4,1723.2 543.3,1726 551.8,1716.1 563.1,1707.6 571.6,1704.8 581.5,1716.1 591.4,1724.6 601.3,1710.4 611.2,1699.1 621.2,1687.8 631.1,1693.4 641,1687.8 650.7,1651 659.2,1693.4 679,1669.4 688.9,1669.4 697.4,1704.8 705.9,1710.4 715.8,1716.1 727.1,1721.7 741.2,1727.4 755.4,1727.4 766.7,1741.6 773.8,1734.5 783.7,1750 795,1758.5 812,1764.2 823.3,1768.4 829,1786.8 843.1,1786.8 854.5,1788.3 862.9,1727.4 871.4,1713.2 881.3,1642.5 891.2,1359.4 897,1290" fill="none" stroke="#0000ff" stroke-width="2" stroke-linejoin="round" clip-path="url(#clipC)"/>
<g clip-path="url(#clipCm)">
<g fill="#0000ff"><ellipse cx="418.2" cy="1348.1" rx="9.4" ry="8.7"/><ellipse cx="427.3" cy="1525" rx="9.4" ry="8.7"/><ellipse cx="437.2" cy="1707.6" rx="9.4" ry="8.7"/><ellipse cx="447.1" cy="1741.6" rx="9.4" ry="8.7"/><ellipse cx="459.8" cy="1781.2" rx="9.4" ry="8.7"/><ellipse cx="469.7" cy="1784" rx="9.4" ry="8.7"/><ellipse cx="479.6" cy="1793.9" rx="9.4" ry="8.7"/><ellipse cx="486.7" cy="1758.5" rx="9.4" ry="8.7"/><ellipse cx="498" cy="1752.9" rx="9.4" ry="8.7"/><ellipse cx="513.6" cy="1750" rx="9.4" ry="8.7"/><ellipse cx="523.5" cy="1740.1" rx="9.4" ry="8.7"/><ellipse cx="533.4" cy="1723.2" rx="9.4" ry="8.7"/><ellipse cx="543.3" cy="1726" rx="9.4" ry="8.7"/><ellipse cx="551.8" cy="1716.1" rx="9.4" ry="8.7"/><ellipse cx="563.1" cy="1707.6" rx="9.4" ry="8.7"/><ellipse cx="571.6" cy="1704.8" rx="9.4" ry="8.7"/><ellipse cx="581.5" cy="1716.1" rx="9.4" ry="8.7"/><ellipse cx="591.4" cy="1724.6" rx="9.4" ry="8.7"/><ellipse cx="601.3" cy="1710.4" rx="9.4" ry="8.7"/><ellipse cx="611.2" cy="1699.1" rx="9.4" ry="8.7"/><ellipse cx="621.2" cy="1687.8" rx="9.4" ry="8.7"/><ellipse cx="631.1" cy="1693.4" rx="9.4" ry="8.7"/><ellipse cx="641" cy="1687.8" rx="9.4" ry="8.7"/><ellipse cx="650.7" cy="1651" rx="9.4" ry="8.7"/><ellipse cx="659.2" cy="1693.4" rx="9.4" ry="8.7"/><ellipse cx="679" cy="1669.4" rx="9.4" ry="8.7"/><ellipse cx="688.9" cy="1669.4" rx="9.4" ry="8.7"/><ellipse cx="697.4" cy="1704.8" rx="9.4" ry="8.7"/><ellipse cx="705.9" cy="1710.4" rx="9.4" ry="8.7"/><ellipse cx="715.8" cy="1716.1" rx="9.4" ry="8.7"/><ellipse cx="727.1" cy="1721.7" rx="9.4" ry="8.7"/><ellipse cx="741.2" cy="1727.4" rx="9.4" ry="8.7"/><ellipse cx="755.4" cy="1727.4" rx="9.4" ry="8.7"/><ellipse cx="766.7" cy="1741.6" rx="9.4" ry="8.7"/><ellipse cx="773.8" cy="1734.5" rx="9.4" ry="8.7"/><ellipse cx="783.7" cy="1750" rx="9.4" ry="8.7"/><ellipse cx="795" cy="1758.5" rx="9.4" ry="8.7"/><ellipse cx="812" cy="1764.2" rx="9.4" ry="8.7"/><ellipse cx="823.3" cy="1768.4" rx="9.4" ry="8.7"/><ellipse cx="829" cy="1786.8" rx="9.4" ry="8.7"/><ellipse cx="843.1" cy="1786.8" rx="9.4" ry="8.7"/><ellipse cx="854.5" cy="1788.3" rx="9.4" ry="8.7"/><ellipse cx="862.9" cy="1727.4" rx="9.4" ry="8.7"/><ellipse cx="871.4" cy="1713.2" rx="9.4" ry="8.7"/><ellipse cx="881.3" cy="1642.5" rx="9.4" ry="8.7"/><ellipse cx="891.2" cy="1359.4" rx="9.4" ry="8.7"/></g>
</g>
<path d="M414,1290 418.2,1346.7 427.3,1529.3 437.2,1724.6 447.1,1762.8 458.4,1813.7 466.9,1812.3 482.5,1805.2 493.8,1785.4 505.1,1775.5 513.6,1767 523.5,1759.9 534.8,1750 546.1,1744.4 557.5,1737.3 568.8,1737.3 581.5,1707.6 591.4,1713.2 601.3,1752.9 611.2,1687.8 621.2,1634 631.1,1634 641,1694.8 650.7,1704.8 662,1707.6 673.3,1710.4 681.8,1709 691.7,1707.6 701.6,1707.6 712.9,1710.4 724.3,1711.8 735.6,1710.4 749.7,1707.6 761,1701.9 775.2,1694.8 785.1,1683.5 795,1670.8 804.9,1653.8 821.9,1621.3 834.6,1605.7 847.4,1583 860.1,1588.7 871.4,1564.6 884.2,1542 892.7,1502.4 902.6,1392 909.6,1309.9" fill="none" stroke="#00ff00" stroke-width="2" stroke-linejoin="round" clip-path="url(#clipC)"/>
<g clip-path="url(#clipCm)">
<g fill="#00ff00"><path d="M418.2 1335.3l11.9 19.6h-23.8z"/><path d="M427.3 1517.9l11.9 19.6h-23.8z"/><path d="M437.2 1713.2l11.9 19.6h-23.8z"/><path d="M447.1 1751.4l11.9 19.6h-23.8z"/><path d="M458.4 1802.3l11.9 19.6h-23.8z"/><path d="M466.9 1800.9l11.9 19.6h-23.8z"/><path d="M482.5 1793.8l11.9 19.6h-23.8z"/><path d="M493.8 1774l11.9 19.6h-23.8z"/><path d="M505.1 1764.1l11.9 19.6h-23.8z"/><path d="M513.6 1755.6l11.9 19.6h-23.8z"/><path d="M523.5 1748.5l11.9 19.6h-23.8z"/><path d="M534.8 1738.6l11.9 19.6h-23.8z"/><path d="M546.1 1733l11.9 19.6h-23.8z"/><path d="M557.5 1725.9l11.9 19.6h-23.8z"/><path d="M568.8 1725.9l11.9 19.6h-23.8z"/><path d="M581.5 1696.2l11.9 19.6h-23.8z"/><path d="M591.4 1701.8l11.9 19.6h-23.8z"/><path d="M601.3 1741.5l11.9 19.6h-23.8z"/><path d="M611.2 1676.4l11.9 19.6h-23.8z"/><path d="M621.2 1622.6l11.9 19.6h-23.8z"/><path d="M631.1 1622.6l11.9 19.6h-23.8z"/><path d="M641 1683.4l11.9 19.6h-23.8z"/><path d="M650.7 1693.4l11.9 19.6h-23.8z"/><path d="M662 1696.2l11.9 19.6h-23.8z"/><path d="M673.3 1699l11.9 19.6h-23.8z"/><path d="M681.8 1697.6l11.9 19.6h-23.8z"/><path d="M691.7 1696.2l11.9 19.6h-23.8z"/><path d="M701.6 1696.2l11.9 19.6h-23.8z"/><path d="M712.9 1699l11.9 19.6h-23.8z"/><path d="M724.3 1700.4l11.9 19.6h-23.8z"/><path d="M735.6 1699l11.9 19.6h-23.8z"/><path d="M749.7 1696.2l11.9 19.6h-23.8z"/><path d="M761 1690.5l11.9 19.6h-23.8z"/><path d="M775.2 1683.4l11.9 19.6h-23.8z"/><path d="M785.1 1672.1l11.9 19.6h-23.8z"/><path d="M795 1659.4l11.9 19.6h-23.8z"/><path d="M804.9 1642.4l11.9 19.6h-23.8z"/><path d="M821.9 1609.9l11.9 19.6h-23.8z"/><path d="M834.6 1594.3l11.9 19.6h-23.8z"/><path d="M847.4 1571.6l11.9 19.6h-23.8z"/><path d="M860.1 1577.3l11.9 19.6h-23.8z"/><path d="M871.4 1553.2l11.9 19.6h-23.8z"/><path d="M884.2 1530.6l11.9 19.6h-23.8z"/><path d="M892.7 1491l11.9 19.6h-23.8z"/><path d="M902.6 1380.6l11.9 19.6h-23.8z"/><path d="M909.6 1298.5l11.9 19.6h-23.8z"/></g>
</g>
<path d="M414,1290 418.2,1331.7 427.3,1516.5 437.2,1745.8 447.6,1752.9 458.4,1839.2 466.9,1832.1 478.2,1843.4 485.3,1812.3 495.2,1809.5 506.5,1802.4 513.6,1791.1 522.1,1781.2 532,1772.7 541.9,1768.4 553.2,1764.2 563.1,1771.3 573,1757.1 582.9,1758.5 591.4,1806.7 601.3,1810.9 611.2,1697.7 621.2,1727.4 631.1,1748.6 641,1747.2 649.2,1716.1 656.3,1724.6 664.8,1733.1 673.3,1731.6 681.8,1728.8 691.7,1724.6 701.6,1720.3 711.5,1716.1 720,1710.4 729.9,1704.8 738.4,1699.1 746.9,1696.3 755.4,1687.8 766.7,1666.5 776.6,1648.1 783.7,1622.7 796.4,1578.8 806.3,1544.8 813.4,1533.5 823.3,1488.2 830.4,1457.1 840.3,1442.9 851.6,1390.6 862.9,1445.8 872.9,1326.9 877,1290" fill="none" stroke="#ff0000" stroke-width="2" stroke-linejoin="round" clip-path="url(#clipC)"/>
<g clip-path="url(#clipCm)">
<g fill="#ff0000"><rect x="408.8" y="1323" width="18.8" height="17.4"/><rect x="417.9" y="1507.8" width="18.8" height="17.4"/><rect x="427.8" y="1737.1" width="18.8" height="17.4"/><rect x="438.2" y="1744.2" width="18.8" height="17.4"/><rect x="449" y="1830.5" width="18.8" height="17.4"/><rect x="457.5" y="1823.4" width="18.8" height="17.4"/><rect x="468.8" y="1834.7" width="18.8" height="17.4"/><rect x="475.9" y="1803.6" width="18.8" height="17.4"/><rect x="485.8" y="1800.8" width="18.8" height="17.4"/><rect x="497.1" y="1793.7" width="18.8" height="17.4"/><rect x="504.2" y="1782.4" width="18.8" height="17.4"/><rect x="512.7" y="1772.5" width="18.8" height="17.4"/><rect x="522.6" y="1764" width="18.8" height="17.4"/><rect x="532.5" y="1759.7" width="18.8" height="17.4"/><rect x="543.8" y="1755.5" width="18.8" height="17.4"/><rect x="553.7" y="1762.6" width="18.8" height="17.4"/><rect x="563.6" y="1748.4" width="18.8" height="17.4"/><rect x="573.5" y="1749.8" width="18.8" height="17.4"/><rect x="582" y="1798" width="18.8" height="17.4"/><rect x="591.9" y="1802.2" width="18.8" height="17.4"/><rect x="601.8" y="1689" width="18.8" height="17.4"/><rect x="611.8" y="1718.7" width="18.8" height="17.4"/><rect x="621.7" y="1739.9" width="18.8" height="17.4"/><rect x="631.6" y="1738.5" width="18.8" height="17.4"/><rect x="639.8" y="1707.4" width="18.8" height="17.4"/><rect x="646.9" y="1715.9" width="18.8" height="17.4"/><rect x="655.4" y="1724.4" width="18.8" height="17.4"/><rect x="663.9" y="1722.9" width="18.8" height="17.4"/><rect x="672.4" y="1720.1" width="18.8" height="17.4"/><rect x="682.3" y="1715.9" width="18.8" height="17.4"/><rect x="692.2" y="1711.6" width="18.8" height="17.4"/><rect x="702.1" y="1707.4" width="18.8" height="17.4"/><rect x="710.6" y="1701.7" width="18.8" height="17.4"/><rect x="720.5" y="1696.1" width="18.8" height="17.4"/><rect x="729" y="1690.4" width="18.8" height="17.4"/><rect x="737.5" y="1687.6" width="18.8" height="17.4"/><rect x="746" y="1679.1" width="18.8" height="17.4"/><rect x="757.3" y="1657.8" width="18.8" height="17.4"/><rect x="767.2" y="1639.4" width="18.8" height="17.4"/><rect x="774.3" y="1614" width="18.8" height="17.4"/><rect x="787" y="1570.1" width="18.8" height="17.4"/><rect x="796.9" y="1536.1" width="18.8" height="17.4"/><rect x="804" y="1524.8" width="18.8" height="17.4"/><rect x="813.9" y="1479.5" width="18.8" height="17.4"/><rect x="821" y="1448.4" width="18.8" height="17.4"/><rect x="830.9" y="1434.2" width="18.8" height="17.4"/><rect x="842.2" y="1381.9" width="18.8" height="17.4"/><rect x="853.5" y="1437.1" width="18.8" height="17.4"/><rect x="863.5" y="1318.2" width="18.8" height="17.4"/></g>
</g>
<rect x="480.3" y="1340.3" width="272.1" height="106.7" fill="#000"/>
<rect x="472.3" y="1332.3" width="272.1" height="106.7" fill="#fff" stroke="#777" stroke-width="1.4"/>
<path d="M476 1352.4H496M520.3 1352.4H540.3" stroke="#0000ff" stroke-width="2.2"/>
<g fill="#0000ff"><ellipse cx="508.3" cy="1352.4" rx="9.4" ry="8.7"/></g>
<text x="0" y="0" font-size="28.2" text-anchor="start" fill="#000" stroke="#000" stroke-width="0.45" font-family="'Liberation Sans', Arial, sans-serif" transform="translate(547.3 1362.1) scale(1.0 1)">T = 50 K</text>
<path d="M476 1386.4H496M520.3 1386.4H540.3" stroke="#00ff00" stroke-width="2.2"/>
<g fill="#00ff00"><path d="M508.3 1375l11.9 19.6h-23.8z"/></g>
<text x="0" y="0" font-size="28.2" text-anchor="start" fill="#000" stroke="#000" stroke-width="0.45" font-family="'Liberation Sans', Arial, sans-serif" transform="translate(547.3 1396.1) scale(1.0 1)">T = 50 to 150 K</text>
<path d="M476 1420.4H496M520.3 1420.4H540.3" stroke="#ff0000" stroke-width="2.2"/>
<g fill="#ff0000"><rect x="498.9" y="1411.7" width="18.8" height="17.4"/></g>
<text x="0" y="0" font-size="28.2" text-anchor="start" fill="#000" stroke="#000" stroke-width="0.45" font-family="'Liberation Sans', Arial, sans-serif" transform="translate(547.3 1430.1) scale(1.0 1)">T = 50 to 200 K</text>
<text x="906" y="1737" font-size="30" text-anchor="start" fill="#c00000" font-family="Carlito, 'Liberation Sans', sans-serif">Laser</text>
<path d="M994,1804 993,1803.3 992,1801.4 991,1798.3 990,1794.2 989,1789.3 988,1783.8 987,1778 986,1772.2 985,1766.7 984,1761.8 983,1757.7 982,1754.6 981,1752.7 980,1752 978.5,1752.6 976.9,1754.3 975.4,1757 973.9,1760.7 972.3,1765 970.8,1769.9 969.2,1775 967.7,1780.1 966.2,1785 964.6,1789.3 963.1,1793 961.6,1795.7 960,1797.4 958.5,1798 957,1797.5 955.4,1795.9 953.9,1793.3 952.4,1789.9 950.8,1785.8 949.3,1781.3 947.8,1776.5 946.2,1771.7 944.7,1767.2 943.1,1763.1 941.6,1759.7 940.1,1757.1 938.5,1755.5 937,1755 935.5,1755.5 933.9,1757.1 932.4,1759.6 930.9,1762.9 929.3,1766.9 927.8,1771.3 926.2,1776 924.7,1780.7 923.2,1785.1 921.6,1789.1 920.1,1792.4 918.6,1794.9 917,1796.5 915.5,1797 914,1796.5 912.4,1795.1 910.9,1792.9 909.4,1789.8 907.8,1786.2 906.3,1782.2 904.8,1778 903.2,1773.8 901.7,1769.8 900.1,1766.2 898.6,1763.1 897.1,1760.9 895.5,1759.5 894,1759 893.1,1759.2 892.3,1759.8 891.4,1760.9 890.6,1762.3 889.7,1764.1 888.9,1766.2 888,1768.7 887.1,1771.4 886.3,1774.4 885.4,1777.7 884.6,1781.1 883.7,1784.7 882.9,1788.3 882,1792" fill="none" stroke="#000" stroke-opacity="0.18" stroke-width="3" transform="translate(2.5 3)" filter="url(#blur2)"/>
<path d="M994,1804 993,1803.3 992,1801.4 991,1798.3 990,1794.2 989,1789.3 988,1783.8 987,1778 986,1772.2 985,1766.7 984,1761.8 983,1757.7 982,1754.6 981,1752.7 980,1752 978.5,1752.6 976.9,1754.3 975.4,1757 973.9,1760.7 972.3,1765 970.8,1769.9 969.2,1775 967.7,1780.1 966.2,1785 964.6,1789.3 963.1,1793 961.6,1795.7 960,1797.4 958.5,1798 957,1797.5 955.4,1795.9 953.9,1793.3 952.4,1789.9 950.8,1785.8 949.3,1781.3 947.8,1776.5 946.2,1771.7 944.7,1767.2 943.1,1763.1 941.6,1759.7 940.1,1757.1 938.5,1755.5 937,1755 935.5,1755.5 933.9,1757.1 932.4,1759.6 930.9,1762.9 929.3,1766.9 927.8,1771.3 926.2,1776 924.7,1780.7 923.2,1785.1 921.6,1789.1 920.1,1792.4 918.6,1794.9 917,1796.5 915.5,1797 914,1796.5 912.4,1795.1 910.9,1792.9 909.4,1789.8 907.8,1786.2 906.3,1782.2 904.8,1778 903.2,1773.8 901.7,1769.8 900.1,1766.2 898.6,1763.1 897.1,1760.9 895.5,1759.5 894,1759 893.1,1759.2 892.3,1759.8 891.4,1760.9 890.6,1762.3 889.7,1764.1 888.9,1766.2 888,1768.7 887.1,1771.4 886.3,1774.4 885.4,1777.7 884.6,1781.1 883.7,1784.7 882.9,1788.3 882,1792" fill="none" stroke="#a31515" stroke-width="1.6" stroke-linejoin="round"/>
<path d="M881.5 1793.9L888 1786.2L879.2 1784.2z" fill="#b01010"/>
<rect x="1085.2" y="1301.6" width="579.6" height="549.2" fill="none" stroke="#000" stroke-width="1.8"/>
<path d="M1085.2 1850.8v10M1085.2 1301.6v10M1181.8 1850.8v10M1181.8 1301.6v10M1278.4 1850.8v10M1278.4 1301.6v10M1375 1850.8v10M1375 1301.6v10M1471.6 1850.8v10M1471.6 1301.6v10M1568.2 1850.8v10M1568.2 1301.6v10M1664.8 1850.8v10M1664.8 1301.6v10M1133.5 1850.8v5.5M1133.5 1301.6v5.5M1230.1 1850.8v5.5M1230.1 1301.6v5.5M1326.7 1850.8v5.5M1326.7 1301.6v5.5M1423.3 1850.8v5.5M1423.3 1301.6v5.5M1519.9 1850.8v5.5M1519.9 1301.6v5.5M1616.5 1850.8v5.5M1616.5 1301.6v5.5M1085.2 1850.8h-10M1664.8 1850.8h-10M1085.2 1782.1h-10M1664.8 1782.1h-10M1085.2 1713.5h-10M1664.8 1713.5h-10M1085.2 1644.8h-10M1664.8 1644.8h-10M1085.2 1576.2h-10M1664.8 1576.2h-10M1085.2 1507.5h-10M1664.8 1507.5h-10M1085.2 1438.9h-10M1664.8 1438.9h-10M1085.2 1370.2h-10M1664.8 1370.2h-10M1085.2 1301.6h-10M1664.8 1301.6h-10M1085.2 1816.5h-5.5M1664.8 1816.5h-5.5M1085.2 1747.8h-5.5M1664.8 1747.8h-5.5M1085.2 1679.2h-5.5M1664.8 1679.2h-5.5M1085.2 1610.5h-5.5M1664.8 1610.5h-5.5M1085.2 1541.9h-5.5M1664.8 1541.9h-5.5M1085.2 1473.2h-5.5M1664.8 1473.2h-5.5M1085.2 1404.6h-5.5M1664.8 1404.6h-5.5M1085.2 1335.9h-5.5M1664.8 1335.9h-5.5" stroke="#000" stroke-width="1.8" fill="none"/>
<text x="0" y="0" font-size="25.5" text-anchor="middle" fill="#000" stroke="#000" stroke-width="0.45" font-family="'Liberation Sans', Arial, sans-serif" transform="translate(1085.2 1888.8) scale(1.0 1)">-30</text>
<text x="0" y="0" font-size="25.5" text-anchor="middle" fill="#000" stroke="#000" stroke-width="0.45" font-family="'Liberation Sans', Arial, sans-serif" transform="translate(1181.8 1888.8) scale(1.0 1)">-20</text>
<text x="0" y="0" font-size="25.5" text-anchor="middle" fill="#000" stroke="#000" stroke-width="0.45" font-family="'Liberation Sans', Arial, sans-serif" transform="translate(1278.4 1888.8) scale(1.0 1)">-10</text>
<text x="0" y="0" font-size="25.5" text-anchor="middle" fill="#000" stroke="#000" stroke-width="0.45" font-family="'Liberation Sans', Arial, sans-serif" transform="translate(1375 1888.8) scale(1.0 1)">0</text>
<text x="0" y="0" font-size="25.5" text-anchor="middle" fill="#000" stroke="#000" stroke-width="0.45" font-family="'Liberation Sans', Arial, sans-serif" transform="translate(1471.6 1888.8) scale(1.0 1)">10</text>
<text x="0" y="0" font-size="25.5" text-anchor="middle" fill="#000" stroke="#000" stroke-width="0.45" font-family="'Liberation Sans', Arial, sans-serif" transform="translate(1568.2 1888.8) scale(1.0 1)">20</text>
<text x="0" y="0" font-size="25.5" text-anchor="middle" fill="#000" stroke="#000" stroke-width="0.45" font-family="'Liberation Sans', Arial, sans-serif" transform="translate(1664.8 1888.8) scale(1.0 1)">30</text>
<text x="0" y="0" font-size="25.5" text-anchor="end" fill="#000" stroke="#000" stroke-width="0.45" font-family="'Liberation Sans', Arial, sans-serif" transform="translate(1065.7 1858.7) scale(1.0 1)">20</text>
<text x="0" y="0" font-size="25.5" text-anchor="end" fill="#000" stroke="#000" stroke-width="0.45" font-family="'Liberation Sans', Arial, sans-serif" transform="translate(1065.7 1790) scale(1.0 1)">22</text>
<text x="0" y="0" font-size="25.5" text-anchor="end" fill="#000" stroke="#000" stroke-width="0.45" font-family="'Liberation Sans', Arial, sans-serif" transform="translate(1065.7 1721.4) scale(1.0 1)">24</text>
<text x="0" y="0" font-size="25.5" text-anchor="end" fill="#000" stroke="#000" stroke-width="0.45" font-family="'Liberation Sans', Arial, sans-serif" transform="translate(1065.7 1652.8) scale(1.0 1)">26</text>
<text x="0" y="0" font-size="25.5" text-anchor="end" fill="#000" stroke="#000" stroke-width="0.45" font-family="'Liberation Sans', Arial, sans-serif" transform="translate(1065.7 1584.1) scale(1.0 1)">28</text>
<text x="0" y="0" font-size="25.5" text-anchor="end" fill="#000" stroke="#000" stroke-width="0.45" font-family="'Liberation Sans', Arial, sans-serif" transform="translate(1065.7 1515.5) scale(1.0 1)">30</text>
<text x="0" y="0" font-size="25.5" text-anchor="end" fill="#000" stroke="#000" stroke-width="0.45" font-family="'Liberation Sans', Arial, sans-serif" transform="translate(1065.7 1446.8) scale(1.0 1)">32</text>
<text x="0" y="0" font-size="25.5" text-anchor="end" fill="#000" stroke="#000" stroke-width="0.45" font-family="'Liberation Sans', Arial, sans-serif" transform="translate(1065.7 1378.2) scale(1.0 1)">34</text>
<text x="0" y="0" font-size="25.5" text-anchor="end" fill="#000" stroke="#000" stroke-width="0.45" font-family="'Liberation Sans', Arial, sans-serif" transform="translate(1065.7 1309.5) scale(1.0 1)">36</text>
<text x="0" y="0" font-size="27.5" text-anchor="middle" fill="#000" stroke="#000" stroke-width="0.45" font-family="'Liberation Sans', Arial, sans-serif" transform="translate(1375 1934) scale(1.0 1)">X (nm)</text>
<text x="0" y="0" font-size="27.2" text-anchor="middle" fill="#000" stroke="#000" stroke-width="0.45" font-family="'Liberation Sans', Arial, sans-serif" transform="translate(1022 1572.2) scale(1.0 1) rotate(-90)">Electric field (V/nm)</text>
<path d="M1133,1856 1138,1806 1147.3,1668 1159.2,1657.2 1167.1,1720.3 1177,1447.2 1186.4,1435.1 1199.9,1431.1 1206.6,1417.6 1216.8,1427.7 1222.1,1404.7 1233.6,1402.7 1244.5,1405.4 1253.9,1400 1263.4,1400.7 1272.8,1400 1282.3,1402.7 1291.8,1405.4 1302.6,1401.4 1312,1398.6 1322,1401 1331.2,1406.1 1340.7,1407.6 1350.4,1403 1360.3,1397.5 1370,1394.8 1380.4,1393.4 1390,1397 1399.7,1402 1409.4,1399.1 1419.1,1397.7 1428.8,1397.7 1438.5,1397.7 1448.2,1397.7 1457.9,1398.1 1467.6,1399.1 1477.3,1399.1 1487,1400.5 1496.6,1400.5 1506.5,1401.9 1516.4,1404.7 1532,1413.2 1544.7,1417.5 1549,1435.9 1563.1,1431.6 1574.5,1447.2 1583,1585.9 1591.4,1669.4 1601.3,1738.7 1611.2,1786.8 1618,1856" fill="none" stroke="#0000ff" stroke-width="2" stroke-linejoin="round" clip-path="url(#clipD)"/>
<g clip-path="url(#clipDm)">
<g fill="#0000ff"><ellipse cx="1138" cy="1806" rx="9.4" ry="8.7"/><ellipse cx="1147.3" cy="1668" rx="9.4" ry="8.7"/><ellipse cx="1159.2" cy="1657.2" rx="9.4" ry="8.7"/><ellipse cx="1167.1" cy="1720.3" rx="9.4" ry="8.7"/><ellipse cx="1177" cy="1447.2" rx="9.4" ry="8.7"/><ellipse cx="1186.4" cy="1435.1" rx="9.4" ry="8.7"/><ellipse cx="1199.9" cy="1431.1" rx="9.4" ry="8.7"/><ellipse cx="1206.6" cy="1417.6" rx="9.4" ry="8.7"/><ellipse cx="1216.8" cy="1427.7" rx="9.4" ry="8.7"/><ellipse cx="1222.1" cy="1404.7" rx="9.4" ry="8.7"/><ellipse cx="1233.6" cy="1402.7" rx="9.4" ry="8.7"/><ellipse cx="1244.5" cy="1405.4" rx="9.4" ry="8.7"/><ellipse cx="1253.9" cy="1400" rx="9.4" ry="8.7"/><ellipse cx="1263.4" cy="1400.7" rx="9.4" ry="8.7"/><ellipse cx="1272.8" cy="1400" rx="9.4" ry="8.7"/><ellipse cx="1282.3" cy="1402.7" rx="9.4" ry="8.7"/><ellipse cx="1291.8" cy="1405.4" rx="9.4" ry="8.7"/><ellipse cx="1302.6" cy="1401.4" rx="9.4" ry="8.7"/><ellipse cx="1312" cy="1398.6" rx="9.4" ry="8.7"/><ellipse cx="1322" cy="1401" rx="9.4" ry="8.7"/><ellipse cx="1331.2" cy="1406.1" rx="9.4" ry="8.7"/><ellipse cx="1340.7" cy="1407.6" rx="9.4" ry="8.7"/><ellipse cx="1350.4" cy="1403" rx="9.4" ry="8.7"/><ellipse cx="1360.3" cy="1397.5" rx="9.4" ry="8.7"/><ellipse cx="1370" cy="1394.8" rx="9.4" ry="8.7"/><ellipse cx="1380.4" cy="1393.4" rx="9.4" ry="8.7"/><ellipse cx="1390" cy="1397" rx="9.4" ry="8.7"/><ellipse cx="1399.7" cy="1402" rx="9.4" ry="8.7"/><ellipse cx="1409.4" cy="1399.1" rx="9.4" ry="8.7"/><ellipse cx="1419.1" cy="1397.7" rx="9.4" ry="8.7"/><ellipse cx="1428.8" cy="1397.7" rx="9.4" ry="8.7"/><ellipse cx="1438.5" cy="1397.7" rx="9.4" ry="8.7"/><ellipse cx="1448.2" cy="1397.7" rx="9.4" ry="8.7"/><ellipse cx="1457.9" cy="1398.1" rx="9.4" ry="8.7"/><ellipse cx="1467.6" cy="1399.1" rx="9.4" ry="8.7"/><ellipse cx="1477.3" cy="1399.1" rx="9.4" ry="8.7"/><ellipse cx="1487" cy="1400.5" rx="9.4" ry="8.7"/><ellipse cx="1496.6" cy="1400.5" rx="9.4" ry="8.7"/><ellipse cx="1506.5" cy="1401.9" rx="9.4" ry="8.7"/><ellipse cx="1516.4" cy="1404.7" rx="9.4" ry="8.7"/><ellipse cx="1532" cy="1413.2" rx="9.4" ry="8.7"/><ellipse cx="1544.7" cy="1417.5" rx="9.4" ry="8.7"/><ellipse cx="1549" cy="1435.9" rx="9.4" ry="8.7"/><ellipse cx="1563.1" cy="1431.6" rx="9.4" ry="8.7"/><ellipse cx="1574.5" cy="1447.2" rx="9.4" ry="8.7"/><ellipse cx="1583" cy="1585.9" rx="9.4" ry="8.7"/><ellipse cx="1591.4" cy="1669.4" rx="9.4" ry="8.7"/><ellipse cx="1601.3" cy="1738.7" rx="9.4" ry="8.7"/><ellipse cx="1611.2" cy="1786.8" rx="9.4" ry="8.7"/></g>
</g>
<path d="M1133,1856 1138.2,1801 1145.9,1641 1157.2,1622.7 1167.1,1682.1 1181.2,1384.9 1201.1,1373.4 1217.8,1362.4 1227.4,1356.2 1237.1,1355.2 1246.8,1355.7 1256.6,1357.7 1266.3,1359.6 1276,1362.5 1285.8,1366.4 1296.9,1376.7 1306.5,1372 1316.2,1370 1326,1370.3 1342.6,1384.9 1353.9,1393.4 1368,1399.7 1380.7,1407.7 1393.3,1418.9 1404.6,1427.4 1415.9,1435.9 1427.3,1444.4 1438.6,1454.3 1447.1,1464.2 1455.6,1475.5 1464.1,1484 1472.6,1492.5 1481,1499.5 1492.4,1520.8 1503.7,1532.1 1513.6,1561.8 1524.9,1584.5 1541.9,1629.7 1553.2,1653.8 1568.8,1681.4 1580.1,1752.9 1592.9,1730.2 1602.8,1815.1 1614,1856" fill="none" stroke="#00ff00" stroke-width="2" stroke-linejoin="round" clip-path="url(#clipD)"/>
<g clip-path="url(#clipDm)">
<g fill="#00ff00"><path d="M1138.2 1789.6l11.9 19.6h-23.8z"/><path d="M1145.9 1629.6l11.9 19.6h-23.8z"/><path d="M1157.2 1611.3l11.9 19.6h-23.8z"/><path d="M1167.1 1670.7l11.9 19.6h-23.8z"/><path d="M1181.2 1373.5l11.9 19.6h-23.8z"/><path d="M1201.1 1362l11.9 19.6h-23.8z"/><path d="M1217.8 1351l11.9 19.6h-23.8z"/><path d="M1227.4 1344.8l11.9 19.6h-23.8z"/><path d="M1237.1 1343.8l11.9 19.6h-23.8z"/><path d="M1246.8 1344.3l11.9 19.6h-23.8z"/><path d="M1256.6 1346.3l11.9 19.6h-23.8z"/><path d="M1266.3 1348.2l11.9 19.6h-23.8z"/><path d="M1276 1351.1l11.9 19.6h-23.8z"/><path d="M1285.8 1355l11.9 19.6h-23.8z"/><path d="M1296.9 1365.3l11.9 19.6h-23.8z"/><path d="M1306.5 1360.6l11.9 19.6h-23.8z"/><path d="M1316.2 1358.6l11.9 19.6h-23.8z"/><path d="M1326 1358.9l11.9 19.6h-23.8z"/><path d="M1342.6 1373.5l11.9 19.6h-23.8z"/><path d="M1353.9 1382l11.9 19.6h-23.8z"/><path d="M1368 1388.3l11.9 19.6h-23.8z"/><path d="M1380.7 1396.2l11.9 19.6h-23.8z"/><path d="M1393.3 1407.5l11.9 19.6h-23.8z"/><path d="M1404.6 1416l11.9 19.6h-23.8z"/><path d="M1415.9 1424.5l11.9 19.6h-23.8z"/><path d="M1427.3 1433l11.9 19.6h-23.8z"/><path d="M1438.6 1442.9l11.9 19.6h-23.8z"/><path d="M1447.1 1452.8l11.9 19.6h-23.8z"/><path d="M1455.6 1464.1l11.9 19.6h-23.8z"/><path d="M1464.1 1472.6l11.9 19.6h-23.8z"/><path d="M1472.6 1481.1l11.9 19.6h-23.8z"/><path d="M1481 1488.1l11.9 19.6h-23.8z"/><path d="M1492.4 1509.4l11.9 19.6h-23.8z"/><path d="M1503.7 1520.7l11.9 19.6h-23.8z"/><path d="M1513.6 1550.4l11.9 19.6h-23.8z"/><path d="M1524.9 1573.1l11.9 19.6h-23.8z"/><path d="M1541.9 1618.3l11.9 19.6h-23.8z"/><path d="M1553.2 1642.4l11.9 19.6h-23.8z"/><path d="M1568.8 1670l11.9 19.6h-23.8z"/><path d="M1580.1 1741.5l11.9 19.6h-23.8z"/><path d="M1592.9 1718.8l11.9 19.6h-23.8z"/><path d="M1602.8 1803.7l11.9 19.6h-23.8z"/></g>
</g>
<path d="M1133,1856 1138.2,1812.3 1147.3,1663.7 1157.7,1575.1 1167.6,1772.7 1182,1369.4 1198.2,1355.7 1206,1335.5 1214.7,1344.7 1228.2,1332.4 1244.7,1338.7 1254.4,1341.6 1263.2,1346 1273.4,1348.9 1283.1,1353.3 1292.9,1361.1 1302.6,1365 1310.9,1373.7 1321,1378 1331.2,1382.1 1341.2,1384.9 1351.1,1390.6 1361,1397.7 1369.5,1407.6 1378.5,1420.3 1387.6,1431.5 1397.6,1442.9 1407.5,1454.3 1417.4,1467 1427.3,1478.3 1438.6,1496.7 1448.5,1510.9 1458.4,1523.6 1465.5,1536.3 1475.4,1561.8 1486.7,1587.3 1496.6,1600 1503.7,1636.8 1516.4,1679.3 1526.3,1704.8 1533.4,1726 1543.3,1752.9 1550.4,1781.2 1561.7,1812.3 1570.2,1839.2" fill="none" stroke="#ff0000" stroke-width="2" stroke-linejoin="round" clip-path="url(#clipD)"/>
<g clip-path="url(#clipDm)">
<g fill="#ff0000"><rect x="1128.8" y="1803.6" width="18.8" height="17.4"/><rect x="1137.9" y="1655" width="18.8" height="17.4"/><rect x="1148.3" y="1566.4" width="18.8" height="17.4"/><rect x="1158.2" y="1764" width="18.8" height="17.4"/><rect x="1172.6" y="1360.7" width="18.8" height="17.4"/><rect x="1188.8" y="1347" width="18.8" height="17.4"/><rect x="1196.6" y="1326.8" width="18.8" height="17.4"/><rect x="1205.3" y="1336" width="18.8" height="17.4"/><rect x="1218.8" y="1323.7" width="18.8" height="17.4"/><rect x="1235.3" y="1330" width="18.8" height="17.4"/><rect x="1245" y="1332.9" width="18.8" height="17.4"/><rect x="1253.8" y="1337.3" width="18.8" height="17.4"/><rect x="1264" y="1340.2" width="18.8" height="17.4"/><rect x="1273.7" y="1344.6" width="18.8" height="17.4"/><rect x="1283.5" y="1352.4" width="18.8" height="17.4"/><rect x="1293.2" y="1356.3" width="18.8" height="17.4"/><rect x="1301.5" y="1365" width="18.8" height="17.4"/><rect x="1311.6" y="1369.3" width="18.8" height="17.4"/><rect x="1321.8" y="1373.4" width="18.8" height="17.4"/><rect x="1331.8" y="1376.2" width="18.8" height="17.4"/><rect x="1341.7" y="1381.9" width="18.8" height="17.4"/><rect x="1351.6" y="1389" width="18.8" height="17.4"/><rect x="1360.1" y="1398.9" width="18.8" height="17.4"/><rect x="1369.1" y="1411.6" width="18.8" height="17.4"/><rect x="1378.2" y="1422.8" width="18.8" height="17.4"/><rect x="1388.2" y="1434.2" width="18.8" height="17.4"/><rect x="1398.1" y="1445.6" width="18.8" height="17.4"/><rect x="1408" y="1458.3" width="18.8" height="17.4"/><rect x="1417.9" y="1469.6" width="18.8" height="17.4"/><rect x="1429.2" y="1488" width="18.8" height="17.4"/><rect x="1439.1" y="1502.2" width="18.8" height="17.4"/><rect x="1449" y="1514.9" width="18.8" height="17.4"/><rect x="1456.1" y="1527.6" width="18.8" height="17.4"/><rect x="1466" y="1553.1" width="18.8" height="17.4"/><rect x="1477.3" y="1578.6" width="18.8" height="17.4"/><rect x="1487.2" y="1591.3" width="18.8" height="17.4"/><rect x="1494.3" y="1628.1" width="18.8" height="17.4"/><rect x="1507" y="1670.6" width="18.8" height="17.4"/><rect x="1516.9" y="1696.1" width="18.8" height="17.4"/><rect x="1524" y="1717.3" width="18.8" height="17.4"/><rect x="1533.9" y="1744.2" width="18.8" height="17.4"/><rect x="1541" y="1772.5" width="18.8" height="17.4"/><rect x="1552.3" y="1803.6" width="18.8" height="17.4"/><rect x="1560.8" y="1830.5" width="18.8" height="17.4"/></g>
</g>
<rect x="1210.3" y="1722.5" width="271.5" height="106.3" fill="#000"/>
<rect x="1202.3" y="1714.5" width="271.5" height="106.3" fill="#fff" stroke="#777" stroke-width="1.4"/>
<path d="M1206 1733H1226M1250.3 1733H1270.3" stroke="#0000ff" stroke-width="2.2"/>
<g fill="#0000ff"><ellipse cx="1238.3" cy="1733" rx="9.4" ry="8.7"/></g>
<text x="0" y="0" font-size="28.2" text-anchor="start" fill="#000" stroke="#000" stroke-width="0.45" font-family="'Liberation Sans', Arial, sans-serif" transform="translate(1277.3 1742.7) scale(1.0 1)">T = 50 K</text>
<path d="M1206 1767.2H1226M1250.3 1767.2H1270.3" stroke="#00ff00" stroke-width="2.2"/>
<g fill="#00ff00"><path d="M1238.3 1755.8l11.9 19.6h-23.8z"/></g>
<text x="0" y="0" font-size="28.2" text-anchor="start" fill="#000" stroke="#000" stroke-width="0.45" font-family="'Liberation Sans', Arial, sans-serif" transform="translate(1277.3 1776.9) scale(1.0 1)">T = 50 to 150 K</text>
<path d="M1206 1801.4H1226M1250.3 1801.4H1270.3" stroke="#ff0000" stroke-width="2.2"/>
<g fill="#ff0000"><rect x="1228.9" y="1792.7" width="18.8" height="17.4"/></g>
<text x="0" y="0" font-size="28.2" text-anchor="start" fill="#000" stroke="#000" stroke-width="0.45" font-family="'Liberation Sans', Arial, sans-serif" transform="translate(1277.3 1811.1) scale(1.0 1)">T = 50 to 200 K</text>
<text x="1554" y="1339" font-size="30" text-anchor="start" fill="#c00000" font-family="Carlito, 'Liberation Sans', sans-serif">Laser</text>
<path d="M1642,1406 1640.9,1405.3 1639.7,1403.3 1638.6,1400.1 1637.4,1395.8 1636.3,1390.7 1635.1,1385 1634,1379 1632.9,1373 1631.7,1367.3 1630.6,1362.2 1629.4,1357.9 1628.3,1354.7 1627.1,1352.7 1626,1352 1624.5,1352.6 1623,1354.4 1621.5,1357.2 1620,1361 1618.5,1365.6 1617,1370.7 1615.5,1376 1614,1381.3 1612.5,1386.4 1611,1391 1609.5,1394.8 1608,1397.6 1606.5,1399.4 1605,1400 1603.5,1399.4 1602,1397.8 1600.5,1395.2 1599,1391.7 1597.5,1387.5 1596,1382.9 1594.5,1378 1593,1373.1 1591.5,1368.5 1590,1364.3 1588.5,1360.8 1587,1358.2 1585.5,1356.6 1584,1356 1582.6,1356.5 1581.1,1358 1579.7,1360.4 1578.3,1363.5 1576.9,1367.3 1575.4,1371.5 1574,1376 1572.6,1380.5 1571.1,1384.7 1569.7,1388.5 1568.3,1391.6 1566.9,1394 1565.4,1395.5 1564,1396 1562.6,1395.5 1561.1,1394.1 1559.7,1391.9 1558.3,1388.8 1556.9,1385.2 1555.4,1381.2 1554,1377 1552.6,1372.8 1551.1,1368.8 1549.7,1365.2 1548.3,1362.1 1546.9,1359.9 1545.4,1358.5 1544,1358 1542.9,1358.2 1541.7,1359 1540.6,1360.1 1539.4,1361.8 1538.3,1363.8 1537.1,1366.3 1536,1369.1 1534.9,1372.3 1533.7,1375.8 1532.6,1379.5 1531.4,1383.4 1530.3,1387.5 1529.1,1391.7 1528,1396" fill="none" stroke="#000" stroke-opacity="0.18" stroke-width="3" transform="translate(2.5 3)" filter="url(#blur2)"/>
<path d="M1642,1406 1640.9,1405.3 1639.7,1403.3 1638.6,1400.1 1637.4,1395.8 1636.3,1390.7 1635.1,1385 1634,1379 1632.9,1373 1631.7,1367.3 1630.6,1362.2 1629.4,1357.9 1628.3,1354.7 1627.1,1352.7 1626,1352 1624.5,1352.6 1623,1354.4 1621.5,1357.2 1620,1361 1618.5,1365.6 1617,1370.7 1615.5,1376 1614,1381.3 1612.5,1386.4 1611,1391 1609.5,1394.8 1608,1397.6 1606.5,1399.4 1605,1400 1603.5,1399.4 1602,1397.8 1600.5,1395.2 1599,1391.7 1597.5,1387.5 1596,1382.9 1594.5,1378 1593,1373.1 1591.5,1368.5 1590,1364.3 1588.5,1360.8 1587,1358.2 1585.5,1356.6 1584,1356 1582.6,1356.5 1581.1,1358 1579.7,1360.4 1578.3,1363.5 1576.9,1367.3 1575.4,1371.5 1574,1376 1572.6,1380.5 1571.1,1384.7 1569.7,1388.5 1568.3,1391.6 1566.9,1394 1565.4,1395.5 1564,1396 1562.6,1395.5 1561.1,1394.1 1559.7,1391.9 1558.3,1388.8 1556.9,1385.2 1555.4,1381.2 1554,1377 1552.6,1372.8 1551.1,1368.8 1549.7,1365.2 1548.3,1362.1 1546.9,1359.9 1545.4,1358.5 1544,1358 1542.9,1358.2 1541.7,1359 1540.6,1360.1 1539.4,1361.8 1538.3,1363.8 1537.1,1366.3 1536,1369.1 1534.9,1372.3 1533.7,1375.8 1532.6,1379.5 1531.4,1383.4 1530.3,1387.5 1529.1,1391.7 1528,1396" fill="none" stroke="#a31515" stroke-width="1.6" stroke-linejoin="round"/>
<path d="M1527.5 1397.9L1534.2 1390.4L1525.5 1388.1z" fill="#b01010"/>
<text x="415" y="624" font-size="30" text-anchor="start" fill="#c00000" font-family="Carlito, 'Liberation Sans', sans-serif">Laser</text>
<path d="M502.7,690.6 501.7,689.9 500.7,688 499.7,684.9 498.7,680.8 497.7,675.9 496.7,670.4 495.6,664.6 494.6,658.8 493.6,653.3 492.6,648.4 491.6,644.3 490.6,641.2 489.6,639.3 488.6,638.6 487,639.2 485.4,640.9 483.8,643.7 482.2,647.4 480.6,651.9 479,656.9 477.5,662.1 475.9,667.3 474.3,672.3 472.7,676.8 471.1,680.5 469.5,683.3 467.9,685 466.3,685.6 464.7,685 463.1,683.4 461.5,680.8 459.9,677.3 458.3,673.1 456.7,668.4 455.1,663.5 453.6,658.5 452,653.8 450.4,649.6 448.8,646.1 447.2,643.5 445.6,641.9 444,641.3 442.6,641.8 441.2,643.3 439.9,645.8 438.5,649 437.1,652.9 435.8,657.2 434.4,661.8 433,666.3 431.6,670.6 430.2,674.5 428.9,677.7 427.5,680.2 426.1,681.7 424.8,682.2 423.4,681.7 422,680.3 420.6,678 419.2,675 417.9,671.3 416.5,667.2 415.1,663 413.8,658.7 412.4,654.6 411,650.9 409.6,647.9 408.2,645.6 406.9,644.2 405.5,643.7 404.4,643.9 403.3,644.6 402.3,645.7 401.2,647.2 400.1,649.1 399,651.4 397.9,654 396.9,657 395.8,660.2 394.7,663.6 393.6,667.3 392.6,671.1 391.5,675 390.4,678.9" fill="none" stroke="#000" stroke-opacity="0.18" stroke-width="3" transform="translate(2.5 3)" filter="url(#blur2)"/>
<path d="M502.7,690.6 501.7,689.9 500.7,688 499.7,684.9 498.7,680.8 497.7,675.9 496.7,670.4 495.6,664.6 494.6,658.8 493.6,653.3 492.6,648.4 491.6,644.3 490.6,641.2 489.6,639.3 488.6,638.6 487,639.2 485.4,640.9 483.8,643.7 482.2,647.4 480.6,651.9 479,656.9 477.5,662.1 475.9,667.3 474.3,672.3 472.7,676.8 471.1,680.5 469.5,683.3 467.9,685 466.3,685.6 464.7,685 463.1,683.4 461.5,680.8 459.9,677.3 458.3,673.1 456.7,668.4 455.1,663.5 453.6,658.5 452,653.8 450.4,649.6 448.8,646.1 447.2,643.5 445.6,641.9 444,641.3 442.6,641.8 441.2,643.3 439.9,645.8 438.5,649 437.1,652.9 435.8,657.2 434.4,661.8 433,666.3 431.6,670.6 430.2,674.5 428.9,677.7 427.5,680.2 426.1,681.7 424.8,682.2 423.4,681.7 422,680.3 420.6,678 419.2,675 417.9,671.3 416.5,667.2 415.1,663 413.8,658.7 412.4,654.6 411,650.9 409.6,647.9 408.2,645.6 406.9,644.2 405.5,643.7 404.4,643.9 403.3,644.6 402.3,645.7 401.2,647.2 400.1,649.1 399,651.4 397.9,654 396.9,657 395.8,660.2 394.7,663.6 393.6,667.3 392.6,671.1 391.5,675 390.4,678.9" fill="none" stroke="#a31515" stroke-width="1.6" stroke-linejoin="round"/>
<path d="M389.9 680.8L396.6 673.3L387.9 671z" fill="#b01010"/>
</svg></body></html>
